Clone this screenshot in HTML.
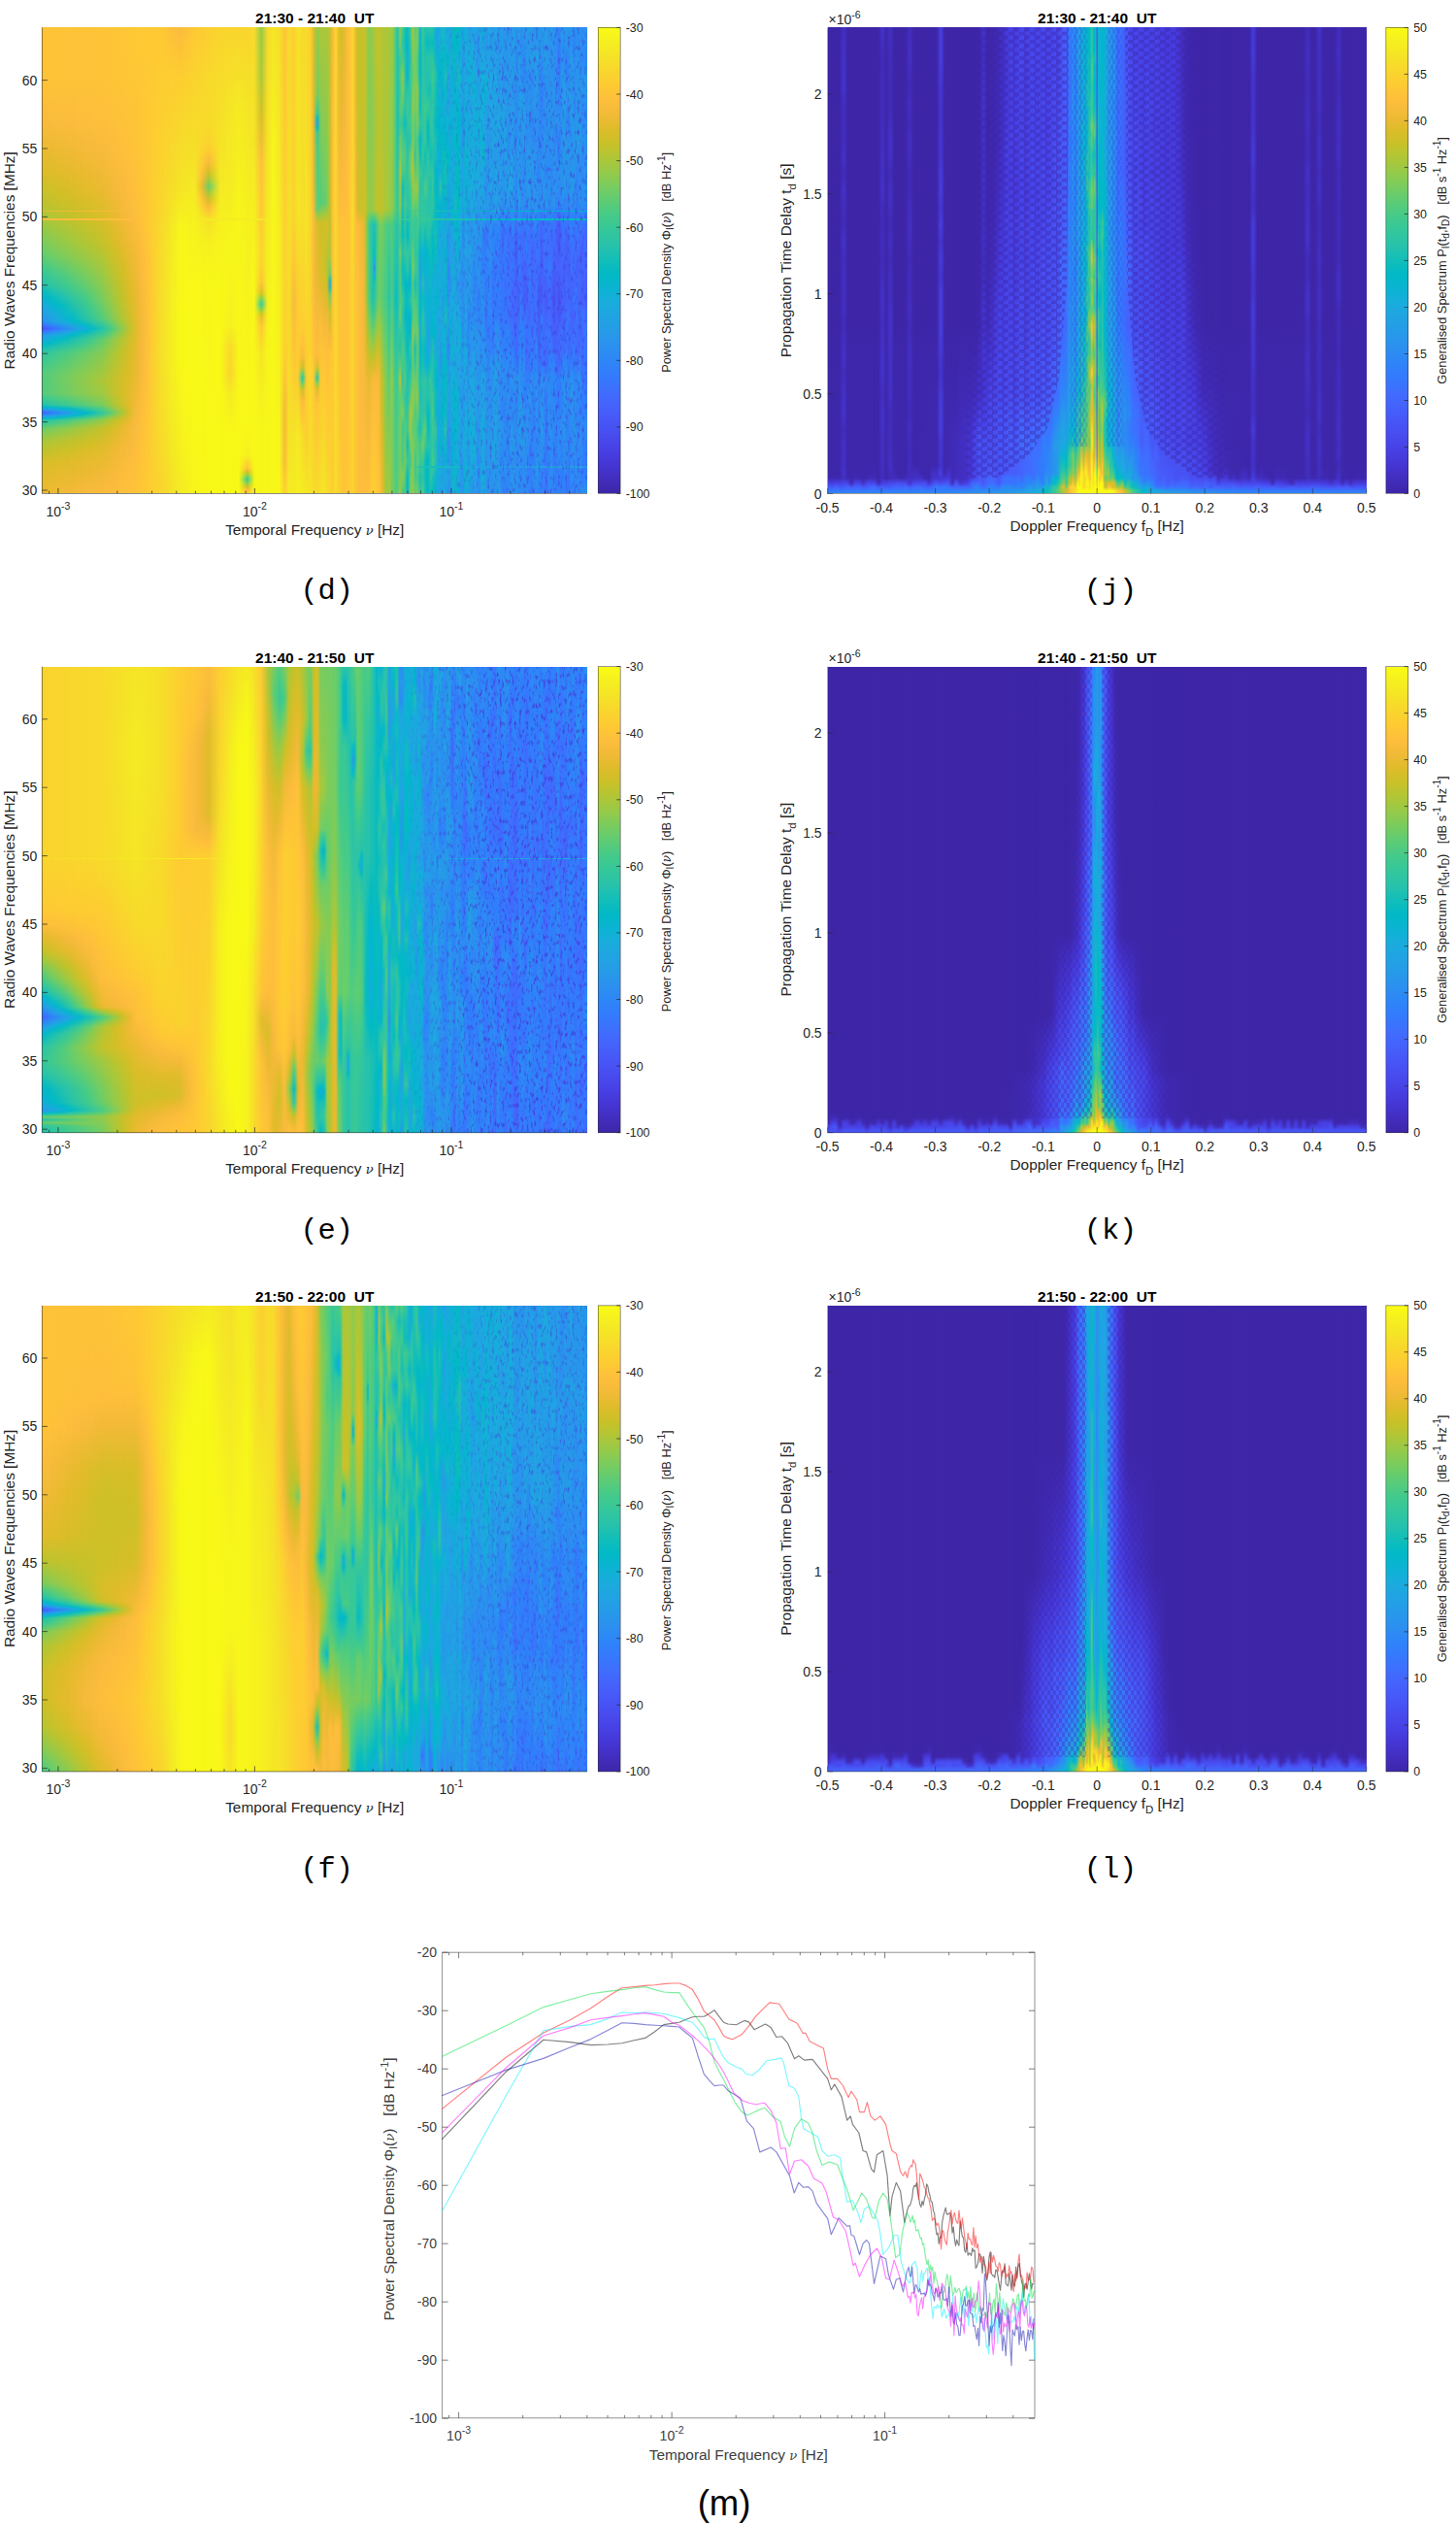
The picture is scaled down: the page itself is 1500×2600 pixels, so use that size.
<!DOCTYPE html>
<html><head><meta charset="utf-8"><title>Figure</title><style>
html,body{margin:0;padding:0;background:#fff}
#pg{position:relative;width:1500px;height:2600px;overflow:hidden;background:#fff;font-family:"Liberation Sans",sans-serif}
#pg svg.ov{position:absolute;left:0;top:0}
.hm{position:absolute;overflow:hidden}
.hm i{position:absolute;top:0;height:100%;display:block;background:linear-gradient(var(--g));-webkit-mask-image:linear-gradient(to right,transparent,#000 var(--p));mask-image:linear-gradient(to right,transparent,#000 var(--p))}
.hm b{position:absolute;display:block}
.cb{position:absolute}
svg.ov{font-family:"Liberation Sans",sans-serif}
</style></head><body>
<div id="pg">
<div class="hm" style="left:43.4px;top:28.4px;width:561.6px;height:480.1px"><i style="left:0.0px;width:8.7px;--p:0%;--g:#fec338 0%,#fec338 11.3%,#f9bb3d 20.1%,#eaba31 26%,#d8be28 31.8%,#bdc32e 37.7%,#abc739 40.6%,#92ca4b 43.5%,#78cc5f 46.5%,#5fcd73 49.4%,#3bc993 52.3%,#26c2ac 55.3%,#07bcbf 56.7%,#09b4d1 58.2%,#1caadf 59.7%,#249ee6 61.4%,#2b90ef 63.2%,#2f82fa 63.6%,#3c72ff 63.9%,#4562fc 64.3%,#4852f4 64.7%,#4464fd 65%,#3677fe 65.4%,#2d89f5 65.8%,#2699e9 66.1%,#1ea7e1 66.9%,#0cb3d3 67.7%,#07bcbf 68.5%,#22c1b0 69.2%,#32c69f 69.9%,#3eca8f 72.1%,#53cc7d 74.3%,#53cc7d 78.7%,#37c897 79.9%,#26c2ac 81.1%,#04bbc2 81.3%,#10b2d5 81.6%,#20a5e2 81.8%,#2796eb 82.1%,#2e86f7 82.3%,#3a74fe 82.5%,#4562fc 82.8%,#3a74fe 83%,#2e86f7 83.2%,#2796eb 83.4%,#20a5e2 83.7%,#10b2d5 83.9%,#04bbc2 84.1%,#26c2ac 84.3%,#35c79a 84.9%,#4bcb83 85.5%,#6bcd69 86.1%,#8ccb50 87.5%,#abc739 89%,#c3c22b 91.2%,#d8be28 93.4%,#eaba31 99.3%,#eaba31 100%"></i><i style="left:0.5px;width:15.8px;--p:48%;--g:#fec338 0%,#fec338 11.3%,#fabb3d 20.1%,#ecba32 26%,#dbbd29 31.8%,#cfc028 34.8%,#c2c22c 37.7%,#b1c635 40.6%,#9ac945 43.5%,#82cc58 46.5%,#68cd6b 49.4%,#44ca8a 52.3%,#2ec5a3 55.3%,#19bfb5 56.7%,#01b9c6 58.2%,#10b2d5 59.7%,#1ca9df 61.1%,#23a0e5 62.6%,#259be8 63.2%,#2d8af4 63.7%,#3678fe 64.2%,#4563fd 64.7%,#3975fe 65%,#2e86f7 65.4%,#2895ec 65.8%,#21a3e4 66.1%,#13b0d7 67%,#01b9c8 67.7%,#17bfb6 68.5%,#2bc3a8 69.2%,#37c897 69.9%,#5ccc76 74.3%,#5dcc75 75.8%,#5ccc76 78.7%,#3eca8f 79.9%,#2ec4a5 81.1%,#0bbdbc 81.4%,#0ab4d2 81.7%,#1ea7e1 81.9%,#2797ea 82.2%,#2e86f7 82.5%,#3a73fe 82.8%,#2e87f7 83%,#2798ea 83.3%,#1ea7e1 83.6%,#09b4d1 83.8%,#0ebdbb 84.1%,#2fc5a3 84.3%,#49cb85 85.2%,#76cc61 86.1%,#94ca4a 87.5%,#b1c635 89%,#c0c32d 90.5%,#dabd28 93.4%,#e4bb2c 96.3%,#ecba32 99.3%,#ecba32 100%"></i><i style="left:8.1px;width:15.8px;--p:48%;--g:#fec338 0%,#fec338 11.3%,#fbbc3d 20.1%,#eeba34 26%,#debc2a 31.8%,#d3bf27 34.8%,#c7c12a 37.7%,#b7c532 40.6%,#a2c83f 43.5%,#8ccb50 46.5%,#73cd63 49.4%,#4fcc81 52.3%,#35c79a 55.3%,#28c2ab 56.7%,#0fbebb 58.2%,#01b8ca 59.7%,#10b2d5 61.1%,#1caadf 62.6%,#1fa5e2 63.2%,#2797eb 63.7%,#2d87f6 64.2%,#3876fe 64.7%,#2d8af5 65.2%,#259be7 65.6%,#1aabdd 66.1%,#03b7cc 67%,#0abdbd 67.7%,#25c2ad 68.5%,#32c69f 69.2%,#3eca8f 69.9%,#65cd6e 74.3%,#68cd6c 75.8%,#64cd6e 78.7%,#47cb87 79.9%,#33c79d 81.1%,#15bfb7 81.4%,#06b5cf 81.8%,#1ea8e0 82.1%,#2797eb 82.4%,#2e84f8 82.8%,#2994ed 83%,#21a3e3 83.3%,#14b0d8 83.6%,#01bac5 83.8%,#21c1b0 84.1%,#36c899 84.3%,#56cc7b 85.2%,#82cc58 86.1%,#9dc943 87.5%,#b7c532 89%,#c6c22a 90.5%,#ddbd29 93.4%,#e6bb2d 96.3%,#eeba34 99.3%,#eeba34 100%"></i><i style="left:15.7px;width:15.8px;--p:48%;--g:#fec338 0%,#fec338 11.3%,#fbbc3d 20.1%,#f0ba36 26%,#e1bc2b 31.8%,#d7be28 34.8%,#ccc028 37.7%,#bdc32e 40.6%,#aac73a 43.5%,#95ca49 46.5%,#7ecc5b 49.4%,#5bcc77 52.3%,#3eca8f 55.3%,#31c6a0 56.7%,#23c1af 58.2%,#0abdbd 59.7%,#0db3d3 62.6%,#16afda 63.2%,#21a3e3 63.7%,#2896ec 64.2%,#2d87f6 64.7%,#2798ea 65.2%,#1fa6e1 65.6%,#0db3d3 66.1%,#06bcc0 67%,#1ec0b2 67.7%,#2ec5a3 68.5%,#48cb86 69.9%,#6fcd66 74.3%,#73cd63 75.8%,#6ecd67 78.7%,#51cc7f 79.9%,#3ac994 81.1%,#25c2ad 81.4%,#02bac3 81.8%,#13b0d7 82.1%,#21a3e3 82.4%,#2994ed 82.8%,#21a4e3 83.1%,#11b1d6 83.4%,#05bbc1 83.7%,#29c3a9 84%,#3fca8e 84.3%,#63cd70 85.2%,#8dcb4f 86.1%,#bdc32e 89%,#cbc129 90.5%,#dfbc2a 93.4%,#e8bb2f 96.3%,#f0ba36 99.3%,#f0ba36 100%"></i><i style="left:23.3px;width:15.8px;--p:48%;--g:#fec338 0%,#fec338 11.3%,#fcbc3d 20.1%,#f2ba38 26%,#e4bb2c 31.8%,#dbbd29 34.8%,#d0bf27 37.7%,#c3c22b 40.6%,#b1c635 43.5%,#9fc942 46.5%,#88cb53 49.4%,#68cd6c 52.3%,#4acb84 55.3%,#2fc5a2 58.2%,#22c1b0 59.7%,#01bac5 62.6%,#04b6cd 63.2%,#18addb 63.7%,#21a3e3 64.2%,#2797eb 64.7%,#20a4e3 65.2%,#14b0d8 65.6%,#01b9c7 66.1%,#1cc0b4 67%,#36c899 68.5%,#53cc7d 69.9%,#79cc5e 74.3%,#7ecc5a 75.8%,#78cc5f 78.7%,#5ccc76 79.9%,#43ca8b 81.1%,#2bc3a8 81.5%,#05bbc1 81.9%,#12b1d7 82.4%,#22a2e4 82.8%,#16afd9 83.1%,#01b9c8 83.4%,#1cc0b3 83.7%,#33c69d 84%,#4dcc82 84.3%,#71cd64 85.2%,#98c946 86.1%,#c3c22b 89%,#cfc028 90.5%,#e1bc2b 93.4%,#eaba31 96.3%,#f2ba38 99.3%,#f2ba38 100%"></i><i style="left:30.9px;width:15.8px;--p:48%;--g:#fec338 0%,#fec338 11.3%,#fcbd3d 20.1%,#f4ba39 26%,#e7bb2e 31.8%,#dfbc2a 34.8%,#d5be28 37.7%,#c8c129 40.6%,#b9c431 43.5%,#a8c73b 46.5%,#93ca4b 49.4%,#75cc61 52.3%,#59cc78 55.3%,#3ac994 58.2%,#30c5a1 59.7%,#18bfb6 62.6%,#08bcbf 63.2%,#0db3d4 63.9%,#1fa6e2 64.7%,#0ab4d1 65.4%,#10beba 66.1%,#2cc4a6 67%,#40ca8d 68.5%,#5fcd73 69.9%,#84cc56 74.3%,#8acb52 75.8%,#82cc58 78.7%,#67cd6d 79.9%,#4fcc81 81.1%,#33c79c 81.5%,#1cc0b3 81.9%,#01b9c8 82.4%,#16afda 82.8%,#01b9c6 83.2%,#23c1af 83.6%,#39c895 83.9%,#5dcc75 84.3%,#80cc59 85.2%,#a4c83e 86.1%,#c8c129 89%,#d4bf28 90.5%,#e4bb2c 93.4%,#ecba32 96.3%,#f4ba39 99.3%,#f4ba39 100%"></i><i style="left:38.6px;width:15.8px;--p:48%;--g:#fec338 0%,#fec338 11.3%,#fdbd3d 20.1%,#f6ba3b 26%,#eaba31 31.8%,#e3bc2c 34.8%,#d9be28 37.7%,#cec028 40.6%,#c0c32d 43.5%,#b1c635 46.5%,#9dc943 49.4%,#83cc57 52.3%,#69cd6b 55.3%,#4acb84 58.2%,#3cc991 59.7%,#2dc4a6 62.6%,#22c1b0 63.2%,#02bbc3 63.9%,#0fb2d5 64.7%,#04bbc1 65.4%,#26c2ac 66.1%,#37c898 67%,#4fcc81 68.5%,#6bcd69 69.9%,#8ecb4f 74.3%,#95ca49 75.8%,#8ccb50 78.7%,#5ccc76 81.1%,#37c897 81.7%,#20c1b1 82.2%,#01b8c8 82.8%,#1ac0b5 83.2%,#31c69f 83.6%,#49cb86 83.9%,#6ecd67 84.3%,#8fcb4e 85.2%,#aec637 86.1%,#cec028 89%,#d9be28 90.5%,#e6bb2d 93.4%,#eeba34 96.3%,#f6ba3b 99.3%,#f6ba3b 100%"></i><i style="left:46.2px;width:15.8px;--p:48%;--g:#fec338 0%,#fec338 11.3%,#febe3c 20.1%,#f8ba3d 26%,#edba33 31.8%,#e7bb2e 34.8%,#ddbd29 37.7%,#d3bf27 40.6%,#c7c12a 43.5%,#bac430 46.5%,#a7c73c 49.4%,#91ca4c 52.3%,#7acc5d 55.3%,#60cd72 58.2%,#52cc7e 59.7%,#3bc993 62.6%,#31c69f 63.2%,#20c1b1 63.9%,#04bbc2 64.7%,#21c1b0 65.4%,#33c69d 66.1%,#48cb86 67%,#5fcd73 68.5%,#78cc5f 69.9%,#98c947 74.3%,#a0c841 75.8%,#95ca49 78.7%,#69cd6b 81.1%,#46cb88 81.7%,#31c6a0 82.2%,#1bc0b4 82.8%,#34c79c 83.3%,#53cc7d 83.8%,#80cc59 84.3%,#9dc943 85.2%,#b9c431 86.1%,#d3bf27 89%,#ddbd29 90.5%,#e8bb2f 93.4%,#f0ba36 96.3%,#f8ba3d 99.3%,#f8ba3d 100%"></i><i style="left:53.8px;width:15.4px;--p:50%;--g:#fec338 0%,#fec338 11.3%,#febe3c 20.1%,#f9bb3d 26%,#eaba31 34.8%,#d8be28 40.6%,#c3c22b 46.5%,#9fc942 52.3%,#78cc5f 58.2%,#53cc7d 62.6%,#37c897 63.6%,#26c2ac 64.7%,#3bc993 65.8%,#5fcd73 67%,#85cb55 69.9%,#abc739 75.8%,#9fc942 78.7%,#78cc5f 81.1%,#4dcc82 81.9%,#32c69f 82.8%,#48cb86 83.3%,#6bcd69 83.8%,#92ca4b 84.3%,#abc739 85.2%,#c3c22b 86.1%,#e1bc2b 90.5%,#f2ba38 96.3%,#f9bb3d 99.3%,#f9bb3d 100%"></i><i style="left:61.4px;width:14.9px;--p:48%;--g:#fec437 0%,#fec438 11.3%,#febf3b 20.1%,#fbbc3d 26%,#f0ba36 34.8%,#e1bc2b 40.6%,#cfc028 46.5%,#c1c32d 49.4%,#b2c635 52.3%,#92ca4c 58.2%,#70cd65 62.6%,#48cb86 64.1%,#3bc992 64.7%,#58cc79 65.8%,#7bcc5d 67%,#9bc944 69.9%,#bac430 75.8%,#b2c635 78.7%,#95ca49 81.1%,#71cd64 81.9%,#50cc80 82.8%,#7ccc5c 83.6%,#abc739 84.3%,#b2c635 84.6%,#d0bf27 86.1%,#e8bb2f 90.5%,#f6ba3b 96.3%,#fbbc3d 99.3%,#fbbc3d 100%"></i><i style="left:68.6px;width:14.9px;--p:48%;--g:#fec537 0%,#fec537 11.3%,#fec13a 20.1%,#fdbd3d 26%,#f5ba3a 34.8%,#eaba31 40.6%,#dabd28 46.5%,#cfc028 49.4%,#c3c22b 52.3%,#aac739 58.2%,#91ca4d 62.6%,#6ecd67 64.1%,#61cd71 64.7%,#7ccc5c 65.8%,#98c946 67%,#b0c636 69.9%,#c7c12a 75.8%,#c4c22b 78.7%,#b1c635 81.1%,#98c947 81.9%,#7dcc5b 82.8%,#a1c840 83.6%,#c2c22b 84.3%,#c7c12a 84.6%,#dcbd29 86.1%,#eeba34 90.5%,#f9bb3d 96.3%,#fdbd3d 99.3%,#fdbd3d 100%"></i><i style="left:75.7px;width:14.9px;--p:48%;--g:#fec736 0%,#fec537 11.3%,#fec239 20.1%,#febf3b 26%,#f9bb3d 34.8%,#f2ba38 40.6%,#e5bb2d 46.5%,#dcbd29 49.4%,#d3bf27 52.3%,#c1c32c 58.2%,#afc636 62.6%,#98c947 64.1%,#90ca4d 64.7%,#b4c533 67%,#c4c22b 69.9%,#d4bf28 75.8%,#d4bf28 78.7%,#cbc129 81.1%,#adc638 82.8%,#d7be28 84.3%,#dabd28 84.6%,#e8bb2e 86.1%,#f4ba3a 90.5%,#fcbd3d 96.3%,#febf3b 99.3%,#febf3b 100%"></i><i style="left:82.8px;width:14.9px;--p:48%;--g:#fec835 0%,#fec636 11.3%,#fec338 20.1%,#fec13a 26%,#fdbd3d 34.8%,#f9bb3d 40.6%,#eeba35 46.5%,#e8bb2e 49.4%,#e2bc2b 52.3%,#d6be28 58.2%,#cbc129 62.6%,#c0c32d 64.1%,#bcc42f 64.7%,#cec028 67%,#d6be28 69.9%,#dfbc2a 75.8%,#e3bc2c 78.7%,#e1bc2b 81.1%,#d6be28 82.8%,#eabb30 84.3%,#ebba32 84.6%,#f2ba38 86.1%,#f9bb3d 90.5%,#febf3c 96.3%,#fec13a 99.3%,#fec13a 100%"></i><i style="left:90.0px;width:14.1px;--p:51%;--g:#fec934 0%,#fec636 13%,#fec338 26%,#fec13a 33.3%,#febe3c 40.6%,#f2ba38 49.4%,#eaba31 56.7%,#e1bc2b 64.1%,#eaba31 75.8%,#f9bb3d 84.6%,#febe3c 91.9%,#fec338 99.3%,#fec338 100%"></i><i style="left:97.1px;width:13.3px;--p:48%;--g:#fec934 0%,#fec835 8.6%,#fec735 17.2%,#fec736 26%,#fec537 34.8%,#fec438 40.6%,#febf3b 46.5%,#fdbd3d 49.4%,#fabb3d 56.7%,#f5ba3b 64.1%,#f9ba3d 69.9%,#fabb3d 75.8%,#fec13a 84.6%,#fec438 90.5%,#fec735 99.3%,#fec735 100%"></i><i style="left:103.4px;width:13.3px;--p:48%;--g:#fec934 0%,#fec934 8.6%,#feca34 17.2%,#feca33 26%,#feca33 40.6%,#fec835 46.5%,#fec636 49.4%,#fec437 56.7%,#fec339 64.1%,#fec537 69.9%,#fec537 75.8%,#fec934 84.6%,#fdcb33 90.5%,#fdcb32 99.3%,#fdcb32 100%"></i><i style="left:109.7px;width:13.3px;--p:48%;--g:#fec934 0%,#feca33 8.6%,#fdcc32 17.2%,#fdce31 26%,#fccf30 34.8%,#fcd030 40.6%,#fcd130 46.5%,#fcd030 49.4%,#fcd030 64.1%,#fbd22f 69.9%,#fbd12f 75.8%,#fbd22f 84.6%,#fbd22f 90.5%,#fcd030 99.3%,#fcd030 100%"></i><i style="left:116.1px;width:13.5px;--p:47%;--g:#fec934 0%,#fdcb32 8.6%,#fdce31 17.2%,#fcd12f 26%,#fad42e 34.8%,#f8da2b 46.5%,#f7dd2a 58.2%,#f6df29 69.9%,#f7dd2a 80.2%,#f8da2b 90.5%,#fad42e 99.3%,#fad42e 100%"></i><i style="left:122.4px;width:13.7px;--p:48%;--g:#fec338 0%,#fec835 5.4%,#fdcd32 11.3%,#fcd030 17.2%,#fbd32e 23%,#f8da2b 34.8%,#f5e227 43.5%,#f5e327 46.5%,#f5e626 58.2%,#f5e825 69.9%,#f5e526 80.2%,#f5e128 90.5%,#f7dc2a 99.3%,#f7dc2a 100%"></i><i style="left:128.9px;width:13.7px;--p:48%;--g:#febe3c 0%,#fec636 5.4%,#fdce31 11.3%,#fbd22f 17.2%,#f9d62d 23%,#f6df29 34.8%,#f5ec22 43.5%,#f5ed22 46.5%,#f5ef21 58.2%,#f6f01f 69.9%,#f5ed22 80.2%,#f5e924 90.5%,#f5e327 99.3%,#f5e327 100%"></i><i style="left:135.5px;width:15.2px;--p:43%;--g:#f9bb3d 0%,#fec338 5.4%,#fdce31 11.3%,#f8da2b 23%,#f5e526 34.8%,#f7f61a 43.5%,#f8f719 56.7%,#f8f817 69.9%,#f7f41c 80.2%,#f6f01f 90.5%,#f5eb23 99.3%,#f5eb23 100%"></i><i style="left:142.0px;width:16.6px;--p:48%;--g:#fec13a 0%,#fec934 5.4%,#fcd12f 11.3%,#f7db2a 23%,#f6de29 26%,#f5e725 34.8%,#f6f01f 40.6%,#f7f41c 43.5%,#f8f718 55.3%,#f8f818 62.6%,#f8f817 69.9%,#f8f719 77.3%,#f7f51b 84.6%,#f7f41c 90.5%,#f6f01f 99.3%,#f6f01f 100%"></i><i style="left:150.0px;width:15.4px;--p:52%;--g:#fec934 0%,#fad42e 11.3%,#f8da2b 18.6%,#f6df29 26%,#f5e825 33.3%,#f6f01f 40.6%,#f7f41c 47.9%,#f8f817 55.3%,#f8f817 84.6%,#f8f719 91.9%,#f7f61a 99.3%,#f7f61a 100%"></i><i style="left:158.0px;width:14.2px;--p:48%;--g:#fdcb32 0%,#f9d72d 11.3%,#f7db2b 21.6%,#f9d72d 26%,#fdcd31 28.9%,#febf3c 31.8%,#e9bb2f 34.2%,#fec13a 36.5%,#fad62d 38.9%,#f5e427 40.6%,#f5e825 41.2%,#f6f21e 46.5%,#f7f61a 52.3%,#f8f719 55.3%,#f8f719 65.1%,#f8f818 74.8%,#f8f818 84.6%,#f8f718 91.9%,#f8f719 99.3%,#f8f719 100%"></i><i style="left:164.8px;width:19.1px;--p:35%;--g:#fdce31 0%,#f8da2b 11.3%,#f8da2b 21.6%,#fdce31 26%,#fec338 27.4%,#f9bb3d 28.9%,#e1bc2b 30.4%,#c3c22b 31.8%,#98c946 33%,#6bcd69 34.2%,#98c946 35.3%,#c3c22b 36.5%,#e6bb2d 37.7%,#febe3c 38.9%,#fdce31 40%,#f6df29 41.2%,#f6f01f 46.5%,#f7f61a 52.3%,#f8f61a 64.1%,#f8f719 75.8%,#f8f818 87.5%,#f8f817 99.3%,#f8f817 100%"></i><i style="left:171.6px;width:22.7px;--p:52%;--g:#fad42e 0%,#f8da2b 8.6%,#f6df29 17.2%,#f5e526 28.9%,#f6f01f 40.6%,#f7f41c 47.9%,#f8f817 55.3%,#f8f817 100%"></i><i style="left:183.3px;width:20.2px;--p:51%;--g:#fad42e 0%,#f7dd2a 8.6%,#f5e526 17.2%,#f5e825 26%,#f5eb23 34.8%,#f7f61a 46.5%,#f7f31d 55.3%,#f6f01f 64.1%,#f5e526 66.3%,#f8da2b 68.5%,#fad42e 74.3%,#f6df29 76.5%,#f5eb23 78.7%,#f8f817 87.5%,#f8f817 100%"></i><i style="left:193.7px;width:18.2px;--p:51%;--g:#fad42e 0%,#f6df29 8.6%,#f5eb23 17.2%,#f6f01f 28.9%,#f7f61a 40.6%,#f7f61a 52.3%,#f8f719 64.1%,#f8f719 75.8%,#f8f818 87.5%,#f8f817 99.3%,#f8f817 100%"></i><i style="left:203.0px;width:16.6px;--p:50%;--g:#fad42e 0%,#f7dd2a 8.6%,#f5e526 17.2%,#f5eb23 28.9%,#f6f01f 40.6%,#f6f21e 51.6%,#f7f41c 62.6%,#f8f61a 73.6%,#f8f817 84.6%,#f6f01f 91.9%,#f5e128 92.8%,#fbd22f 93.7%,#fec338 94.6%,#ecba32 95.1%,#c7c12a 95.6%,#9ac945 96.1%,#68cd6b 96.5%,#3eca8f 97%,#63cd6f 97.5%,#8fca4d 97.9%,#bac430 98.4%,#debd29 98.8%,#f9bb3d 99.3%,#fec338 100%"></i><i style="left:211.3px;width:15.3px;--p:50%;--g:#f8da2b 0%,#f6df29 13%,#f5e526 26%,#f5eb23 33.3%,#f6f01f 40.6%,#f7f31d 47.9%,#f7f61a 55.3%,#f8f61a 66.3%,#f8f719 77.3%,#f8f818 88.3%,#f8f817 99.3%,#f8f817 100%"></i><i style="left:219.0px;width:14.2px;--p:50%;--g:#92ca4b 0%,#abc739 11.3%,#c3c22b 15.7%,#d8be28 20.1%,#eeba34 24.5%,#febe3c 28.9%,#fec934 40.6%,#fad42e 49.4%,#fec338 54.7%,#f2ba38 55.9%,#d8be28 57%,#aec637 57.6%,#7ecc5a 58.2%,#50cc7f 58.8%,#32c69f 59.4%,#50cc7f 60%,#7ecc5a 60.6%,#aec637 61.1%,#d8be28 61.7%,#f2ba38 62.9%,#fec338 64.1%,#fad42e 67%,#f5e526 69.9%,#f5ed21 77.3%,#f7f61a 84.6%,#f7f61a 100%"></i><i style="left:226.0px;width:13.2px;--p:49%;--g:#f8da2b 0%,#f6df29 13.5%,#f5e526 27.1%,#f5eb23 40.6%,#f5ee21 50.4%,#f6f21e 60.2%,#f7f61a 69.9%,#f7f61a 100%"></i><i style="left:232.6px;width:12.3px;--p:49%;--g:#f5e526 0%,#f5ed21 13%,#f7f61a 26%,#f7f61a 38.2%,#f8f619 50.4%,#f8f719 62.6%,#f8f718 74.8%,#f8f818 87.1%,#f8f817 99.3%,#f8f817 100%"></i><i style="left:238.6px;width:11.6px;--p:49%;--g:#f6df29 0%,#f5e327 13.5%,#f5e725 27.1%,#f5eb23 40.6%,#f5ed22 50.4%,#f5ee21 60.2%,#f6f01f 69.9%,#f6f21e 79.7%,#f7f41c 89.5%,#f7f61a 99.3%,#f7f61a 100%"></i><i style="left:244.3px;width:11.0px;--p:49%;--g:#fec338 0%,#fec735 13.5%,#fdcb33 27.1%,#fdce31 40.6%,#fcd12f 47.9%,#fad42e 55.3%,#fcd12f 62.6%,#fdce31 69.9%,#fec13a 75.8%,#f2ba38 81.7%,#f9bb3d 93.4%,#fec338 96.3%,#fdce31 99.3%,#fdce31 100%"></i><i style="left:249.6px;width:10.4px;--p:48%;--g:#f8da2b 0%,#f7dc2a 13.5%,#f6de29 27.1%,#f6df29 40.6%,#f6de29 50.4%,#f7dc2a 60.2%,#f8da2b 69.9%,#f6df29 79.7%,#f5e526 89.5%,#f5eb23 99.3%,#f5eb23 100%"></i><i style="left:254.7px;width:9.9px;--p:48%;--g:#fdce31 0%,#fcd030 13.5%,#fbd22f 27.1%,#fad42e 40.6%,#fec636 49.4%,#f9bb3d 58.2%,#fec338 69.9%,#fcd12f 77.3%,#f6df29 84.6%,#f5e526 91.9%,#f5eb23 99.3%,#f5eb23 100%"></i><i style="left:259.4px;width:9.4px;--p:48%;--g:#f5e526 0%,#f5e526 40.6%,#f8da2b 49.4%,#fdce31 58.2%,#fdce31 75.8%,#f7dd2a 81.7%,#f5eb23 87.5%,#f6f01f 99.3%,#f6f01f 100%"></i><i style="left:263.9px;width:9.0px;--p:48%;--g:#f8da2b 0%,#f7dc2a 13.5%,#f6de29 27.1%,#f6df29 40.6%,#f9d72d 52.3%,#fdce31 64.1%,#fec338 67.3%,#f9bb3d 70.5%,#e6bb2d 71.7%,#cec028 72.9%,#a5c83d 73.5%,#78cc5f 74.1%,#4dcc82 74.7%,#32c69f 75.4%,#4dcc82 76%,#78cc5f 76.6%,#a5c83d 77.2%,#cec028 77.9%,#e6bb2d 79%,#f9bb3d 80.2%,#fec934 83.9%,#f8da2b 87.5%,#f5eb23 99.3%,#f5eb23 100%"></i><i style="left:268.2px;width:8.6px;--p:48%;--g:#f8da2b 0%,#f6de29 13.5%,#f5e128 27.1%,#f5e526 40.6%,#f6de29 50.4%,#fad62d 60.2%,#fdce31 69.9%,#fdce31 87.5%,#f8da2b 93.4%,#f5e526 99.3%,#f5e526 100%"></i><i style="left:272.3px;width:8.3px;--p:47%;--g:#fdce31 0%,#fcd030 13.5%,#fbd22f 27.1%,#fad42e 40.6%,#fad42e 69.9%,#f8da2b 79.7%,#f6df29 89.5%,#f5e526 99.3%,#f5e526 100%"></i><i style="left:276.2px;width:7.9px;--p:47%;--g:#d8be28 0%,#debc2a 11.6%,#e4bb2c 23.2%,#eaba31 34.8%,#f9bb3d 40.6%,#f9bb3d 55.3%,#febe3c 62.6%,#fec338 69.9%,#fdcb33 79.7%,#fbd22f 89.5%,#f8da2b 99.3%,#f8da2b 100%"></i><i style="left:280.0px;width:7.6px;--p:47%;--g:#92ca4b 0%,#78cc5f 14.2%,#53cc7d 16.3%,#37c897 18.3%,#22c1b0 18.9%,#01bac5 19.4%,#15afd8 20%,#22a2e4 20.5%,#15afd8 21.1%,#01bac5 21.6%,#22c1b0 22.2%,#37c897 22.7%,#48cb86 26%,#5fcd73 39.2%,#89cb52 40.1%,#b3c534 41.1%,#d8be28 42.1%,#eaba31 55.3%,#f6ba3b 62.6%,#febe3c 69.9%,#eeba34 71.4%,#d8be28 72.9%,#b5c533 73.3%,#8dcb4f 73.8%,#63cd6f 74.3%,#40ca8d 74.8%,#2dc4a6 75.2%,#40ca8d 75.7%,#63cd6f 76.2%,#8dcb4f 76.6%,#b5c533 77.1%,#d8be28 77.6%,#f2ba38 79.2%,#fec338 80.8%,#fdce31 90%,#f8da2b 99.3%,#f8da2b 100%"></i><i style="left:283.5px;width:7.4px;--p:47%;--g:#abc739 0%,#92ca4b 11.5%,#78cc5f 23%,#64cd6e 30.4%,#53cc7d 37.7%,#7ccc5c 39.2%,#a7c73c 40.6%,#cec028 42.1%,#d8be28 52.3%,#eeba34 58.2%,#febe3c 64.1%,#fec934 75.8%,#fad42e 87.5%,#f6df29 99.3%,#f6df29 100%"></i><i style="left:287.0px;width:7.1px;--p:47%;--g:#abc739 0%,#98c946 11.5%,#85cb55 23%,#71cd64 30.4%,#5fcd73 37.7%,#85cb55 39.2%,#abc739 40.6%,#cec028 42.1%,#d8be28 55.3%,#f2ba38 62.6%,#fec338 69.9%,#fdce31 79.7%,#f8da2b 89.5%,#f5e526 99.3%,#f5e526 100%"></i><i style="left:290.3px;width:6.9px;--p:46%;--g:#abc739 0%,#9bc945 12.6%,#89cb52 25.1%,#78cc5f 37.7%,#9bc945 39.2%,#bbc42f 40.6%,#d8be28 42.1%,#c3c22b 46.5%,#abc739 50.9%,#cac129 55.3%,#e4bb2c 59.7%,#f9bb3d 64.1%,#fec338 75.8%,#fdce31 87.5%,#f8da2b 99.3%,#f8da2b 100%"></i><i style="left:293.5px;width:6.7px;--p:46%;--g:#c3c22b 0%,#c3c22b 37.7%,#abc739 49.4%,#85cb55 51.2%,#5fcd73 52.9%,#3ac994 53.4%,#25c2ae 53.8%,#02bac4 54.3%,#14b0d8 54.7%,#22a2e4 55.2%,#14b0d8 55.6%,#02bac4 56%,#25c2ae 56.5%,#3ac994 56.9%,#5fcd73 57.3%,#81cc59 58.6%,#a3c83f 59.9%,#c3c22b 61.1%,#debc2a 64.1%,#f5ba3a 67%,#fec338 69.9%,#fec934 79.7%,#fdce31 89.5%,#fad42e 99.3%,#fad42e 100%"></i><i style="left:296.6px;width:6.5px;--p:46%;--g:#f9bb3d 0%,#fcbc3d 10%,#febe3c 20.1%,#fec13a 29.6%,#fec338 39.2%,#fec338 58.2%,#fec636 67%,#fec934 75.8%,#fdcb32 87.5%,#fdce31 99.3%,#fdce31 100%"></i><i style="left:299.6px;width:6.3px;--p:46%;--g:#f8da2b 0%,#f8da2b 75.8%,#f7dd2a 87.5%,#f6df29 99.3%,#f6df29 100%"></i><i style="left:302.5px;width:6.1px;--p:46%;--g:#eaba31 0%,#eeba34 10%,#f2ba38 20.1%,#f9bb3d 29.6%,#febe3c 39.2%,#fec338 42.4%,#fec338 58.2%,#fec636 67%,#fec934 75.8%,#fdcb32 87.5%,#fdce31 99.3%,#fdce31 100%"></i><i style="left:305.3px;width:5.9px;--p:46%;--g:#cec028 0%,#ddbd29 10%,#eaba31 20.1%,#f6ba3b 29.6%,#febe3c 39.2%,#fec338 42.4%,#fec338 75.8%,#fec636 87.5%,#fec934 99.3%,#fec934 100%"></i><i style="left:308.0px;width:5.8px;--p:45%;--g:#d8be28 0%,#e6bb2d 10%,#f2ba38 20.1%,#f9bb3d 29.6%,#febe3c 39.2%,#fec338 42.4%,#fec338 100%"></i><i style="left:310.6px;width:5.6px;--p:45%;--g:#f2ba38 0%,#f6ba3b 10%,#f9bb3d 20.1%,#fcbc3d 29.6%,#febe3c 39.2%,#fec338 42.4%,#fec338 100%"></i><i style="left:313.1px;width:5.5px;--p:45%;--g:#febe3c 0%,#febe3c 20.1%,#fec13a 29.6%,#fec338 39.2%,#fec338 75.8%,#fec636 87.5%,#fec934 99.3%,#fec934 100%"></i><i style="left:315.6px;width:5.4px;--p:45%;--g:#fec934 0%,#fec934 20.1%,#fdcb32 29.6%,#fdce31 39.2%,#fdce31 100%"></i><i style="left:318.0px;width:5.2px;--p:45%;--g:#fad42e 0%,#fad42e 20.1%,#f9d72d 29.6%,#f8da2b 39.2%,#f8da2b 42.4%,#f9d72d 50.3%,#fad42e 58.2%,#fad42e 100%"></i><i style="left:320.4px;width:5.1px;--p:45%;--g:#eaba31 0%,#eeba34 10%,#f2ba38 20.1%,#f6ba3b 29.6%,#f9bb3d 39.2%,#febe3c 42.4%,#fec13a 50.3%,#fec338 58.2%,#fec338 100%"></i><i style="left:322.7px;width:5.0px;--p:45%;--g:#cec028 0%,#cec028 20.1%,#d3bf27 29.6%,#d8be28 39.2%,#eeba34 40.8%,#febe3c 42.4%,#fec13a 50.3%,#fec338 58.2%,#fec338 100%"></i><i style="left:324.9px;width:4.9px;--p:44%;--g:#c3c22b 0%,#c3c22b 20.1%,#c8c129 29.6%,#cec028 39.2%,#e6bb2d 40.8%,#f9bb3d 42.4%,#fcbc3d 50.3%,#febe3c 58.2%,#febe3c 100%"></i><i style="left:327.1px;width:4.8px;--p:44%;--g:#c3c22b 0%,#c3c22b 20.1%,#c8c129 29.6%,#cec028 39.2%,#e1bc2b 40.8%,#f2ba38 42.4%,#f6ba3b 50.3%,#f9bb3d 58.2%,#f9bb3d 75.8%,#fcbc3d 87.5%,#febe3c 99.3%,#febe3c 100%"></i><i style="left:329.2px;width:4.7px;--p:44%;--g:#cec028 0%,#cec028 39.2%,#eaba31 42.4%,#eeba34 50.3%,#f2ba38 58.2%,#f6ba3b 67%,#f9bb3d 75.8%,#fcbc3d 87.5%,#febe3c 99.3%,#febe3c 100%"></i><i style="left:331.2px;width:4.6px;--p:44%;--g:#b7c532 0%,#b7c532 20.1%,#bdc32e 29.6%,#c3c22b 39.2%,#abc739 42.4%,#b7c532 50.3%,#c3c22b 58.2%,#ddbd29 67%,#f2ba38 75.8%,#f9bb3d 87.5%,#febe3c 99.3%,#febe3c 100%"></i><i style="left:333.3px;width:4.5px;--p:44%;--g:#92ca4b 0%,#92ca4b 20.1%,#98c946 29.6%,#9fc942 39.2%,#7ecc5a 40.8%,#5fcd73 42.4%,#64cd6e 50.3%,#6bcd69 58.2%,#9bc945 64.1%,#c7c12a 69.9%,#eaba31 75.8%,#f6ba3b 87.5%,#febe3c 99.3%,#febe3c 100%"></i><i style="left:335.2px;width:4.4px;--p:44%;--g:#85cb55 0%,#85cb55 20.1%,#8ccb50 29.6%,#92ca4b 39.2%,#6fcd66 40.2%,#4fcc80 41.3%,#37c897 42.4%,#3eca8f 50.3%,#48cb86 58.2%,#71cd64 62.6%,#9fc942 67%,#c8c129 71.4%,#eaba31 75.8%,#f9bb3d 87.5%,#fec338 99.3%,#fec338 100%"></i><i style="left:337.2px;width:4.3px;--p:44%;--g:#92ca4b 0%,#8ccb50 10%,#85cb55 20.1%,#8ccb50 29.6%,#92ca4b 39.2%,#66cd6d 40.2%,#41ca8c 41.3%,#2dc4a6 42.4%,#32c69f 50.3%,#37c897 58.2%,#58cc79 61.7%,#82cc57 65.3%,#aec637 68.8%,#d4bf28 72.3%,#f2ba38 75.8%,#febe3c 87.5%,#fec934 99.3%,#fec934 100%"></i><i style="left:339.1px;width:4.3px;--p:43%;--g:#9fc942 0%,#98c946 10%,#92ca4b 20.1%,#98c946 29.6%,#9fc942 39.2%,#78cc5f 40%,#53cc7d 40.8%,#37c897 41.6%,#26c2ac 42.4%,#22c1b0 50.3%,#1dc0b3 58.2%,#35c79a 61.1%,#57cc7a 64.1%,#85cb55 67%,#b3c534 69.9%,#dbbd29 72.9%,#f9bb3d 75.8%,#fec338 87.5%,#fdce31 99.3%,#fdce31 100%"></i><i style="left:340.9px;width:4.2px;--p:43%;--g:#abc739 0%,#a5c83d 10%,#9fc942 20.1%,#a5c83d 29.6%,#abc739 39.2%,#7ecc5a 40%,#53cc7d 40.8%,#35c79b 41.6%,#1dc0b3 42.4%,#07bcbf 48.8%,#0db3d3 49.6%,#1fa6e2 50.3%,#2797eb 51%,#2e87f7 51.8%,#2896eb 52.3%,#21a4e3 52.9%,#14b0d8 53.5%,#01b9c6 54.1%,#1dc0b3 54.7%,#2dc4a6 58.2%,#41ca8c 61.1%,#66cd6d 64.1%,#92ca4b 67%,#bbc42f 69.9%,#debc2a 72.9%,#f9bb3d 75.8%,#fec338 87.5%,#fdce31 99.3%,#fdce31 100%"></i><i style="left:342.7px;width:4.1px;--p:43%;--g:#b7c532 0%,#b1c635 10%,#abc739 20.1%,#b1c635 29.6%,#b7c532 39.2%,#89cb52 40.2%,#5bcc77 41.3%,#37c897 42.4%,#3eca8f 50.3%,#48cb86 58.2%,#6dcd67 61.7%,#97ca47 65.3%,#bec32e 68.8%,#dfbc2a 72.3%,#f9bb3d 75.8%,#fec13a 87.5%,#fec934 99.3%,#fec934 100%"></i><i style="left:344.5px;width:4.0px;--p:43%;--g:#c3c22b 0%,#bdc32e 10%,#b7c532 20.1%,#bdc32e 29.6%,#c3c22b 39.2%,#a3c83f 40.2%,#81cc59 41.3%,#5fcd73 42.4%,#64cd6e 50.3%,#6bcd69 58.2%,#95ca49 62.6%,#bdc32e 67%,#dfbc2a 71.4%,#f9bb3d 75.8%,#febe3c 87.5%,#fec338 99.3%,#fec338 100%"></i><i style="left:346.2px;width:4.0px;--p:43%;--g:#c3c22b 0%,#c3c22b 39.2%,#9fc942 40.8%,#78cc5f 42.4%,#78cc5f 58.2%,#a3c83f 64.1%,#cac129 69.9%,#eaba31 75.8%,#f6ba3b 87.5%,#febe3c 99.3%,#febe3c 100%"></i><i style="left:348.0px;width:3.9px;--p:43%;--g:#b7c532 0%,#b7c532 20.1%,#bdc32e 29.6%,#c3c22b 39.2%,#9fc942 40.8%,#78cc5f 42.4%,#6bcd69 50.3%,#5fcd73 58.2%,#85cb55 64.1%,#abc739 69.9%,#cec028 75.8%,#e1bc2b 87.5%,#f2ba38 99.3%,#f2ba38 100%"></i><i style="left:349.6px;width:3.9px;--p:43%;--g:#abc739 0%,#abc739 20.1%,#b1c635 29.6%,#b7c532 39.2%,#92ca4b 40.8%,#6bcd69 42.4%,#5fcd73 50.3%,#53cc7d 58.2%,#7ecc5a 67%,#abc739 75.8%,#c3c22b 87.5%,#d8be28 99.3%,#d8be28 100%"></i><i style="left:351.3px;width:3.8px;--p:42%;--g:#abc739 0%,#abc739 39.2%,#85cb55 40.8%,#5fcd73 42.4%,#53cc7d 50.3%,#48cb86 58.2%,#6bcd69 67%,#92ca4b 75.8%,#a5c83d 87.5%,#b7c532 99.3%,#b7c532 100%"></i><i style="left:352.9px;width:3.7px;--p:42%;--g:#abc739 0%,#abc739 39.2%,#7ecc5a 40.8%,#53cc7d 42.4%,#4dcc82 50.3%,#48cb86 58.2%,#64cd6e 67%,#85cb55 75.8%,#92ca4b 87.5%,#9fc942 99.3%,#9fc942 100%"></i><i style="left:354.5px;width:3.7px;--p:42%;--g:#b7c532 0%,#b1c635 10%,#abc739 20.1%,#abc739 39.2%,#7ecc5a 40.8%,#53cc7d 42.4%,#43ca8b 50.3%,#37c897 58.2%,#4dcc82 67%,#6bcd69 75.8%,#7ecc5a 87.5%,#92ca4b 99.3%,#92ca4b 100%"></i><i style="left:356.0px;width:3.6px;--p:42%;--g:#abc739 0%,#a5c83d 10%,#9fc942 20.1%,#9fc942 39.2%,#71cd64 40.8%,#48cb86 42.4%,#37c897 50.3%,#2dc4a6 58.2%,#3eca8f 67%,#5fcd73 75.8%,#85cb55 87.5%,#abc739 99.3%,#abc739 100%"></i><i style="left:357.6px;width:3.6px;--p:42%;--g:#92ca4b 0%,#92ca4b 39.2%,#6bcd69 40.8%,#48cb86 42.4%,#3eca8f 50.3%,#37c897 58.2%,#53cc7d 67%,#78cc5f 75.8%,#85cb55 87.5%,#92ca4b 99.3%,#92ca4b 100%"></i><i style="left:359.1px;width:3.5px;--p:42%;--g:#abc739 0%,#a5c83d 10%,#9fc942 20.1%,#98c946 29.6%,#92ca4b 39.2%,#71cd64 40.8%,#53cc7d 42.4%,#4dcc82 50.3%,#48cb86 58.2%,#6bcd69 67%,#92ca4b 75.8%,#85cb55 87.5%,#78cc5f 99.3%,#78cc5f 100%"></i><i style="left:360.5px;width:3.5px;--p:42%;--g:#85cb55 0%,#7ecc5a 10%,#78cc5f 20.1%,#78cc5f 39.2%,#5fcd73 40.8%,#48cb86 42.4%,#3eca8f 50.3%,#37c897 58.2%,#4dcc82 67%,#6bcd69 75.8%,#6bcd69 100%"></i><i style="left:362.0px;width:3.4px;--p:42%;--g:#5fcd73 0%,#5fcd73 39.2%,#48cb86 40.8%,#37c897 42.4%,#2dc4a6 50.3%,#1dc0b3 58.2%,#32c69f 67%,#48cb86 75.8%,#53cc7d 87.5%,#5fcd73 99.3%,#5fcd73 100%"></i><i style="left:363.4px;width:3.4px;--p:41%;--g:#37c897 0%,#37c897 20.1%,#3eca8f 29.6%,#48cb86 39.2%,#37c897 40.8%,#2dc4a6 42.4%,#1dc0b3 50.3%,#07bcbf 58.2%,#26c2ac 67%,#37c897 75.8%,#3eca8f 87.5%,#48cb86 99.3%,#48cb86 100%"></i><i style="left:364.8px;width:4.6px;--p:30%;--g:#2dc4a6 0%,#26c2ac 10%,#1dc0b3 20.1%,#2dc4a6 29.6%,#37c897 39.2%,#2dc4a6 42.4%,#26c2ac 50.3%,#1dc0b3 58.2%,#32c69f 67%,#48cb86 75.8%,#53cc7d 87.5%,#5fcd73 99.3%,#5fcd73 100%"></i><i style="left:366.2px;width:5.8px;--p:45%;--g:#87cb54,#7ccc5c,#3cc991,#4dcc82,#3ac993,#5dcc75,#3cc991,#74cc62,#81cc59,#c5c22a,#acc738,#a5c83d,#67cd6d,#3fca8e,#79cc5e,#5dcc74,#5dcc74,#54cc7c,#71cd64,#33c79d,#26c2ac,#62cd70,#d8be28,#66cd6d,#64cd6f,#8bcb51,#7ecc5b,#80cc59,#7ccc5c,#b1c636"></i><i style="left:368.8px;width:5.8px;--p:45%;--g:#4ccb83,#2ec5a4,#4acb84,#89cb52,#7acc5e,#4fcc80,#2ec4a4,#43ca8a,#53cc7e,#42ca8b,#0abdbd,#1bc0b4,#09bcbe,#06bcc0,#27c2ab,#0bbdbd,#17bfb7,#3bc992,#2ac3a8,#32c69f,#4ccb83,#3eca8f,#30c5a1,#4fcc81,#7fcc5a,#39c994,#46cb87,#47cb87,#8bcb51,#3dc990"></i><i style="left:371.4px;width:5.8px;--p:45%;--g:#13beb8,#0bbdbd,#28c2ab,#28c3aa,#2dc4a6,#22c1b0,#02bac4,#34c79b,#5ecd74,#42ca8b,#33c69d,#57cc7a,#43ca8a,#35c79a,#3cc991,#17bfb6,#01bac5,#0ebebb,#01b9c7,#1dc0b3,#30c5a1,#46cb88,#5fcd73,#31c6a0,#3bc993,#53cc7d,#78cc5f,#87cb54,#5bcc77,#4bcb84"></i><i style="left:374.0px;width:5.8px;--p:45%;--g:#0abdbd,#01b8c8,#10b2d5,#01b7ca,#27c2ac,#3eca8f,#32c69f,#24c1ae,#27c2ac,#30c5a1,#30c5a2,#2dc4a6,#0fbeba,#01b9c7,#34c79b,#30c5a1,#01b8c9,#0bbdbd,#05b6cd,#06bcc0,#02bac5,#1ec0b2,#1cc0b4,#21c1b0,#32c69e,#3dca90,#09bdbe,#39c895,#01b9c7,#07b5d0"></i><i style="left:376.6px;width:5.8px;--p:45%;--g:#37c897,#31c6a0,#26c2ad,#3cc991,#35c79a,#31c6a0,#3eca8f,#29c3a9,#64cd6f,#6acd6a,#41ca8c,#36c898,#2fc5a3,#32c69e,#2fc5a2,#0abdbd,#04b6cd,#24c2ae,#01b8c9,#01b8c8,#32c69e,#13beb9,#38c896,#5ccc76,#a8c73b,#a3c83e,#72cd63,#37c897,#65cd6e,#79cc5e"></i><i style="left:379.2px;width:5.8px;--p:45%;--g:#bec32e,#a0c840,#84cb56,#5bcc77,#82cc58,#a3c83e,#7acc5e,#88cb53,#abc739,#cdc028,#8ccb50,#7dcc5b,#4fcc81,#3bc992,#6bcd69,#89cb53,#5fcd73,#53cc7d,#4acb84,#a4c83e,#75cc61,#76cc60,#6fcd66,#a3c83f,#91ca4c,#5acc78,#8dcb4f,#9cc944,#94ca4a,#98c947"></i><i style="left:381.8px;width:5.8px;--p:45%;--g:#4fcc80,#70cd65,#70cd65,#7ccc5c,#75cc61,#6bcd69,#51cc7f,#4bcb83,#2ec4a4,#57cc7a,#98c947,#63cd70,#31c6a0,#36c898,#2fc5a2,#41ca8d,#11beb9,#42ca8b,#64cd6f,#56cc7a,#19bfb5,#2ec5a4,#74cc62,#6acd6a,#46cb88,#5bcc77,#5dcc75,#37c898,#41ca8c,#68cd6b"></i><i style="left:384.4px;width:5.8px;--p:45%;--g:#85cb55,#7dcc5c,#55cc7c,#59cc79,#a6c83d,#95ca49,#94ca4a,#52cc7e,#83cc57,#76cc60,#a5c83d,#6ecd67,#53cc7d,#41ca8c,#35c79b,#34c79b,#3bc992,#3bc992,#4acb85,#90ca4d,#81cc58,#84cc56,#61cd72,#b0c636,#75cc61,#38c896,#5ccc76,#73cd62,#4dcc82,#8ccb50"></i><i style="left:387.0px;width:5.8px;--p:45%;--g:#14b0d8,#03b7cc,#03b7cb,#01b8c9,#12beb9,#08bcbf,#2ec4a5,#05b6ce,#0cbdbc,#39c994,#2ac3a9,#2dc4a6,#2fc5a2,#12beb9,#01b8c9,#259ce7,#22a2e4,#02b7cb,#02b7cb,#14b0d8,#01b8c9,#06bcc0,#20c1b1,#19bfb5,#2bc3a8,#17bfb6,#42ca8c,#36c898,#1fc0b2,#27c2ab"></i><i style="left:389.6px;width:5.8px;--p:45%;--g:#41ca8c,#34c79b,#33c79d,#31c6a0,#30c5a1,#3dc990,#30c5a2,#2cc4a7,#35c79a,#24c1ae,#2ec4a4,#35c79a,#33c69e,#2ac3a9,#15afd8,#07bcc0,#21c1b0,#0abdbd,#2ec4a4,#28c3ab,#0fbebb,#1bc0b4,#2fc5a3,#2bc3a7,#2dc4a5,#47cb87,#74cc62,#3dc990,#2dc4a6,#53cc7d"></i><i style="left:392.2px;width:5.8px;--p:45%;--g:#1abfb5,#14bfb8,#1fc1b1,#26c2ad,#2dc4a5,#3dc991,#3bc992,#3fca8e,#0abdbd,#27c2ac,#5acc78,#2cc4a7,#35c79a,#07bcc0,#01b8c9,#07b5cf,#1ea8e0,#12b1d7,#16afd9,#15bfb8,#04b6cd,#18aedb,#33c69d,#2cc4a7,#30c5a2,#6ccd69,#36c898,#08bcbf,#0cbdbc,#14beb8"></i><i style="left:394.8px;width:5.8px;--p:45%;--g:#2cc4a7,#03bbc2,#2ec5a4,#24c2ae,#1cc0b3,#3dca90,#02bbc3,#02bbc3,#33c69d,#31c69f,#33c69e,#25c2ae,#2cc4a7,#27c2ac,#02bac5,#0fb2d5,#14b0d8,#07b5cf,#0ab4d2,#249de6,#1da8e0,#02b7cb,#22c1b0,#22c1af,#01b8c9,#04bbc2,#26c2ad,#01b8c8,#02bac4,#02b7cb"></i><i style="left:397.4px;width:5.8px;--p:45%;--g:#2ac3a9,#10beba,#2bc3a8,#27c2ab,#14beb8,#29c3aa,#39c895,#23c1af,#0dbdbc,#2fc5a3,#1ac0b4,#2bc3a8,#35c79a,#1dc0b3,#18bfb6,#06bcc0,#0fbebb,#0bb3d2,#1aacdd,#06b5cf,#1fa5e2,#16bfb7,#3bc993,#33c69d,#24c1af,#1fc0b2,#2ac3a9,#1fc0b1,#35c79a,#1cc0b4"></i><i style="left:400.0px;width:5.8px;--p:45%;--g:#2bc3a8,#0abdbd,#33c69d,#3fca8e,#36c898,#2fc5a2,#30c5a2,#2dc4a5,#1dc0b3,#30c5a2,#35c79a,#32c69e,#1dc0b3,#03bbc2,#01bac5,#08bcbf,#11b1d6,#19addc,#01b9c8,#03b7cb,#24c1ae,#22c1b0,#27c2ac,#3bc992,#4bcb83,#3bc993,#31c6a0,#44cb8a,#23c1af,#04bbc1"></i><i style="left:402.6px;width:5.8px;--p:45%;--g:#0cb3d3,#0fb2d4,#08bcbf,#28c3aa,#16bfb7,#12beb9,#01b8ca,#1ec0b2,#16bfb7,#01b8ca,#02bac5,#08bcbf,#06bcc0,#1bc0b4,#0cbdbc,#1ca9df,#19addc,#01b9c7,#19addc,#03b7cb,#20a4e3,#0abdbd,#04b6cd,#11beb9,#02bac4,#36c799,#24c1ae,#27c2ac,#0fb2d4,#04b6cd"></i><i style="left:405.2px;width:5.8px;--p:45%;--g:#259ce7,#1ea7e1,#1aabde,#02bac4,#05bbc1,#07b5d0,#01b7ca,#02bac4,#18addb,#09b4d1,#09b4d1,#01b9c8,#07b5cf,#0ab4d1,#0eb2d4,#0eb3d4,#0fb2d5,#04b6cd,#1baade,#20a5e2,#14b0d8,#16afd9,#05b6ce,#14b0d8,#1fa5e2,#1ca9df,#1ea7e1,#1da8e0,#15afd9,#23a1e4"></i><i style="left:407.8px;width:5.8px;--p:45%;--g:#14b0d8,#14b0d8,#01b9c7,#07b5d0,#1fa6e2,#02bac5,#05b6cd,#02bbc3,#04b6cd,#14b0d8,#31c6a0,#07b5d0,#0fb2d5,#18addb,#1fa6e2,#17aedb,#13b1d7,#1aacdd,#19addc,#1da8e0,#259ce7,#2797eb,#1caadf,#1baade,#04b6cd,#17aeda,#01b9c6,#1ca9e0,#15afd9,#22a2e4"></i><i style="left:410.4px;width:5.8px;--p:45%;--g:#1fc0b2,#13beb9,#09bcbe,#01b8c9,#02b7cb,#19addc,#0eb3d4,#0ab4d2,#0cbdbc,#06bcc0,#04b6cd,#07b5cf,#14b0d8,#1fa6e1,#07b5d0,#20a5e3,#20a5e3,#2a93ee,#249ee6,#0db3d3,#07bcbf,#01b8c9,#03b7cc,#02b7cb,#05b6cd,#0cb3d3,#1fa6e2,#2699e9,#269be8,#20a5e3"></i><i style="left:413.0px;width:5.8px;--p:45%;--g:#1aacdd,#12b1d6,#06b5ce,#1ec0b2,#06bcc0,#15afd8,#04b6cd,#01b8ca,#0abdbe,#1bc0b4,#0ebdbb,#01b8c9,#14b0d8,#15afd9,#06b5cf,#0bbdbd,#07b5cf,#01b9c7,#18bfb6,#0fb2d5,#17aeda,#02bac5,#04bbc2,#0bbdbd,#05bbc1,#29c3aa,#08bcbf,#05b6ce,#1caadf,#21a3e3"></i><i style="left:415.6px;width:5.8px;--p:45%;--g:#16afda,#1caadf,#04bbc2,#20a5e3,#23a1e4,#21a3e4,#14b0d8,#13b0d7,#01b9c7,#07b5d0,#21a4e3,#249ee6,#22a2e4,#2994ed,#2798ea,#2e87f7,#2c8ef1,#2994ed,#22a2e4,#2796eb,#2e86f7,#259be8,#21a3e3,#1ea6e1,#249fe6,#2896ec,#2b92ee,#269ae8,#22a2e4,#2c8ef1"></i><i style="left:418.2px;width:5.8px;--p:45%;--g:#239fe5,#23a1e5,#1ea7e1,#1babde,#1da9e0,#13b0d7,#03b7cc,#20a5e2,#05b6ce,#17aeda,#05b6ce,#05b6ce,#04b6cd,#259ce7,#1ea8e1,#23a0e5,#2b91ef,#1baade,#0db3d4,#02b7cb,#15afd8,#17aeda,#10b2d5,#22a2e4,#1da9e0,#259ce7,#269ae8,#249fe6,#249ee6,#259de7"></i><i style="left:420.8px;width:5.8px;--p:45%;--g:#11beb9,#01b9c6,#08bcbf,#01b9c6,#06b5ce,#16afda,#10b2d5,#01b9c7,#1aacdd,#1da8e0,#1ea7e1,#12b1d6,#0fb2d5,#1da9e0,#259de7,#0fb2d4,#15afd9,#18addb,#1ea7e1,#23a1e4,#10b2d5,#1aabdd,#18aedb,#02bac4,#18addb,#07b5cf,#06b5cf,#05b6cd,#0cbdbc,#14b0d8"></i><i style="left:423.4px;width:5.8px;--p:45%;--g:#03b7cb,#02bac4,#18addb,#22a2e4,#0fb2d5,#01b9c8,#1caadf,#02bbc3,#11b1d6,#08bcbf,#01b9c8,#1ac0b5,#02bac4,#0eb2d4,#23a0e5,#2995ec,#21a3e3,#23a0e5,#13b1d7,#16afda,#1aacdd,#23a0e5,#0eb2d4,#0ab4d1,#01b8ca,#01b8c9,#1babde,#19addc,#07b5d0,#1baade"></i><i style="left:426.0px;width:5.8px;--p:45%;--g:#06bbc1,#01b9c6,#0eb3d4,#1abfb5,#0cb3d3,#03b7cc,#01b9c6,#03b7cc,#01b9c7,#04bbc1,#02bac3,#02bac3,#0eb2d4,#02bac4,#01b9c6,#1caadf,#269ae9,#23a0e5,#19addc,#1babde,#1aacdd,#1baade,#1da8e0,#08b5d0,#12b1d6,#14b0d8,#17aeda,#0db3d3,#1da9e0,#02b7cb"></i><i style="left:428.6px;width:5.8px;--p:45%;--g:#05b6ce,#15afd9,#19addc,#0bb3d2,#18aedb,#18addb,#06b5cf,#1babde,#12b1d7,#1baade,#0eb2d4,#10b2d5,#1caadf,#1aabdd,#2797eb,#269ae8,#2b91ef,#259ce7,#249de6,#0fb2d5,#13b0d7,#22a1e4,#21a4e3,#2699e9,#22a2e4,#23a0e5,#269ae9,#2b92ee,#249de6,#269ae8"></i><i style="left:431.2px;width:5.8px;--p:45%;--g:#23a0e5,#259be8,#2b91ef,#249ee6,#249ee6,#2896eb,#2d8cf3,#2d8df2,#269ae9,#20a5e3,#22a1e4,#20a5e2,#2d8cf3,#307ffb,#2b92ee,#2d8df3,#2d8bf4,#2c8ff1,#2d89f5,#2d89f5,#2895ec,#249de7,#249ee6,#2994ed,#2797eb,#259de7,#1baade,#259de7,#2896eb,#2895ec"></i><i style="left:433.8px;width:5.8px;--p:45%;--g:#0eb2d4,#10b2d5,#1caadf,#1caadf,#16afda,#0bb3d2,#0eb2d4,#0bb4d2,#07bcc0,#0eb2d4,#04b6cd,#0cb3d3,#1ca9df,#20a4e3,#20a5e3,#249ee6,#2896ec,#21a3e3,#1fa6e2,#23a0e5,#10b2d5,#15afd9,#1aacdd,#20a4e3,#16afda,#10b2d5,#18addb,#10b2d5,#02bac5,#0fb2d5"></i><i style="left:436.4px;width:5.8px;--p:45%;--g:#20a4e3,#19addc,#0eb2d4,#17aedb,#1babde,#21a3e3,#14b0d8,#23a0e5,#14b0d8,#16afd9,#1aacdd,#249de7,#2796eb,#2699e9,#249fe6,#2b92ee,#249fe5,#2b92ee,#2e83f9,#2f82fa,#2d88f6,#2a93ed,#2994ed,#2798ea,#269ae8,#22a1e4,#2b91ef,#2895ec,#1ea7e1,#23a0e5"></i><i style="left:439.0px;width:5.8px;--p:45%;--g:#2798ea,#22a2e4,#16afd9,#0cb3d3,#1ea8e0,#249ee6,#19acdc,#14b0d8,#1fa6e1,#1da9e0,#15afd9,#1caadf,#2896eb,#2895ec,#1ea7e1,#249ee6,#2797eb,#2797eb,#2d88f6,#249ee6,#2d8df2,#259be8,#1baadf,#21a3e3,#18addb,#0db3d4,#18addb,#1da9e0,#18addb,#2699e9"></i><i style="left:441.6px;width:5.8px;--p:45%;--g:#1da8e0,#1baade,#1da9e0,#15afd9,#15afd9,#18addb,#18addb,#1da9e0,#20a5e2,#0fb2d4,#18addb,#1aabde,#259de7,#259be7,#2b91ef,#2d8af4,#2d8df2,#2b91ef,#2d8bf4,#2796eb,#23a0e5,#1ea8e1,#1babde,#19acdc,#19addc,#17aeda,#13b0d7,#17aedb,#2798ea,#2b91ef"></i><i style="left:444.2px;width:5.8px;--p:45%;--g:#1ea7e1,#259be7,#1da8e0,#1da8e0,#04b6cc,#17aeda,#0bb3d2,#0cb3d3,#0fb2d5,#19addc,#23a1e4,#22a1e4,#23a0e5,#2699e9,#2b92ee,#2c8ef1,#2f82fa,#2c8ef1,#2c8ff1,#2b92ee,#2b92ee,#2699e9,#259be8,#269ae9,#22a1e4,#249ee6,#19addc,#1ea7e1,#1caadf,#239fe5"></i><i style="left:446.8px;width:5.8px;--p:45%;--g:#21a3e3,#2c8ff1,#2895ec,#259de7,#249ee6,#1babde,#0fb2d4,#1da9e0,#1fa6e2,#1ca9df,#1fa6e2,#259ce7,#2d8bf3,#2995ec,#2d8af5,#2797eb,#2b90ef,#327dfc,#2e86f7,#2895ec,#2699ea,#2994ed,#259be8,#259de7,#2797eb,#2994ed,#2895ec,#2e86f8,#2d89f5,#2d8df2"></i><i style="left:449.4px;width:5.8px;--p:45%;--g:#23a0e5,#1baadf,#1aabdd,#1ea7e1,#1fa6e2,#1babde,#1aabde,#05b6ce,#1ea8e1,#20a5e3,#19acdc,#1fa6e1,#2798ea,#259be8,#2895ec,#2d8cf3,#2d8df2,#2e84f8,#2e87f7,#2c8ef1,#2e87f7,#2994ed,#2699e9,#2797eb,#249ee6,#21a3e3,#249ee6,#259de7,#21a3e3,#269ae9"></i><i style="left:452.0px;width:5.8px;--p:45%;--g:#05b6ce,#1fa5e2,#20a5e2,#16afd9,#07b5cf,#0ab4d2,#1aacdd,#16afd9,#04bbc2,#20a5e3,#1fa5e2,#249fe5,#2994ed,#2e83f9,#347afd,#307ffb,#2c8ef2,#269ae9,#2b91ef,#2796eb,#2698ea,#259be8,#1aabde,#23a1e4,#1aabdd,#0cb3d3,#1fa6e1,#18addb,#0fb2d5,#19addc"></i><i style="left:454.6px;width:5.8px;--p:45%;--g:#2797eb,#2895ec,#23a1e5,#17aedb,#10b2d5,#23a0e5,#22a1e4,#249ee6,#249ee6,#259be8,#2c8ef2,#249fe5,#2b90f0,#406dfe,#2f82fa,#2e85f8,#3777fe,#3875fe,#3e6fff,#327cfc,#2d8cf3,#2c8ef2,#2798ea,#2797eb,#2797ea,#2994ed,#2a93ee,#2b91ef,#2895ec,#2797eb"></i><i style="left:457.2px;width:5.8px;--p:45%;--g:#1fa6e2,#21a3e3,#20a5e3,#22a2e4,#21a3e3,#23a0e5,#2995ec,#2797ea,#2a93ee,#2896eb,#269be8,#2699e9,#2d89f5,#2e84f8,#2b92ef,#2e85f8,#2e83f9,#2d89f5,#2e84f8,#337bfd,#2f82f9,#327cfc,#2c8ef1,#2a92ee,#2995ec,#269ae8,#259be7,#269ae8,#2c8ef2,#2b92ee"></i><i style="left:459.8px;width:5.8px;--p:45%;--g:#1ea7e1,#23a0e5,#259de7,#1ca9df,#20a5e2,#1babde,#20a5e3,#20a4e3,#269ae8,#20a4e3,#23a0e5,#2994ed,#2895ec,#2d88f6,#2c8ef1,#2d88f6,#2d87f7,#2e85f8,#2e87f7,#3080fa,#2e85f8,#259ce7,#2d8cf3,#2b92ee,#2c8ef1,#269ae9,#2797ea,#2994ed,#2b90ef,#2896ec"></i><i style="left:462.4px;width:5.8px;--p:45%;--g:#2797eb,#2797eb,#249ee6,#259ce7,#249de7,#259de7,#249ee6,#20a5e2,#269ae9,#2a93ee,#2896ec,#269be8,#2d8af5,#2e83f9,#2e86f7,#347afd,#3f6dfe,#3578fd,#3677fe,#3678fe,#3678fd,#2d8cf3,#249de6,#259be8,#2797ea,#249de7,#1da9e0,#21a4e3,#2798ea,#2995ec"></i><i style="left:465.0px;width:5.8px;--p:45%;--g:#21a3e3,#1fa6e2,#22a2e4,#1fa6e1,#14b0d8,#22a2e4,#23a1e5,#22a1e4,#259be8,#1aacdd,#22a1e4,#22a1e4,#2b91ef,#307ffb,#2f83f9,#3b72fe,#2e85f8,#3974fe,#317efb,#2b92ef,#2d89f5,#259be8,#21a3e4,#2699e9,#20a5e2,#21a3e3,#23a1e4,#259be8,#2b91ef,#2a93ed"></i><i style="left:467.6px;width:5.8px;--p:45%;--g:#2b91ef,#2d89f5,#2698ea,#2a93ee,#2c8ff1,#22a2e4,#1ca9df,#249ee6,#269ae9,#259ce7,#2b92ee,#259ce7,#2d8cf3,#2e86f7,#3678fd,#2e84f8,#3579fd,#2f81fa,#317dfc,#2b92ef,#2c8ff1,#259be8,#2c8ff0,#2798ea,#2699e9,#2896ec,#2895ec,#2797eb,#2896eb,#259ce7"></i><i style="left:470.2px;width:5.8px;--p:45%;--g:#22a1e4,#21a3e4,#21a4e3,#259ce7,#1fa5e2,#249ee6,#249fe5,#2798ea,#269be8,#21a2e4,#249fe5,#2a93ed,#317dfc,#3876fe,#3876fe,#3d70ff,#3678fe,#317efb,#3a73fe,#327cfc,#2d8af4,#2b91ef,#2d8af5,#2d88f6,#2d87f7,#249de6,#2797eb,#2f81fa,#2b90f0,#2a93ee"></i><i style="left:472.8px;width:5.8px;--p:45%;--g:#2994ed,#2896eb,#2798ea,#2995ec,#2c8ff0,#23a1e4,#23a0e5,#269ae9,#2a93ee,#2994ed,#2995ec,#2d8df2,#3579fd,#4367fd,#3876fe,#3a73fe,#3579fd,#3974fe,#3479fd,#327bfc,#2e84f9,#2d88f6,#2d8bf4,#2d8bf3,#2f82f9,#2b90f0,#2d89f5,#2d88f6,#2e87f7,#3777fe"></i><i style="left:475.4px;width:5.8px;--p:45%;--g:#269ae9,#259ce7,#2a92ee,#2797eb,#239fe5,#249ee6,#249de6,#0fb2d5,#19acdc,#249fe5,#249ee6,#2699e9,#2d8af4,#2e83f9,#2e87f7,#307ffb,#416afe,#347afd,#3080fb,#2e83f9,#327cfc,#2c8ef1,#2b91ef,#2d8df2,#2e86f7,#2d8df2,#2a93ee,#2797eb,#2895ec,#2e83f9"></i><i style="left:478.0px;width:5.8px;--p:45%;--g:#2895ec,#269ae8,#259ce7,#2699e9,#2896eb,#2896eb,#2b91ef,#2e86f7,#2e87f7,#259ce7,#21a3e3,#2a93ee,#327bfc,#416bfe,#3f6eff,#4466fd,#337bfd,#3e6fff,#3f6eff,#2e84f9,#2e84f8,#2d89f5,#2f82fa,#2a92ee,#2c8ef2,#2e83f9,#2d88f6,#307ffb,#2f82fa,#2d87f6"></i><i style="left:480.6px;width:5.8px;--p:45%;--g:#2b92ef,#2b91ef,#2798ea,#249de7,#269be8,#23a0e5,#249de6,#259ce7,#23a0e5,#1da8e0,#20a5e2,#2a93ee,#2e87f7,#3777fe,#3a73fe,#3777fe,#406dfe,#3d71ff,#406dfe,#3975fe,#317efb,#2d8af5,#2a93ee,#2e84f9,#2d8af4,#259ce7,#249de6,#2c8ef1,#2699e9,#2c8ff0"></i><i style="left:483.2px;width:5.8px;--p:45%;--g:#249ee6,#1da9e0,#22a2e4,#259ce7,#2b91ef,#2798ea,#2b91ef,#2896eb,#2796eb,#2797eb,#269ae8,#269ae8,#2c8ef1,#307ffb,#3975fe,#3876fe,#406dfe,#4466fd,#4563fd,#3e6fff,#307efb,#2e87f7,#2796eb,#2a93ee,#2c8ff0,#2d8df2,#249fe5,#2c90f0,#2c90f0,#2c8ff0"></i><i style="left:485.8px;width:5.8px;--p:45%;--g:#2b91ef,#2c8ff0,#2e86f7,#2a93ee,#2d89f5,#2c8ef2,#2c8ff1,#2e85f8,#2c8ef2,#2d8af4,#2e85f8,#337bfd,#4369fe,#475dfa,#4854f5,#4562fc,#4562fc,#4368fe,#426afe,#4464fd,#4562fc,#3974fe,#2c8ff0,#3080fa,#2f82f9,#2d8af4,#2e86f7,#2c8ff1,#2994ed,#2896eb"></i><i style="left:488.4px;width:5.8px;--p:45%;--g:#20a4e3,#23a0e5,#249fe5,#259be8,#2994ed,#259be8,#2798ea,#22a2e4,#23a0e5,#23a1e4,#22a2e4,#1da8e0,#2a93ed,#327cfc,#2f81fa,#317dfc,#4465fd,#4758f8,#4465fd,#327bfc,#2f81fa,#2e86f7,#249fe5,#2b92ee,#2699e9,#2a93ee,#2895ec,#2d89f5,#2c8ef2,#2d88f6"></i><i style="left:491.0px;width:5.8px;--p:45%;--g:#2b92ef,#2d8bf4,#2797eb,#2c8ff0,#23a0e5,#23a1e5,#2995ec,#2b91ef,#2a92ee,#2b92ee,#2c90f0,#2b90ef,#2e85f8,#3f6dfe,#3f6efe,#3e6fff,#3e6fff,#3080fb,#307ffb,#2e84f9,#3080fb,#2c8ef1,#2d8bf4,#2995ec,#269ae8,#249de6,#259be8,#2d8bf3,#2e85f8,#2c8ff1"></i><i style="left:493.6px;width:5.8px;--p:45%;--g:#2797ea,#2b92ef,#2e84f8,#2e84f8,#2d89f5,#22a2e4,#23a0e5,#249ee6,#2d8af4,#2d8cf3,#2d89f5,#2c8ef1,#3579fd,#426afe,#3975fe,#4562fc,#4563fc,#4759f8,#3f6fff,#2f81fa,#2e87f7,#2d8bf4,#2d89f5,#2e84f8,#2b90ef,#2d88f6,#2698ea,#2c90f0,#2a92ee,#2e85f8"></i><i style="left:496.2px;width:5.8px;--p:45%;--g:#269ae8,#2895ec,#2699e9,#2994ed,#2796eb,#2d8cf3,#2d88f6,#2d8df2,#2896eb,#2699e9,#2895ec,#2d8df2,#2f81fa,#317efb,#3578fd,#4465fd,#465dfa,#465efb,#3678fd,#3e6fff,#4269fe,#3f6fff,#2e85f8,#2e83f9,#2d8bf4,#2994ed,#2b90ef,#2d8cf3,#2c8ef2,#2c8ef1"></i><i style="left:498.8px;width:5.8px;--p:45%;--g:#269ae8,#2796eb,#259be8,#2b90f0,#2c8ff0,#2798ea,#2b91ef,#2c90f0,#259ce7,#2698ea,#269be8,#2797ea,#2e84f9,#3c71ff,#3975fe,#3875fe,#3975fe,#426afe,#4563fd,#3678fe,#3c72ff,#3b73fe,#2e84f8,#2c8ff1,#2a92ee,#2d8df2,#2d8df3,#317efb,#307ffb,#2d8bf4"></i><i style="left:501.4px;width:5.8px;--p:45%;--g:#249de6,#249de6,#259ce7,#2c8ff1,#2d8cf3,#2d88f6,#2d8af4,#2c8ef1,#2b91ef,#269ae9,#2f82f9,#2d88f6,#4368fe,#416bfe,#426afe,#4466fd,#3677fe,#3875fe,#3b72ff,#3b72ff,#307ffb,#307ffb,#2b91ef,#2994ed,#2d88f6,#2d8af4,#327cfc,#2f80fa,#2f82fa,#3677fe"></i><i style="left:504.0px;width:5.8px;--p:45%;--g:#2798ea,#2896ec,#2699e9,#2c8ff1,#2b92ee,#2798ea,#2e86f7,#2d8cf3,#2797eb,#2797eb,#2896ec,#2896eb,#2d88f6,#3975fe,#4562fc,#3f6eff,#406cfe,#426afe,#406dfe,#3579fd,#3e6fff,#2f82fa,#2d8cf3,#317dfc,#317dfc,#307ffb,#2d89f6,#317efb,#2d8bf4,#2f82fa"></i><i style="left:506.6px;width:5.8px;--p:45%;--g:#2796eb,#2798ea,#20a5e2,#2699e9,#259ce7,#2b91ef,#2a93ee,#2d8bf4,#2a93ed,#2d8af5,#2797eb,#2797eb,#2d89f6,#307efb,#3a74fe,#3e6fff,#3876fe,#3974fe,#3975fe,#3975fe,#2d8df2,#2e84f9,#2c8ff1,#2798ea,#2798ea,#2c8ef1,#2d8bf3,#2797ea,#2699e9,#2d8bf4"></i><i style="left:509.2px;width:5.8px;--p:45%;--g:#2c8ef2,#2699e9,#2896ec,#2994ed,#2c8ff0,#2c8ef2,#2c8ef1,#2d88f6,#2d88f6,#2f80fa,#2d8df3,#2d89f5,#307ffb,#416bfe,#347afd,#3e6fff,#4757f7,#4852f4,#4853f4,#475af9,#4755f6,#406dfe,#2f81fa,#337afd,#317dfb,#3080fa,#2e86f7,#2994ed,#2e86f7,#2e86f8"></i><i style="left:511.8px;width:5.8px;--p:45%;--g:#2699e9,#2797eb,#2d8cf3,#2e86f7,#3080fa,#2f81fa,#2d88f6,#2e86f7,#2d8df2,#2896ec,#2c8ef1,#2c90f0,#4269fe,#4563fc,#475cfa,#465efb,#4660fb,#475af9,#3876fe,#317dfc,#3c71ff,#3776fe,#2c90f0,#2995ec,#2797ea,#22a2e4,#2b90ef,#2c8ef1,#2e85f8,#317efb"></i><i style="left:514.4px;width:5.8px;--p:45%;--g:#249de6,#2a93ee,#2699e9,#2896ec,#2d88f6,#2a93ed,#2c8ff1,#2c90f0,#2994ed,#2895ec,#2698ea,#2895ec,#347afd,#3777fe,#3b73fe,#406dfe,#426afe,#4368fd,#406dfe,#4464fd,#4368fe,#2f80fa,#2c8ef1,#2d8af4,#2b90f0,#2c8ef2,#2c8ff1,#327bfc,#2e87f7,#2e87f7"></i><i style="left:517.0px;width:5.8px;--p:45%;--g:#259de7,#249fe5,#22a1e4,#2994ed,#2b91ef,#2b92ef,#2d8bf4,#2797ea,#2895ec,#2f82fa,#2c8ef1,#269ae8,#347afd,#3b72ff,#406dfe,#3c71ff,#4562fc,#4757f7,#4562fc,#3479fd,#406dfe,#4562fc,#2d8df3,#3876fe,#327bfc,#3b72fe,#3777fe,#317efb,#416bfe,#406dfe"></i><i style="left:519.6px;width:5.8px;--p:45%;--g:#2c8ef1,#2c8ef1,#2a93ee,#2a92ee,#2c8ff0,#2b91ef,#2895ec,#2c8ef2,#2d8bf4,#2c90f0,#2895ec,#2e84f8,#2e83f9,#406cfe,#3e70ff,#347afd,#406dfe,#416bfe,#406cfe,#3b72fe,#3a73fe,#2f82fa,#2d8af5,#2a92ee,#2c90f0,#2b92ee,#2c8ef1,#3080fb,#2d8df2,#2c8ef1"></i><i style="left:522.2px;width:5.8px;--p:45%;--g:#22a2e4,#22a2e4,#2896eb,#2895ec,#2995ec,#2895ec,#2699e9,#2895ec,#2c8ef1,#2d88f6,#2e83f9,#2896ec,#2f81fa,#4367fd,#3c71ff,#3678fd,#4367fd,#4367fd,#4466fd,#3e70ff,#307ffb,#2e85f8,#2d87f6,#2d8cf3,#3080fb,#2796eb,#2d8bf4,#2994ed,#2c8ff1,#317efb"></i><i style="left:524.8px;width:5.8px;--p:45%;--g:#2d8df2,#2d8cf3,#2994ed,#2b90f0,#2994ed,#2c90f0,#2c8ef1,#2e84f8,#2994ed,#2a93ed,#2a92ee,#2994ed,#3776fe,#3d70ff,#4367fd,#465efb,#4757f7,#484cef,#4757f7,#475cfa,#4562fc,#2e84f9,#2d8af4,#2e86f7,#2c8ff1,#2e84f9,#2e84f9,#3975fe,#2d88f6,#2e85f8"></i><i style="left:527.4px;width:5.8px;--p:45%;--g:#2c8ef1,#2a93ee,#2b91ef,#2b91ef,#2995ec,#2c8ff1,#2798ea,#2797eb,#2a92ee,#2d8cf3,#2a93ee,#2d8bf3,#3b73fe,#4563fc,#416bfe,#4660fb,#4367fd,#416bfe,#426afe,#4465fd,#4466fd,#3b73fe,#2e83f9,#2f82f9,#2e83f9,#2e86f7,#2d8bf3,#2f81fa,#337afd,#337afd"></i><i style="left:530.0px;width:5.8px;--p:45%;--g:#2e85f8,#317dfb,#3e6fff,#317efb,#2f81fa,#2d8af4,#2b91ef,#337bfd,#327cfc,#2b92ee,#2d88f6,#2e83f9,#4759f8,#4854f6,#475af9,#4464fd,#4854f5,#484cf0,#4853f5,#4367fd,#4269fe,#4367fd,#317dfc,#3578fd,#2f82fa,#2d89f5,#2d8af5,#2d8cf3,#2e85f8,#307ffb"></i><i style="left:532.6px;width:5.8px;--p:45%;--g:#249fe6,#2895ec,#2c8ef2,#2797eb,#2c90f0,#2d8cf3,#2b91ef,#2c8ff0,#2895ec,#2a93ee,#2c8ff0,#2d8bf4,#3876fe,#4269fe,#426afe,#4269fe,#4564fd,#4660fb,#4367fd,#3975fe,#406cfe,#3677fe,#2d8af5,#2f82fa,#2e86f7,#2b91ef,#2d88f6,#307ffb,#3479fd,#2e85f8"></i><i style="left:535.2px;width:5.8px;--p:45%;--g:#2b92ee,#2d8cf3,#2c8ef1,#23a0e5,#20a4e3,#20a4e3,#22a1e4,#2699e9,#2698ea,#2896eb,#249ee6,#2d8bf4,#327cfc,#3a74fe,#416cfe,#475bf9,#465ffb,#4661fc,#4464fd,#4757f7,#3b72fe,#2d8cf3,#2b90ef,#2699e9,#2994ed,#269ae8,#2d8cf3,#2895ec,#2d87f6,#2f81fa"></i><i style="left:537.8px;width:5.8px;--p:45%;--g:#2699e9,#2797eb,#2f81fa,#2f81fa,#2b92ee,#2c90f0,#2d8bf4,#2896eb,#2796eb,#2895ec,#2b91ef,#2d89f5,#3678fe,#4562fc,#465efb,#4562fc,#3f6dfe,#4466fd,#3974fe,#347afd,#3875fe,#2e84f8,#2c8ef1,#2d8df2,#2d87f7,#317efb,#2c8ff1,#2d8bf4,#2f81fa,#3975fe"></i><i style="left:540.4px;width:5.8px;--p:45%;--g:#2a93ee,#2d8af4,#2a93ee,#2d8cf3,#2798ea,#2d8df2,#317efb,#2b91ef,#2699e9,#2c8ff0,#2d8af5,#2d89f5,#327cfc,#3f6efe,#4367fd,#475af9,#4563fc,#4465fd,#3975fe,#4366fd,#4564fd,#3579fd,#2e85f8,#2e85f8,#2e84f8,#2e87f7,#2f80fa,#3578fd,#3c71ff,#3479fd"></i><i style="left:543.0px;width:5.8px;--p:45%;--g:#2699e9,#2994ed,#249ee6,#2699ea,#259be8,#1fa6e1,#269be8,#2895ec,#2a93ee,#2797eb,#239fe5,#2d8df2,#3080fb,#2f81fa,#3c72ff,#3a74fe,#4464fd,#416bfe,#4563fd,#406cfe,#3a74fe,#2f82fa,#2699e9,#269be8,#2895ec,#2c8ff0,#2d8df2,#2d8bf4,#2a92ee,#2d8cf3"></i><i style="left:545.6px;width:5.8px;--p:45%;--g:#2d8cf3,#2e83f9,#2d8af4,#2b91ef,#2d8bf3,#2e85f8,#2995ec,#2995ec,#2797eb,#2699e9,#2d8df2,#2b91ef,#307ffb,#406cfe,#3f6efe,#3f6dfe,#426afe,#3677fe,#4562fc,#3d71ff,#3678fd,#317dfc,#2e87f7,#2d8bf3,#2d8bf4,#2896eb,#2c8ef1,#2c8ff1,#2e83f9,#3975fe"></i><i style="left:548.2px;width:5.8px;--p:45%;--g:#2a92ee,#2c8ef1,#259ce7,#2995ec,#269ae9,#2896eb,#269ae8,#259ce7,#2c8ff1,#2d89f5,#2e83f9,#317dfb,#317dfb,#327bfc,#3c72ff,#465dfa,#3974fe,#3f6eff,#337afd,#3b72fe,#3f6eff,#3f6efe,#2d8bf4,#2d88f6,#2d89f5,#2d89f5,#2e84f9,#2e85f8,#2c8ef1,#2d89f5"></i><i style="left:550.8px;width:5.8px;--p:45%;--g:#2d8df2,#2d8bf4,#2d8cf3,#2895ec,#2995ec,#2c90f0,#2797eb,#23a0e5,#269ae8,#2d8cf3,#2c8ef1,#2b92ee,#327cfc,#3e6fff,#4369fe,#4368fe,#4466fd,#4464fd,#4563fd,#4564fd,#4369fe,#2d8af4,#2895ec,#2d89f5,#2e84f8,#2e87f7,#2d8df3,#2d88f6,#2e87f7,#2e86f7"></i><i style="left:553.4px;width:5.8px;--p:45%;--g:#2c8ef1,#2a92ee,#2d8cf3,#2c90f0,#2995ec,#2d8af5,#2b91ef,#2d8cf3,#2d8af5,#2d8cf3,#2c8ef2,#2b91ef,#3080fb,#4368fe,#4759f8,#4661fc,#4660fb,#4563fc,#3678fd,#4465fd,#3f6fff,#416bfe,#3080fb,#317dfc,#2e83f9,#2c8ef2,#2d8bf4,#2e87f7,#317efb,#2d8bf4"></i><i style="left:556.0px;width:6.2px;--p:42%;--g:#2c8ef1,#2d8df2,#2d89f5,#2798ea,#2798ea,#2d8df3,#2d8cf3,#2a93ee,#2c8ef2,#2c8ef2,#2994ed,#2d89f6,#3678fd,#4367fd,#426afe,#4368fe,#4561fc,#4561fc,#3f6fff,#3a74fe,#3b72ff,#3a73fe,#3b73fe,#317efb,#317efb,#2d8df2,#317efb,#327cfc,#307ffb,#2994ed"></i><b style="top:188.7px;height:1.3px;left:0.0px;width:561.6px;background:linear-gradient(to right,#eaba31 0.0%,#f9bb3d 16.3%,transparent 19.0%,transparent 67.1%,#2dc4a6 70.6%,#09bdbe 76.0%,#01b9c8 84.9%,#02b7cb 100%)"></b><b style="top:197.1px;height:1.4px;left:0.0px;width:561.6px;background:linear-gradient(to right,#f9bb3d 0.0%,#febe3c 15.4%,transparent 19.0%,transparent 27.9%,#f5eb23 30.6%,#f5ed21 38.6%,transparent 43.9%,transparent 63.5%,#3cc992 68.8%,#1ec0b2 76.0%,#04b6cd 84.9%,#07bcbf 100%)"></b><b style="top:452.0px;height:1.4px;left:381.6px;width:180.0px;background:linear-gradient(to right,transparent 0.0%,#18bfb6 8.3%,#14b0d8 30.6%,#269be8 52.8%,#22a2e4 100%)"></b><svg width="165" height="480" style="position:absolute;left:397px;top:0;-webkit-mask-image:linear-gradient(to right,transparent,#000 45%);mask-image:linear-gradient(to right,transparent,#000 45%)"><filter id="nz0" x="0" y="0" width="100%" height="100%" color-interpolation-filters="sRGB"><feTurbulence type="fractalNoise" baseFrequency="0.4 0.16" numOctaves="2" seed="3"/><feColorMatrix type="matrix" values="0 0 0 0 0.26  0 0 0 0 0.25  0 0 0 0 0.85  2.24 0 0 0 -1.20"/></filter><rect width="100%" height="100%" filter="url(#nz0)"/></svg></div>
<div class="hm" style="left:852.6px;top:28.4px;width:555.2px;height:480.1px"><i style="left:0.0px;width:5.1px;--p:0%;--g:#3e26a8 0%,#3e26a8 64.2%,#3e26a9 70.2%,#3e27a9 74.4%,#3e27a9 95.7%,#3f29b2 96.8%,#4745e9 97.9%,#4561fc 98.7%,#3678fe 99.5%,#2e85f8 100%"></i><i style="left:0.5px;width:8.6px;--p:47%;--g:#3e26a8 0%,#3e26a8 64.2%,#3e26a9 70.2%,#3e27a9 74.4%,#3e27a9 95.7%,#3f29b0 96.8%,#463ee1 97.9%,#4755f6 98.7%,#3678fe 99.5%,#2e85f8 100%"></i><i style="left:4.5px;width:8.6px;--p:47%;--g:#3e26a8 0%,#3e26a8 64.2%,#3e26a9 70.2%,#3e27a9 74.4%,#3e27a9 78.7%,#3e27aa 83%,#3e27aa 95.7%,#402ab3 96.8%,#4744e8 97.9%,#4466fd 98.7%,#3678fd 99.5%,#2e85f8 100%"></i><i style="left:8.5px;width:8.6px;--p:47%;--g:#3e26a8 0%,#3e26a8 64.2%,#3e26a9 70.2%,#3e27a9 74.4%,#3e27aa 78.7%,#3e27aa 95.7%,#3f29b2 96.8%,#473fe2 97.9%,#4759f8 98.7%,#3678fd 99.5%,#2e85f8 100%"></i><i style="left:12.5px;width:8.6px;--p:47%;--g:#4230c4 0%,#4434ce 6.3%,#4536d4 12.7%,#4230c4 16.9%,#4230c4 21.2%,#422fc2 24.2%,#4434ce 27.6%,#412dbc 31.4%,#4434cf 35.2%,#422fc2 38.6%,#412ebe 42.5%,#4435d1 45.9%,#4230c3 49.7%,#4332ca 53.6%,#4331c6 57.4%,#4331c8 60.8%,#412dbd 64.2%,#4434cf 70.2%,#422ec0 74.4%,#4434d0 78.7%,#4435d1 83%,#422ebf 86.4%,#4332ca 89.3%,#4332cb 91.9%,#4332c9 94%,#4536d3 95.7%,#4230c4 96.8%,#4848ec 97.9%,#4757f7 98.7%,#3578fd 99.5%,#2e85f8 100%"></i><i style="left:16.5px;width:8.6px;--p:47%;--g:#3e26a8 0%,#3e26a8 64.2%,#3e27a9 70.2%,#3e27a9 74.4%,#3e27aa 78.7%,#3e27aa 95.7%,#402ab4 96.8%,#4746ea 97.9%,#4368fe 98.7%,#3578fd 99.5%,#2e85f8 100%"></i><i style="left:20.5px;width:8.6px;--p:47%;--g:#3e26a8 0%,#3e26a8 64.2%,#3e27a9 70.2%,#3e27a9 74.4%,#3e27aa 78.7%,#3e27aa 96.8%,#3f28ae 97.9%,#4757f7 98.7%,#3579fd 99.5%,#2e85f8 100%"></i><i style="left:24.5px;width:8.6px;--p:47%;--g:#3e26a8 0%,#3e26a8 64.2%,#3e27a9 70.2%,#3e27aa 74.4%,#3e27aa 94%,#3f28af 95.7%,#402ab4 96.8%,#4747eb 97.9%,#4660fc 98.7%,#3579fd 99.5%,#2e85f8 100%"></i><i style="left:28.5px;width:8.6px;--p:47%;--g:#3e26a8 0%,#3e26a8 64.2%,#3e27a9 70.2%,#3e27aa 74.4%,#3e27aa 95.7%,#402ab4 96.8%,#4746ea 97.9%,#4464fd 98.7%,#3579fd 99.5%,#2e85f8 100%"></i><i style="left:32.5px;width:8.6px;--p:47%;--g:#3e26a8 0%,#3e26a8 64.2%,#3e27a9 70.2%,#3e27aa 74.4%,#3e27aa 96.8%,#4331c8 97.9%,#4758f8 98.7%,#3479fd 99.5%,#2e85f8 100%"></i><i style="left:36.5px;width:8.6px;--p:47%;--g:#3e26a8 0%,#3e26a8 64.2%,#3e27a9 70.2%,#3e27aa 74.4%,#3e27aa 78.7%,#3e27ab 83%,#3e27ab 95.7%,#3f29b1 96.8%,#4848ec 97.9%,#4759f8 98.7%,#3479fd 99.5%,#2e85f8 100%"></i><i style="left:40.5px;width:8.6px;--p:47%;--g:#3e26a8 0%,#3e26a8 64.2%,#3e27a9 70.2%,#3e27aa 74.4%,#3e27ab 78.7%,#3e27ab 94%,#3f29b1 95.7%,#402bb6 96.8%,#4849ed 97.9%,#4269fe 98.7%,#347afd 99.5%,#2e85f8 100%"></i><i style="left:44.5px;width:8.6px;--p:47%;--g:#3e26a8 0%,#3e26a8 64.2%,#3e27a9 70.2%,#3e27aa 74.4%,#3e27ab 78.7%,#3e27ab 86.4%,#3e27aa 89.3%,#3e27ab 91.9%,#3e27ab 94%,#3f29b0 95.7%,#402bb6 96.8%,#4746ea 97.9%,#4269fe 98.7%,#347afd 99.5%,#2e85f8 100%"></i><i style="left:48.5px;width:8.6px;--p:47%;--g:#3e26a8 0%,#3e26a8 64.2%,#3e27a9 70.2%,#3e27aa 74.4%,#3e27ab 78.7%,#3e27ab 96.8%,#3f29b1 97.9%,#4759f9 98.7%,#347afd 99.5%,#2e85f8 100%"></i><i style="left:52.5px;width:8.6px;--p:47%;--g:#4435d2 0%,#412dbd 6.3%,#422fc2 12.7%,#422fc1 16.9%,#422fc2 21.2%,#4330c5 24.2%,#4331c7 27.6%,#4332ca 31.4%,#4434cf 35.2%,#422ebf 38.6%,#422ebf 42.5%,#4230c3 45.9%,#422ebf 49.7%,#422fc2 53.6%,#4434cf 57.4%,#4331c7 60.8%,#4331c6 64.2%,#4434d0 70.2%,#4535d2 74.4%,#422fc2 78.7%,#4435d0 83%,#4332cb 86.4%,#4330c5 89.3%,#4331c6 91.9%,#4230c3 94%,#422fc2 95.7%,#422ebf 96.8%,#4743e7 97.9%,#475bfa 98.7%,#347afd 99.5%,#2e85f8 100%"></i><i style="left:56.5px;width:8.6px;--p:47%;--g:#3e26a8 0%,#3e26a8 64.2%,#3e27a9 70.2%,#3e27aa 74.4%,#3e27ab 78.7%,#3e27ab 96.8%,#4740e3 97.9%,#475af9 98.7%,#337afd 99.5%,#2e85f8 100%"></i><i style="left:60.5px;width:8.6px;--p:47%;--g:#4332c8 0%,#422fc0 6.3%,#412dbd 12.7%,#412dbb 16.9%,#4332c9 21.2%,#4434d0 24.2%,#4434ce 27.6%,#412dbc 31.4%,#4433cd 35.2%,#4331c7 38.6%,#412cba 42.5%,#4332ca 45.9%,#412dbc 49.7%,#4332c9 53.6%,#4330c5 57.4%,#4434cd 60.8%,#4434ce 64.2%,#4434ce 70.2%,#4433cc 74.4%,#4434ce 78.7%,#412dbd 83%,#422fc1 86.4%,#422fc2 89.3%,#4330c5 91.9%,#4433cd 94%,#412dbc 95.7%,#422ebf 96.8%,#4848ec 97.9%,#475af9 98.7%,#337afd 99.5%,#2e85f8 100%"></i><i style="left:64.5px;width:8.6px;--p:47%;--g:#3e26a8 0%,#3e26a8 64.2%,#3e27a9 70.2%,#3e27aa 74.4%,#3e27ab 78.7%,#3e27ab 94%,#402bb7 95.7%,#412dbc 96.8%,#4848ec 97.9%,#4563fd 98.7%,#337bfd 99.5%,#2e85f8 100%"></i><i style="left:68.5px;width:8.6px;--p:47%;--g:#3e26a8 0%,#3e26a8 64.2%,#3e27aa 70.2%,#3e27aa 74.4%,#3e27ac 78.7%,#3e27ac 95.7%,#412cb9 96.8%,#484ff2 97.9%,#4368fd 98.7%,#337bfd 99.5%,#2e85f8 100%"></i><i style="left:72.5px;width:8.6px;--p:47%;--g:#3e26a8 0%,#3e26a8 64.2%,#3e27aa 70.2%,#3e27ab 74.4%,#3e27ac 78.7%,#3e27ac 86.4%,#3e28ac 89.3%,#3e27ac 91.9%,#3e27ac 96.8%,#484ff2 97.9%,#475bfa 98.7%,#337bfc 99.5%,#2e85f8 100%"></i><i style="left:76.5px;width:8.6px;--p:47%;--g:#3e26a8 0%,#3e26a8 64.2%,#3e27aa 70.2%,#3e27ab 74.4%,#3e27ac 78.7%,#3e27ac 83%,#3e28ac 86.4%,#3e28ac 89.3%,#3e27ac 91.9%,#3e27ac 95.7%,#412ebe 96.8%,#484aed 97.9%,#406dfe 98.7%,#337bfc 99.5%,#2e85f8 100%"></i><i style="left:80.5px;width:8.6px;--p:47%;--g:#422ebf 0%,#4433cc 6.3%,#412cb9 12.7%,#4330c5 16.9%,#412dbd 21.2%,#4332ca 24.2%,#4330c5 27.6%,#412cba 31.4%,#412dbb 35.2%,#4230c3 38.6%,#4432cb 42.5%,#4330c4 45.9%,#412cba 49.7%,#422fc1 53.6%,#422ebf 57.4%,#4331c8 60.8%,#412dbc 64.2%,#4332c9 70.2%,#422fc1 74.4%,#422fc0 78.7%,#412dbb 83%,#4330c4 86.4%,#412dbc 89.3%,#412dbd 91.9%,#422fc0 94%,#422ec0 95.7%,#422fc2 96.8%,#4332cb 97.9%,#475cfa 98.7%,#327bfc 99.5%,#2e85f8 100%"></i><i style="left:84.5px;width:8.6px;--p:47%;--g:#3e26a8 0%,#3e26a8 64.2%,#3e27aa 70.2%,#3e27ab 74.4%,#3e27ac 78.7%,#3e27ac 94%,#412cb9 95.7%,#422fc1 96.8%,#4848ec 97.9%,#4563fd 98.7%,#327bfc 99.5%,#2e85f8 100%"></i><i style="left:88.5px;width:8.6px;--p:47%;--g:#3e26a8 0%,#3e26a8 64.2%,#3e27aa 70.2%,#3e27ab 74.4%,#3e27ac 78.7%,#3e27ac 86.4%,#3e28ac 89.3%,#3e27ac 91.9%,#3e27ac 94%,#422ebf 95.7%,#4330c5 96.8%,#484bef 97.9%,#416bfe 98.7%,#327cfc 99.5%,#2e85f8 100%"></i><i style="left:92.5px;width:8.6px;--p:47%;--g:#3e26a8 0%,#3e26a8 64.2%,#3e27aa 70.2%,#3e27ab 74.4%,#3e27ac 78.7%,#3e27ac 86.4%,#3e28ac 89.3%,#3e28ac 95.7%,#4331c7 96.8%,#484aee 97.9%,#426afe 98.7%,#327cfc 99.5%,#2e85f8 100%"></i><i style="left:96.5px;width:8.6px;--p:47%;--g:#3e26a8 0%,#3e26a8 64.2%,#3e27aa 70.2%,#3e27ab 74.4%,#3e27ac 78.7%,#3e27ac 83%,#3e28ac 86.4%,#3f28ad 89.3%,#3e28ac 91.9%,#3e28ac 96.8%,#4853f4 97.9%,#465dfb 98.7%,#327cfc 99.5%,#2e85f8 100%"></i><i style="left:100.5px;width:8.6px;--p:47%;--g:#3e26a8 0%,#3e26a8 64.2%,#3e27aa 70.2%,#3e27ab 74.4%,#3f28ad 78.7%,#3e28ac 83%,#3f28ad 86.4%,#3f28ad 89.3%,#3e28ac 91.9%,#3e28ac 96.8%,#4332ca 97.9%,#465efb 98.7%,#327cfc 99.5%,#2e85f8 100%"></i><i style="left:104.5px;width:8.6px;--p:47%;--g:#3e26a8 0%,#3e26a8 64.2%,#3e27aa 70.2%,#3e27ab 74.4%,#3e28ac 78.7%,#3f28ad 83%,#3e28ac 86.4%,#3f28ad 89.3%,#3e28ad 91.9%,#3e28ad 94%,#4331c7 95.7%,#4433cb 96.8%,#484bee 97.9%,#4269fe 98.7%,#327cfc 99.5%,#2e85f8 100%"></i><i style="left:108.5px;width:8.6px;--p:47%;--g:#3e26a8 0%,#3e26a8 64.2%,#3e27aa 70.2%,#3e27ac 74.4%,#3f28ad 78.7%,#3f28ad 94%,#422fc2 95.7%,#4435d2 96.8%,#4757f7 97.9%,#317efb 98.7%,#317dfc 99.5%,#2e86f8 100%"></i><i style="left:112.5px;width:8.6px;--p:47%;--g:#4741e5 0%,#4743e7 6.3%,#4639da 12.7%,#4538d7 16.9%,#4537d5 21.2%,#463adb 24.2%,#4538d7 27.6%,#473fe3 31.4%,#4741e4 35.2%,#4539d9 38.6%,#4743e7 42.5%,#4537d6 45.9%,#4741e4 49.7%,#4539d9 53.6%,#4743e7 57.4%,#4740e4 60.8%,#4743e7 64.2%,#463cde 70.2%,#4435d1 74.4%,#473ee1 78.7%,#4740e3 83%,#4741e5 86.4%,#4537d6 89.3%,#4539d9 91.9%,#4435d1 94%,#4741e6 95.7%,#4434d0 96.8%,#484bef 97.9%,#3f6fff 98.7%,#317efb 99.5%,#2e87f7 100%"></i><i style="left:116.5px;width:8.6px;--p:47%;--g:#3e26a8 0%,#3e26a8 64.2%,#3e27aa 70.2%,#3e27ab 74.4%,#3f28ad 78.7%,#3f28ad 86.4%,#3e28ad 89.3%,#3f28ad 91.9%,#3f28ad 95.7%,#4535d2 96.8%,#4756f6 97.9%,#3678fe 98.7%,#307ffb 99.5%,#2d88f6 100%"></i><i style="left:120.5px;width:8.6px;--p:47%;--g:#3e26a8 0%,#3e26a8 64.2%,#3e27aa 70.2%,#3e27ac 74.4%,#3f28ad 78.7%,#3f28ae 83%,#3f29b0 86.4%,#3f29b1 89.3%,#3f29b1 94%,#4433cd 95.7%,#463bdd 96.8%,#4757f7 97.9%,#3e6fff 98.7%,#2f80fa 99.5%,#2d89f6 100%"></i><i style="left:124.5px;width:8.6px;--p:47%;--g:#3e26a8 0%,#3e26a8 64.2%,#3e27aa 70.2%,#3e27ac 74.4%,#3f28ad 78.7%,#3f29b2 83%,#402ab4 86.4%,#402bb6 89.3%,#402bb6 96.8%,#402bb7 97.9%,#4562fc 98.7%,#2f81fa 99.5%,#2d89f5 100%"></i><i style="left:128.5px;width:8.6px;--p:47%;--g:#3e26a8 0%,#3e26a8 64.2%,#3e27aa 70.2%,#3e27ac 74.4%,#3f28ad 78.7%,#3f29b2 83%,#402bb6 86.4%,#412dbb 89.3%,#412cba 91.9%,#412cba 95.7%,#422fc2 96.8%,#4660fb 97.9%,#4563fc 98.7%,#2f82f9 99.5%,#2d8af4 100%"></i><i style="left:132.5px;width:8.6px;--p:47%;--g:#3e26a8 0%,#3e26a8 64.2%,#3e28ac 70.2%,#3f29b0 74.4%,#402ab3 78.7%,#402bb8 83%,#412dbb 86.4%,#412ebe 89.3%,#422ebe 91.9%,#422ebe 96.8%,#4434cd 97.9%,#4564fd 98.7%,#2e83f9 99.5%,#2d8bf3 100%"></i><i style="left:136.5px;width:8.6px;--p:47%;--g:#3e26a8 0%,#3e26a8 64.2%,#3f28ad 70.2%,#3f29b1 74.4%,#402ab4 78.7%,#412cb9 83%,#412ebe 86.4%,#422fc3 89.3%,#422fc2 91.9%,#422fc2 96.8%,#463ee1 97.9%,#4464fd 98.7%,#2e84f8 99.5%,#2d8cf3 100%"></i><i style="left:140.5px;width:8.6px;--p:47%;--g:#3e26a8 0%,#3e26a8 64.2%,#3f28ae 70.2%,#4029b2 74.4%,#402bb6 78.7%,#412ebe 83%,#4230c4 86.4%,#4433cb 89.3%,#4433cc 91.9%,#4433cc 96.8%,#4742e6 97.9%,#4465fd 98.7%,#2e85f8 99.5%,#2d8df2 100%"></i><i style="left:144.5px;width:8.6px;--p:47%;--g:#3e26a8 0%,#3e26a8 64.2%,#3f29b0 70.2%,#402ab5 74.4%,#412cb9 78.7%,#4332ca 83%,#4537d6 86.4%,#463cde 89.3%,#463cde 96.8%,#4466fd 97.9%,#4466fd 98.7%,#2e86f7 99.5%,#2c8ef1 100%"></i><i style="left:148.5px;width:8.6px;--p:47%;--g:#3e26a8 0%,#3e26a8 53.6%,#3e26a9 57.4%,#3e26a9 64.2%,#3f29b1 70.2%,#402bb7 74.4%,#412dbb 78.7%,#4434cf 83%,#473fe3 86.4%,#4849ed 89.3%,#4746ea 91.9%,#4746ea 95.7%,#484bef 96.8%,#4367fd 97.9%,#2d89f5 98.7%,#2e87f7 99.5%,#2c8ff0 100%"></i><i style="left:152.5px;width:8.6px;--p:47%;--g:#3e26a8 0%,#3e26a8 49.7%,#3e27aa 53.6%,#3e27ab 57.4%,#3e28ac 60.8%,#3f28ae 64.2%,#412cba 70.2%,#422fc2 74.4%,#4332ca 78.7%,#4741e5 83%,#484ef1 86.4%,#4756f7 89.3%,#4851f3 91.9%,#4851f3 95.7%,#4758f8 96.8%,#4368fe 97.9%,#3479fd 98.7%,#2d88f6 99.5%,#2c90f0 100%"></i><i style="left:156.5px;width:8.6px;--p:47%;--g:#4537d6 0%,#4331c8 6.3%,#4536d3 12.7%,#4538d8 16.9%,#4434cf 21.2%,#4536d3 24.2%,#4332c9 27.6%,#4435d1 31.4%,#4433cb 35.2%,#4433cc 38.6%,#4332c8 42.5%,#4435d0 45.9%,#4330c5 49.7%,#4230c4 53.6%,#4435d1 57.4%,#4639da 60.8%,#4433cd 64.2%,#463cdf 70.2%,#4536d4 74.4%,#4538d8 78.7%,#4741e5 83%,#4848ec 86.4%,#4851f3 89.3%,#4852f4 91.9%,#4852f4 96.8%,#4759f8 97.9%,#4369fe 98.7%,#2d89f5 99.5%,#2b91ef 100%"></i><i style="left:160.5px;width:8.6px;--p:47%;--g:#3e26a8 0%,#3e26a8 21.2%,#3e26a9 24.2%,#3e27a9 27.6%,#3e27a9 31.4%,#3e27aa 35.2%,#3e27ab 38.6%,#3f28ad 42.5%,#3f28ae 45.9%,#3f29b0 49.7%,#3f29b0 53.6%,#4029b2 57.4%,#402ab5 60.8%,#402bb6 64.2%,#4332c9 70.2%,#4537d6 74.4%,#463ee1 78.7%,#4743e7 83%,#4746eb 86.4%,#4850f3 89.3%,#484df0 91.9%,#4853f5 94%,#4853f5 95.7%,#465ffb 96.8%,#426afe 97.9%,#3677fe 98.7%,#2d8af4 99.5%,#2b92ee 100%"></i><i style="left:164.5px;width:8.6px;--p:47%;--g:#3e28ac 0%,#3e28ac 6.3%,#3f28ad 12.7%,#3f28ad 16.9%,#3e28ad 21.2%,#3f28ae 24.2%,#3f28ae 27.6%,#3f28af 31.4%,#3f28af 35.2%,#3f29b1 38.6%,#4029b3 42.5%,#402ab4 45.9%,#402ab5 49.7%,#412dbb 53.6%,#422fc1 57.4%,#4331c8 60.8%,#4332ca 64.2%,#4539d8 70.2%,#473fe2 74.4%,#4848ec 78.7%,#484cf0 83%,#484ff2 86.4%,#4851f3 89.3%,#4854f5 91.9%,#4854f5 94%,#465efb 95.7%,#4368fe 96.8%,#416bfe 97.9%,#2e85f8 98.7%,#2d8cf3 99.5%,#2a93ed 100%"></i><i style="left:168.5px;width:8.6px;--p:47%;--g:#3f29b1 0%,#3f29b1 21.2%,#3f29b2 24.2%,#3f29b2 27.6%,#402ab3 31.4%,#402ab5 35.2%,#402bb8 38.6%,#412dbc 42.5%,#422fc0 45.9%,#422fc1 49.7%,#4433cd 53.6%,#4536d4 57.4%,#4639da 60.8%,#463cde 64.2%,#463ee1 70.2%,#4744e8 74.4%,#4745e9 78.7%,#484cef 83%,#4850f2 86.4%,#4852f4 89.3%,#4755f6 91.9%,#4755f6 95.7%,#475dfa 96.8%,#406dfe 97.9%,#327cfc 98.7%,#2d8df2 99.5%,#2895ec 100%"></i><i style="left:172.5px;width:8.6px;--p:47%;--g:#402bb7 0%,#412cb8 6.3%,#402cb8 12.7%,#402cb8 16.9%,#412cb8 21.2%,#412cba 24.2%,#412dbc 27.6%,#422ebf 31.4%,#422fc0 35.2%,#4331c8 38.6%,#4433cc 42.5%,#4536d3 45.9%,#4639d9 49.7%,#463adb 53.6%,#473fe3 57.4%,#4742e6 60.8%,#4743e7 64.2%,#4849ed 70.2%,#484cf0 74.4%,#484df0 78.7%,#4853f5 83%,#4757f7 86.4%,#4758f8 89.3%,#4756f6 91.9%,#4756f6 96.8%,#4757f7 97.9%,#3f6eff 98.7%,#2c8ff1 99.5%,#2796eb 100%"></i><i style="left:176.5px;width:8.6px;--p:47%;--g:#4332c9 0%,#4331c8 6.3%,#4332ca 12.7%,#4332c9 16.9%,#4332ca 21.2%,#4433cc 24.2%,#4435d1 27.6%,#4434cf 31.4%,#4536d3 35.2%,#4538d8 38.6%,#463cde 42.5%,#463cde 45.9%,#473fe3 49.7%,#4740e4 53.6%,#4742e6 57.4%,#4742e6 64.2%,#4745e9 70.2%,#4745e9 74.4%,#4747eb 78.7%,#4850f2 83%,#4853f5 86.4%,#4853f5 89.3%,#4757f7 91.9%,#4757f7 94%,#4757f8 95.7%,#426afe 96.8%,#3d70ff 97.9%,#2d8af5 98.7%,#2b91ef 99.5%,#2798ea 100%"></i><i style="left:180.5px;width:8.6px;--p:47%;--g:#463cde 0%,#463ada 6.3%,#4539d9 12.7%,#463cdf 16.9%,#463cde 21.2%,#473fe2 24.2%,#4741e4 27.6%,#463ee1 31.4%,#4740e3 35.2%,#4740e3 38.6%,#4741e5 42.5%,#4740e4 45.9%,#4741e5 49.7%,#4743e7 53.6%,#4745e9 57.4%,#4745e9 64.2%,#484aed 70.2%,#484aee 74.4%,#484df0 78.7%,#4755f6 83%,#4758f8 86.4%,#4758f8 94%,#475af9 95.7%,#3c72ff 96.8%,#3c72ff 97.9%,#2d89f6 98.7%,#2a92ee 99.5%,#2699e9 100%"></i><i style="left:184.5px;width:8.6px;--p:47%;--g:#4740e4 0%,#4745e9 6.3%,#4741e5 12.7%,#4740e3 16.9%,#4741e5 21.2%,#4743e7 24.2%,#4740e4 27.6%,#473fe2 31.4%,#473fe2 35.2%,#4740e4 38.6%,#4744e8 42.5%,#4743e7 45.9%,#4744e8 49.7%,#4746ea 53.6%,#4747ec 57.4%,#4848ec 60.8%,#4747eb 64.2%,#484aee 70.2%,#484df0 74.4%,#4852f4 78.7%,#4757f7 83%,#465efb 86.4%,#4561fc 89.3%,#4759f8 91.9%,#4759f8 94%,#465ffb 95.7%,#3a73fe 96.8%,#3a73fe 97.9%,#2d8cf3 98.7%,#2994ed 99.5%,#259be8 100%"></i><i style="left:188.5px;width:8.6px;--p:47%;--g:#463cdf 0%,#463ee1 6.3%,#473ee1 12.7%,#473fe3 16.9%,#4740e3 21.2%,#473fe3 24.2%,#463bde 27.6%,#463ddf 31.4%,#463cdf 35.2%,#463de0 38.6%,#463ee1 42.5%,#463cdf 45.9%,#463de0 49.7%,#463ee1 53.6%,#473fe2 57.4%,#4743e7 60.8%,#4741e5 64.2%,#4744e8 70.2%,#4745e9 74.4%,#4744e8 78.7%,#484ff2 83%,#4851f4 86.4%,#4853f5 89.3%,#475cfa 91.9%,#475dfa 94%,#475dfa 95.7%,#426afe 96.8%,#3875fe 97.9%,#307ffb 98.7%,#2895ec 99.5%,#259ce7 100%"></i><i style="left:192.5px;width:8.6px;--p:47%;--g:#4742e6 0%,#4747eb 6.3%,#4746ea 12.7%,#4742e6 16.9%,#4744e8 21.2%,#4743e7 24.2%,#4740e3 27.6%,#4740e4 31.4%,#473fe2 35.2%,#4741e5 38.6%,#4740e4 42.5%,#4742e6 45.9%,#4745e9 49.7%,#4743e7 53.6%,#4745e9 57.4%,#4849ed 60.8%,#484aee 64.2%,#484df0 70.2%,#484ef1 74.4%,#4850f3 78.7%,#4758f8 83%,#465efb 86.4%,#4564fd 89.3%,#4660fc 91.9%,#4660fc 94%,#4561fc 95.7%,#3579fd 96.8%,#3579fd 97.9%,#2d89f5 98.7%,#2798ea 99.5%,#249ee6 100%"></i><i style="left:196.5px;width:8.6px;--p:47%;--g:#4848ec 0%,#484bee 6.3%,#4746eb 12.7%,#4848ec 16.9%,#4745e9 21.2%,#4746ea 24.2%,#4848ec 27.6%,#4744e9 31.4%,#4746eb 35.2%,#4746ea 38.6%,#4849ed 42.5%,#4746ea 45.9%,#4746ea 49.7%,#4848ec 53.6%,#484ff2 57.4%,#484df1 60.8%,#484cef 64.2%,#484ef1 70.2%,#4853f5 74.4%,#4853f5 78.7%,#4561fc 83%,#4269fe 86.4%,#406dfe 89.3%,#4464fd 91.9%,#4464fd 95.7%,#4465fd 96.8%,#317efb 97.9%,#317efb 98.7%,#259be8 99.5%,#23a0e5 100%"></i><i style="left:200.5px;width:8.6px;--p:47%;--g:#4740e4 0%,#473fe3 6.3%,#463ee1 12.7%,#473fe2 16.9%,#473fe2 24.2%,#4741e5 27.6%,#473ee2 31.4%,#463ee1 35.2%,#473fe2 38.6%,#4741e5 42.5%,#4742e6 45.9%,#4742e6 49.7%,#4744e8 53.6%,#4744e8 57.4%,#4742e6 60.8%,#4743e7 64.2%,#4747eb 70.2%,#484cf0 74.4%,#4849ed 78.7%,#4757f7 83%,#465ffb 86.4%,#406cfe 89.3%,#4368fe 91.9%,#4368fe 94%,#416bfe 95.7%,#2f81fa 96.8%,#2e83f9 97.9%,#2c8ff1 98.7%,#23a0e5 99.5%,#20a4e3 100%"></i><i style="left:204.5px;width:8.6px;--p:47%;--g:#4746eb 0%,#4848ec 6.3%,#4746ea 12.7%,#4746ea 16.9%,#4745e9 21.2%,#4746ea 24.2%,#4745e9 27.6%,#4746ea 31.4%,#4743e7 35.2%,#4745e9 38.6%,#4849ed 42.5%,#4848ec 45.9%,#4747ec 49.7%,#4848ec 53.6%,#4746ea 57.4%,#484aee 60.8%,#484df0 64.2%,#4851f3 70.2%,#4853f5 74.4%,#4851f3 78.7%,#4759f8 83%,#4660fb 86.4%,#4368fe 89.3%,#406cfe 91.9%,#406cfe 95.7%,#327cfc 96.8%,#2d88f6 97.9%,#269ae9 98.7%,#20a5e3 99.5%,#1da8e0 100%"></i><i style="left:208.5px;width:8.6px;--p:47%;--g:#4744e8 0%,#4747eb 6.3%,#4746eb 12.7%,#4848ec 16.9%,#4746eb 21.2%,#4747eb 24.2%,#4849ed 27.6%,#4848ec 31.4%,#4746ea 35.2%,#4747eb 38.6%,#4747eb 42.5%,#4744e9 45.9%,#4747eb 49.7%,#484cf0 53.6%,#484bef 57.4%,#484ef1 60.8%,#484ef1 64.2%,#4854f5 70.2%,#4758f8 74.4%,#4759f9 78.7%,#4660fb 83%,#406cfe 86.4%,#3975fe 89.3%,#3c71ff 91.9%,#3c71ff 96.8%,#2d8df2 97.9%,#2d8df2 98.7%,#1da9e0 99.5%,#1aacdd 100%"></i><i style="left:212.5px;width:7.6px;--p:53%;--g:#4746ea 0%,#4747eb 6.3%,#4745e9 12.7%,#4744e8 16.9%,#4745e9 21.2%,#4744e9 24.2%,#4746ea 27.6%,#4747eb 31.4%,#4743e7 35.2%,#4744e9 38.6%,#4744e8 42.5%,#4848ec 45.9%,#4848ec 49.7%,#4747eb 53.6%,#4747eb 57.4%,#484df1 60.8%,#484bee 64.2%,#484ef1 70.2%,#4755f6 74.4%,#4851f4 78.7%,#465efb 83%,#4367fd 86.4%,#4368fe 89.3%,#3d71ff 91.9%,#3777fe 94%,#3777fe 95.7%,#2d8bf4 96.8%,#2b92ef 97.9%,#22a2e4 98.7%,#18addb 99.5%,#14b0d8 100%"></i><i style="left:216.5px;width:6.6px;--p:45%;--g:#4746ea 0%,#4747eb 6.3%,#4744e8 12.7%,#4745e9 16.9%,#4744e8 21.2%,#4741e4 24.2%,#4744e8 27.6%,#4745e9 31.4%,#4747eb 35.2%,#4848ec 38.6%,#4743e7 42.5%,#4848ec 45.9%,#484aee 49.7%,#4849ed 53.6%,#484cef 57.4%,#4848ec 60.8%,#484cf0 64.2%,#484ff2 70.2%,#484ff2 74.4%,#484bef 78.7%,#475dfa 83%,#4564fd 86.4%,#3f6eff 89.3%,#3875fe 91.9%,#337bfc 94%,#337bfc 96.8%,#2d8bf4 97.9%,#2698ea 98.7%,#11b1d6 99.5%,#0fb2d5 100%"></i><i style="left:219.5px;width:6.6px;--p:45%;--g:#484aed 0%,#4743e8 6.3%,#4747eb 12.7%,#484aee 16.9%,#4848ec 21.2%,#4849ed 24.2%,#4849ed 27.6%,#484bef 31.4%,#4848ec 35.2%,#4745e9 38.6%,#4849ed 42.5%,#484bef 45.9%,#484ef1 49.7%,#4850f2 53.6%,#4852f4 57.4%,#484ff2 60.8%,#4852f4 64.2%,#4756f6 70.2%,#475dfa 74.4%,#475af9 78.7%,#416bfe 83%,#3579fd 86.4%,#2e83f9 89.3%,#307ffb 91.9%,#307ffb 96.8%,#2e84f9 97.9%,#23a0e5 98.7%,#04b6cd 99.5%,#06b6ce 100%"></i><i style="left:222.5px;width:6.6px;--p:45%;--g:#4747eb 0%,#4744e8 6.3%,#4746ea 12.7%,#4746eb 16.9%,#4740e4 21.2%,#4744e8 24.2%,#4744e8 27.6%,#4746ea 31.4%,#4848ec 35.2%,#484cef 38.6%,#484cf0 42.5%,#484cf0 45.9%,#4851f3 49.7%,#484df0 53.6%,#484ef1 57.4%,#4850f2 60.8%,#4850f2 64.2%,#484ff2 70.2%,#4853f5 74.4%,#4661fc 78.7%,#4564fd 83%,#3b73fe 86.4%,#317dfc 89.3%,#2e83f9 91.9%,#2e83f9 94%,#2d8df2 95.7%,#21a3e3 96.8%,#1ea7e1 97.9%,#0ebdbb 98.7%,#06bcc0 99.5%,#04bbc1 100%"></i><i style="left:225.5px;width:6.6px;--p:45%;--g:#4745e9 0%,#4746ea 6.3%,#4744e8 12.7%,#4746ea 16.9%,#4744e8 21.2%,#4747eb 24.2%,#4848ec 27.6%,#4746ea 31.4%,#4746ea 35.2%,#484aee 38.6%,#484ef1 42.5%,#484bef 45.9%,#484cef 49.7%,#4854f5 53.6%,#4851f4 57.4%,#4851f3 60.8%,#484ef1 64.2%,#4757f7 70.2%,#475af9 74.4%,#475cfa 78.7%,#416bfe 83%,#3a74fe 86.4%,#3579fd 89.3%,#2d88f6 91.9%,#2d88f6 96.8%,#2b92ee 97.9%,#17aedb 98.7%,#1dc0b3 99.5%,#1bc0b4 100%"></i><i style="left:228.5px;width:6.6px;--p:45%;--g:#4744e8 0%,#4743e7 6.3%,#4848ec 12.7%,#4747eb 16.9%,#4849ed 21.2%,#484bef 24.2%,#4849ed 27.6%,#4747eb 31.4%,#484bef 35.2%,#484bef 38.6%,#484ff2 42.5%,#4851f3 45.9%,#484ff2 49.7%,#484cef 53.6%,#484cf0 57.4%,#484df1 60.8%,#4853f5 64.2%,#4758f8 70.2%,#4660fb 74.4%,#4562fc 78.7%,#3b73fe 83%,#2f80fa 86.4%,#2c8ff1 89.3%,#2c8ff0 91.9%,#2c8ff0 94%,#2b91ef 95.7%,#1da9e0 96.8%,#08b5d0 97.9%,#29c3aa 98.7%,#2fc5a3 99.5%,#2dc4a5 100%"></i><i style="left:231.5px;width:6.6px;--p:45%;--g:#484df0 0%,#484bef 6.3%,#484ff2 12.7%,#484cf0 16.9%,#484cef 21.2%,#4850f2 24.2%,#4853f5 27.6%,#4851f3 31.4%,#484ff2 35.2%,#4853f5 38.6%,#4852f4 42.5%,#484ef1 45.9%,#4853f4 49.7%,#4852f4 53.6%,#4755f6 57.4%,#4758f8 60.8%,#4854f5 64.2%,#475cfa 70.2%,#4464fd 74.4%,#3e6fff 78.7%,#2e84f8 83%,#2d8af4 86.4%,#259ce7 89.3%,#2896eb 91.9%,#2896eb 94%,#2796eb 95.7%,#01b9c8 96.8%,#06bbc1 97.9%,#32c69f 98.7%,#3eca8f 99.5%,#39c895 100%"></i><i style="left:234.5px;width:6.6px;--p:45%;--g:#4745e9 0%,#4744e9 6.3%,#4747eb 12.7%,#4849ed 16.9%,#484df1 21.2%,#484ff2 24.2%,#484ef1 27.6%,#4851f3 31.4%,#484ff2 35.2%,#4854f5 38.6%,#4851f3 42.5%,#4851f3 45.9%,#4851f4 49.7%,#4851f3 53.6%,#4757f7 57.4%,#4759f8 60.8%,#475af9 64.2%,#4369fe 70.2%,#406cfe 74.4%,#3e70ff 78.7%,#3080fa 83%,#2797eb 86.4%,#259ce7 89.3%,#259de7 91.9%,#259de7 94%,#21a3e3 95.7%,#06b5cf 96.8%,#1fc1b1 97.9%,#3bc992 98.7%,#62cd71 99.5%,#57cc7a 100%"></i><i style="left:237.5px;width:6.6px;--p:45%;--g:#4853f4 0%,#4854f5 6.3%,#4850f2 12.7%,#4755f6 16.9%,#4758f8 21.2%,#475cfa 24.2%,#4759f8 27.6%,#4759f9 31.4%,#4758f8 35.2%,#4757f7 38.6%,#475bf9 42.5%,#465ffb 45.9%,#406cfe 49.7%,#3f6eff 53.6%,#4564fd 57.4%,#4466fd 60.8%,#4269fe 64.2%,#3c71ff 70.2%,#3080fb 74.4%,#2e87f7 78.7%,#2994ed 83%,#249ee6 86.4%,#21a3e3 89.3%,#10b2d5 91.9%,#14bfb8 94%,#2ec4a4 95.7%,#3bc992 96.8%,#53cc7d 97.9%,#b6c532 98.7%,#8dcb4f 99.5%,#82cc58 100%"></i><i style="left:240.5px;width:6.6px;--p:45%;--g:#475bf9 0%,#4660fc 6.3%,#465efb 12.7%,#4759f8 16.9%,#4660fc 21.2%,#465dfa 24.2%,#4758f8 27.6%,#465efb 31.4%,#475bf9 35.2%,#4563fc 38.6%,#4563fd 42.5%,#4466fd 45.9%,#4368fd 49.7%,#4368fe 53.6%,#4466fd 57.4%,#4367fd 60.8%,#4465fd 64.2%,#3b72ff 70.2%,#3579fd 74.4%,#2e87f7 78.7%,#249ee6 83%,#1fa5e2 86.4%,#1baade 89.3%,#05b6ce 91.9%,#18bfb6 94%,#39c895 95.7%,#53cc7d 96.8%,#a5c83d 97.9%,#e7bb2d 98.7%,#b9c431 99.5%,#adc638 100%"></i><i style="left:243.5px;width:5.8px;--p:52%;--g:#465ffb 0%,#475dfa 6.3%,#4661fc 12.7%,#465ffb 16.9%,#465ffb 21.2%,#475bf9 24.2%,#475cfa 27.6%,#4562fc 31.4%,#465efb 35.2%,#4564fd 38.6%,#4466fd 42.5%,#416cfe 45.9%,#3e6fff 49.7%,#4269fe 53.6%,#3e6fff 57.4%,#3c72ff 60.8%,#3f6dfe 64.2%,#327cfc 70.2%,#2f82fa 74.4%,#2d88f6 78.7%,#2c8ef1 83%,#259be8 86.4%,#22a2e4 89.3%,#02b7cb 91.9%,#04bbc2 94%,#1cc0b4 95.7%,#31c6a0 96.8%,#30c5a1 97.9%,#5fcd73 98.7%,#debd2a 99.5%,#d3bf27 100%"></i><i style="left:246.5px;width:5.0px;--p:44%;--g:#347afd 0%,#3678fe 6.3%,#3d70ff 12.7%,#3c71ff 16.9%,#3c72ff 21.2%,#3a73fe 24.2%,#347afd 27.6%,#3578fd 31.4%,#3975fe 35.2%,#2e83f9 38.6%,#317efb 42.5%,#2f81fa 45.9%,#2f80fa 49.7%,#2e87f7 53.6%,#2e85f8 57.4%,#2d8af5 60.8%,#2c8ef1 64.2%,#2798ea 70.2%,#2797eb 74.4%,#21a4e3 78.7%,#15afd9 83%,#05b6ce 86.4%,#02bac4 89.3%,#33c69d 91.9%,#3fca8e 94%,#5dcc74 95.7%,#a4c83e 96.8%,#bfc32d 97.9%,#f1ba36 98.7%,#f5ba3a 99.5%,#ecba33 100%"></i><i style="left:248.7px;width:5.0px;--p:44%;--g:#2f81fa 0%,#317dfc 6.3%,#3777fe 12.7%,#327dfc 16.9%,#2f81fa 21.2%,#317efb 24.2%,#337afd 27.6%,#2e86f7 31.4%,#2e83f9 35.2%,#2e86f8 38.6%,#2d88f6 42.5%,#2d8af5 45.9%,#2d87f6 49.7%,#2d8df2 53.6%,#2e83f9 57.4%,#2b92ee 60.8%,#2d8cf3 64.2%,#2c8ef2 70.2%,#259de7 74.4%,#2798ea 78.7%,#22a1e4 83%,#0fb2d5 86.4%,#1dc0b3 89.3%,#3fca8e 91.9%,#39c895 94%,#71cd64 95.7%,#a2c83f 96.8%,#c5c22a 97.9%,#fad42e 98.7%,#fec438 99.5%,#febe3c 100%"></i><i style="left:250.9px;width:5.0px;--p:44%;--g:#2c8ef2 0%,#2d88f6 6.3%,#2c8ff1 12.7%,#2994ed 16.9%,#2d8af4 21.2%,#2e87f7 24.2%,#2c8ff0 27.6%,#2994ed 31.4%,#2c90f0 35.2%,#2d88f6 38.6%,#2b91ef 42.5%,#2994ed 45.9%,#2a92ee 49.7%,#2d88f6 53.6%,#2b91ef 57.4%,#2b92ef 60.8%,#2c8ff0 64.2%,#259ce7 70.2%,#21a3e3 74.4%,#269ae8 78.7%,#13b1d7 83%,#04b6cd 86.4%,#21c1b0 89.3%,#77cc60 91.9%,#71cd64 94%,#91ca4c 95.7%,#dbbd29 96.8%,#fec537 97.9%,#f8d92c 98.7%,#fbd22f 99.5%,#fdcd32 100%"></i><i style="left:253.1px;width:5.0px;--p:44%;--g:#2f80fa 0%,#3080fb 6.3%,#337bfc 12.7%,#2f80fa 16.9%,#2f82f9 21.2%,#2e84f9 24.2%,#2e84f8 27.6%,#3479fd 31.4%,#307ffb 35.2%,#2e84f9 38.6%,#2e85f8 42.5%,#2d88f6 45.9%,#327cfc 49.7%,#337bfc 53.6%,#2e85f8 57.4%,#2d87f6 60.8%,#2d89f5 64.2%,#2d8af4 70.2%,#249de6 74.4%,#239fe5 78.7%,#1fa5e2 83%,#14b0d8 86.4%,#04b6cd 89.3%,#27c2ac 91.9%,#3dc990 94%,#55cc7b 95.7%,#77cc5f 96.8%,#b6c532 97.9%,#fec736 98.7%,#f6e028 99.5%,#f7dd2a 100%"></i><i style="left:255.3px;width:5.0px;--p:44%;--g:#20a4e3 0%,#21a3e4 6.3%,#2699e9 12.7%,#249fe5 16.9%,#1fa5e2 21.2%,#2798ea 24.2%,#249de6 27.6%,#22a2e4 31.4%,#249ee6 35.2%,#20a5e3 38.6%,#21a4e3 42.5%,#249fe5 45.9%,#259be8 49.7%,#19addb 53.6%,#22a1e4 57.4%,#20a5e3 60.8%,#1da8e0 64.2%,#16afd9 70.2%,#11b1d6 74.4%,#10beba 78.7%,#29c3aa 83%,#3fca8e 86.4%,#2dc4a6 89.3%,#63cd70 91.9%,#bac430 94%,#ecba33 95.7%,#fec13a 96.8%,#f9fa15 97.9%,#f9fb15 98.7%,#f5ee21 99.5%,#f5ec22 100%"></i><i style="left:257.5px;width:5.0px;--p:44%;--g:#249fe6 0%,#21a3e3 6.3%,#23a0e5 12.7%,#259be8 16.9%,#2896ec 21.2%,#259ce7 24.2%,#249de6 27.6%,#22a1e4 31.4%,#249fe6 35.2%,#249fe5 38.6%,#1fa6e2 42.5%,#23a1e4 45.9%,#23a0e5 49.7%,#259be8 53.6%,#2798ea 57.4%,#1fa6e2 60.8%,#17aeda 64.2%,#1ea7e1 70.2%,#0bb3d2 74.4%,#01b9c7 78.7%,#25c2ae 83%,#02bac3 86.4%,#32c69f 89.3%,#73cd63 91.9%,#7ccc5c 94%,#ebba31 95.7%,#f8da2b 96.8%,#f8d92c 97.9%,#f9fb15 98.7%,#f9fb15 100%"></i><i style="left:259.7px;width:5.0px;--p:44%;--g:#10b2d5 0%,#0abdbd 6.3%,#04bbc2 12.7%,#0fb2d5 16.9%,#0abdbd 21.2%,#01b9c6 24.2%,#02bac5 27.6%,#06b5ce 31.4%,#17aeda 35.2%,#15afd9 38.6%,#15afd9 42.5%,#0bb4d2 45.9%,#01bac5 49.7%,#03bbc3 53.6%,#06b5cf 57.4%,#08b5d0 60.8%,#07bcbf 64.2%,#29c3aa 70.2%,#2ac3a9 74.4%,#20c1b1 78.7%,#4ecc81 83%,#4bcb84 86.4%,#96ca49 89.3%,#f8ba3d 91.9%,#f6e028 94%,#f9fb15 95.7%,#f9fb15 100%"></i><i style="left:261.9px;width:4.4px;--p:50%;--g:#1da8e0 0%,#1aabdd 6.3%,#1ea7e1 12.7%,#1ea8e1 16.9%,#23a0e5 17.1%,#249ee6 19.1%,#17aeda 21.2%,#19addc 23.2%,#1caadf 24.2%,#1babde 25.3%,#0eb2d4 27.6%,#19addc 31.1%,#19acdc 31.4%,#249ee6 33.2%,#1ea7e1 35.2%,#20a4e3 37.3%,#22a2e4 38.6%,#1ea7e1 39.3%,#1da9e0 42.5%,#18aedb 45.6%,#05b6ce 45.9%,#17aeda 47.7%,#16afd9 49.7%,#1aabdd 51.8%,#1da9e0 53.6%,#1fa6e2 53.8%,#1da8e0 57.4%,#18addb 60.1%,#0eb2d4 60.8%,#19acdc 62.2%,#13b0d7 64.2%,#10b2d5 66.3%,#04b6cd 68.3%,#12b1d6 70.2%,#12b1d6 71.9%,#1caadf 73.6%,#0cb3d3 74.4%,#05b6ce 75.3%,#27c2ab 77%,#20c1b1 78.7%,#2fc5a3 83%,#3eca8f 86.4%,#44cb89 89.3%,#9dc943 91.9%,#e0bc2a 94%,#fccf30 95.7%,#f6dd29 96.8%,#f7dc2a 97.9%,#fcd030 98.7%,#f9fb15 99.5%,#f9fb15 100%"></i><i style="left:264.1px;width:3.8px;--p:42%;--g:#01b8c9 0%,#03b7cb 5%,#01b9c6 6.3%,#0bb3d2 6.7%,#01bac5 8.4%,#01b8ca 10.1%,#06b5ce 11.8%,#18aedb 12.7%,#0ab4d2 16.9%,#07b5d0 17.1%,#04b6cd 19.1%,#01b9c6 21.2%,#03b7cc 23.2%,#08bcbf 24.2%,#01b8c9 25.3%,#0fb2d5 27.6%,#05bbc1 31.1%,#0cb3d3 31.4%,#09b4d1 33.2%,#05b6cd 35.2%,#02b7cb 37.3%,#02bac5 38.6%,#05b6ce 39.3%,#01b8c8 42.5%,#04bbc1 45.6%,#19addc 45.9%,#04b6cc 47.7%,#01b9c8 49.7%,#04bbc2 51.8%,#09b4d1 53.6%,#06b6ce 53.8%,#0ab4d1 54%,#06b5cf 55.7%,#08bcbf 57.4%,#1cc0b3 59.1%,#01b8c9 60.1%,#0db3d3 60.8%,#09b4d1 62.2%,#01bac5 64.2%,#1cc0b4 66.3%,#29c3a9 68.3%,#28c3aa 70.2%,#39c995 71.9%,#1dc0b3 73.6%,#31c6a0 74.4%,#47cb87 75.3%,#3eca90 77%,#2fc5a3 78.7%,#75cc61 83%,#5bcc76 86.4%,#74cc62 89.3%,#edba33 91.9%,#f5e327 94%,#f7f61a 95.7%,#fdcc32 96.8%,#f6de29 97.9%,#f5ef21 98.7%,#f9fb15 99.5%,#f9fb15 100%"></i><i style="left:265.7px;width:3.8px;--p:42%;--g:#01b9c7 0%,#03b7cc 5%,#01b8ca 6.3%,#06bcc0 6.7%,#02bac5 8.4%,#01b8ca 10.1%,#06bcc0 11.8%,#15bfb7 12.7%,#0ebebb 16.9%,#02bac4 17.1%,#0ab4d1 19.1%,#0ab4d2 21.2%,#02bac4 23.2%,#01b9c6 24.2%,#06b5cf 25.3%,#24c1af 27.6%,#2ac3a9 31.1%,#21c1b0 31.4%,#3cc991 33.2%,#25c2ad 35.2%,#0abdbe 37.3%,#13beb8 38.6%,#01b8c9 39.3%,#12b1d6 42.5%,#0dbdbc 45.6%,#04bbc2 45.9%,#29c3aa 47.7%,#11beba 49.7%,#02bac5 51.8%,#1fc0b2 53.6%,#01bac5 53.8%,#29c3aa 54%,#1bc0b4 55.7%,#30c5a1 57.4%,#32c69f 59.1%,#2dc4a5 60.1%,#03bbc3 60.8%,#1abfb5 62.2%,#31c69f 64.2%,#53cc7d 66.3%,#22c1b0 68.3%,#26c2ad 70.2%,#3bc993 71.9%,#32c69f 73.6%,#34c79b 74.4%,#32c69f 75.3%,#49cb85 77%,#61cd71 78.7%,#3dc991 83%,#5acc77 86.4%,#84cc56 89.3%,#e3bc2c 91.9%,#fec736 94%,#f5e526 95.7%,#f5ee21 96.8%,#f9fa16 97.9%,#f5e725 98.7%,#f9fb15 99.5%,#f9fb15 100%"></i><i style="left:267.3px;width:3.8px;--p:42%;--g:#02bac5 0%,#01b9c7 5%,#1ec0b2 6.3%,#2dc4a6 6.7%,#1dc0b3 8.4%,#12beb9 10.1%,#1fc1b1 11.8%,#1fc0b2 12.7%,#26c2ac 16.9%,#21c1b0 17.1%,#22c1b0 19.1%,#19bfb5 21.2%,#25c2ad 23.2%,#33c69d 24.2%,#2cc4a7 25.3%,#27c2ab 27.6%,#2ac3a9 31.1%,#02b7cb 31.4%,#29c3aa 33.2%,#34c79b 35.2%,#1cc0b4 37.3%,#41ca8c 38.6%,#2dc4a5 39.3%,#2dc4a6 42.5%,#23c1af 45.6%,#23c1af 45.9%,#43ca8a 47.7%,#3dc990 49.7%,#4ecc81 51.8%,#42ca8b 53.6%,#4bcb83 53.8%,#33c79d 54%,#29c3aa 55.7%,#2fc5a3 57.4%,#2dc4a6 59.1%,#36c898 60.1%,#5acc78 60.8%,#82cc58 62.2%,#7ecc5b 64.2%,#32c69e 66.3%,#37c898 68.3%,#4fcc80 70.2%,#81cc58 71.9%,#80cc59 73.6%,#6dcd67 74.4%,#67cd6d 75.3%,#6dcd68 77%,#52cc7e 78.7%,#70cd65 83%,#7dcc5b 86.4%,#a7c73c 89.3%,#d1bf27 91.9%,#e6bb2d 94%,#fcbc3d 95.7%,#f5eb23 96.8%,#f9fb15 97.9%,#f9fb15 100%"></i><i style="left:268.9px;width:3.8px;--p:42%;--g:#04bbc2 0%,#02bbc3 5%,#05b6ce 6.3%,#09bcbe 6.7%,#04b6cc 8.4%,#0dbdbc 10.1%,#11beb9 11.8%,#04bbc2 12.7%,#22c1b0 16.9%,#14beb8 17.1%,#1ec0b2 19.1%,#2cc4a7 21.2%,#24c1ae 23.2%,#35c79a 24.2%,#23c1af 25.3%,#1bc0b4 27.6%,#24c1af 31.1%,#1cc0b4 31.4%,#2fc5a3 33.2%,#3eca8f 35.2%,#40ca8d 37.3%,#3bc993 38.6%,#32c69f 39.3%,#1cc0b4 42.5%,#35c79a 45.6%,#24c1ae 45.9%,#3cc992 47.7%,#48cb86 49.7%,#36c898 51.8%,#32c69f 53.6%,#41ca8c 53.8%,#3fca8e 54%,#35c79a 55.7%,#39c895 57.4%,#2cc4a7 59.1%,#3ac994 60.1%,#4fcc80 60.8%,#5fcd73 62.2%,#8fcb4e 64.2%,#3fca8e 66.3%,#37c897 68.3%,#3fca8e 70.2%,#60cd72 71.9%,#a5c83d 73.6%,#b5c533 74.4%,#aac73a 75.3%,#46cb88 77%,#5acc78 78.7%,#abc739 83%,#a9c73a 86.4%,#5fcd73 89.3%,#dfbc2a 91.9%,#f6ba3b 94%,#fec13a 95.7%,#fec03b 96.8%,#f9d72d 97.9%,#f8da2b 98.7%,#f9fb15 99.5%,#f9fb15 100%"></i><i style="left:270.5px;width:3.8px;--p:42%;--g:#38c896 0%,#39c895 5%,#35c79a 6.3%,#34c79b 6.7%,#51cc7f 8.4%,#42ca8b 10.1%,#3dc990 11.8%,#33c69d 12.7%,#46cb88 16.9%,#3dc990 17.1%,#57cc7a 19.1%,#8ecb4f 21.2%,#4ecc81 23.2%,#5dcc75 24.2%,#53cc7d 25.3%,#2ec5a4 27.6%,#3eca90 31.1%,#44cb8a 31.4%,#69cd6b 33.2%,#88cb53 35.2%,#5dcc75 37.3%,#7acc5e 38.6%,#3eca8f 39.3%,#3dca90 42.5%,#30c5a1 45.6%,#7ecc5b 45.9%,#bec32e 47.7%,#f6ba3b 49.7%,#91ca4c 51.8%,#7dcc5c 53.6%,#9cc943 53.8%,#b8c431 54%,#76cc60 55.7%,#88cb53 57.4%,#aec637 59.1%,#6acd6a 60.1%,#62cd71 60.8%,#b1c635 62.2%,#febf3b 64.2%,#fabb3d 66.3%,#c3c22b 68.3%,#92ca4b 70.2%,#c0c32d 71.9%,#fec338 73.6%,#fdcd32 74.4%,#fbbc3d 75.3%,#cdc028 77%,#f0ba36 78.7%,#eeba34 83%,#f7dc2a 86.4%,#f5ec22 89.3%,#f5e228 91.9%,#f9fb15 94%,#f9fb15 95.7%,#f8f61a 96.8%,#f9fb15 97.9%,#f9fb15 100%"></i><i style="left:272.1px;width:3.5px;--p:46%;--g:#02bbc3 0%,#02bbc3 5%,#1cc0b4 6.3%,#24c1ae 6.7%,#34c79b 8.4%,#4ccb83 10.1%,#28c2ab 11.8%,#26c2ad 12.7%,#26c2ac 16.9%,#12beb9 17.1%,#25c2ae 19.1%,#5acc78 21.2%,#3eca8f 23.2%,#21c1b0 24.2%,#32c69f 25.3%,#01bac5 27.6%,#30c5a1 31.1%,#24c1ae 31.4%,#39c895 33.2%,#58cc79 35.2%,#46cb88 37.3%,#3bc993 38.6%,#24c1ae 39.3%,#1abfb5 42.5%,#19bfb5 45.6%,#0dbdbc 45.9%,#50cc7f 47.7%,#58cc79 49.7%,#66cd6d 51.8%,#39c895 53.6%,#33c79d 53.8%,#6acd6a 54%,#3eca8f 55.7%,#68cd6c 57.4%,#61cd71 59.1%,#51cc7f 60.1%,#79cc5e 60.8%,#9bc944 62.2%,#bac430 64.2%,#78cc5f 66.3%,#42ca8b 68.3%,#56cc7b 70.2%,#82cc58 71.9%,#d0c027 73.6%,#ebba32 74.4%,#c6c22a 75.3%,#aac73a 77%,#b9c431 78.7%,#dbbd29 83%,#febf3b 86.4%,#fdcb33 89.3%,#eeba34 91.9%,#f9bb3d 94%,#fec339 95.7%,#fad42e 96.8%,#fad42e 97.9%,#f5e626 98.7%,#f9fb15 99.5%,#f9fb15 100%"></i><i style="left:273.7px;width:3.2px;--p:41%;--g:#0ab4d2 0%,#02bac4 5%,#15bfb7 6.3%,#21c1b0 6.7%,#01b9c6 8.4%,#05b6ce 10.1%,#01b9c7 11.8%,#03bbc2 12.7%,#12beb9 16.9%,#11beba 17.1%,#25c2ae 19.1%,#41ca8c 21.2%,#60cd72 23.2%,#2ec5a4 24.2%,#27c2ac 25.3%,#17bfb6 27.6%,#35c79a 31.1%,#22c1b0 31.4%,#60cd72 33.2%,#5dcc75 35.2%,#40ca8d 37.3%,#42ca8b 38.6%,#2fc5a3 39.3%,#35c79a 42.5%,#30c5a1 45.6%,#2cc4a7 45.9%,#3dc991 47.7%,#70cd65 49.7%,#55cc7b 51.8%,#3cc991 53.6%,#2ec4a4 53.8%,#4fcc80 54%,#54cc7d 55.7%,#33c79d 57.4%,#38c896 59.1%,#3eca8f 60.1%,#3fca8e 60.8%,#89cb53 62.2%,#b1c636 64.2%,#aec637 66.3%,#85cb55 68.3%,#4dcb82 70.2%,#87cb54 71.9%,#9bc945 73.6%,#94ca4a 74.4%,#79cc5f 75.3%,#5fcd73 77%,#47cb87 78.7%,#acc738 83%,#97ca47 86.4%,#a2c840 89.3%,#d0c028 91.9%,#fec438 94%,#f5ee21 95.7%,#f9fb15 96.8%,#f6f11e 97.9%,#f9fb15 98.7%,#f9fb15 100%"></i><i style="left:275.0px;width:3.2px;--p:41%;--g:#13beb8 0%,#1abfb5 5%,#1fc0b2 6.3%,#1ac0b4 6.7%,#0fbebb 8.4%,#1ac0b5 10.1%,#02bac4 11.8%,#03b7cc 12.7%,#05b6ce 16.9%,#07bcbf 17.1%,#12beb9 19.1%,#33c79d 21.2%,#15bfb8 23.2%,#09bcbe 24.2%,#10beba 25.3%,#0bbdbc 27.6%,#1cc0b3 31.1%,#20c1b1 31.4%,#22c1af 33.2%,#39c895 35.2%,#2fc5a3 37.3%,#15bfb7 38.6%,#28c3aa 39.3%,#28c3aa 40.5%,#21c1b0 42.5%,#12beb9 42.6%,#2ec5a4 44.6%,#21c1b0 45.6%,#23c1af 45.9%,#37c898 46.7%,#2ec4a5 47.7%,#2ec4a4 48.7%,#59cc79 49.7%,#31c6a0 51.8%,#3bc992 53.6%,#40ca8d 53.8%,#33c79c 54%,#42ca8c 55.7%,#35c79a 57.4%,#18bfb6 59.1%,#2dc4a5 60.1%,#34c79b 60.8%,#55cc7b 62.2%,#66cd6e 64.2%,#35c79a 66.3%,#4fcc80 68.3%,#66cd6d 70.2%,#5dcc75 71.9%,#73cd62 73.6%,#6ecd67 74.4%,#5acc78 75.3%,#71cd64 77%,#4fcc80 77.4%,#85cb55 78.7%,#67cd6c 79.1%,#5bcc76 80.8%,#6ccd68 82.5%,#6ecd67 83%,#90ca4d 84.2%,#c6c22a 86.4%,#efba35 89.3%,#fec934 91.9%,#f7f41c 94%,#f9fa16 95.7%,#f9fb15 96.8%,#f9fb15 100%"></i><i style="left:276.3px;width:3.2px;--p:41%;--g:#484aee 0%,#4747eb 5%,#484aee 6.3%,#484cef 6.7%,#484aee 8.4%,#4849ed 10.1%,#484aee 11.8%,#484cf0 12.7%,#484cef 16.9%,#484aee 17.1%,#484cef 19.1%,#484ef1 21.2%,#484bef 23.2%,#4849ed 24.2%,#4849ed 25.3%,#4850f3 27.6%,#484ff2 31.1%,#484cf0 31.4%,#484ff2 33.2%,#484bee 35.2%,#484ef1 37.3%,#484ff2 38.6%,#484df0 39.3%,#484ef1 40.5%,#4850f3 42.5%,#4851f3 42.6%,#484ff2 44.6%,#484ff2 45.6%,#4851f3 45.9%,#484ff2 46.7%,#4849ed 47.7%,#484ff2 48.7%,#484ef1 49.7%,#4850f2 51.8%,#484ff1 53.6%,#484ef1 53.8%,#484aee 54%,#484cf0 55.7%,#484df0 57.4%,#4850f3 59.1%,#4853f5 60.1%,#4852f4 60.8%,#4850f2 62.2%,#4852f4 64.2%,#4854f5 66.3%,#484ef1 68.3%,#4755f6 70.2%,#4850f3 71.9%,#4851f3 73.6%,#484ff2 74.4%,#484cf0 75.3%,#484bef 77%,#484ff2 77.4%,#4755f6 78.7%,#4851f4 79.1%,#4756f7 80.8%,#4758f8 82.5%,#4758f8 83%,#4759f8 84.2%,#475cfa 86.4%,#4564fd 89.3%,#3975fe 91.9%,#04b6cd 94%,#3bc992 95.7%,#94ca4a 96.8%,#e6bb2d 97.9%,#febf3c 98.7%,#f5e924 99.5%,#f9fb15 100%"></i><i style="left:277.6px;width:3.2px;--p:41%;--g:#03b7cc 0%,#01b9c6 5%,#01b9c7 6.3%,#0bb4d2 6.7%,#07b5cf 8.4%,#0eb2d4 10.1%,#10b2d5 11.8%,#12b1d6 12.7%,#0db3d4 16.9%,#11beba 17.1%,#0ebdbb 19.1%,#14beb8 21.2%,#0dbdbc 23.2%,#23c1af 24.2%,#0bbdbc 25.3%,#06b5ce 27.6%,#11b2d5 31.1%,#11beb9 31.4%,#0cbdbc 33.2%,#1dc0b3 35.2%,#01bac5 37.3%,#01b8c9 38.6%,#01b8c9 39.3%,#05bbc1 40.5%,#17bfb6 42.5%,#15bfb7 42.6%,#2ec4a4 44.6%,#39c895 45.6%,#28c2ab 45.9%,#38c897 46.7%,#17bfb6 47.7%,#05bbc1 48.7%,#2dc4a6 49.7%,#32c69f 51.8%,#34c79c 53.6%,#35c79b 53.8%,#1fc0b2 54%,#1ac0b5 55.7%,#0bbdbd 57.4%,#27c2ab 59.1%,#34c79c 60.1%,#3eca8f 60.8%,#44cb89 62.2%,#56cc7b 64.2%,#33c69d 66.3%,#3eca8f 68.3%,#4bcb84 70.2%,#41ca8c 71.9%,#71cd64 73.6%,#5ccc76 74.4%,#2fc5a2 75.3%,#3eca8f 77%,#76cc60 77.4%,#a0c841 78.7%,#8dcb4f 79.1%,#89cb52 80.8%,#a2c840 82.5%,#b3c534 83%,#c8c129 84.2%,#c3c22b 86.4%,#ebba31 89.3%,#edba33 91.9%,#fccf31 94%,#f8f917 95.7%,#f9fb15 96.8%,#f9fb15 100%"></i><i style="left:278.9px;width:3.2px;--p:41%;--g:#1fa6e2 0%,#12b1d6 6.3%,#08b4d1 12.7%,#16afd9 16.9%,#1aacdd 17.1%,#12b1d6 19.1%,#18aedb 21.2%,#12b1d6 23.2%,#04b6cd 24.2%,#18aedb 25.3%,#05b6ce 27.6%,#05b6cd 31.1%,#17aedb 31.4%,#01b9c7 33.2%,#01b8ca 35.2%,#01b8c9 37.3%,#01b8c9 38.6%,#01b8ca 39.3%,#20c1b1 40.5%,#1ec0b2 42.5%,#05bbc1 42.6%,#13beb8 44.6%,#13beb8 45.6%,#12beb9 45.9%,#01b9c8 46.7%,#04bbc1 47.7%,#05b6ce 48.7%,#01b9c8 49.7%,#13beb8 51.8%,#29c3a9 53.6%,#2dc4a5 53.8%,#01b9c8 57.4%,#01b8ca 60.1%,#1cc0b3 60.8%,#24c2ae 62.2%,#10beba 64.2%,#1fc0b1 66.3%,#08bcbf 68.3%,#35c79a 70.2%,#33c69e 71.9%,#2dc4a5 73.6%,#35c79a 74.4%,#29c3aa 75.3%,#3dc990 77%,#40ca8d 77.4%,#45cb89 78.7%,#5ccc75 79.1%,#48cb86 80.8%,#45cb89 82.5%,#3ac993 83%,#45cb89 84.2%,#48cb86 86.4%,#63cd6f 89.3%,#9cc943 91.9%,#e3bc2c 94%,#f7dc2a 95.7%,#fec636 96.8%,#f5e626 97.9%,#f9fb15 98.7%,#f9fb15 100%"></i><i style="left:280.2px;width:3.5px;--p:37%;--g:#0db3d3 0%,#0cb3d3 6.3%,#0ab4d1 12.7%,#13b0d7 16.9%,#13b0d7 21.2%,#08b5d0 24.2%,#03b7cc 27.6%,#0bb4d2 31.4%,#04b6cd 35.2%,#01b8c9 38.6%,#02bbc3 40.5%,#11beba 42.5%,#24c1ae 42.6%,#2dc4a5 44.6%,#22c1b0 45.9%,#2ac3a9 46.7%,#01b8c8 48.7%,#0fbebb 49.7%,#1cc0b3 53.6%,#01b7ca 57.4%,#14bfb8 60.8%,#11beb9 64.2%,#15bfb7 70.2%,#42ca8b 74.4%,#54cc7c 77.4%,#5dcc75 78.7%,#6acd6a 79.1%,#a7c73c 80.8%,#96ca48 82.5%,#99c946 83%,#86cb55 84.2%,#72cd63 86.4%,#aec637 89.3%,#b2c635 91.9%,#c8c129 94%,#fcbc3d 95.7%,#fad42e 96.8%,#f9fb15 97.9%,#f9fb15 100%"></i><i style="left:281.5px;width:3.8px;--p:42%;--g:#01b8c9 0%,#01b8c8 6.3%,#02bac4 12.7%,#05b6ce 16.9%,#04b6cd 21.2%,#01b9c8 24.2%,#06bcc0 27.6%,#05bbc1 31.4%,#04bbc1 35.2%,#02bac4 38.6%,#28c2ab 40.5%,#4dcb82 42.5%,#32c69f 42.6%,#3eca8f 44.6%,#2fc5a3 45.9%,#2fc5a3 46.7%,#28c2ab 48.7%,#25c2ad 49.7%,#17bfb7 53.6%,#27c2ac 57.4%,#27c2ac 60.8%,#2cc4a7 64.2%,#39c895 70.2%,#30c5a1 74.4%,#48cb86 77.4%,#3cc991 78.7%,#62cd71 79.1%,#93ca4b 80.8%,#c5c22a 82.5%,#bbc430 83%,#aac73a 84.2%,#8fcb4e 86.4%,#c9c129 89.3%,#dcbd29 91.9%,#fec636 94%,#fec139 95.7%,#f7dd2a 96.8%,#f9fb15 97.9%,#f9fb15 100%"></i><i style="left:283.1px;width:3.8px;--p:42%;--g:#01b8c9 0%,#04b6cd 6.3%,#0bb3d2 12.7%,#06b5cf 16.9%,#01b8c8 21.2%,#0eb2d4 24.2%,#0eb2d4 27.6%,#07b5d0 31.4%,#02bac3 35.2%,#0cb3d3 38.6%,#01b9c7 40.5%,#20c1b1 42.5%,#02bac4 42.6%,#27c2ac 44.6%,#01b8c9 45.9%,#10beba 46.7%,#01b8c9 48.7%,#0dbdbb 49.7%,#0cbdbc 53.6%,#04bbc2 57.4%,#0fbebb 60.8%,#03bbc2 64.2%,#15bfb8 70.2%,#2ec4a4 74.4%,#39c994 77.4%,#76cc60 78.7%,#63cd70 79.1%,#60cd72 80.8%,#4dcc82 82.5%,#3dc990 83%,#55cc7c 84.2%,#3ac994 86.4%,#33c79d 89.3%,#7fcc5a 91.9%,#8ccb50 94%,#a1c840 95.7%,#acc739 96.8%,#e3bc2c 97.9%,#fdcd31 98.7%,#f9fb15 99.5%,#f9fb15 100%"></i><i style="left:284.7px;width:3.8px;--p:42%;--g:#12b1d6 0%,#14b0d8 6.3%,#13b0d7 12.7%,#1aacdd 16.9%,#10b2d5 21.2%,#22a2e4 24.2%,#15afd9 27.6%,#11b1d5 31.4%,#02b7cb 35.2%,#02b7ca 38.6%,#02b7cb 40.5%,#05bbc1 42.5%,#0eb2d4 42.6%,#01b8ca 44.6%,#08b5d0 45.9%,#02bac3 46.7%,#0ab4d2 48.7%,#10b2d5 49.7%,#06b6ce 53.6%,#03b7cc 57.4%,#03b7cc 64.2%,#0bbdbd 70.2%,#1dc0b3 74.4%,#20c1b1 77.4%,#3dc990 78.7%,#35c79a 79.1%,#6acd6a 80.8%,#43ca8b 82.5%,#46cb87 83%,#25c2ae 84.2%,#22c1b0 86.4%,#30c5a1 89.3%,#45cb89 91.9%,#7fcc5a 94%,#98ca47 95.7%,#63cd6f 96.8%,#bfc32d 97.9%,#b4c534 98.7%,#f9fb15 99.5%,#f9fb15 100%"></i><i style="left:286.3px;width:3.8px;--p:42%;--g:#19addc 0%,#21a3e3 6.3%,#18addb 12.7%,#22a2e4 16.9%,#1fa6e1 21.2%,#20a5e2 24.2%,#1aacdd 27.6%,#21a3e4 31.4%,#15afd9 35.2%,#15afd9 38.6%,#1da9e0 40.5%,#08b4d0 42.5%,#0fb2d4 42.6%,#0fb2d5 44.6%,#09b4d1 45.9%,#16aeda 46.7%,#10b2d5 48.7%,#08b5d0 49.7%,#15afd9 53.6%,#06b6ce 57.4%,#14b0d8 60.8%,#1baade 64.2%,#03b7cc 70.2%,#06bcc0 74.4%,#04bbc2 77.4%,#35c79a 78.7%,#14bfb8 79.1%,#28c3ab 80.8%,#0abdbd 82.5%,#2bc3a8 83%,#01b8ca 84.2%,#08bcbf 86.4%,#05bbc1 89.3%,#2ac3a9 91.9%,#44cb8a 94%,#7ccc5c 95.7%,#62cd70 96.8%,#c1c32c 97.9%,#cbc029 98.7%,#f9fb15 99.5%,#f9fb15 100%"></i><i style="left:287.9px;width:3.8px;--p:42%;--g:#1ea8e1 0%,#1ca9df 6.3%,#1fa6e2 12.7%,#23a0e5 16.9%,#259be8 21.2%,#259be8 24.2%,#249ee6 27.6%,#2797eb 31.4%,#21a3e3 35.2%,#21a3e3 38.6%,#23a0e5 40.5%,#20a4e3 42.5%,#1ea7e1 42.6%,#1caadf 44.6%,#1ea7e1 45.9%,#17aeda 46.7%,#17aeda 48.7%,#1aabdd 49.7%,#23a1e4 53.6%,#1da9e0 57.4%,#23a0e5 60.8%,#1ea7e1 64.2%,#13b0d7 70.2%,#04bbc2 74.4%,#01b9c7 77.4%,#04b6cd 78.7%,#01b8c9 79.1%,#16bfb7 80.8%,#07bcbf 82.5%,#06bcc0 83%,#04b6cd 84.2%,#0bb3d2 86.4%,#09bcbe 89.3%,#2cc4a7 91.9%,#65cd6e 94%,#9dc943 95.7%,#83cc57 96.8%,#dcbd29 97.9%,#fec13a 98.7%,#f9fb15 99.5%,#f9fb15 100%"></i><i style="left:289.5px;width:4.4px;--p:36%;--g:#2b91ef 0%,#2699e9 6.3%,#2d8cf3 12.7%,#2c90f0 16.9%,#2b92ee 21.2%,#269ae9 24.2%,#23a1e5 27.6%,#249ee6 31.4%,#2798ea 35.2%,#22a1e4 38.6%,#2796eb 42.5%,#2896eb 45.9%,#2798ea 49.7%,#1ea7e1 53.6%,#23a1e4 57.4%,#22a1e4 60.8%,#20a4e3 64.2%,#1da8e0 70.2%,#18addb 74.4%,#02bac4 78.7%,#13b1d7 83%,#06b5cf 86.4%,#09b4d1 89.3%,#2fc5a3 91.9%,#2cc4a7 94%,#4acb84 95.7%,#61cd71 96.8%,#ddbd29 97.9%,#febf3b 98.7%,#f9fb15 99.5%,#f9fb15 100%"></i><i style="left:291.1px;width:5.0px;--p:44%;--g:#259ce7 0%,#2699e9 6.3%,#239fe5 12.7%,#259be8 16.9%,#239fe5 21.2%,#2c90f0 24.2%,#2a93ee 27.6%,#2a92ee 31.4%,#2994ed 35.2%,#2895ec 38.6%,#2a93ed 42.5%,#2798ea 45.9%,#249ee6 49.7%,#2699e9 53.6%,#259be7 57.4%,#249ee6 60.8%,#1fa5e2 64.2%,#18addb 70.2%,#12b1d6 74.4%,#14b0d8 78.7%,#10b2d5 83%,#1aacdd 86.4%,#0cb3d2 89.3%,#01b8c9 91.9%,#2dc4a6 94%,#4bcb83 95.7%,#75cc61 96.8%,#e0bc2a 97.9%,#d4bf28 98.7%,#f9fb15 99.5%,#f9fb15 100%"></i><i style="left:293.3px;width:5.0px;--p:44%;--g:#2b91ef 0%,#2797eb 6.3%,#259be8 12.7%,#2d8bf4 16.9%,#2b91ef 21.2%,#2994ed 24.2%,#2d8bf4 27.6%,#2a93ee 31.4%,#2a93ee 38.6%,#2c8ef1 42.5%,#2c8ff0 45.9%,#2a92ee 49.7%,#2a93ee 53.6%,#259ce7 57.4%,#21a3e3 60.8%,#269ae8 64.2%,#259be7 70.2%,#1ea7e1 74.4%,#19acdc 78.7%,#0ab4d2 83%,#1fa6e2 86.4%,#1ea8e1 89.3%,#15afd9 91.9%,#01b8c9 94%,#28c3ab 95.7%,#4bcb84 96.8%,#dbbd29 97.9%,#e1bc2b 98.7%,#f5ee21 99.5%,#f5ed22 100%"></i><i style="left:295.5px;width:5.0px;--p:44%;--g:#3579fd 0%,#3678fd 6.3%,#337bfd 12.7%,#3479fd 16.9%,#3479fd 21.2%,#2e86f8 24.2%,#3080fa 27.6%,#3479fd 31.4%,#317efb 35.2%,#347afd 38.6%,#327cfc 42.5%,#317dfc 45.9%,#2e87f7 49.7%,#2e84f9 53.6%,#2f81fa 57.4%,#2f82f9 60.8%,#2d88f6 64.2%,#2b91ef 70.2%,#2797eb 74.4%,#2c8ff1 78.7%,#2796eb 83%,#2699e9 86.4%,#2797eb 89.3%,#20a5e2 91.9%,#0ab4d2 94%,#07b5d0 95.7%,#01b9c7 96.8%,#6fcd66 97.9%,#aec637 98.7%,#f6df29 99.5%,#f7db2a 100%"></i><i style="left:297.7px;width:5.0px;--p:44%;--g:#3f6fff 0%,#426afe 6.3%,#3a74fe 12.7%,#3f6dfe 16.9%,#3a74fe 21.2%,#416bfe 24.2%,#406cfe 27.6%,#3f6fff 31.4%,#3f6fff 35.2%,#3876fe 38.6%,#327cfc 42.5%,#347afd 45.9%,#3677fe 49.7%,#3b72ff 53.6%,#3678fd 57.4%,#347afd 60.8%,#2f80fa 64.2%,#2e87f7 70.2%,#2d8bf3 74.4%,#2b92ee 78.7%,#2d8df2 83%,#2d8bf4 86.4%,#2699e9 89.3%,#259be8 91.9%,#21a4e3 94%,#01b8c8 95.7%,#02bbc3 96.8%,#35c79a 97.9%,#90ca4d 98.7%,#fccf31 99.5%,#feca33 100%"></i><i style="left:299.9px;width:5.0px;--p:44%;--g:#3e70ff 0%,#4269fe 6.3%,#406dfe 12.7%,#416cfe 16.9%,#3f6eff 21.2%,#426afe 24.2%,#4367fd 27.6%,#4368fe 31.4%,#3974fe 35.2%,#406cfe 38.6%,#317dfc 42.5%,#317dfc 45.9%,#327dfc 49.7%,#327cfc 53.6%,#3678fd 57.4%,#3776fe 60.8%,#3776fe 64.2%,#2e83f9 70.2%,#2d8bf3 74.4%,#2d8bf3 78.7%,#2c8ef2 83%,#2798ea 86.4%,#2c8ff0 89.3%,#23a0e5 91.9%,#21a4e3 94%,#10b2d5 95.7%,#02bac5 96.8%,#5bcc76 97.9%,#a4c83e 98.7%,#febf3b 99.5%,#fabb3d 100%"></i><i style="left:302.1px;width:5.0px;--p:44%;--g:#406cfe 0%,#416bfe 6.3%,#4269fe 12.7%,#416bfe 16.9%,#416bfe 21.2%,#3f6fff 24.2%,#3e6fff 27.6%,#4269fe 31.4%,#3777fe 35.2%,#337bfc 38.6%,#3a74fe 42.5%,#3578fd 45.9%,#3579fd 49.7%,#3a74fe 53.6%,#3975fe 57.4%,#3678fd 60.8%,#337bfd 64.2%,#2e87f7 70.2%,#2e84f8 74.4%,#2896ec 78.7%,#2796eb 83%,#2c8ff0 86.4%,#2895ec 89.3%,#1ca9df 91.9%,#1babde 94%,#14b0d8 95.7%,#06bbc1 96.8%,#6ccd68 97.9%,#afc636 98.7%,#ebba32 99.5%,#e1bc2b 100%"></i><i style="left:304.3px;width:5.0px;--p:44%;--g:#4756f7 0%,#4759f8 6.3%,#475bfa 12.7%,#465efb 16.9%,#4759f8 21.2%,#4758f8 24.2%,#4758f8 27.6%,#475bfa 31.4%,#465dfa 35.2%,#4563fd 38.6%,#4269fe 42.5%,#4269fe 45.9%,#406cfe 49.7%,#3d70ff 53.6%,#406cfe 57.4%,#4368fe 60.8%,#4368fe 64.2%,#3d70ff 70.2%,#2f81fa 74.4%,#2e83f9 78.7%,#2895ec 83%,#2d8cf3 86.4%,#2e86f7 89.3%,#2994ed 91.9%,#22a2e4 94%,#20a5e2 95.7%,#18addb 96.8%,#02bac5 97.9%,#2dc4a5 98.7%,#cfc028 99.5%,#c4c22b 100%"></i><i style="left:306.5px;width:5.8px;--p:38%;--g:#4757f7 0%,#4756f6 6.3%,#4757f7 12.7%,#475af9 16.9%,#4758f8 21.2%,#475cfa 24.2%,#4755f6 27.6%,#4758f8 31.4%,#4756f7 35.2%,#465dfa 38.6%,#465dfa 42.5%,#4561fc 45.9%,#4367fd 49.7%,#416bfe 53.6%,#4464fd 57.4%,#4466fd 60.8%,#4661fc 64.2%,#3b72ff 70.2%,#3777fe 74.4%,#2e83f9 78.7%,#2e85f8 83%,#2f82f9 86.4%,#2c8ef2 89.3%,#2b92ee 91.9%,#2994ed 94%,#23a0e5 95.7%,#1aacdd 96.8%,#25c2ae 97.9%,#58cc79 98.7%,#aec637 99.5%,#a3c83f 100%"></i><i style="left:308.7px;width:6.6px;--p:45%;--g:#4747eb 0%,#484aee 6.3%,#484ff2 12.7%,#484cf0 16.9%,#484ef1 21.2%,#4850f3 24.2%,#4851f3 27.6%,#4854f5 31.4%,#4757f7 35.2%,#475af9 38.6%,#475cfa 42.5%,#465ffb 45.9%,#4465fd 49.7%,#4367fd 53.6%,#475dfa 57.4%,#4660fb 60.8%,#4660fb 64.2%,#3f6fff 70.2%,#3d70ff 74.4%,#317efb 78.7%,#2d89f5 83%,#337bfd 86.4%,#317dfc 89.3%,#2d8af5 91.9%,#23a1e4 94%,#13b0d7 95.7%,#18addb 96.8%,#2bc3a8 97.9%,#29c3aa 98.7%,#7dcc5b 99.5%,#71cd64 100%"></i><i style="left:311.7px;width:6.6px;--p:45%;--g:#4746ea 0%,#4848ec 6.3%,#4747eb 12.7%,#484aee 16.9%,#484bee 21.2%,#484ef1 24.2%,#484df0 27.6%,#484aee 31.4%,#4849ed 35.2%,#484cef 38.6%,#484ff2 42.5%,#4852f4 45.9%,#4853f5 49.7%,#4850f2 53.6%,#4853f4 57.4%,#4854f5 60.8%,#4755f6 64.2%,#4660fc 70.2%,#4465fd 74.4%,#4269fe 78.7%,#3d71ff 83%,#3d70ff 86.4%,#307ffb 89.3%,#2b91ef 91.9%,#2a93ee 94%,#2797eb 95.7%,#2994ed 96.8%,#10b2d5 97.9%,#09bdbe 98.7%,#4fcc81 99.5%,#45cb89 100%"></i><i style="left:314.7px;width:6.6px;--p:45%;--g:#4745e9 0%,#4745ea 6.3%,#4747ec 12.7%,#4848ec 16.9%,#4849ed 21.2%,#4849ed 27.6%,#4746ea 31.4%,#4848ec 35.2%,#484aed 38.6%,#4847ec 42.5%,#4848ec 45.9%,#484bef 49.7%,#4849ed 53.6%,#484df0 57.4%,#484cef 60.8%,#484df0 64.2%,#465efb 70.2%,#4564fd 74.4%,#4564fd 78.7%,#3b72fe 83%,#3f6fff 86.4%,#3678fd 89.3%,#307ffb 91.9%,#2d87f6 94%,#2896eb 95.7%,#259ce7 96.8%,#13b0d7 97.9%,#06bcc0 98.7%,#34c79b 99.5%,#31c69f 100%"></i><i style="left:317.7px;width:6.6px;--p:45%;--g:#4746ea 0%,#4746eb 6.3%,#4849ed 12.7%,#4747eb 16.9%,#4849ed 21.2%,#484df0 24.2%,#484bee 27.6%,#484cf0 31.4%,#4850f3 35.2%,#4851f3 38.6%,#484aee 42.5%,#484ef1 45.9%,#4850f3 49.7%,#484ff2 53.6%,#484df1 57.4%,#4851f3 60.8%,#4852f4 64.2%,#4757f7 70.2%,#465efb 74.4%,#4660fb 78.7%,#3f6eff 83%,#426afe 86.4%,#3d70ff 89.3%,#317efb 91.9%,#317dfc 94%,#3080fa 95.7%,#2b91ef 96.8%,#1fa6e2 97.9%,#1da8e0 98.7%,#23c1af 99.5%,#22c1b0 100%"></i><i style="left:320.7px;width:6.6px;--p:45%;--g:#4743e7 0%,#4742e7 6.3%,#4744e8 12.7%,#4741e5 16.9%,#4742e6 21.2%,#4743e7 24.2%,#4742e6 27.6%,#4742e6 31.4%,#4744e8 35.2%,#4744e8 38.6%,#4745e9 42.5%,#4746eb 45.9%,#484aed 49.7%,#4747eb 53.6%,#484aee 57.4%,#484aee 60.8%,#484cef 64.2%,#4852f4 70.2%,#4853f5 74.4%,#4854f5 78.7%,#475cfa 83%,#465ffb 86.4%,#465efb 89.3%,#416bfe 91.9%,#3e6fff 94%,#3a74fe 95.7%,#2e83f9 96.8%,#2b92ee 97.9%,#1ea7e1 98.7%,#09bcbe 99.5%,#07bcbf 100%"></i><i style="left:323.7px;width:6.6px;--p:45%;--g:#4745e9 0%,#4747eb 6.3%,#4745e9 12.7%,#4744e8 16.9%,#4746ea 21.2%,#4745e9 24.2%,#4745ea 27.6%,#4743e7 31.4%,#4741e5 35.2%,#4742e6 38.6%,#4742e6 42.5%,#484cef 45.9%,#484bef 49.7%,#484ef1 53.6%,#484ef1 57.4%,#484cf0 60.8%,#484cef 64.2%,#484ef1 70.2%,#4852f4 74.4%,#4755f6 78.7%,#465ffb 83%,#4464fd 86.4%,#4564fd 89.3%,#426afe 91.9%,#3975fe 94%,#3975fe 96.8%,#2e85f8 97.9%,#249ee6 98.7%,#04b6cd 99.5%,#05b6ce 100%"></i><i style="left:326.7px;width:6.6px;--p:45%;--g:#4743e7 0%,#4746ea 6.3%,#4849ed 12.7%,#484aee 16.9%,#4747eb 21.2%,#4746ea 24.2%,#4744e8 27.6%,#4848ec 31.4%,#4745ea 35.2%,#4747eb 38.6%,#4746ea 42.5%,#484df1 45.9%,#484df0 49.7%,#484ff2 53.6%,#4849ed 57.4%,#484aee 60.8%,#484ef1 64.2%,#4852f4 70.2%,#4853f5 74.4%,#4854f5 78.7%,#465ffb 83%,#4465fd 86.4%,#416afe 89.3%,#3d71ff 91.9%,#3d71ff 95.7%,#327cfc 96.8%,#2895ec 97.9%,#11b1d6 98.7%,#12b1d6 99.5%,#10b2d5 100%"></i><i style="left:329.7px;width:6.6px;--p:45%;--g:#4741e5 0%,#4742e6 6.3%,#4740e3 12.7%,#4745e9 16.9%,#4745e9 21.2%,#4744e8 24.2%,#4745e9 27.6%,#4742e6 31.4%,#4745e9 35.2%,#4743e7 38.6%,#4743e7 49.7%,#4746ea 53.6%,#4747eb 57.4%,#484aee 60.8%,#4747eb 64.2%,#4850f3 70.2%,#4851f3 74.4%,#4854f5 78.7%,#4756f6 83%,#4756f7 86.4%,#475af9 89.3%,#4466fd 91.9%,#416afe 94%,#406dfe 95.7%,#3975fe 96.8%,#2d88f6 97.9%,#2896eb 98.7%,#19addc 99.5%,#15afd9 100%"></i><i style="left:332.7px;width:6.6px;--p:45%;--g:#4744e8 0%,#4742e6 6.3%,#4741e5 12.7%,#4744e8 16.9%,#473fe2 21.2%,#4743e7 24.2%,#4742e6 27.6%,#473fe2 31.4%,#4743e8 35.2%,#4747eb 38.6%,#4743e7 42.5%,#4744e8 45.9%,#4745e9 49.7%,#4745e9 57.4%,#4747eb 60.8%,#4743e7 64.2%,#484aee 70.2%,#484bef 74.4%,#4853f5 78.7%,#475af9 83%,#4756f6 86.4%,#4757f7 89.3%,#475bf9 91.9%,#4466fd 94%,#4369fe 95.7%,#3c71ff 96.8%,#2f82fa 97.9%,#2c8ff0 98.7%,#1ca9e0 99.5%,#1aacdd 100%"></i><i style="left:335.7px;width:7.6px;--p:39%;--g:#4745e9 0%,#4847ec 6.3%,#4849ed 12.7%,#4743e7 16.9%,#4743e8 21.2%,#4743e7 24.2%,#4745e9 27.6%,#4741e5 31.4%,#4746ea 35.2%,#4747eb 38.6%,#4747eb 49.7%,#4848ec 53.6%,#484bee 57.4%,#484bef 60.8%,#484cf0 64.2%,#484ff2 70.2%,#484ef1 74.4%,#4853f5 78.7%,#475bf9 83%,#475cfa 86.4%,#465efb 89.3%,#4465fd 91.9%,#4660fc 94%,#4563fd 95.7%,#4465fd 96.8%,#4465fd 97.9%,#3678fe 98.7%,#1fa5e2 99.5%,#1da9e0 100%"></i><i style="left:338.7px;width:8.6px;--p:47%;--g:#463cde 0%,#463cdf 6.3%,#463ee1 12.7%,#4740e4 16.9%,#463de0 21.2%,#473ee1 24.2%,#463de0 27.6%,#473ee2 31.4%,#463bde 35.2%,#463ddf 38.6%,#463cdf 42.5%,#463cdf 45.9%,#463cde 49.7%,#4740e4 53.6%,#473fe2 57.4%,#4740e3 60.8%,#4741e5 64.2%,#4744e8 70.2%,#484aed 74.4%,#4848ec 78.7%,#484aee 83%,#484aee 86.4%,#484cef 89.3%,#4755f6 91.9%,#4759f8 94%,#475cfa 95.7%,#465dfb 96.8%,#4367fd 97.9%,#3776fe 98.7%,#23a0e5 99.5%,#20a4e3 100%"></i><i style="left:342.7px;width:8.6px;--p:47%;--g:#463cde 0%,#473ee1 6.3%,#463de0 12.7%,#473fe2 16.9%,#463de0 21.2%,#463ee1 24.2%,#463de0 27.6%,#463de0 31.4%,#4740e4 35.2%,#4740e3 38.6%,#463de0 42.5%,#463ee1 45.9%,#473ee1 49.7%,#463de0 53.6%,#4741e5 57.4%,#473fe2 60.8%,#473ee1 64.2%,#4743e7 70.2%,#4747eb 74.4%,#4849ed 78.7%,#484cf0 83%,#484cef 86.4%,#4851f3 89.3%,#4755f6 91.9%,#4756f6 94%,#475af9 95.7%,#4561fc 96.8%,#416bfe 97.9%,#3a74fe 98.7%,#259be8 99.5%,#23a0e5 100%"></i><i style="left:346.7px;width:8.6px;--p:47%;--g:#463bde 0%,#463de0 6.3%,#4740e4 12.7%,#463ee1 16.9%,#473fe2 21.2%,#463cdf 24.2%,#473ee1 27.6%,#463cdf 31.4%,#463de0 35.2%,#463cdf 38.6%,#463de0 42.5%,#463ee1 45.9%,#463cde 49.7%,#473fe2 53.6%,#463de0 57.4%,#4742e6 60.8%,#4741e5 64.2%,#4745e9 70.2%,#4744e8 74.4%,#4745e9 78.7%,#4849ed 83%,#484aee 86.4%,#484df1 89.3%,#4851f3 91.9%,#4853f5 94%,#4759f8 95.7%,#4759f8 96.8%,#475af9 97.9%,#406cfe 98.7%,#2797eb 99.5%,#249de6 100%"></i><i style="left:350.7px;width:8.6px;--p:47%;--g:#463ee1 0%,#463cdf 6.3%,#463bdd 12.7%,#463cdf 16.9%,#463ee1 21.2%,#463adc 24.2%,#463ee0 27.6%,#463cdf 31.4%,#463adc 35.2%,#463de0 38.6%,#463ee1 42.5%,#463cdf 45.9%,#473ee1 49.7%,#4740e3 53.6%,#473fe3 57.4%,#4740e4 60.8%,#4742e6 64.2%,#4743e7 70.2%,#4847ec 74.4%,#484aee 78.7%,#4848ec 83%,#4849ed 86.4%,#484aee 89.3%,#484ff2 91.9%,#4853f4 94%,#4755f6 95.7%,#475af9 96.8%,#4368fd 97.9%,#3b73fe 98.7%,#2895ec 99.5%,#259ce7 100%"></i><i style="left:354.7px;width:8.6px;--p:47%;--g:#463ee1 0%,#463ee1 6.3%,#463cde 12.7%,#463cde 16.9%,#463bde 21.2%,#463de0 24.2%,#473ee2 27.6%,#463ddf 31.4%,#463cde 35.2%,#463de0 38.6%,#463cde 42.5%,#4639da 45.9%,#463ee1 49.7%,#463ddf 53.6%,#4740e3 57.4%,#4740e4 60.8%,#4741e5 64.2%,#4741e5 70.2%,#4743e7 74.4%,#4746ea 78.7%,#4747ec 83%,#4848ec 86.4%,#484aee 89.3%,#484cef 91.9%,#4852f4 94%,#4852f4 96.8%,#465ffb 97.9%,#3c72ff 98.7%,#2a93ed 99.5%,#269ae8 100%"></i><i style="left:358.7px;width:8.6px;--p:47%;--g:#4434cf 0%,#4434d0 6.3%,#4435d0 12.7%,#4435d1 16.9%,#4535d2 21.2%,#4536d5 24.2%,#4537d5 27.6%,#4537d5 31.4%,#463bdd 35.2%,#463adb 38.6%,#463cde 42.5%,#463de0 45.9%,#463ee1 49.7%,#4740e4 53.6%,#4740e3 57.4%,#463cde 60.8%,#4741e4 64.2%,#4742e6 70.2%,#4741e5 74.4%,#4745e9 78.7%,#4747eb 83%,#4746ea 86.4%,#484aee 89.3%,#484bef 91.9%,#4852f4 94%,#4852f4 95.7%,#4755f6 96.8%,#4466fd 97.9%,#3c72ff 98.7%,#2b91ef 99.5%,#2698ea 100%"></i><i style="left:362.7px;width:8.6px;--p:47%;--g:#412dbd 0%,#412dbb 6.3%,#412cba 12.7%,#412dbb 16.9%,#412cbb 21.2%,#412dbd 24.2%,#422ebf 27.6%,#422fc1 31.4%,#4330c5 35.2%,#4332ca 38.6%,#4434ce 42.5%,#4435d2 45.9%,#4539d9 49.7%,#463bdd 53.6%,#473fe2 57.4%,#4741e5 60.8%,#4741e5 64.2%,#4743e7 70.2%,#4744e8 74.4%,#4745e9 78.7%,#4849ed 83%,#484aed 86.4%,#4848ec 89.3%,#484ff2 91.9%,#4851f3 94%,#4851f3 95.7%,#4758f8 96.8%,#426afe 97.9%,#3c71ff 98.7%,#2c8ff0 99.5%,#2797eb 100%"></i><i style="left:366.7px;width:8.6px;--p:47%;--g:#3f29b1 0%,#3f29b2 6.3%,#3f29b2 12.7%,#3f29b1 16.9%,#3f29b1 21.2%,#402ab3 24.2%,#402ab3 31.4%,#402ab5 35.2%,#412cb9 38.6%,#412dbc 42.5%,#422ec0 45.9%,#4331c6 49.7%,#4332ca 53.6%,#4536d4 57.4%,#4538d8 60.8%,#4639d9 64.2%,#463cde 70.2%,#4740e4 74.4%,#4745e9 78.7%,#4848ec 83%,#4746ea 86.4%,#4747eb 89.3%,#484cf0 91.9%,#4850f2 94%,#4852f4 95.7%,#4755f6 96.8%,#4465fd 97.9%,#3d71ff 98.7%,#2c8ef2 99.5%,#2895ec 100%"></i><i style="left:370.7px;width:8.6px;--p:47%;--g:#3e27ac 0%,#3e27ac 21.2%,#3e28ad 24.2%,#3f28ad 27.6%,#3f28ae 31.4%,#3f28ae 35.2%,#3f29b0 38.6%,#3f29b1 42.5%,#4029b3 45.9%,#402ab4 49.7%,#412cb9 53.6%,#412ebe 57.4%,#412ebe 60.8%,#4230c3 64.2%,#4435d1 70.2%,#463adb 74.4%,#463de0 78.7%,#4741e5 83%,#473fe3 86.4%,#473fe3 89.3%,#4745e9 91.9%,#4848ec 94%,#4848ec 95.7%,#484ff2 96.8%,#475af9 97.9%,#4661fc 98.7%,#2d8cf3 99.5%,#2a93ed 100%"></i><i style="left:374.7px;width:8.6px;--p:47%;--g:#3e26a8 0%,#3e26a8 21.2%,#3e26a9 24.2%,#3e27a9 27.6%,#3e27a9 31.4%,#3e27aa 35.2%,#3e27ab 38.6%,#3e28ac 42.5%,#3f28ad 45.9%,#3f28af 49.7%,#3f29b0 53.6%,#3f29b1 57.4%,#402ab3 60.8%,#402ab6 64.2%,#4332ca 70.2%,#4537d6 74.4%,#463bdd 78.7%,#4740e3 83%,#4741e5 86.4%,#4741e5 89.3%,#4746ea 91.9%,#4848ec 94%,#484aee 95.7%,#4850f3 96.8%,#475bf9 97.9%,#426afe 98.7%,#2d8af4 99.5%,#2b92ee 100%"></i><i style="left:378.7px;width:8.6px;--p:47%;--g:#3e26a8 0%,#3e26a8 35.2%,#3e26a9 38.6%,#3e27a9 42.5%,#3e27a9 45.9%,#3e27aa 49.7%,#3e27ac 53.6%,#3f28ad 57.4%,#3f28af 60.8%,#3f29b0 64.2%,#412ebe 70.2%,#4331c7 74.4%,#4434cf 78.7%,#4639da 83%,#473fe2 86.4%,#4743e7 89.3%,#4747eb 91.9%,#484aed 94%,#484df0 95.7%,#484df0 96.8%,#4759f8 97.9%,#4367fd 98.7%,#2d89f5 99.5%,#2b91ef 100%"></i><i style="left:382.7px;width:8.6px;--p:47%;--g:#3e26a8 0%,#3e26a8 49.7%,#3e27a9 53.6%,#3e27aa 57.4%,#3e27ab 60.8%,#3e27ab 64.2%,#4029b2 70.2%,#402ab5 74.4%,#412dbb 78.7%,#4433cc 83%,#4538d8 86.4%,#463cdf 89.3%,#463de0 91.9%,#463de0 94%,#4742e6 95.7%,#4849ed 96.8%,#4757f7 97.9%,#465efb 98.7%,#2d88f6 99.5%,#2c90f0 100%"></i><i style="left:386.7px;width:8.6px;--p:47%;--g:#3e26a8 0%,#3e26a8 64.2%,#3f29b0 70.2%,#402ab4 74.4%,#412cb9 78.7%,#4433cb 83%,#4536d3 86.4%,#4538d8 89.3%,#463de0 91.9%,#473fe2 94%,#473fe2 95.7%,#484ff2 96.8%,#465efb 97.9%,#3e70ff 98.7%,#2e87f7 99.5%,#2c8ff1 100%"></i><i style="left:390.7px;width:8.6px;--p:47%;--g:#3e26a8 0%,#3e26a8 64.2%,#3f28ae 70.2%,#3f29b2 74.4%,#412cb8 78.7%,#422fc0 83%,#422fc2 86.4%,#4332c9 89.3%,#4435d1 91.9%,#4435d1 95.7%,#473ee1 96.8%,#4758f8 97.9%,#4757f7 98.7%,#2e86f8 99.5%,#2c8ef2 100%"></i><i style="left:394.7px;width:8.6px;--p:47%;--g:#3e26a8 0%,#3e26a8 64.2%,#3f28ad 70.2%,#3f29b1 74.4%,#402ab3 78.7%,#412cb8 83%,#412dbb 86.4%,#412ebe 89.3%,#422fc1 91.9%,#422fc1 95.7%,#484cf0 96.8%,#475af9 97.9%,#4465fd 98.7%,#2e85f8 99.5%,#2d8df2 100%"></i><i style="left:398.7px;width:8.6px;--p:47%;--g:#3e28ac 0%,#3e27ab 6.3%,#3e27aa 12.7%,#3e28ac 16.9%,#3e27ab 21.2%,#3e27aa 24.2%,#3e27ac 27.6%,#3e28ad 31.4%,#3e27ab 35.2%,#3e27aa 38.6%,#3e27aa 42.5%,#3e27ac 45.9%,#3e27ac 49.7%,#3e27ab 53.6%,#3e27ab 57.4%,#3e27ac 60.8%,#3e27ac 64.2%,#3e28ac 70.2%,#3f28ae 74.4%,#3f29b1 78.7%,#402bb6 83%,#412cb8 86.4%,#412cba 89.3%,#412dbd 91.9%,#412dbd 96.8%,#473ee2 97.9%,#4564fd 98.7%,#2e83f9 99.5%,#2d8cf3 100%"></i><i style="left:402.7px;width:8.6px;--p:47%;--g:#3e26a8 0%,#3e26a8 64.2%,#3e27aa 70.2%,#3e27ab 74.4%,#3f28ad 78.7%,#3f29b2 83%,#402ab4 86.4%,#402bb6 89.3%,#412cb9 91.9%,#412cb9 95.7%,#4537d5 96.8%,#4851f3 97.9%,#4562fc 98.7%,#2f82f9 99.5%,#2d8bf4 100%"></i><i style="left:406.7px;width:8.6px;--p:47%;--g:#3e26a8 0%,#3e26a8 64.2%,#3e27aa 70.2%,#3e27ab 74.4%,#3e28ac 78.7%,#3f28af 83%,#3f29b0 86.4%,#3f29b2 89.3%,#402ab4 91.9%,#402ab4 94%,#4434ce 95.7%,#463adb 96.8%,#484ff2 97.9%,#4660fc 98.7%,#2f81fa 99.5%,#2d8af5 100%"></i><i style="left:410.7px;width:8.6px;--p:47%;--g:#3e26a8 0%,#3e26a8 64.2%,#3e27aa 70.2%,#3e27ab 74.4%,#3e28ad 78.7%,#3f28ae 83%,#3f28af 86.4%,#3f28af 89.3%,#3f29b0 91.9%,#3f29b0 95.7%,#402bb8 96.8%,#4850f2 97.9%,#4561fc 98.7%,#2f80fa 99.5%,#2d88f6 100%"></i><i style="left:414.7px;width:8.6px;--p:47%;--g:#3e26a8 0%,#3e26a8 64.2%,#3e27aa 70.2%,#3e27ab 74.4%,#3e28ac 78.7%,#3e28ac 83%,#3e27ac 86.4%,#3e27ac 89.3%,#3e28ac 91.9%,#3e28ac 94%,#3f28af 95.7%,#4331c8 96.8%,#484ef1 97.9%,#4466fd 98.7%,#307ffb 99.5%,#2d87f7 100%"></i><i style="left:418.7px;width:8.6px;--p:47%;--g:#3e26a8 0%,#3e26a8 64.2%,#3e27aa 70.2%,#3e27ab 74.4%,#3e27ac 78.7%,#3e27ac 89.3%,#3e28ac 91.9%,#3e28ac 95.7%,#3f29b0 96.8%,#4848ec 97.9%,#465ffb 98.7%,#317efb 99.5%,#2e86f7 100%"></i><i style="left:422.7px;width:8.6px;--p:47%;--g:#3e26a8 0%,#3e26a8 64.2%,#3e27aa 70.2%,#3e27ab 74.4%,#3e27ac 78.7%,#3e27ac 86.4%,#3e27ab 89.3%,#3e28ac 91.9%,#3e28ac 94%,#412cb9 95.7%,#4230c3 96.8%,#4743e7 97.9%,#4758f8 98.7%,#317dfc 99.5%,#2e85f8 100%"></i><i style="left:426.7px;width:8.6px;--p:47%;--g:#3e26a8 0%,#3e26a8 64.2%,#3e27aa 70.2%,#3e27ab 74.4%,#3e27ac 78.7%,#3e27ac 94%,#412ebe 95.7%,#4230c4 96.8%,#4747eb 97.9%,#465ffb 98.7%,#327cfc 99.5%,#2e85f8 100%"></i><i style="left:430.7px;width:8.6px;--p:47%;--g:#3e26a8 0%,#3e26a8 64.2%,#3e27aa 70.2%,#3e27ab 74.4%,#3e27ac 78.7%,#3e27ac 83%,#3e27ab 86.4%,#3e27ab 89.3%,#3e27ac 91.9%,#3e27ac 95.7%,#402ab3 96.8%,#4745e9 97.9%,#475bfa 98.7%,#327cfc 99.5%,#2e85f8 100%"></i><i style="left:434.7px;width:8.6px;--p:47%;--g:#463cdf 0%,#463ee0 6.3%,#4434d0 12.7%,#4537d6 16.9%,#4435d1 21.2%,#463adb 24.2%,#463de0 27.6%,#4435d2 31.4%,#4435d0 35.2%,#4332c9 38.6%,#4740e3 42.5%,#463ee1 45.9%,#463de0 49.7%,#4538d8 53.6%,#4537d7 57.4%,#473fe2 60.8%,#463bdc 64.2%,#4538d8 70.2%,#4434cf 74.4%,#4332c9 78.7%,#4331c8 83%,#463ee1 86.4%,#4433cc 89.3%,#4434ce 91.9%,#4332ca 94%,#4639da 95.7%,#4741e5 96.8%,#4745e9 97.9%,#475af9 98.7%,#327cfc 99.5%,#2e85f8 100%"></i><i style="left:438.7px;width:8.6px;--p:47%;--g:#3e26a8 0%,#3e26a8 64.2%,#3e27aa 70.2%,#3e27ab 74.4%,#3e27ac 78.7%,#3e27ab 83%,#3e27ab 89.3%,#3e27ac 91.9%,#3e27ac 95.7%,#422fc0 96.8%,#4848ec 97.9%,#4562fc 98.7%,#327cfc 99.5%,#2e85f8 100%"></i><i style="left:442.7px;width:8.6px;--p:47%;--g:#3e26a8 0%,#3e26a8 64.2%,#3e27aa 70.2%,#3e27ab 74.4%,#3e27ac 78.7%,#3e27ab 83%,#3e27ab 89.3%,#3e27ac 91.9%,#3e27ac 94%,#412cb9 95.7%,#412dbc 96.8%,#4744e8 97.9%,#475cfa 98.7%,#327bfc 99.5%,#2e85f8 100%"></i><i style="left:446.7px;width:8.6px;--p:47%;--g:#3e26a8 0%,#3e26a8 64.2%,#3e27a9 70.2%,#3e27aa 74.4%,#3e27ab 78.7%,#3e27ab 95.7%,#412cba 96.8%,#4741e5 97.9%,#465dfb 98.7%,#327bfc 99.5%,#2e85f8 100%"></i><i style="left:450.7px;width:8.6px;--p:47%;--g:#3e26a8 0%,#3e26a8 64.2%,#3e27aa 70.2%,#3e27aa 74.4%,#3e27ab 78.7%,#3e27ab 95.7%,#3f28af 96.8%,#4743e7 97.9%,#475cfa 98.7%,#337bfc 99.5%,#2e85f8 100%"></i><i style="left:454.7px;width:8.6px;--p:47%;--g:#3e26a8 0%,#3e26a8 64.2%,#3e27aa 70.2%,#3e27aa 74.4%,#3e27ab 78.7%,#3e27ab 96.8%,#402ab5 97.9%,#475bf9 98.7%,#337bfc 99.5%,#2e85f8 100%"></i><i style="left:458.7px;width:8.6px;--p:47%;--g:#3e26a8 0%,#3e26a8 64.2%,#3e27a9 70.2%,#3e27aa 74.4%,#3e27ab 78.7%,#3e27ab 94%,#402ab3 95.7%,#412cb9 96.8%,#4744e9 97.9%,#475cfa 98.7%,#337bfd 99.5%,#2e85f8 100%"></i><i style="left:462.7px;width:8.6px;--p:47%;--g:#3e26a8 0%,#3e26a8 64.2%,#3e27a9 70.2%,#3e27aa 74.4%,#3e27ab 78.7%,#3e27ab 83%,#3e27aa 86.4%,#3e27aa 89.3%,#3e27ab 91.9%,#3e27ab 94%,#3f29b1 95.7%,#402ab5 96.8%,#4740e4 97.9%,#4853f4 98.7%,#337afd 99.5%,#2e85f8 100%"></i><i style="left:466.7px;width:8.6px;--p:47%;--g:#3e26a8 0%,#3e26a8 64.2%,#3e27a9 70.2%,#3e27aa 74.4%,#3e27ab 78.7%,#3e27aa 83%,#3e27aa 89.3%,#3e27ab 91.9%,#3e27ab 94%,#3f29b0 95.7%,#402ab3 96.8%,#463cde 97.9%,#4853f4 98.7%,#337afd 99.5%,#2e85f8 100%"></i><i style="left:470.7px;width:8.6px;--p:47%;--g:#3e26a8 0%,#3e26a8 64.2%,#3e27a9 70.2%,#3e27aa 74.4%,#3e27aa 89.3%,#3e27ab 91.9%,#3e27ab 96.8%,#4435d1 97.9%,#4756f7 98.7%,#347afd 99.5%,#2e85f8 100%"></i><i style="left:474.7px;width:8.6px;--p:47%;--g:#3e26a8 0%,#3e26a8 64.2%,#3e27a9 70.2%,#3e27aa 74.4%,#3e27ab 78.7%,#3e27ab 83%,#3e27aa 86.4%,#3e27aa 89.3%,#3e27ab 91.9%,#3e27ab 96.8%,#402bb6 97.9%,#4759f9 98.7%,#347afd 99.5%,#2e85f8 100%"></i><i style="left:478.7px;width:8.6px;--p:47%;--g:#3e26a8 0%,#3e26a8 64.2%,#3e27a9 70.2%,#3e27aa 74.4%,#3e27aa 91.9%,#3e27ab 94%,#3e27ab 95.7%,#3f29b2 96.8%,#473fe2 97.9%,#4756f7 98.7%,#347afd 99.5%,#2e85f8 100%"></i><i style="left:482.7px;width:8.6px;--p:47%;--g:#3e26a8 0%,#3e26a8 64.2%,#3e27a9 70.2%,#3e27aa 74.4%,#3e27aa 95.7%,#3f29b2 96.8%,#463de0 97.9%,#4853f5 98.7%,#3479fd 99.5%,#2e85f8 100%"></i><i style="left:486.7px;width:8.6px;--p:47%;--g:#3e26a8 0%,#3e26a8 64.2%,#3e27a9 70.2%,#3e27aa 74.4%,#3e27aa 96.8%,#463ee1 97.9%,#4758f8 98.7%,#3479fd 99.5%,#2e85f8 100%"></i><i style="left:490.7px;width:8.6px;--p:47%;--g:#412dbc 0%,#4331c7 6.3%,#412dbd 12.7%,#4230c3 16.9%,#4331c7 21.2%,#422ebf 24.2%,#412dbd 27.6%,#4434ce 31.4%,#4230c4 35.2%,#4332ca 38.6%,#4434cf 42.5%,#4434ce 45.9%,#422ebe 49.7%,#422ebe 53.6%,#4435d0 57.4%,#4434ce 60.8%,#422ebf 64.2%,#4331c6 70.2%,#4332c8 74.4%,#422fc1 78.7%,#412cba 83%,#4332c9 86.4%,#4433cc 89.3%,#4331c7 91.9%,#422fc1 94%,#4330c4 95.7%,#422ebf 96.8%,#463de0 97.9%,#4755f6 98.7%,#3579fd 99.5%,#2e85f8 100%"></i><i style="left:494.7px;width:8.6px;--p:47%;--g:#3e26a8 0%,#3e26a8 64.2%,#3e27a9 70.2%,#3e27a9 74.4%,#3e27aa 78.7%,#3e27aa 95.7%,#3f29b0 96.8%,#4741e4 97.9%,#4758f8 98.7%,#3579fd 99.5%,#2e85f8 100%"></i><i style="left:498.7px;width:8.6px;--p:47%;--g:#3e26a8 0%,#3e26a8 64.2%,#3e27a9 70.2%,#3e27a9 74.4%,#3e27aa 78.7%,#3e27aa 95.7%,#3f29b1 96.8%,#4741e5 97.9%,#465dfb 98.7%,#3579fd 99.5%,#2e85f8 100%"></i><i style="left:502.7px;width:8.6px;--p:47%;--g:#4434ce 0%,#4331c7 6.3%,#4332ca 12.7%,#4331c6 16.9%,#412ebe 21.2%,#4332cb 24.2%,#4433cd 27.6%,#422fc0 31.4%,#4434ce 35.2%,#412dbc 38.6%,#412dbc 42.5%,#422ebf 45.9%,#4331c7 49.7%,#422ec0 53.6%,#4331c6 57.4%,#4331c6 60.8%,#422fc2 64.2%,#4330c5 70.2%,#422fc2 74.4%,#4331c6 78.7%,#4434ce 83%,#412dbd 86.4%,#4433cb 89.3%,#4332c9 91.9%,#422fc3 94%,#4331c7 95.7%,#412dbd 96.8%,#473ee1 97.9%,#475bf9 98.7%,#3578fd 99.5%,#2e85f8 100%"></i><i style="left:506.7px;width:8.6px;--p:47%;--g:#3e26a8 0%,#3e26a8 64.2%,#3e27a9 70.2%,#3e27a9 74.4%,#3e27aa 78.7%,#3e27a9 83%,#3e27a9 89.3%,#3e27aa 91.9%,#3e27aa 94%,#3f28ad 95.7%,#3f29b0 96.8%,#463cdf 97.9%,#4756f7 98.7%,#3578fd 99.5%,#2e85f8 100%"></i><i style="left:510.7px;width:8.6px;--p:47%;--g:#3e26a8 0%,#3e26a8 64.2%,#3e26a9 70.2%,#3e27a9 74.4%,#3e27a9 89.3%,#3e27aa 91.9%,#3e27aa 94%,#3e28ad 95.7%,#3f29b0 96.8%,#463cdf 97.9%,#4755f6 98.7%,#3678fd 99.5%,#2e85f8 100%"></i><i style="left:514.7px;width:8.6px;--p:47%;--g:#3e26a8 0%,#3e26a8 64.2%,#3e27a9 70.2%,#3e27a9 96.8%,#4331c8 97.9%,#4853f5 98.7%,#3678fd 99.5%,#2e85f8 100%"></i><i style="left:518.7px;width:8.6px;--p:47%;--g:#3e26a8 0%,#3e26a8 64.2%,#3e26a9 70.2%,#3e27a9 74.4%,#3e27a9 95.7%,#3f28af 96.8%,#463cdf 97.9%,#4853f5 98.7%,#3678fe 99.5%,#2e85f8 100%"></i><i style="left:522.7px;width:8.6px;--p:47%;--g:#422ebf 0%,#4331c8 6.3%,#412cb9 12.7%,#4230c3 16.9%,#4331c7 21.2%,#4330c5 24.2%,#4332ca 27.6%,#412cba 31.4%,#422fc2 35.2%,#412cb9 38.6%,#422ec0 42.5%,#412dbc 45.9%,#412cba 49.7%,#4332ca 53.6%,#4332ca 57.4%,#412cba 60.8%,#422ebe 64.2%,#412cba 70.2%,#422fc2 74.4%,#422fc1 78.7%,#4331c8 83%,#4433cc 86.4%,#4230c3 89.3%,#4332cb 91.9%,#412cb9 94%,#4331c7 95.7%,#4433cc 96.8%,#473fe2 97.9%,#475bf9 98.7%,#3678fe 99.5%,#2e85f8 100%"></i><i style="left:526.7px;width:8.6px;--p:47%;--g:#3e26a8 0%,#3e26a8 64.2%,#3e26a9 70.2%,#3e26a9 74.4%,#3e27a9 78.7%,#3e27a9 96.8%,#402bb7 97.9%,#4755f6 98.7%,#3677fe 99.5%,#2e85f8 100%"></i><i style="left:530.7px;width:8.6px;--p:47%;--g:#3e26a8 0%,#3e26a8 64.2%,#3e26a9 70.2%,#3e26a9 74.4%,#3e27a9 78.7%,#3e27a9 94%,#3e27ac 95.7%,#3f28af 96.8%,#463de0 97.9%,#475bfa 98.7%,#3777fe 99.5%,#2e85f8 100%"></i><i style="left:534.7px;width:8.6px;--p:47%;--g:#3e26a8 0%,#3e26a8 64.2%,#3e26a9 70.2%,#3e26a9 96.8%,#412dbb 97.9%,#4852f4 98.7%,#3777fe 99.5%,#2e85f8 100%"></i><i style="left:538.7px;width:8.6px;--p:47%;--g:#3e26a8 0%,#3e26a8 64.2%,#3e26a9 70.2%,#3e26a9 95.7%,#3f28ae 96.8%,#463adb 97.9%,#4850f3 98.7%,#3777fe 99.5%,#2e85f8 100%"></i><i style="left:542.7px;width:8.6px;--p:47%;--g:#3e26a8 0%,#3e26a8 70.2%,#3e26a9 74.4%,#3e26a9 94%,#3e27ab 95.7%,#3f28ae 96.8%,#463bde 97.9%,#4756f7 98.7%,#3777fe 99.5%,#2e85f8 100%"></i><i style="left:546.7px;width:9.1px;--p:44%;--g:#3e26a8 0%,#3e26a8 94%,#3e27ab 95.7%,#3f28ad 96.8%,#463adb 97.9%,#4853f5 98.7%,#3776fe 99.5%,#2e85f8 100%"></i><b style="top:0;height:100%;left:142.6px;width:106.0px;background:repeating-conic-gradient(rgba(62,38,168,.42) 0 25%,transparent 0 50%) 0px 0/11px 8.4px;clip-path:polygon(106px 0%,104px 55%,96px 75%,84px 86%,64px 92%,34px 96.5%,0 96.5%,0 0);filter:blur(.7px)"></b><b style="top:0;height:100%;left:306.6px;width:106.0px;background:repeating-conic-gradient(rgba(62,38,168,.42) 0 25%,transparent 0 50%) 3px 0/11px 8.4px;clip-path:polygon(0px 0%,2px 55%,10px 75%,22px 86%,42px 92%,72px 96.5%,106px 96.5%,106px 0);filter:blur(.7px)"></b><b style="top:0;height:90%;left:247.6px;width:23.0px;background:repeating-conic-gradient(rgba(45,70,225,.3) 0 25%,transparent 0 50%) 1px 2px/5px 10.4px;-webkit-mask-image:linear-gradient(to right,transparent,#000 30%,#000 70%,transparent);mask-image:linear-gradient(to right,transparent,#000 30%,#000 70%,transparent);filter:blur(.6px)"></b><b style="top:0;height:90%;left:284.6px;width:23.0px;background:repeating-conic-gradient(rgba(45,70,225,.3) 0 25%,transparent 0 50%) 2px 2px/5px 10.4px;-webkit-mask-image:linear-gradient(to right,transparent,#000 30%,#000 70%,transparent);mask-image:linear-gradient(to right,transparent,#000 30%,#000 70%,transparent);filter:blur(.6px)"></b></div>
<div class="cb" style="left:616.3px;top:28.4px;width:22.9px;height:480.1px;background:linear-gradient(#f9fb15,#f6ef20,#f5e327,#f9d62d,#feca33,#febe3c,#f1ba37,#debc2a,#c8c129,#afc637,#94ca4a,#77cc60,#5ccc76,#44ca8a,#34c79c,#28c2ab,#12beb9,#01b9c6,#0cb3d3,#1aacdd,#21a3e3,#269ae9,#2c90f0,#2e85f8,#347afd,#3f6efe,#4562fc,#4757f7,#484cef,#4741e5,#4536d5,#422ebf,#3e26a8)"></div>
<div class="cb" style="left:1427.8px;top:28.4px;width:22.9px;height:480.1px;background:linear-gradient(#f9fb15,#f6ef20,#f5e327,#f9d62d,#feca33,#febe3c,#f1ba37,#debc2a,#c8c129,#afc637,#94ca4a,#77cc60,#5ccc76,#44ca8a,#34c79c,#28c2ab,#12beb9,#01b9c6,#0cb3d3,#1aacdd,#21a3e3,#269ae9,#2c90f0,#2e85f8,#347afd,#3f6efe,#4562fc,#4757f7,#484cef,#4741e5,#4536d5,#422ebf,#3e26a8)"></div>
<div class="hm" style="left:43.4px;top:686.6px;width:561.6px;height:480.1px"><i style="left:0.0px;width:8.7px;--p:0%;--g:#fad42e 0%,#fad42e 40.6%,#fec934 52.3%,#febe3c 55.3%,#f2ba38 56.7%,#e1bc2b 58.2%,#c3c22b 61.1%,#a5c83d 62.6%,#85cb55 64.1%,#64cd6e 65.5%,#48cb86 67%,#2fc5a2 68.5%,#12beb9 69.9%,#06b5cf 70.9%,#1da9e0 71.9%,#2699e9 72.9%,#2d8af4 73.7%,#3579fd 74.4%,#4367fd 75.2%,#337bfc 75.9%,#2d8df2 76.6%,#249ee6 77.3%,#1aacdd 78%,#02b7cb 78.7%,#12beb9 80.2%,#2dc4a6 81.7%,#37c897 84.6%,#26c2ac 87.5%,#0cbdbc 89%,#02b7cb 90.5%,#12b1d6 93.4%,#1fa6e2 94.3%,#2699e9 95.2%,#1fa6e2 95.4%,#12b1d6 95.6%,#01bac5 95.8%,#1dc0b3 96%,#32c69f 96.2%,#48cb86 96.4%,#6bcd69 96.6%,#43ca8b 96.9%,#2dc4a6 97.2%,#43ca8b 97.5%,#6bcd69 97.8%,#43ca8b 98.2%,#2dc4a6 98.7%,#26c2ac 100%"></i><i style="left:0.5px;width:15.8px;--p:48%;--g:#fad52e 0%,#fad52e 40.6%,#fccf30 46.5%,#fec934 52.3%,#febf3b 55.3%,#e7bb2e 58.2%,#cec028 61.1%,#b5c533 62.6%,#99c946 64.1%,#7ccc5c 65.5%,#60cd72 67%,#3eca8f 68.5%,#2cc4a7 69.9%,#0cbdbc 70.9%,#07b5cf 71.9%,#1caadf 72.9%,#259ce7 73.7%,#2d8cf3 74.4%,#347afd 75.2%,#2d8cf3 75.9%,#259ce7 76.6%,#1baade 77.3%,#07b5cf 78%,#0abdbd 78.7%,#27c2ac 80.2%,#36c899 81.7%,#3fca8e 84.6%,#2ec5a3 87.5%,#1dc0b3 89%,#05bbc1 90.5%,#03b7cc 93.4%,#17aeda 94.3%,#21a3e3 95.2%,#12b1d7 95.5%,#04bbc2 95.8%,#28c2ab 96%,#37c898 96.2%,#4fcc80 96.4%,#6fcd66 96.6%,#4bcb84 96.9%,#33c69d 97.2%,#4acb84 97.5%,#6ecd67 97.8%,#49cb85 98.2%,#32c69e 98.7%,#30c5a1 99.3%,#2ec4a5 100%"></i><i style="left:8.1px;width:15.8px;--p:48%;--g:#fad52d 0%,#fad52d 40.6%,#fcd030 46.5%,#feca34 52.3%,#fec13a 55.3%,#edba33 58.2%,#d8be28 61.1%,#adc638 64.1%,#7bcc5d 67%,#58cc79 68.5%,#3cc992 69.9%,#2cc4a7 70.9%,#10beba 71.9%,#02b7cb 72.9%,#1aabdd 73.7%,#259ce7 74.4%,#2d8cf3 75.2%,#259be8 75.9%,#1ca9df 76.6%,#07b5cf 77.3%,#07bcc0 78%,#24c1ae 78.7%,#32c69e 80.2%,#43ca8b 81.7%,#4acb84 84.6%,#35c79a 87.5%,#2ac3a9 89%,#18bfb6 90.5%,#05bbc1 93.4%,#07b5d0 94.3%,#1aacdd 95.2%,#03b7cc 95.5%,#13beb8 95.8%,#2fc5a3 96%,#49cb86 96.3%,#74cc62 96.6%,#54cc7d 96.9%,#3ac994 97.2%,#53cc7e 97.5%,#71cd64 97.8%,#51cc7f 98.2%,#38c896 98.7%,#35c79a 99.3%,#33c79d 100%"></i><i style="left:15.7px;width:15.8px;--p:48%;--g:#f9d62d 0%,#f9d62d 40.6%,#fcd030 46.5%,#feca33 52.3%,#fec239 55.3%,#f3ba38 58.2%,#e1bc2b 61.1%,#bfc32d 64.1%,#97ca48 67%,#76cc60 68.5%,#58cc79 69.9%,#36c799 71.4%,#1dc0b3 72.9%,#01b8ca 73.7%,#1aabdd 74.4%,#259ce7 75.2%,#1ca9df 75.9%,#08b5d0 76.6%,#0abdbd 77.3%,#24c1ae 78%,#32c69f 78.7%,#3fca8e 80.2%,#56cc7b 81.7%,#57cc7a 84.6%,#3eca8f 87.5%,#28c3ab 90.5%,#19bfb5 93.4%,#02bac4 94.3%,#0bb3d2 95.2%,#05bbc1 95.5%,#24c1af 95.8%,#35c79a 96%,#51cc7e 96.3%,#79cc5e 96.6%,#5dcc75 96.9%,#44cb8a 97.2%,#5bcc77 97.5%,#75cc61 97.8%,#59cc79 98.2%,#40ca8d 98.7%,#3cc991 99.3%,#3ac994 100%"></i><i style="left:23.3px;width:15.8px;--p:48%;--g:#f9d72d 0%,#f9d72d 40.6%,#fcd12f 46.5%,#fdcb33 52.3%,#fec338 55.3%,#f8ba3d 58.2%,#eaba31 61.1%,#d0bf27 64.1%,#b1c635 67%,#97ca48 68.5%,#7bcc5d 69.9%,#54cc7c 71.4%,#37c897 72.9%,#26c2ac 73.5%,#07bcbf 74%,#09b4d1 74.6%,#1caadf 75.2%,#07b5d0 75.9%,#0abdbd 76.6%,#2ac3a9 77.3%,#41ca8c 78.7%,#6bcd69 81.7%,#64cd6e 84.6%,#4acb84 87.5%,#32c69f 90.5%,#2ac3a9 93.4%,#15bfb7 94.3%,#01bac5 95.2%,#26c2ad 95.6%,#3dc991 96%,#5bcc77 96.3%,#7ecc5a 96.6%,#50cc7f 97.2%,#78cc5f 97.8%,#4acb84 98.7%,#46cb88 99.3%,#43ca8b 100%"></i><i style="left:30.9px;width:15.8px;--p:48%;--g:#f9d82c 0%,#f9d82c 40.6%,#fbd22f 46.5%,#fdcb33 52.3%,#fec537 55.3%,#fcbc3d 58.2%,#f2ba38 61.1%,#e0bc2a 64.1%,#cac129 67%,#a0c941 69.9%,#7fcc5a 71.4%,#5fcd73 72.9%,#3dca90 73.5%,#2cc4a7 74%,#0dbdbb 74.6%,#05b6ce 75.2%,#0cbdbc 75.9%,#2ac3a8 76.6%,#3cc992 77.3%,#5bcc77 78.7%,#82cc58 81.7%,#73cd63 84.6%,#59cc78 87.5%,#3cc991 90.5%,#34c79c 93.4%,#28c3aa 94.3%,#15bfb7 95.2%,#30c5a1 95.6%,#48cb86 96%,#64cd6f 96.3%,#83cc57 96.6%,#5ecd74 97.2%,#7ccc5c 97.8%,#56cc7b 98.7%,#51cc7f 99.3%,#4fcc81 100%"></i><i style="left:38.6px;width:15.8px;--p:48%;--g:#f8d82c 0%,#f8d82c 40.6%,#fbd22f 46.5%,#fdcb32 52.3%,#fec636 55.3%,#febf3c 58.2%,#f9bb3d 61.1%,#edba33 64.1%,#dfbc2a 67%,#c1c32c 69.9%,#92ca4b 72.9%,#68cd6c 73.5%,#43ca8b 74%,#2ec5a4 74.6%,#12beb9 75.2%,#2cc4a6 75.9%,#3dc990 76.6%,#5ccc76 77.3%,#78cc5f 78.7%,#98c946 81.7%,#82cc58 84.6%,#69cd6b 87.5%,#4dcc82 90.5%,#40ca8d 93.4%,#2ac3a9 95.2%,#3ac994 95.6%,#55cc7b 96%,#6dcd67 96.3%,#88cb53 96.6%,#6dcd68 97.2%,#7fcc5a 97.8%,#62cd70 98.7%,#5dcc75 99.3%,#5ccc76 100%"></i><i style="left:46.2px;width:15.8px;--p:48%;--g:#f8d92c 0%,#f8d92c 40.6%,#fbd32e 46.5%,#fdcc32 52.3%,#fec735 55.3%,#fec239 58.2%,#febe3c 61.1%,#f9bb3d 64.1%,#f1ba37 67%,#debc2a 69.9%,#c3c22b 72.9%,#9ac945 73.5%,#6ecd67 74%,#47cb87 74.6%,#2fc5a2 75.2%,#41ca8c 75.9%,#60cd73 76.6%,#83cc57 77.3%,#96ca48 78.7%,#aec637 81.7%,#90ca4d 84.6%,#7acc5d 87.5%,#61cd71 90.5%,#54cc7c 93.4%,#36c899 95.2%,#49cb86 95.6%,#63cd6f 96%,#8dcb4f 96.6%,#7ccc5c 97.2%,#83cc57 97.8%,#70cd65 98.7%,#6acd6a 99.3%,#69cd6b 100%"></i><i style="left:53.8px;width:15.4px;--p:50%;--g:#f8da2b 0%,#f8da2b 40.6%,#fad42e 46.5%,#fec934 55.3%,#fec338 61.1%,#febe3c 67%,#eaba31 72.9%,#c8c129 73.5%,#9fc942 74%,#71cd64 74.6%,#48cb86 75.2%,#66cd6d 75.9%,#89cb52 76.6%,#abc739 77.3%,#c3c22b 81.7%,#9fc942 84.6%,#78cc5f 90.5%,#6bcd69 93.4%,#48cb86 95.2%,#6bcd69 95.9%,#92ca4b 96.6%,#78cc5f 99.3%,#78cc5f 100%"></i><i style="left:61.4px;width:14.9px;--p:48%;--g:#f7dc2a 0%,#f7dd2a 8.6%,#f7dd2a 28.9%,#f7dc2a 40.6%,#f9d62d 46.5%,#fdcc32 55.3%,#fec636 61.1%,#fec338 64.1%,#fec03a 67%,#f9bb3d 69.9%,#f0ba36 72.9%,#cdc028 73.7%,#a1c840 74.4%,#70cd65 75.2%,#88cb53 75.8%,#a4c83e 76.5%,#bfc32d 77.3%,#cbc029 81.7%,#aec637 84.6%,#9cc943 87.5%,#8ccb50 90.5%,#80cc59 93.4%,#64cd6f 95.2%,#98ca47 96.3%,#a4c83e 96.6%,#92ca4b 99.3%,#92ca4b 100%"></i><i style="left:68.6px;width:14.9px;--p:48%;--g:#f6de29 0%,#f6df29 8.6%,#f6e128 17.2%,#f6df29 28.9%,#f6de29 40.6%,#f8d92b 46.5%,#fccf30 55.3%,#fec934 61.1%,#fec636 64.1%,#fec239 67%,#fcbc3d 69.9%,#f5ba3a 72.9%,#ddbd29 73.7%,#bfc32d 74.4%,#9dc943 75.2%,#adc638 75.8%,#d1bf27 77.3%,#d4bf28 81.7%,#bcc42f 84.6%,#adc738 87.5%,#9fc942 90.5%,#95ca49 93.4%,#83cc57 95.2%,#acc738 96.3%,#b5c533 96.6%,#abc739 99.3%,#abc739 100%"></i><i style="left:75.7px;width:14.9px;--p:48%;--g:#f6e128 0%,#f5e227 8.6%,#f5e427 17.2%,#f5e227 28.9%,#f6e128 40.6%,#f7dc2a 46.5%,#fbd32e 55.3%,#fdcc32 61.1%,#fec934 64.1%,#fec437 67%,#febe3c 69.9%,#fabb3d 72.9%,#e3bc2c 74%,#c6c22a 75.2%,#cfc028 75.8%,#e1bc2b 77.3%,#dcbd29 81.7%,#c9c129 84.6%,#bcc42f 87.5%,#b1c635 90.5%,#a9c73b 93.4%,#a3c83f 95.2%,#c0c32d 96.3%,#c6c22a 96.6%,#c3c22b 99.3%,#c3c22b 100%"></i><i style="left:82.8px;width:14.9px;--p:48%;--g:#f5e327 0%,#f5e526 8.6%,#f5e725 17.2%,#f5e526 28.9%,#f5e327 40.6%,#f6de29 46.5%,#f9d62d 55.3%,#fccf30 61.1%,#fdcb32 64.1%,#fec736 67%,#fec13a 69.9%,#fdbd3d 72.9%,#e7bb2e 75.2%,#ebba31 75.8%,#efba35 77.3%,#e3bc2c 81.7%,#d6be28 84.6%,#cac129 87.5%,#c3c22b 90.5%,#bcc42f 93.4%,#c0c32d 95.2%,#d1bf27 96.3%,#d5be28 96.6%,#d8be28 99.3%,#d8be28 100%"></i><i style="left:90.0px;width:14.1px;--p:51%;--g:#f5e526 0%,#f5e825 8.6%,#f5eb23 17.2%,#f5e825 28.9%,#f5e526 40.6%,#f6df29 47.9%,#f8da2b 55.3%,#fdce31 64.1%,#fec338 69.9%,#febe3c 75.8%,#eaba31 81.7%,#d8be28 87.5%,#cec028 93.4%,#e1bc2b 96.3%,#eaba31 99.3%,#eaba31 100%"></i><i style="left:97.1px;width:13.3px;--p:48%;--g:#f5e427 0%,#f5e626 8.6%,#f5e825 17.2%,#f5e625 26%,#f5e426 33.3%,#f5e227 40.6%,#f6de29 47.9%,#f8da2b 55.3%,#fcd030 64.1%,#fec735 69.9%,#fec239 75.8%,#fbbc3d 78.7%,#f0ba36 81.7%,#dabd28 87.5%,#d0c028 91.9%,#d1bf27 93.4%,#e6bb2d 96.3%,#f0ba36 99.3%,#f0ba36 100%"></i><i style="left:103.4px;width:13.3px;--p:48%;--g:#f5e227 0%,#f5e427 8.6%,#f5e526 17.2%,#f5e427 26%,#f5e228 33.3%,#f6df29 40.6%,#f7dd2a 47.9%,#f8da2b 55.3%,#fbd22f 64.1%,#fdcb32 69.9%,#fec537 75.8%,#febf3b 78.7%,#f6ba3b 81.7%,#ddbd29 87.5%,#cfc028 91.9%,#d4be28 93.4%,#eaba31 96.3%,#f6ba3b 99.3%,#f6ba3b 100%"></i><i style="left:109.7px;width:13.3px;--p:48%;--g:#f6e128 0%,#f5e228 8.6%,#f5e227 17.2%,#f5e228 26%,#f6df29 33.3%,#f7dd2a 40.6%,#f7db2a 47.9%,#f8da2b 55.3%,#fad42e 64.1%,#fcd030 69.9%,#fec934 75.8%,#fec438 78.7%,#fbbc3d 81.7%,#dfbc2a 87.5%,#cec028 91.9%,#d8be28 93.4%,#eeba34 96.3%,#fbbc3d 99.3%,#fbbc3d 100%"></i><i style="left:116.1px;width:13.5px;--p:47%;--g:#f6df29 0%,#f6df29 26%,#f7dd2a 33.3%,#f8da2b 40.6%,#f8da2b 55.3%,#f9d72d 62.6%,#fad42e 69.9%,#fec934 78.7%,#f9bb3d 83.1%,#e1bc2b 87.5%,#cec028 91.9%,#e1bc2b 94.1%,#f2ba38 96.3%,#febe3c 99.3%,#febe3c 100%"></i><i style="left:122.4px;width:13.7px;--p:48%;--g:#f8da2b 0%,#f8d92b 13%,#f8d92b 26%,#f9d72c 33.3%,#fad52d 40.6%,#fad52d 47.9%,#fad62d 55.3%,#fad52e 62.6%,#fbd32e 69.9%,#fccf30 75.8%,#feca34 78.7%,#fec03b 81.7%,#f3ba39 84.6%,#e1bc2b 87.5%,#d1bf27 91.9%,#e6bb2d 94.1%,#f7ba3c 96.3%,#fec03b 99.3%,#fec03b 100%"></i><i style="left:128.9px;width:13.7px;--p:48%;--g:#fad42e 0%,#fbd32e 13%,#fbd32f 26%,#fbd12f 33.3%,#fcd030 40.6%,#fcd12f 47.9%,#fbd22f 55.3%,#fbd22f 62.6%,#fbd32e 69.9%,#fbd12f 75.8%,#fdcb33 78.7%,#fec239 81.7%,#f5ba3a 84.6%,#e1bc2b 87.5%,#d4be28 91.9%,#eaba31 94.1%,#fbbc3d 96.3%,#fec239 99.3%,#fec239 100%"></i><i style="left:135.5px;width:15.2px;--p:43%;--g:#fdce31 0%,#fdcd31 13.5%,#fdcc32 27.1%,#fdcb32 40.6%,#fdcd32 47.9%,#fdce31 55.3%,#fcd12f 65.5%,#fad42e 75.8%,#fec338 81.7%,#f6ba3b 84.6%,#e1bc2b 87.5%,#d8be28 91.9%,#eeba34 94.1%,#febe3c 96.3%,#fec338 99.3%,#fec338 100%"></i><i style="left:142.0px;width:16.6px;--p:48%;--g:#fdcb32 0%,#fec834 11.3%,#fec338 17.2%,#fec239 26%,#fec239 34.8%,#fec735 37.7%,#fdcd32 40.6%,#fdce31 47.9%,#fdce31 55.3%,#fccf30 62.6%,#fcd030 69.9%,#fcd030 75.8%,#fec636 81.7%,#f7ba3c 87.5%,#f3ba39 90.5%,#f3ba38 91.9%,#fec239 96.3%,#fec636 99.3%,#fec636 100%"></i><i style="left:150.0px;width:15.4px;--p:52%;--g:#fec934 0%,#fec338 11.3%,#f9bb3d 17.2%,#f9bb3d 34.8%,#fec338 37.7%,#fdce31 40.6%,#fdce31 69.9%,#fec934 81.7%,#fec338 90.5%,#fec934 99.3%,#fec934 100%"></i><i style="left:158.0px;width:14.2px;--p:48%;--g:#fec338 0%,#fdbd3d 8.4%,#f9bb3d 11.3%,#f2ba38 14.2%,#eeba34 17.2%,#eeba34 31.8%,#f6ba3b 34.8%,#fec13a 37.7%,#fdce31 40.6%,#fccf30 50.4%,#fcd030 60.2%,#fcd12f 69.9%,#fcd030 81.7%,#fcd030 84.6%,#fdcd31 90.5%,#fdce31 99.3%,#fdce31 100%"></i><i style="left:164.8px;width:19.1px;--p:35%;--g:#febe3c 0%,#f2ba38 8.4%,#e1bc2b 14.2%,#e1bc2b 31.8%,#f2ba38 34.8%,#febe3c 37.7%,#fdce31 40.6%,#fcd030 50.4%,#fbd22f 60.2%,#fad42e 69.9%,#f9d72d 77.3%,#f8da2b 84.6%,#f9d72d 91.9%,#fad42e 99.3%,#fad42e 100%"></i><i style="left:171.6px;width:22.7px;--p:52%;--g:#fdce31 0%,#fad42e 13%,#f8da2b 26%,#f6df29 33.3%,#f5e526 40.6%,#f5eb23 47.9%,#f6f01f 55.3%,#f6f01f 84.6%,#f5eb23 91.9%,#f5e526 99.3%,#f5e526 100%"></i><i style="left:183.3px;width:20.2px;--p:51%;--g:#f8da2b 0%,#f5e227 8.6%,#f5eb23 17.2%,#f5ef20 28.9%,#f7f31d 40.6%,#f7f61a 47.9%,#f8f817 55.3%,#f8f817 90.5%,#f6f01f 99.3%,#f6f01f 100%"></i><i style="left:193.7px;width:18.2px;--p:51%;--g:#f5e526 0%,#f5ef20 8.6%,#f8f817 17.2%,#f8f817 100%"></i><i style="left:203.0px;width:16.6px;--p:50%;--g:#f5eb23 0%,#f8f817 11.3%,#f8f817 55.3%,#f7f61a 62.6%,#f7f31d 69.9%,#f6f21e 77.3%,#f6f01f 84.6%,#f6f01f 100%"></i><i style="left:211.3px;width:15.3px;--p:50%;--g:#f6df29 0%,#f5e825 13%,#f6f01f 26%,#f6f01f 40.6%,#f5ed21 47.9%,#f5eb23 55.3%,#f5e526 62.6%,#f6df29 69.9%,#f7dd2a 77.3%,#f8da2b 84.6%,#f8da2b 100%"></i><i style="left:219.0px;width:14.2px;--p:50%;--g:#fec934 0%,#fdce31 13%,#fad42e 26%,#fad42e 40.6%,#fcd12f 47.9%,#fdce31 55.3%,#fec934 62.6%,#fec338 69.9%,#f6ba3b 72.9%,#e1bc2b 75.8%,#f9bb3d 81.7%,#fec338 84.6%,#fec636 91.9%,#fec934 99.3%,#fec934 100%"></i><i style="left:226.0px;width:13.2px;--p:49%;--g:#abc739 0%,#cec028 11.3%,#d8be28 17.2%,#eaba31 26%,#f6ba3b 33.3%,#febe3c 40.6%,#fec13a 47.9%,#fec338 55.3%,#fec13a 62.6%,#febe3c 69.9%,#eeba34 74.3%,#d8be28 78.7%,#eaba31 84.6%,#f9bb3d 90.5%,#fec338 99.3%,#fec338 100%"></i><i style="left:232.6px;width:12.3px;--p:49%;--g:#78cc5f 0%,#5fcd73 5.4%,#85cb55 11.3%,#abc739 17.2%,#c3c22b 21.6%,#d8be28 26%,#e6bb2d 33.3%,#f2ba38 40.6%,#f9bb3d 47.9%,#febe3c 55.3%,#febe3c 69.9%,#f9bb3d 77.3%,#f2ba38 84.6%,#eaba31 91.9%,#e1bc2b 99.3%,#e1bc2b 100%"></i><i style="left:238.6px;width:11.6px;--p:49%;--g:#53cc7d 0%,#37c897 6.9%,#4fcc80 10.3%,#6fcd66 13.7%,#92ca4b 17.2%,#b1c635 21.6%,#cec028 26%,#e1bc2b 30.4%,#f2ba38 34.8%,#fec338 40.6%,#fec636 47.9%,#fec934 55.3%,#fec934 69.9%,#fec338 81.7%,#f6ba3b 84.6%,#e1bc2b 87.5%,#cec028 93.4%,#eaba31 99.3%,#eaba31 100%"></i><i style="left:244.3px;width:11.0px;--p:49%;--g:#78cc5f 0%,#5fcd73 3.4%,#48cb86 6.9%,#6fcd66 10.3%,#9bc945 13.7%,#c3c22b 17.2%,#ddbd29 21.6%,#f2ba38 26%,#fec338 34.8%,#fdce31 40.6%,#fdce31 69.9%,#fec934 81.7%,#febe3c 87.5%,#f9bb3d 99.3%,#f9bb3d 100%"></i><i style="left:249.6px;width:10.4px;--p:48%;--g:#abc739 0%,#c3c22b 8.6%,#d8be28 17.2%,#eaba31 21.6%,#f9bb3d 26%,#fec338 33.3%,#fdce31 40.6%,#fdce31 55.3%,#fdcb32 62.6%,#fec934 69.9%,#febe3c 81.7%,#eaba31 84.6%,#cec028 87.5%,#b1c635 89%,#92ca4b 90.5%,#b7c532 92.7%,#d8be28 94.9%,#eeba34 97.1%,#febe3c 99.3%,#febe3c 100%"></i><i style="left:254.7px;width:9.9px;--p:48%;--g:#c3c22b 0%,#d8be28 8.6%,#eaba31 17.2%,#febe3c 26%,#fec338 33.3%,#fec934 40.6%,#fec934 55.3%,#fec636 62.6%,#fec338 69.9%,#f9bb3d 78.7%,#e1bc2b 80.9%,#c3c22b 83.1%,#a3c83f 84.1%,#81cc59 85.1%,#5fcd73 86.1%,#3cc992 87.5%,#29c3aa 89%,#07bcbf 90.5%,#1dc0b3 91.9%,#2dc4a6 93.4%,#43ca8b 94.1%,#6bcd69 94.9%,#98c946 95.6%,#c3c22b 96.3%,#e1bc2b 97.8%,#f9bb3d 99.3%,#f9bb3d 100%"></i><i style="left:259.4px;width:9.4px;--p:48%;--g:#cec028 0%,#e1bc2b 8.6%,#f2ba38 17.2%,#fec338 26%,#fec636 33.3%,#fec934 40.6%,#fdcb32 47.9%,#fdce31 55.3%,#fdcb32 62.6%,#fec934 69.9%,#febe3c 81.7%,#eeba34 86.1%,#d8be28 90.5%,#f2ba38 94.9%,#fec338 99.3%,#fec338 100%"></i><i style="left:263.9px;width:9.0px;--p:48%;--g:#abc739 0%,#cec028 11.3%,#abc739 20.1%,#c3c22b 23%,#d8be28 26%,#f2ba38 34.8%,#febe3c 40.6%,#fec13a 47.9%,#fec338 55.3%,#fec13a 62.6%,#febe3c 69.9%,#f6ba3b 77.3%,#eaba31 84.6%,#f6ba3b 91.9%,#febe3c 99.3%,#febe3c 100%"></i><i style="left:268.2px;width:8.6px;--p:48%;--g:#85cb55 0%,#9fc942 11.3%,#78cc5f 13.5%,#53cc7d 15.8%,#37c897 18%,#53cc7d 20%,#78cc5f 22%,#9fc942 24%,#c3c22b 26%,#d8be28 34.8%,#eaba31 40.6%,#eeba34 47.9%,#f2ba38 55.3%,#f2ba38 69.9%,#d8be28 78.7%,#c3c22b 83.1%,#abc739 87.5%,#c3c22b 93.4%,#d8be28 99.3%,#d8be28 100%"></i><i style="left:272.3px;width:8.3px;--p:47%;--g:#78cc5f 0%,#5fcd73 7.1%,#48cb86 14.2%,#37c897 16.1%,#2dc4a6 18%,#3eca8f 20%,#5fcd73 22%,#85cb55 24%,#abc739 26%,#c3c22b 33.3%,#d8be28 40.6%,#ddbd29 47.9%,#e1bc2b 55.3%,#ddbd29 62.6%,#d8be28 69.9%,#c3c22b 74.3%,#abc739 78.7%,#92ca4b 83.1%,#78cc5f 87.5%,#92ca4b 93.4%,#abc739 99.3%,#abc739 100%"></i><i style="left:276.2px;width:7.9px;--p:47%;--g:#c3c22b 0%,#cec028 8.6%,#d8be28 17.2%,#eaba31 26%,#d8be28 34.8%,#c3c22b 37.7%,#abc739 40.6%,#bdc32e 47.9%,#cec028 55.3%,#bdc32e 62.6%,#abc739 69.9%,#92ca4b 75.8%,#78cc5f 81.7%,#53cc7d 90.5%,#78cc5f 99.3%,#78cc5f 100%"></i><i style="left:280.0px;width:7.6px;--p:47%;--g:#d8be28 0%,#e1bc2b 13%,#eaba31 26%,#cec028 34.8%,#a5c83d 37.7%,#78cc5f 40.6%,#9fc942 49.4%,#c3c22b 55.3%,#9fc942 64.1%,#78cc5f 69.9%,#5fcd73 74.3%,#48cb86 78.7%,#6bcd69 84.6%,#41ca8c 86.8%,#2bc3a8 88.9%,#07bcbf 91.1%,#1dc0b3 94.4%,#2dc4a6 97.8%,#37c897 100%"></i><i style="left:283.5px;width:7.4px;--p:47%;--g:#78cc5f 0%,#85cb55 8.6%,#92ca4b 17.2%,#abc739 26%,#92ca4b 30.4%,#78cc5f 34.8%,#4fcc80 36.3%,#34c79c 37.9%,#1dc0b3 39.4%,#32c69f 41.8%,#48cb86 44.1%,#6bcd69 46.5%,#85cb55 50.9%,#9fc942 55.3%,#85cb55 59.7%,#6bcd69 64.1%,#48cb86 69.9%,#35c79b 73.6%,#26c2ac 77.3%,#3bc993 80.9%,#5fcd73 84.6%,#3eca8f 86.8%,#2dc4a6 89%,#0ebdbb 89.7%,#06b5cf 90.4%,#1caadf 91.1%,#0cb3d3 91.8%,#02bac3 92.6%,#1dc0b3 93.4%,#2dc4a6 96.3%,#1dc0b3 97.8%,#07bcbf 99.3%,#07bcbf 100%"></i><i style="left:287.0px;width:7.1px;--p:47%;--g:#78cc5f 0%,#7ecc5a 8.6%,#85cb55 17.2%,#9fc942 26%,#85cb55 30.4%,#6bcd69 34.8%,#45cb88 35.9%,#2fc5a2 37.1%,#15bfb7 38.3%,#02b7cb 39.4%,#15bfb7 41.2%,#2fc5a2 43%,#45cb88 44.7%,#6bcd69 46.5%,#92ca4b 55.3%,#6bcd69 64.1%,#48cb86 69.9%,#35c79b 73.6%,#26c2ac 77.3%,#35c79a 79.7%,#4bcb83 82.2%,#6bcd69 84.6%,#45cb88 86.2%,#2fc5a2 87.8%,#15bfb7 89.4%,#02b7cb 91.1%,#0ebdbb 92.8%,#29c3aa 94.6%,#37c897 96.3%,#2dc4a6 97.8%,#1dc0b3 99.3%,#1dc0b3 100%"></i><i style="left:290.3px;width:6.9px;--p:46%;--g:#6bcd69 0%,#85cb55 11.3%,#85cb55 26%,#71cd64 33.3%,#5fcd73 40.6%,#71cd64 47.9%,#85cb55 55.3%,#8ccb50 62.6%,#92ca4b 69.9%,#6fcd66 71.9%,#4fcc80 73.9%,#37c897 75.8%,#57cc7a 78.7%,#81cc59 81.7%,#abc739 84.6%,#9fc942 91.9%,#92ca4b 99.3%,#92ca4b 100%"></i><i style="left:293.5px;width:6.7px;--p:46%;--g:#78cc5f 0%,#78cc5f 26%,#71cd64 33.3%,#6bcd69 40.6%,#78cc5f 47.9%,#85cb55 55.3%,#85cb55 69.9%,#98c946 77.3%,#abc739 84.6%,#abc739 100%"></i><i style="left:296.6px;width:6.5px;--p:46%;--g:#6bcd69 0%,#71cd64 13%,#78cc5f 26%,#7ecc5a 33.3%,#85cb55 40.6%,#98c946 47.9%,#abc739 55.3%,#c3c22b 59.7%,#d8be28 64.1%,#dbbd29 75.8%,#debc2a 87.5%,#e1bc2b 99.3%,#e1bc2b 100%"></i><i style="left:299.6px;width:6.3px;--p:46%;--g:#6bcd69 0%,#71cd64 13%,#78cc5f 26%,#7ecc5a 33.3%,#85cb55 40.6%,#98c946 47.9%,#abc739 55.3%,#c8c129 59.7%,#e1bc2b 64.1%,#e4bb2c 75.8%,#e7bb2e 87.5%,#eaba31 99.3%,#eaba31 100%"></i><i style="left:302.5px;width:6.1px;--p:46%;--g:#53cc7d 0%,#4dcc82 13%,#48cb86 26%,#53cc7d 33.3%,#5fcd73 40.6%,#6bcd69 47.9%,#78cc5f 55.3%,#71cd64 62.6%,#6bcd69 69.9%,#43ca8b 72.4%,#2dc4a6 74.9%,#2dc4a6 83.1%,#43ca8b 86.8%,#6bcd69 90.5%,#78cc5f 99.3%,#78cc5f 100%"></i><i style="left:305.3px;width:5.9px;--p:46%;--g:#37c897 0%,#37c897 26%,#43ca8b 33.3%,#53cc7d 40.6%,#5fcd73 47.9%,#6bcd69 55.3%,#64cd6e 62.6%,#5fcd73 69.9%,#3eca8f 71.2%,#2dc4a6 72.4%,#12beb9 73.7%,#02b7cb 74.9%,#02b7cb 83.1%,#16bfb7 84.6%,#30c5a1 86.1%,#48cb86 87.5%,#5fcd73 99.3%,#5fcd73 100%"></i><i style="left:308.0px;width:5.8px;--p:45%;--g:#2dc4a6 0%,#1dc0b3 2%,#07bcbf 4%,#07bcbf 11.3%,#26c2ac 14.2%,#37c897 17.2%,#3eca8f 28.9%,#48cb86 40.6%,#53cc7d 47.9%,#5fcd73 55.3%,#64cd6e 62.6%,#6bcd69 69.9%,#4dcc82 77.3%,#37c897 84.6%,#37c897 100%"></i><i style="left:310.6px;width:5.6px;--p:45%;--g:#2dc4a6 0%,#12beb9 2%,#02b7cb 4%,#02b7cb 11.3%,#0ebdbb 13.2%,#29c3aa 15.2%,#37c897 17.2%,#3eca8f 28.9%,#48cb86 40.6%,#53cc7d 47.9%,#5fcd73 55.3%,#64cd6e 62.6%,#6bcd69 69.9%,#43ca8b 77.3%,#2dc4a6 84.6%,#2dc4a6 100%"></i><i style="left:313.1px;width:5.5px;--p:45%;--g:#2dc4a6 0%,#1dc0b3 11.3%,#2dc4a6 20.1%,#37c897 30.4%,#48cb86 40.6%,#53cc7d 47.9%,#5fcd73 55.3%,#5fcd73 69.9%,#3eca8f 75.8%,#2dc4a6 81.7%,#12beb9 82.6%,#02b7cb 83.6%,#18aedb 84.5%,#22a2e4 85.5%,#18aedb 86.4%,#02b7cb 87.2%,#12beb9 88.1%,#2dc4a6 89%,#2dc4a6 100%"></i><i style="left:315.6px;width:5.4px;--p:45%;--g:#37c897 0%,#2dc4a6 10%,#1dc0b3 20.1%,#2dc4a6 30.4%,#37c897 40.6%,#3eca8f 47.9%,#48cb86 55.3%,#4dcc82 62.6%,#53cc7d 69.9%,#3bc993 77.3%,#2dc4a6 84.6%,#2dc4a6 100%"></i><i style="left:318.0px;width:5.2px;--p:45%;--g:#48cb86 0%,#37c897 7.8%,#2dc4a6 15.7%,#0cbdbc 16.8%,#09b4d1 17.9%,#1da8e0 19%,#2699e9 20.1%,#1da8e0 21.2%,#09b4d1 22.3%,#0cbdbc 23.4%,#2dc4a6 24.5%,#2dc4a6 40.6%,#32c69f 47.9%,#37c897 55.3%,#43ca8b 62.6%,#53cc7d 69.9%,#43ca8b 77.3%,#37c897 84.6%,#37c897 100%"></i><i style="left:320.4px;width:5.1px;--p:45%;--g:#5fcd73 0%,#3cc992 6.7%,#29c3aa 13.4%,#07bcbf 20.1%,#24c1ae 22%,#34c79c 24%,#48cb86 26%,#37c897 33.3%,#2dc4a6 40.6%,#32c69f 47.9%,#37c897 55.3%,#48cb86 62.6%,#5fcd73 69.9%,#48cb86 77.3%,#37c897 84.6%,#37c897 100%"></i><i style="left:322.7px;width:5.0px;--p:45%;--g:#6bcd69 0%,#64cd6e 13%,#5fcd73 26%,#3eca8f 33.3%,#2dc4a6 40.6%,#37c897 47.9%,#48cb86 55.3%,#53cc7d 62.6%,#5fcd73 69.9%,#48cb86 77.3%,#37c897 84.6%,#37c897 100%"></i><i style="left:324.9px;width:4.9px;--p:44%;--g:#5fcd73 0%,#5fcd73 26%,#3eca8f 33.3%,#2dc4a6 40.6%,#1dc0b3 41.5%,#07bcbf 42.4%,#26c2ac 44.4%,#37c897 46.5%,#53cc7d 55.3%,#59cc78 62.6%,#5fcd73 69.9%,#48cb86 77.3%,#37c897 84.6%,#32c69f 91.9%,#2dc4a6 99.3%,#2dc4a6 100%"></i><i style="left:327.1px;width:4.8px;--p:44%;--g:#53cc7d 0%,#53cc7d 26%,#37c897 32.6%,#26c2ac 39.2%,#07bcbf 40.2%,#09b4d1 41.3%,#1caadf 42.4%,#09b4d1 43.5%,#07bcbf 44.5%,#26c2ac 45.6%,#35c79b 50.4%,#48cb86 55.3%,#4dcc82 62.6%,#53cc7d 69.9%,#3eca8f 77.3%,#32c69f 84.6%,#2fc5a2 91.9%,#2dc4a6 99.3%,#2dc4a6 100%"></i><i style="left:329.2px;width:4.7px;--p:44%;--g:#48cb86 0%,#3eca8f 11.3%,#3bc993 18.6%,#37c897 26%,#2fc5a2 33.3%,#26c2ac 40.6%,#2ac3a9 47.9%,#2dc4a6 55.3%,#2dc4a6 84.6%,#2ac3a9 91.9%,#26c2ac 99.3%,#26c2ac 100%"></i><i style="left:331.2px;width:4.6px;--p:44%;--g:#48cb86 0%,#37c897 11.3%,#32c69f 18.6%,#2dc4a6 26%,#2ac3a9 33.3%,#26c2ac 40.6%,#22c1b0 47.9%,#1dc0b3 55.3%,#12beb9 62.6%,#07bcbf 69.9%,#18bfb6 77.3%,#26c2ac 84.6%,#26c2ac 100%"></i><i style="left:333.3px;width:4.5px;--p:44%;--g:#53cc7d 0%,#37c897 11.3%,#2fc5a2 18.6%,#26c2ac 26%,#26c2ac 40.6%,#18bfb6 47.9%,#07bcbf 55.3%,#01bac5 62.6%,#02b7cb 69.9%,#0cbdbc 77.3%,#26c2ac 84.6%,#26c2ac 100%"></i><i style="left:335.2px;width:4.4px;--p:44%;--g:#48cb86 0%,#32c69f 11.3%,#2dc4a6 18.6%,#26c2ac 26%,#26c2ac 40.6%,#0cbdbc 47.9%,#02b7cb 55.3%,#09b4d1 62.6%,#12b1d6 69.9%,#03bbc2 77.3%,#26c2ac 84.6%,#22c1b0 91.9%,#1dc0b3 99.3%,#1dc0b3 100%"></i><i style="left:337.2px;width:4.3px;--p:44%;--g:#37c897 0%,#2dc4a6 11.3%,#26c2ac 18.6%,#1dc0b3 26%,#1dc0b3 40.6%,#03bbc2 47.9%,#09b4d1 55.3%,#0db3d3 62.6%,#12b1d6 69.9%,#01bac5 77.3%,#1dc0b3 84.6%,#1dc0b3 100%"></i><i style="left:339.1px;width:4.3px;--p:43%;--g:#2dc4a6 0%,#26c2ac 11.3%,#22c1b0 18.6%,#1dc0b3 26%,#1dc0b3 40.6%,#07bcbf 47.9%,#02b7cb 55.3%,#05b6ce 62.6%,#09b4d1 69.9%,#03bbc2 77.3%,#1dc0b3 84.6%,#18bfb6 91.9%,#12beb9 99.3%,#12beb9 100%"></i><i style="left:340.9px;width:4.2px;--p:43%;--g:#1dc0b3 0%,#1dc0b3 11.3%,#18bfb6 18.6%,#12beb9 26%,#12beb9 40.6%,#0cbdbc 47.9%,#07bcbf 55.3%,#03bbc2 62.6%,#01bac5 69.9%,#07bcbf 77.3%,#12beb9 84.6%,#0cbdbc 91.9%,#07bcbf 99.3%,#07bcbf 100%"></i><i style="left:342.7px;width:5.0px;--p:36%;--g:#02b7cb 0%,#07bcbf 11.3%,#07bcbf 84.6%,#03bbc2 91.9%,#01bac5 99.3%,#01bac5 100%"></i><i style="left:344.5px;width:5.8px;--p:45%;--g:#13b0d7,#25c2ad,#02b7cb,#1fa6e2,#12b1d6,#0ab4d2,#01b9c6,#0cb3d3,#13beb8,#0dbdbc,#38c895,#25c2ae,#0abdbd,#25c2ae,#1fc1b1,#08b4d0,#03bbc2,#10b2d5,#0abdbd,#0bb4d2,#02b7cb,#16afd9,#05b6ce,#1cc0b4,#28c2ab,#01b8c9,#1ca9df,#04b6cc,#16afda,#1ca9e0"></i><i style="left:347.1px;width:5.8px;--p:45%;--g:#07b5d0,#19bfb5,#2fc5a3,#23c1af,#01b9c6,#02bac3,#30c5a1,#28c2ab,#36c799,#29c3aa,#22c1b0,#20c1b1,#1ec0b2,#23c1af,#2fc5a3,#39c895,#27c2ab,#02bac3,#01b8c9,#07b5cf,#1da8e0,#03b7cc,#04b6cd,#35c79b,#1dc0b3,#04b6cc,#12beb9,#14beb8,#2bc3a7,#24c1ae"></i><i style="left:349.7px;width:5.8px;--p:45%;--g:#21c1b0,#2ec5a4,#27c2ac,#21c1b0,#01b9c7,#2bc3a8,#02bac4,#29c3aa,#34c79b,#39c895,#10beba,#34c79b,#27c2ab,#34c79c,#2ec4a5,#64cd6f,#37c898,#31c6a0,#37c898,#14bfb8,#1dc0b3,#28c2ab,#33c79d,#2fc5a2,#65cd6e,#8ccb50,#80cc59,#4ccb83,#4bcb83,#7ecc5a"></i><i style="left:352.3px;width:5.8px;--p:45%;--g:#35c79a,#27c2ac,#3dc990,#42ca8b,#35c79a,#2ec4a4,#08bcbf,#03b7cc,#05b6ce,#1dc0b3,#2cc4a7,#1dc0b3,#23c1af,#45cb89,#22c1af,#22c1b0,#09bcbe,#4ccb83,#33c69d,#53cc7d,#51cc7f,#31c6a0,#3cc991,#3ac994,#40ca8d,#3bc992,#41ca8c,#43ca8b,#29c3a9,#37c897"></i><i style="left:354.9px;width:5.8px;--p:45%;--g:#249fe6,#21a3e4,#249ee6,#249fe5,#269ae8,#16afd9,#04b6cd,#1aacdd,#01b9c7,#0cb3d3,#1caadf,#22a2e4,#16aeda,#16afd9,#0eb2d4,#30c5a1,#24c1ae,#01b9c6,#1babde,#1baade,#1ea7e1,#1fa6e1,#2b91ef,#1fa6e1,#22a1e4,#0ebdbb,#06b5cf,#02bac4,#01b8ca,#1aacdd"></i><i style="left:357.5px;width:5.8px;--p:45%;--g:#0db3d3,#10b2d5,#09b4d1,#22a1e4,#02bac5,#07bcc0,#01b8c9,#1fc0b2,#07b5d0,#259ce7,#14b0d8,#19addc,#0bb3d2,#0fb2d5,#08b4d0,#16afd9,#07b5cf,#0abdbd,#0ebdbb,#30c5a1,#28c3aa,#1fc0b2,#14beb8,#1ac0b5,#07bcbf,#12b1d7,#1aacdd,#23a0e5,#19acdc,#0ab4d2"></i><i style="left:360.1px;width:5.8px;--p:45%;--g:#13beb8,#02b7cb,#22a2e4,#1ea7e1,#13b0d7,#23a0e5,#23a0e5,#22a2e4,#14beb8,#25c2ae,#01b8c8,#06b5cf,#01b8c8,#03bbc2,#07bcbf,#0eb2d4,#15afd9,#18bfb6,#0abdbe,#24c2ae,#10beba,#10beba,#11beb9,#03bbc2,#26c2ac,#2ac3a9,#11beb9,#0abdbd,#2dc4a6,#01b8c9"></i><i style="left:362.7px;width:5.8px;--p:45%;--g:#1cc0b3,#30c5a2,#34c79b,#03bbc2,#17bfb7,#01bac5,#14bfb8,#0cbdbc,#21c1b1,#01b9c6,#06bcc0,#16bfb7,#1ec0b2,#2bc3a8,#3eca8f,#10beba,#12beb9,#10b2d5,#0abdbd,#32c69f,#27c2ac,#32c69e,#4bcb84,#34c79c,#34c79c,#34c79c,#0bbdbd,#0bb4d2,#07b5cf,#11b1d5"></i><i style="left:365.3px;width:5.8px;--p:45%;--g:#23a0e5,#2797eb,#2994ed,#1aabdd,#15afd9,#10b2d5,#11b1d6,#13b1d7,#18aedb,#06b6ce,#05b6ce,#02bac5,#01b9c6,#02bac4,#03bbc2,#33c69d,#47cb87,#3bc993,#05b6cd,#0bbdbd,#2cc4a6,#25c2ad,#09b4d1,#05b6cd,#37c897,#1cc0b3,#0fb2d4,#07b5d0,#0fbebb,#05bbc1"></i><i style="left:367.9px;width:5.8px;--p:45%;--g:#2e87f7,#2698ea,#2d89f6,#22a2e4,#16aeda,#1aacdd,#1fa6e1,#21a3e3,#23a1e4,#269ae8,#2895ec,#2a93ed,#15afd9,#02bac4,#0fb2d5,#0eb2d4,#1babde,#1aacdd,#03b7cc,#01b8c9,#01b9c7,#02b7cb,#02b7cb,#1ca9df,#12b1d7,#269ae9,#21a4e3,#1ca9e0,#1aacdd,#2b92ef"></i><i style="left:370.5px;width:5.8px;--p:45%;--g:#1aacdd,#2798ea,#1da9e0,#14b0d8,#21a3e3,#11b1d6,#0cb3d3,#07b5d0,#1babde,#01b9c8,#01b9c7,#02b7cb,#16afd9,#15afd9,#0bb3d2,#1ea7e1,#19acdc,#0ebdbb,#04bbc2,#03bbc3,#01b8c9,#14beb8,#26c2ad,#1abfb5,#02bac3,#14bfb8,#22c1b0,#07bcc0,#0cbdbc,#10beba"></i><i style="left:373.1px;width:5.8px;--p:45%;--g:#05b6ce,#13b0d7,#0ab4d2,#12b1d6,#0cb3d3,#0fbebb,#13beb9,#02bac5,#02bac4,#07bcc0,#06bcc0,#04b6cc,#0ab4d1,#22a2e4,#13b0d7,#23c1af,#01b9c8,#25c2ae,#01b8c9,#06b5ce,#14bfb8,#07b5d0,#0cb3d3,#11beba,#02bac5,#10beba,#37c897,#01b9c6,#17bfb6,#2ec5a4"></i><i style="left:375.7px;width:5.8px;--p:45%;--g:#1ca9e0,#11b2d5,#0bb4d2,#02bac3,#1fa6e2,#1da9e0,#0bb3d2,#08b4d1,#19addc,#0ab4d2,#07b5cf,#1da9e0,#2798ea,#1fa6e2,#1baade,#14b0d8,#09b4d1,#1baade,#1da8e0,#03b7cc,#18aedb,#21a4e3,#23a0e5,#15afd9,#10beba,#12beb9,#1baade,#18addb,#1ea7e1,#0fb2d5"></i><i style="left:378.3px;width:5.8px;--p:45%;--g:#1babde,#20a5e2,#07b5d0,#22a2e4,#20a4e3,#249de6,#14b0d8,#01bac5,#02b7ca,#01bac5,#08b4d1,#21a3e3,#1aacdd,#0abdbd,#0bb3d2,#01b9c7,#1da9e0,#0db3d3,#06bcc0,#01b9c8,#20a4e3,#18addb,#1ea7e1,#06b5cf,#05b6ce,#0eb2d4,#0cb3d2,#1ea7e1,#1da8e0,#0fb2d5"></i><i style="left:380.9px;width:5.8px;--p:45%;--g:#02bac5,#01b8c9,#21c1b0,#12b1d7,#18addb,#16afda,#23a0e5,#1babde,#1da8e0,#1caadf,#1ca9e0,#15afd9,#05b6cd,#15afd8,#06b5cf,#20a4e3,#20a4e3,#23a1e5,#15afd9,#12b1d6,#1caadf,#15afd8,#14b0d8,#21a4e3,#04b6cd,#0cb3d3,#02b7cb,#04bbc2,#26c2ad,#02bac5"></i><i style="left:383.5px;width:5.8px;--p:45%;--g:#259de7,#249fe6,#1da8e0,#1fa6e2,#23a0e5,#2895ec,#2699e9,#1aacdd,#16afd9,#19addc,#06b5cf,#06b5cf,#22a1e4,#17aeda,#20a5e2,#16afd9,#20a5e3,#21a3e4,#2994ed,#269ae9,#1ea8e1,#1babde,#0cb3d3,#16afda,#0cb3d3,#0cb3d3,#10b2d5,#0ab4d2,#1da8e0,#09b4d1"></i><i style="left:386.1px;width:5.8px;--p:45%;--g:#2896eb,#2d8df2,#20a5e2,#15afd9,#1da8e0,#0bbdbd,#0cb3d3,#02b7cb,#05bbc1,#12b1d7,#21a3e3,#1ea7e1,#20a4e3,#10b2d5,#20a4e3,#08b4d0,#22c1b0,#01b9c6,#0db3d4,#04b6cd,#08b5d0,#1aacdd,#22a2e4,#01b9c6,#17aeda,#12b1d6,#07b5cf,#01b8c9,#04b6cd,#1baade"></i><i style="left:388.7px;width:5.8px;--p:45%;--g:#1aacdd,#259de7,#1da9e0,#2994ed,#23a0e5,#2797eb,#2995ec,#1fa5e2,#2797ea,#21a4e3,#18aedb,#249ee6,#21a3e3,#10b2d5,#1da9e0,#1babde,#0eb2d4,#0bb3d2,#01b9c6,#18addb,#03bbc2,#01b8c9,#14b0d8,#23a0e5,#17aedb,#1aacdd,#20a4e3,#15afd9,#0cb3d3,#09b4d1"></i><i style="left:391.3px;width:5.8px;--p:45%;--g:#2d8cf3,#2e83f9,#2c8ef1,#22a1e4,#1ea7e1,#1babde,#2b90ef,#2994ed,#2d8df2,#2b91ef,#2797eb,#269be8,#2e83f9,#259ce7,#2895ec,#249ee6,#2d88f6,#2895ec,#269ae8,#19acdc,#2c8ff0,#2b92ee,#2d87f7,#3080fb,#259be7,#2699e9,#259ce7,#269ae8,#2994ed,#2b91ef"></i><i style="left:393.9px;width:5.8px;--p:45%;--g:#259be8,#259de7,#2994ed,#20a5e2,#259ce7,#2d8df2,#2995ec,#269ae8,#2d87f6,#2b92ee,#269ae9,#2b92ee,#269be8,#22a2e4,#2d8bf4,#2798ea,#2c90f0,#2e87f7,#2b92ee,#2d8df2,#2a93ee,#2d8df2,#2e84f9,#2c8ff0,#2d8df2,#2c90f0,#2d89f6,#2c90f0,#2c8ef1,#269ae9"></i><i style="left:396.5px;width:5.8px;--p:45%;--g:#259ce7,#2b91ef,#317efb,#2a93ed,#2994ed,#2797eb,#22a1e4,#2c8ff1,#2d8af4,#2e86f7,#2d89f6,#1ca9df,#23a0e5,#249ee6,#2995ec,#2798ea,#2797ea,#1ea7e1,#259ce7,#20a4e3,#269ae8,#2699e9,#2a92ee,#259de7,#2699e9,#22a1e4,#259de7,#2a93ed,#2d8af5,#2896eb"></i><i style="left:399.1px;width:5.8px;--p:45%;--g:#2895ec,#3578fd,#2d8af4,#2c8ff0,#2c8ef2,#2994ed,#2f80fa,#2f82f9,#2c8ef2,#2698ea,#2a92ee,#2b91ef,#2c8ff1,#2797eb,#2d89f5,#3c71ff,#2c90f0,#2896ec,#2e85f8,#2c8ff0,#249fe5,#1baade,#259be8,#21a2e4,#2c8ef1,#2797eb,#259de7,#2d8bf4,#317dfc,#259be8"></i><i style="left:401.7px;width:5.8px;--p:45%;--g:#05b6ce,#1caadf,#23a0e5,#0fb2d4,#1da9e0,#2994ed,#259be8,#20a5e3,#1ea7e1,#2d8cf3,#269be8,#2d88f6,#1aabdd,#269ae9,#2798ea,#23a0e5,#249ee6,#1aacdd,#22a2e4,#1ea7e1,#1da9e0,#1caadf,#259be7,#14b0d8,#22a2e4,#2699e9,#259be8,#23a0e5,#2e85f8,#2c90f0"></i><i style="left:404.3px;width:5.8px;--p:45%;--g:#20a4e3,#20a5e2,#1babde,#1da8e0,#2797eb,#2c8ff1,#2798ea,#2f82f9,#2b92ee,#1caadf,#239fe5,#1fa6e2,#2f82f9,#2d8af4,#2994ed,#259ce7,#2797ea,#1fa6e2,#22a1e4,#259de7,#249ee6,#1fa5e2,#269ae8,#249ee6,#259be8,#1da8e0,#21a3e3,#2994ed,#2798ea,#2b91ef"></i><i style="left:406.9px;width:5.8px;--p:45%;--g:#269ae9,#249ee6,#249ee6,#2994ed,#2798ea,#2699e9,#269ae9,#2699e9,#2995ec,#2e84f8,#347afd,#2d89f5,#249ee6,#22a2e4,#2796eb,#269ae8,#2699e9,#2d8bf4,#2d8cf3,#2f81fa,#2c90f0,#1ea7e1,#249ee6,#2d8df2,#2796eb,#23a1e5,#2a92ee,#259be8,#269ae9,#2994ed"></i><i style="left:409.5px;width:5.8px;--p:45%;--g:#22a2e4,#18addb,#2e83f9,#2d8cf3,#2798ea,#2e86f7,#2e86f8,#2c8ff1,#2895ec,#2994ed,#2e83f9,#2d89f5,#2a93ee,#269ae9,#2d88f6,#259be7,#2b92ef,#22a2e4,#2d8cf3,#317dfc,#2d88f6,#2895ec,#2d8cf3,#2c90f0,#317dfb,#3579fd,#307ffb,#2e87f7,#2797eb,#2896eb"></i><i style="left:412.1px;width:5.8px;--p:45%;--g:#2896ec,#2d89f5,#269be8,#2b90ef,#2d8bf4,#1fa6e1,#2994ed,#2798ea,#2994ed,#2d8af5,#2e86f8,#2d8df2,#249ee6,#249ee6,#2b91ef,#259ce7,#2994ed,#2d8bf4,#2e86f7,#2b92ee,#317dfc,#317dfc,#2d88f6,#2a92ee,#3080fb,#2e86f7,#2e86f7,#2b90ef,#2995ec,#2798ea"></i><i style="left:414.7px;width:5.8px;--p:45%;--g:#2a93ed,#2798ea,#249de6,#22a1e4,#249ee6,#2a93ed,#2b90ef,#2e87f7,#23a0e5,#2798ea,#269ae9,#2699e9,#269be8,#2895ec,#2d8df2,#2797eb,#327cfc,#2e85f8,#2e84f8,#2e85f8,#2b91ef,#2d89f6,#2d8bf4,#2e85f8,#2d8cf3,#2d8bf4,#2994ed,#259de7,#2994ed,#2e87f7"></i><i style="left:417.3px;width:5.8px;--p:45%;--g:#249ee6,#22a2e4,#22a2e4,#22a2e4,#2c8ef2,#2994ed,#2b91ef,#2a93ee,#2b91ef,#23a0e5,#2797eb,#2796eb,#2e83f9,#2a93ed,#2e87f7,#2a93ee,#2994ed,#23a1e4,#22a2e4,#1fa6e1,#1ea8e0,#2a92ee,#259ce7,#22a1e4,#22a2e4,#2699e9,#2d88f6,#2b91ef,#2798ea,#259de7"></i><i style="left:419.9px;width:5.8px;--p:45%;--g:#2d8af4,#2d8af5,#2e86f7,#3677fe,#3e6fff,#4466fd,#416afe,#416afe,#3578fd,#2e85f8,#21a3e4,#2d8cf3,#2b91ef,#2b92ef,#2e86f7,#347afd,#337afd,#2e87f7,#2d8bf4,#2e86f7,#2a93ee,#2994ed,#2895ec,#2c8ef1,#317dfc,#327cfc,#3080fb,#2c8ef1,#317efb,#3e6fff"></i><i style="left:422.5px;width:5.8px;--p:45%;--g:#2d8bf3,#3a74fe,#2e83f9,#3777fe,#2e86f7,#3080fb,#2d8cf3,#2e85f8,#317dfb,#317efb,#3578fd,#337bfc,#3777fe,#327cfc,#2e86f7,#2e83f9,#2c8ff1,#317efb,#2d8df2,#327bfc,#2d8af5,#2f81fa,#2d8bf3,#307ffb,#327cfc,#2f81fa,#3b72fe,#416bfe,#3e6fff,#3677fe"></i><i style="left:425.1px;width:5.8px;--p:45%;--g:#249fe5,#2b90f0,#3b72fe,#2d8bf4,#269ae8,#2c90f0,#2895ec,#2796eb,#2d88f6,#2b91ef,#2d8bf4,#2a93ed,#2a93ee,#2d8df2,#2797eb,#2699ea,#259ce7,#2797eb,#2a93ed,#239fe5,#259be8,#249ee6,#249fe6,#2c8ef1,#2d8bf4,#2b91ef,#259ce7,#2c8ff0,#2d8bf4,#2e85f8"></i><i style="left:427.7px;width:5.8px;--p:45%;--g:#22a2e4,#23a0e5,#2d89f5,#2e87f7,#2896eb,#2797eb,#317efb,#2e83f9,#2f83f9,#2d8cf3,#2d8bf4,#2d8af5,#2f81fa,#2c8ff1,#2c8ff0,#2b92ee,#2797eb,#2c8ef1,#2e83f9,#317efb,#2e83f9,#269be8,#2c8ef1,#2d89f5,#2d8af4,#2d89f5,#2e85f8,#2d8bf4,#2d89f5,#3777fe"></i><i style="left:430.3px;width:5.8px;--p:45%;--g:#2e86f7,#2d8df2,#2f81fa,#2e86f7,#327cfc,#2e83f9,#2e83f9,#2d8cf3,#2c8ff1,#327cfc,#2e86f7,#3579fd,#2e86f8,#317dfc,#307ffb,#327bfc,#2e84f8,#2d8bf4,#2798ea,#2e86f8,#2e86f7,#2a92ee,#249ee6,#22a1e4,#249ee6,#2699e9,#22a1e4,#2798ea,#2d8bf4,#337bfc"></i><i style="left:432.9px;width:5.8px;--p:45%;--g:#2e84f8,#2d89f5,#2e85f8,#2e84f8,#2d88f6,#2f81fa,#2f81fa,#3777fe,#3d70ff,#3a74fe,#4466fd,#3a74fe,#337bfc,#3b73fe,#307ffb,#307ffb,#347afd,#2d89f5,#2f82fa,#3974fe,#317efb,#2d8df2,#3080fa,#2e86f7,#2f81fa,#2e83f9,#2e83f9,#3974fe,#3d70ff,#327cfc"></i><i style="left:435.5px;width:5.8px;--p:45%;--g:#2698ea,#239fe5,#1ea7e1,#2699ea,#2a92ee,#2b92ee,#2c8ef1,#2796eb,#2d8af4,#2b91ef,#3678fe,#317efb,#307ffb,#2d8df2,#2d88f6,#2895ec,#2797ea,#269be8,#2e85f8,#2d89f5,#3579fd,#307ffb,#2e83f9,#2b92ef,#2c90f0,#2c8ff1,#2d8bf4,#317efb,#2e87f7,#2d88f6"></i><i style="left:438.1px;width:5.8px;--p:45%;--g:#2d89f5,#2b91ef,#2d8df2,#2d8cf3,#2699e9,#2c8ff0,#2d88f6,#259de7,#2896eb,#2d8cf3,#3080fa,#317dfc,#2e84f8,#2f82fa,#259be8,#22a2e4,#22a1e4,#2798ea,#2d8af5,#2d8cf3,#2f82fa,#2f80fa,#307efb,#3b72fe,#2d8cf3,#2d8df2,#2f83f9,#307ffb,#2f82f9,#2d8af5"></i><i style="left:440.7px;width:5.8px;--p:45%;--g:#2895ec,#2d8cf3,#2d8cf3,#2d8df2,#2b91ef,#2d8af4,#2d8cf3,#2994ed,#2798ea,#2994ed,#2d8af5,#2f82f9,#2e85f8,#3080fb,#2c90f0,#2994ed,#2896eb,#2d8cf3,#2d88f6,#2a92ee,#2a92ee,#3876fe,#317dfc,#327cfc,#3d71ff,#2f82f9,#2e84f9,#2d8df2,#2b91ef,#239fe5"></i><i style="left:443.3px;width:5.8px;--p:45%;--g:#2d89f5,#2c8ef2,#3876fe,#317dfc,#2d89f5,#2f82f9,#2b92ee,#3678fd,#2f82fa,#3a74fe,#2e83f9,#2d8af5,#2f82f9,#2d8af4,#2797eb,#2896eb,#2d8cf3,#259ce7,#317efb,#2994ed,#2d89f5,#2f80fa,#2e86f7,#2e87f7,#2d8df2,#2d88f6,#2d8bf4,#2c8ef1,#2d87f6,#2c8ff1"></i><i style="left:445.9px;width:5.8px;--p:45%;--g:#317efb,#2995ec,#2c8ef2,#2e86f7,#2e83f9,#3479fd,#2d8df2,#2e86f7,#2e84f9,#2d88f6,#317dfb,#2e83f9,#2e86f7,#2995ec,#2d8bf4,#2994ed,#2e87f7,#2b92ee,#2b91ef,#2994ed,#2d8df2,#2896eb,#2f80fa,#317efb,#2e84f8,#2e86f7,#2e87f7,#3975fe,#2e84f9,#2f81fa"></i><i style="left:448.5px;width:5.8px;--p:45%;--g:#2d88f6,#317dfc,#3876fe,#2e84f8,#3579fd,#3a74fe,#3974fe,#2f80fa,#2f82f9,#2e83f9,#2d89f5,#2f80fa,#2e86f7,#2d89f5,#2e84f8,#2e85f8,#2f80fa,#3c71ff,#347afd,#2d8af5,#2f81fa,#2c8ff1,#2d8cf3,#2c90f0,#347afd,#2f81fa,#3d71ff,#3678fd,#3e70ff,#317dfc"></i><i style="left:451.1px;width:5.8px;--p:45%;--g:#2e84f9,#2d89f6,#2c90f0,#2d89f5,#3777fe,#2f82fa,#317dfc,#2e86f8,#2e85f8,#2d89f5,#2d88f6,#2d8af4,#317efb,#2f81fa,#2f80fa,#2c8ef2,#307ffb,#2796eb,#2995ec,#2d8af4,#2e84f8,#317efb,#2d88f6,#2a93ee,#2b91ef,#2e87f7,#3080fb,#2d8bf3,#2d88f6,#2d88f6"></i><i style="left:453.7px;width:5.8px;--p:45%;--g:#2d88f6,#2e83f9,#2d8bf3,#2f82f9,#2e87f7,#2f81fa,#3f6eff,#4368fe,#3b73fe,#2d8bf4,#3579fd,#3080fa,#3e6fff,#426afe,#3678fe,#2d8af5,#2a93ee,#2d89f6,#2e85f8,#317efb,#337afd,#327cfc,#3a74fe,#3678fd,#3f6eff,#317efb,#2e84f9,#317efb,#347afd,#317efb"></i><i style="left:456.3px;width:5.8px;--p:45%;--g:#2d87f7,#2e84f8,#337bfc,#2d88f6,#2e85f8,#2d8af5,#3f6dfe,#337bfc,#3579fd,#327dfc,#317dfc,#2e86f7,#2c8ef1,#2e85f8,#317dfc,#3080fa,#347afd,#2c8ff1,#2b91ef,#2d8af5,#307ffb,#3777fe,#317efb,#337afd,#2f81fa,#2d8bf4,#3080fa,#2f81fa,#2a93ee,#2d8cf3"></i><i style="left:458.9px;width:5.8px;--p:45%;--g:#2c90f0,#2e84f9,#2896ec,#307ffb,#3f6dfe,#3875fe,#2e85f8,#3777fe,#3579fd,#3a73fe,#3e70ff,#3776fe,#3875fe,#337bfc,#3c71ff,#2f82f9,#2d8cf3,#2a92ee,#2c8ff1,#2e87f7,#2d89f5,#2e86f7,#2e83f9,#2d8af4,#3777fe,#4269fe,#3479fd,#3678fe,#2f82fa,#3975fe"></i><i style="left:461.5px;width:5.8px;--p:45%;--g:#2e83f9,#2e85f8,#2e83f9,#3a74fe,#3a74fe,#2f81fa,#3479fd,#3579fd,#317dfc,#327cfc,#337bfc,#3a74fe,#2e85f8,#2d8bf4,#2f81fa,#3479fd,#2d8cf3,#2995ec,#2d8cf3,#2d8cf3,#2e87f7,#307ffb,#2a93ee,#2e87f7,#3777fe,#2e83f9,#2d89f5,#2c8ef1,#2e83f9,#2e85f8"></i><i style="left:464.1px;width:5.8px;--p:45%;--g:#3a73fe,#406dfe,#3a74fe,#3a73fe,#317efb,#3678fe,#4269fe,#3678fe,#3677fe,#3d71ff,#4368fe,#3a74fe,#317dfc,#3080fb,#327cfc,#2f80fa,#2f80fa,#4269fe,#406dfe,#2f82f9,#317efb,#2f81fa,#2e83f9,#2d8bf3,#347afd,#416bfe,#4564fd,#4562fc,#426afe,#3c72ff"></i><i style="left:466.7px;width:5.8px;--p:45%;--g:#2b92ee,#2e86f7,#2a92ee,#2c8ef1,#2d8af5,#2e87f7,#2e85f8,#3c72ff,#2e86f7,#3776fe,#3d71ff,#337bfc,#2e83f9,#2d8cf3,#2d8af5,#317dfc,#2d89f5,#4367fd,#3f6eff,#3e6fff,#3a73fe,#3e70ff,#3c72ff,#2f82f9,#2e85f8,#327cfc,#2c8ff0,#2b90f0,#2d88f6,#2e85f8"></i><i style="left:469.3px;width:5.8px;--p:45%;--g:#259be8,#307ffb,#347afd,#3678fd,#4368fe,#3975fe,#3876fe,#416bfe,#4564fd,#3f6efe,#4367fd,#465ffb,#347afd,#337bfd,#3c72ff,#3777fe,#3677fe,#327cfc,#3975fe,#2f81fa,#2d88f6,#3876fe,#3777fe,#317dfc,#2d8df2,#2e83f9,#327dfc,#2f81fa,#337bfc,#2e84f8"></i><i style="left:471.9px;width:5.8px;--p:45%;--g:#2d89f5,#2e86f7,#2d88f6,#2d8df2,#2d8af5,#307ffb,#317efb,#317efb,#347afd,#317dfc,#3d70ff,#3677fe,#327cfc,#2e85f8,#3975fe,#3678fd,#2e83f9,#2f81fa,#2d89f5,#3080fa,#2e86f7,#2d8af4,#2e87f7,#2995ec,#2b91ef,#2d89f5,#317efb,#317dfc,#3080fa,#327bfc"></i><i style="left:474.5px;width:5.8px;--p:45%;--g:#2d89f5,#2c90f0,#2e84f9,#2a93ee,#2c8ff1,#307efb,#2e86f8,#2f81fa,#347afd,#327cfc,#2e83f9,#2e87f7,#2b91ef,#2e84f9,#317dfc,#2f81fa,#3974fe,#3678fe,#2d8cf3,#2d88f6,#3776fe,#307ffb,#2f81fa,#327bfc,#2e86f8,#3f6dfe,#2e83f9,#3c71ff,#3f6eff,#3e6fff"></i><i style="left:477.1px;width:5.8px;--p:45%;--g:#2d89f5,#2a93ed,#2b90ef,#327cfc,#2e85f8,#2f82fa,#2e85f8,#307ffb,#317efb,#2f81fa,#307ffb,#307ffb,#3080fb,#317dfc,#2f82f9,#3d70ff,#327dfc,#337bfd,#2c90f0,#3678fd,#2e84f8,#3f6eff,#3b73fe,#2d89f5,#2e83f9,#2f82f9,#327cfc,#327bfc,#2e86f7,#3876fe"></i><i style="left:479.7px;width:5.8px;--p:45%;--g:#317efb,#2e83f9,#347afd,#4269fe,#4367fd,#3b72fe,#3c72ff,#347afd,#3d70ff,#3678fd,#416cfe,#327cfc,#4269fe,#426afe,#465efb,#3b72fe,#406cfe,#416bfe,#307ffb,#2d88f6,#3875fe,#3e6fff,#3f6efe,#3c72ff,#3f6fff,#327bfc,#2f82fa,#3677fe,#2e83f9,#3678fe"></i><i style="left:482.3px;width:5.8px;--p:45%;--g:#2d8bf4,#2e84f8,#3a73fe,#317dfc,#2e84f9,#307ffb,#4465fd,#4465fd,#3c71ff,#3f6efe,#3e6fff,#3677fe,#3876fe,#3579fd,#406dfe,#416bfe,#2d88f6,#2e85f8,#3776fe,#3f6efe,#4466fd,#327cfc,#317efb,#3b73fe,#4464fd,#426afe,#3f6eff,#3d70ff,#2e84f8,#307ffb"></i><i style="left:484.9px;width:5.8px;--p:45%;--g:#317dfc,#3777fe,#3677fe,#2e87f7,#2e85f8,#2e83f9,#317efb,#3e6fff,#3a73fe,#4368fd,#4661fc,#465ffb,#3e6fff,#4367fd,#416bfe,#3876fe,#2f82f9,#2e84f8,#3579fd,#4269fe,#3e70ff,#4464fd,#4368fe,#416bfe,#3876fe,#3e6fff,#3875fe,#4465fd,#4563fd,#3a73fe"></i><i style="left:487.5px;width:5.8px;--p:45%;--g:#2e83f9,#2e84f8,#2c8ef2,#2d8af4,#3b72ff,#3876fe,#3080fb,#3777fe,#337afd,#406cfe,#3b72ff,#307ffb,#3a73fe,#3777fe,#2f81fa,#416bfe,#3876fe,#2e86f7,#317efb,#3b72fe,#4465fd,#337bfd,#2f81fa,#307ffb,#3876fe,#3876fe,#3080fa,#4464fd,#4464fd,#3b72fe"></i><i style="left:490.1px;width:5.8px;--p:45%;--g:#2d8bf4,#2e83f9,#317efb,#337bfd,#3777fe,#337bfc,#3777fe,#2e84f9,#3678fe,#2e83f9,#347afd,#347afd,#3c72ff,#307efb,#307ffb,#3080fa,#2896ec,#2c8ef1,#2d8cf3,#2d8df2,#3677fe,#327cfc,#3479fd,#3080fb,#2c8ef1,#2d8bf4,#2e83f9,#307ffb,#307ffb,#2f81fa"></i><i style="left:492.7px;width:5.8px;--p:45%;--g:#2d8df2,#327cfc,#2f81fa,#2d87f6,#2f82f9,#3b72ff,#2e84f9,#307ffb,#3876fe,#3777fe,#3080fb,#3579fd,#3d71ff,#3e70ff,#347afd,#3f6efe,#3d71ff,#3c71ff,#2d88f6,#327cfc,#3975fe,#3579fd,#317dfc,#3f6eff,#317efb,#2d8af4,#2d8bf4,#2e87f7,#3e6fff,#317efb"></i><i style="left:495.3px;width:5.8px;--p:45%;--g:#3a73fe,#327dfc,#3a73fe,#3c72ff,#3c72ff,#406cfe,#3f6efe,#3e6fff,#416bfe,#317dfc,#307ffb,#3975fe,#3677fe,#2e83f9,#2e83f9,#2e85f8,#327dfc,#3a74fe,#4464fd,#3579fd,#2f81fa,#2d89f5,#3875fe,#3578fd,#2f82f9,#327cfc,#2e85f8,#3875fe,#2d88f6,#317dfc"></i><i style="left:497.9px;width:5.8px;--p:45%;--g:#327cfc,#3578fd,#3579fd,#3d71ff,#327cfc,#3c72ff,#3c72ff,#3975fe,#307ffb,#3579fd,#416bfe,#4367fd,#3c72ff,#3c72ff,#3e6fff,#327cfc,#2e85f8,#3579fd,#2e86f8,#2e87f7,#2f82fa,#2e83f9,#2e85f8,#307ffb,#2d89f5,#2d8cf3,#327cfc,#2f82fa,#307ffb,#416bfe"></i><i style="left:500.5px;width:5.8px;--p:45%;--g:#2d88f6,#2d8df2,#2e86f7,#2e85f8,#2f81fa,#2f82fa,#2d88f6,#2e83f9,#307ffb,#2e84f8,#2c8ff1,#2b90f0,#2d8af4,#2c8ff1,#2896eb,#307efb,#317efb,#2e87f7,#2c8ff0,#2c90f0,#2e87f7,#2e86f7,#3b73fe,#2d8cf3,#2798ea,#2d89f5,#2f82fa,#2e86f7,#317dfc,#2d88f6"></i><i style="left:503.1px;width:5.8px;--p:45%;--g:#2e85f8,#2d8af4,#3578fd,#2f80fa,#2e85f8,#317dfc,#3579fd,#307ffb,#327cfc,#3c72ff,#3e6fff,#3c72ff,#3f6fff,#4367fd,#3e70ff,#3c71ff,#3a73fe,#327bfc,#2d88f6,#317efb,#2e86f7,#3d70ff,#2e87f7,#2e83f9,#307ffb,#307ffb,#337bfc,#4564fd,#317efb,#2e85f8"></i><i style="left:505.7px;width:5.8px;--p:45%;--g:#2e86f7,#2f81fa,#2d8bf4,#2f80fa,#347afd,#3479fd,#3579fd,#3777fe,#3e70ff,#406dfe,#3080fa,#3876fe,#347afd,#3080fa,#2e84f8,#3876fe,#2e83f9,#307ffb,#307ffb,#3975fe,#2e86f7,#2d88f6,#337bfc,#307ffb,#327cfc,#3080fb,#2d8af5,#2e83f9,#3777fe,#317dfc"></i><i style="left:508.3px;width:5.8px;--p:45%;--g:#2c8ff1,#2d8af4,#2f80fa,#307ffb,#3975fe,#317dfc,#3579fd,#3677fe,#3579fd,#2e85f8,#3876fe,#426afe,#3975fe,#317dfc,#2f82f9,#2e84f8,#2e85f8,#2f81fa,#317efb,#2d8cf3,#2f80fa,#2e84f9,#2f82f9,#2d88f6,#2e85f8,#3974fe,#2e87f7,#3479fd,#347afd,#3579fd"></i><i style="left:510.9px;width:5.8px;--p:45%;--g:#3579fd,#2f80fa,#2e86f7,#307ffb,#2f82f9,#2c8ff1,#2c8ef1,#2e87f7,#317dfc,#3677fe,#2e83f9,#347afd,#2e85f8,#317efb,#337bfc,#2e85f8,#2e85f8,#2e85f8,#2f81fa,#2c8ef1,#2f80fa,#3080fb,#3080fb,#327bfc,#2e83f9,#317dfc,#3080fa,#3578fd,#3a74fe,#3875fe"></i><i style="left:513.5px;width:5.8px;--p:45%;--g:#2c90f0,#2e84f8,#2e83f9,#327cfc,#2d8cf3,#2e86f8,#337afd,#3d71ff,#317efb,#3777fe,#4368fe,#416afe,#4464fd,#416bfe,#406dfe,#2e83f9,#3b72ff,#307efb,#3479fd,#317dfc,#2d8bf4,#3876fe,#3479fd,#3777fe,#327bfc,#2f81fa,#3776fe,#3777fe,#2e83f9,#2f82fa"></i><i style="left:516.1px;width:5.8px;--p:45%;--g:#2c8ff0,#317efb,#3876fe,#3d70ff,#3b72ff,#327cfc,#3b73fe,#4563fc,#3b73fe,#3479fd,#3678fd,#3e70ff,#3f6fff,#2e83f9,#3777fe,#3974fe,#416bfe,#3d70ff,#3974fe,#3a73fe,#3e70ff,#3975fe,#317efb,#3579fd,#2d89f5,#2d8bf4,#2f82fa,#3479fd,#2f80fa,#406cfe"></i><i style="left:518.7px;width:5.8px;--p:45%;--g:#347afd,#347afd,#3c72ff,#2e85f8,#347afd,#4369fe,#3f6dfe,#3e6fff,#4367fd,#416afe,#4466fd,#3579fd,#3f6dfe,#4563fd,#465ffb,#3975fe,#3d71ff,#2f82fa,#2d8bf4,#2b90ef,#317efb,#2d87f6,#2e84f9,#3579fd,#3e70ff,#4369fe,#4269fe,#327cfc,#4561fc,#3f6fff"></i><i style="left:521.3px;width:5.8px;--p:45%;--g:#337bfd,#3975fe,#3b72fe,#2e83f9,#2d88f6,#2e84f8,#3678fd,#3f6efe,#406dfe,#3876fe,#2d88f6,#2d88f6,#3777fe,#406dfe,#2e85f8,#307ffb,#2e86f7,#307ffb,#3579fd,#307ffb,#3f6eff,#4464fd,#4367fd,#3677fe,#3a74fe,#3b73fe,#317efb,#3080fb,#3b73fe,#3a73fe"></i><i style="left:523.9px;width:5.8px;--p:45%;--g:#2e85f8,#2e83f9,#327cfc,#2d89f5,#2d89f6,#3579fd,#3974fe,#3e6fff,#3f6eff,#3f6dfe,#2e83f9,#2f80fa,#2f80fa,#3a74fe,#4369fe,#2d88f6,#307ffb,#2f81fa,#3678fd,#337afd,#337afd,#2d88f6,#2f81fa,#3479fd,#3f6fff,#317efb,#307ffb,#3579fd,#327bfc,#3875fe"></i><i style="left:526.5px;width:5.8px;--p:45%;--g:#307ffb,#3e6fff,#3579fd,#317dfc,#317efb,#3875fe,#3579fd,#337bfc,#426afe,#3b73fe,#3777fe,#3678fe,#3b72fe,#3a74fe,#2e86f7,#3776fe,#327cfc,#317dfb,#2e84f8,#3974fe,#426afe,#307ffb,#3b72ff,#2e83f9,#2f80fa,#2c8ff0,#2f82fa,#317dfc,#2f81fa,#3080fa"></i><i style="left:529.1px;width:5.8px;--p:45%;--g:#2b92ef,#2b92ee,#2e83f9,#2d8cf3,#406dfe,#3c71ff,#2d89f5,#2f81fa,#2d8af4,#3578fd,#3080fb,#3776fe,#3876fe,#2d8cf3,#2d89f5,#2d8cf3,#2d8cf3,#2d8cf3,#2d89f5,#2e85f8,#317efb,#3a74fe,#347afd,#3b72fe,#317efb,#317dfc,#3678fe,#3876fe,#3876fe,#307ffb"></i><i style="left:531.7px;width:5.8px;--p:45%;--g:#3d71ff,#337bfd,#3d70ff,#3f6fff,#3975fe,#3b73fe,#347afd,#3f6efe,#4367fd,#4561fc,#4562fc,#3e6fff,#3a74fe,#3f6eff,#4368fe,#3a73fe,#347afd,#4368fd,#406cfe,#3876fe,#3f6dfe,#3678fe,#3f6eff,#4466fd,#337afd,#3e6fff,#3a73fe,#3777fe,#347afd,#416cfe"></i><i style="left:534.3px;width:5.8px;--p:45%;--g:#2e84f8,#2c8ff1,#327bfc,#2d8bf4,#2f80fa,#3f6efe,#406cfe,#3b73fe,#2f81fa,#3776fe,#337afd,#406dfe,#416bfe,#307efb,#2e84f8,#3579fd,#3579fd,#2d89f5,#337bfc,#3d70ff,#317efb,#2f83f9,#2e85f8,#2d88f6,#307efb,#2d88f6,#2d8af4,#2d8cf3,#2a93ee,#2d89f5"></i><i style="left:536.9px;width:5.8px;--p:45%;--g:#347afd,#307ffb,#2f81fa,#327cfc,#3579fd,#3777fe,#2f81fa,#317dfc,#3777fe,#3080fb,#4466fd,#465efb,#416bfe,#416bfe,#3a73fe,#3a73fe,#3b72ff,#337afd,#2e85f8,#337bfc,#2f81fa,#3d70ff,#3a74fe,#3b73fe,#307ffb,#3677fe,#3b73fe,#3678fd,#2d88f6,#3c71ff"></i><i style="left:539.5px;width:5.8px;--p:45%;--g:#2a93ed,#2d8af4,#2c8ef1,#2b90f0,#317dfc,#2e85f8,#327cfc,#337bfc,#2d88f6,#327cfc,#3f6efe,#3777fe,#2e83f9,#317efb,#307ffb,#317dfc,#347afd,#3677fe,#3975fe,#3974fe,#317dfc,#347afd,#2e84f8,#307ffb,#327cfc,#4369fe,#337afd,#2e84f8,#2e83f9,#2e86f7"></i><i style="left:542.1px;width:5.8px;--p:45%;--g:#2f81fa,#317efb,#2e84f9,#337bfc,#3c72ff,#3d71ff,#2e84f8,#2e84f8,#3876fe,#3a73fe,#3f6efe,#2f81fa,#3777fe,#2f81fa,#2e86f7,#2d8af5,#2e86f8,#307ffb,#317dfc,#3a73fe,#3579fd,#307ffb,#337bfc,#3777fe,#2d8af4,#327cfc,#2d8cf3,#3a74fe,#3a74fe,#3777fe"></i><i style="left:544.7px;width:5.8px;--p:45%;--g:#2d8df2,#2d8df2,#337bfd,#337bfc,#416cfe,#2e83f9,#2e85f8,#2e86f7,#3677fe,#2e83f9,#3f6efe,#337bfd,#317efb,#3080fa,#327bfc,#3777fe,#3777fe,#3080fb,#317efb,#317efb,#3c72ff,#317dfc,#2f82fa,#2e84f9,#2d8cf3,#2e86f8,#2f81fa,#3578fd,#2e85f8,#2e85f8"></i><i style="left:547.3px;width:5.8px;--p:45%;--g:#3080fa,#3678fd,#3080fb,#2e84f9,#2c8ff0,#2d8bf3,#2f82fa,#3080fb,#3579fd,#327bfc,#406cfe,#3678fe,#337bfc,#4368fe,#3f6eff,#4368fd,#3975fe,#3876fe,#416afe,#3578fd,#317efb,#337afd,#3c71ff,#3e6fff,#3f6eff,#3875fe,#4367fd,#4564fd,#416bfe,#3875fe"></i><i style="left:549.9px;width:5.8px;--p:45%;--g:#2d89f6,#3975fe,#2e87f7,#2c90f0,#2b91ef,#2e83f9,#2c8ff0,#2f82fa,#327cfc,#2e83f9,#2d88f6,#3677fe,#307ffb,#337bfc,#2e85f8,#2e84f9,#4367fd,#3875fe,#3c72ff,#3e6fff,#337afd,#2f81fa,#2f82f9,#3479fd,#2d8bf4,#2f81fa,#3777fe,#3080fb,#3c72ff,#3d70ff"></i><i style="left:552.5px;width:5.8px;--p:45%;--g:#317dfc,#327cfc,#3f6eff,#2d8df2,#2e87f7,#3b73fe,#465efb,#406cfe,#4660fc,#4367fd,#4465fd,#475cfa,#4563fc,#3975fe,#337bfd,#3776fe,#3875fe,#3b73fe,#416afe,#3777fe,#4464fd,#3e6fff,#3974fe,#4367fd,#3677fe,#3a73fe,#465ffb,#3c72ff,#307efb,#3a74fe"></i><i style="left:555.1px;width:5.8px;--p:45%;--g:#2e84f8,#3080fb,#2e83f9,#3678fe,#337bfd,#337afd,#3578fd,#4466fd,#4269fe,#3776fe,#406cfe,#3f6fff,#3d71ff,#3d71ff,#327cfc,#3e6fff,#317efb,#3e6fff,#3f6eff,#3f6dfe,#3777fe,#3777fe,#317dfc,#3776fe,#3777fe,#3e70ff,#416bfe,#3875fe,#3975fe,#3876fe"></i><i style="left:557.7px;width:4.5px;--p:58%;--g:#2a93ed,#2e87f7,#2d8cf3,#317dfc,#2e86f7,#3080fa,#327bfc,#3c71ff,#2f81fa,#3578fd,#317efb,#317efb,#317efb,#317dfc,#317dfc,#337bfd,#3777fe,#307ffb,#2e87f7,#2e84f8,#2e85f8,#2b91ef,#2c90f0,#3479fd,#2f82fa,#3d70ff,#317dfc,#3975fe,#337bfd,#4564fd"></i><b style="top:197.0px;height:1.6px;left:0.0px;width:561.6px;background:linear-gradient(to right,#f6df29 0.0%,#f5e526 13.6%,#f6f01f 27.9%,transparent 35.0%,transparent 72.4%,#17aeda 76.0%,#1ea7e1 84.9%,#1caadf 100%)"></b><svg width="190" height="480" style="position:absolute;left:372px;top:0;-webkit-mask-image:linear-gradient(to right,transparent,#000 45%);mask-image:linear-gradient(to right,transparent,#000 45%)"><filter id="nz1" x="0" y="0" width="100%" height="100%" color-interpolation-filters="sRGB"><feTurbulence type="fractalNoise" baseFrequency="0.4 0.16" numOctaves="2" seed="5"/><feColorMatrix type="matrix" values="0 0 0 0 0.26  0 0 0 0 0.25  0 0 0 0 0.85  3.41 0 0 0 -1.83"/></filter><rect width="100%" height="100%" filter="url(#nz1)"/></svg></div>
<div class="hm" style="left:852.6px;top:686.6px;width:555.2px;height:480.1px"><i style="left:0.0px;width:5.1px;--p:0%;--g:#3e26a8 0%,#3e26a8 96.8%,#3e27aa 97.9%,#4740e4 98.7%,#4852f4 99.5%,#4758f8 100%"></i><i style="left:0.5px;width:8.6px;--p:47%;--g:#3e26a8 0%,#3e26a8 95.7%,#402cb8 96.8%,#4740e4 97.9%,#4850f2 98.7%,#4852f4 99.5%,#4759f8 100%"></i><i style="left:4.5px;width:8.6px;--p:47%;--g:#3e26a8 0%,#3e26a8 95.7%,#412cb9 96.8%,#4740e4 97.9%,#4854f5 98.7%,#4852f4 99.5%,#4759f8 100%"></i><i style="left:8.5px;width:8.6px;--p:47%;--g:#3e26a8 0%,#3e26a8 97.9%,#402bb8 98.7%,#4741e4 99.5%,#4759f8 100%"></i><i style="left:12.5px;width:8.6px;--p:47%;--g:#3e26a8 0%,#3e26a8 95.7%,#3e27ab 96.8%,#4741e4 97.9%,#4741e4 98.7%,#4853f4 99.5%,#4759f8 100%"></i><i style="left:16.5px;width:8.6px;--p:47%;--g:#3e26a8 0%,#3e26a8 95.7%,#3f28ae 96.8%,#473ee2 97.9%,#4741e5 98.7%,#4853f5 99.5%,#4759f8 100%"></i><i style="left:20.5px;width:8.6px;--p:47%;--g:#3e26a8 0%,#3e26a8 96.8%,#3f29b0 97.9%,#4741e5 98.7%,#4853f5 99.5%,#4759f8 100%"></i><i style="left:24.5px;width:8.6px;--p:47%;--g:#3e26a8 0%,#3e26a8 96.8%,#422fc0 97.9%,#4741e5 98.7%,#4853f5 99.5%,#4759f9 100%"></i><i style="left:28.5px;width:8.6px;--p:47%;--g:#3e26a8 0%,#3e26a8 95.7%,#3f28ae 96.8%,#4741e5 97.9%,#4741e5 98.7%,#4853f5 99.5%,#475af9 100%"></i><i style="left:32.5px;width:8.6px;--p:47%;--g:#3e26a8 0%,#3e26a8 96.8%,#402cb8 97.9%,#4741e5 98.7%,#4853f5 99.5%,#475af9 100%"></i><i style="left:36.5px;width:8.6px;--p:47%;--g:#3e26a8 0%,#3e26a8 97.9%,#402bb6 98.7%,#4741e5 99.5%,#475af9 100%"></i><i style="left:40.5px;width:8.6px;--p:47%;--g:#3e26a8 0%,#3e26a8 96.8%,#402bb6 97.9%,#4742e6 98.7%,#4854f5 99.5%,#475af9 100%"></i><i style="left:44.5px;width:8.6px;--p:47%;--g:#3e26a8 0%,#3e26a8 96.8%,#3e27ab 97.9%,#4742e6 98.7%,#4854f5 99.5%,#475af9 100%"></i><i style="left:48.5px;width:8.6px;--p:47%;--g:#3e26a8 0%,#3e26a8 96.8%,#463adb 97.9%,#4740e4 98.7%,#4854f5 99.5%,#475af9 100%"></i><i style="left:52.5px;width:8.6px;--p:47%;--g:#3e26a8 0%,#3e26a8 96.8%,#3f29b0 97.9%,#4742e6 98.7%,#4854f5 99.5%,#475bf9 100%"></i><i style="left:56.5px;width:8.6px;--p:47%;--g:#3e26a8 0%,#3e26a8 96.8%,#463cde 97.9%,#4742e6 98.7%,#4854f6 99.5%,#475bf9 100%"></i><i style="left:60.5px;width:8.6px;--p:47%;--g:#3e26a8 0%,#3e26a8 97.9%,#412cb9 98.7%,#4742e6 99.5%,#475bf9 100%"></i><i style="left:64.5px;width:8.6px;--p:47%;--g:#3e26a8 0%,#3e26a8 96.8%,#4742e6 97.9%,#4742e6 98.7%,#4755f6 99.5%,#475bf9 100%"></i><i style="left:68.5px;width:8.6px;--p:47%;--g:#3e26a8 0%,#3e26a8 97.9%,#422fc1 98.7%,#4755f6 99.5%,#475bf9 100%"></i><i style="left:72.5px;width:8.6px;--p:47%;--g:#3e26a8 0%,#3e26a8 96.8%,#3e27ab 97.9%,#4743e7 98.7%,#4755f6 99.5%,#475bfa 100%"></i><i style="left:76.5px;width:8.6px;--p:47%;--g:#3e26a8 0%,#3e26a8 97.9%,#412cb8 98.7%,#4743e7 99.5%,#475cfa 100%"></i><i style="left:80.5px;width:8.6px;--p:47%;--g:#3e26a8 0%,#3e26a8 97.9%,#4230c3 98.7%,#4755f6 99.5%,#475cfa 100%"></i><i style="left:84.5px;width:8.6px;--p:47%;--g:#3e26a8 0%,#3e26a8 96.8%,#422ec0 97.9%,#4743e7 98.7%,#4756f6 99.5%,#475cfa 100%"></i><i style="left:88.5px;width:8.6px;--p:47%;--g:#3e26a8 0%,#3e26a8 96.8%,#4743e7 97.9%,#4743e7 98.7%,#4756f6 99.5%,#475cfa 100%"></i><i style="left:92.5px;width:8.6px;--p:47%;--g:#3e26a8 0%,#3e26a8 96.8%,#422fc2 97.9%,#4743e7 98.7%,#4756f6 99.5%,#475cfa 100%"></i><i style="left:96.5px;width:8.6px;--p:47%;--g:#3e26a8 0%,#3e26a8 95.7%,#3e27ab 96.8%,#463cdf 97.9%,#4743e7 98.7%,#4756f7 99.5%,#475cfa 100%"></i><i style="left:100.5px;width:8.6px;--p:47%;--g:#3e26a8 0%,#3e26a8 96.8%,#412cba 97.9%,#4743e8 98.7%,#4756f7 99.5%,#475cfa 100%"></i><i style="left:104.5px;width:8.6px;--p:47%;--g:#3e26a8 0%,#3e26a8 95.7%,#3f28ae 96.8%,#4741e4 97.9%,#4744e8 98.7%,#4756f7 99.5%,#475dfa 100%"></i><i style="left:108.5px;width:8.6px;--p:47%;--g:#3e26a8 0%,#3e26a8 95.7%,#3f28af 96.8%,#4741e5 97.9%,#4744e8 98.7%,#4756f7 99.5%,#465dfa 100%"></i><i style="left:112.5px;width:8.6px;--p:47%;--g:#3e26a8 0%,#3e26a8 96.8%,#402cb8 97.9%,#4744e8 98.7%,#4757f7 99.5%,#465dfa 100%"></i><i style="left:116.5px;width:8.6px;--p:47%;--g:#3e26a8 0%,#3e26a8 95.7%,#3e27aa 96.8%,#4744e8 97.9%,#4744e8 98.7%,#4757f7 99.5%,#465dfa 100%"></i><i style="left:120.5px;width:8.6px;--p:47%;--g:#3e26a8 0%,#3e26a8 95.7%,#3f29b0 96.8%,#4744e8 97.9%,#484df0 98.7%,#4757f7 99.5%,#465dfb 100%"></i><i style="left:124.5px;width:8.6px;--p:47%;--g:#3e26a8 0%,#3e26a8 95.7%,#412cb9 96.8%,#4744e8 97.9%,#484bee 98.7%,#4757f7 99.5%,#465dfb 100%"></i><i style="left:128.5px;width:8.6px;--p:47%;--g:#3e26a8 0%,#3e26a8 96.8%,#422fc1 97.9%,#4744e8 98.7%,#4757f7 99.5%,#465efb 100%"></i><i style="left:132.5px;width:8.6px;--p:47%;--g:#3e26a8 0%,#3e26a8 95.7%,#3f29b0 96.8%,#4743e7 97.9%,#4855f6 98.7%,#4757f7 99.5%,#465efb 100%"></i><i style="left:136.5px;width:8.6px;--p:47%;--g:#3e26a8 0%,#3e26a8 96.8%,#402bb7 97.9%,#4745e9 98.7%,#4758f8 99.5%,#465efb 100%"></i><i style="left:140.5px;width:8.6px;--p:47%;--g:#3e26a8 0%,#3e26a8 97.9%,#412cb9 98.7%,#4745e9 99.5%,#465efb 100%"></i><i style="left:144.5px;width:8.6px;--p:47%;--g:#3e26a8 0%,#3e26a8 96.8%,#3f29b0 97.9%,#4745e9 98.7%,#4758f8 99.5%,#465efb 100%"></i><i style="left:148.5px;width:8.6px;--p:47%;--g:#3e26a8 0%,#3e26a8 97.9%,#412dbd 98.7%,#4745e9 99.5%,#465efb 100%"></i><i style="left:152.5px;width:8.6px;--p:47%;--g:#3e26a8 0%,#3e26a8 95.7%,#3f28ae 96.8%,#463ee0 97.9%,#4745e9 98.7%,#4758f8 99.5%,#465ffb 100%"></i><i style="left:156.5px;width:8.6px;--p:47%;--g:#3e26a8 0%,#3e26a8 96.8%,#3f28ae 97.9%,#4745e9 98.7%,#4758f8 99.5%,#465ffb 100%"></i><i style="left:160.5px;width:8.6px;--p:47%;--g:#3e26a8 0%,#3e26a8 96.8%,#4230c4 97.9%,#4745ea 98.7%,#4759f8 99.5%,#465ffb 100%"></i><i style="left:164.5px;width:8.6px;--p:47%;--g:#3e26a8 0%,#3e26a8 96.8%,#3e27aa 97.9%,#4746ea 98.7%,#4759f8 99.5%,#465ffb 100%"></i><i style="left:168.5px;width:8.6px;--p:47%;--g:#3e26a8 0%,#3e26a8 95.7%,#402bb6 96.8%,#4746ea 97.9%,#4757f7 98.7%,#4759f8 99.5%,#465ffb 100%"></i><i style="left:172.5px;width:8.6px;--p:47%;--g:#3e26a8 0%,#3e26a8 96.8%,#412dbc 97.9%,#4746ea 98.7%,#4759f8 99.5%,#465ffb 100%"></i><i style="left:176.5px;width:8.6px;--p:47%;--g:#3e26a8 0%,#3e26a8 96.8%,#402bb6 97.9%,#4747eb 98.7%,#475af9 99.5%,#4661fc 100%"></i><i style="left:180.5px;width:8.6px;--p:47%;--g:#3e26a8 0%,#3e26a8 96.8%,#3f29af 97.9%,#4848ec 98.7%,#475cfa 99.5%,#4562fc 100%"></i><i style="left:184.5px;width:8.6px;--p:47%;--g:#3e26a8 0%,#3e26a8 86.4%,#3e26a9 89.3%,#3e27a9 91.9%,#3e27a9 97.9%,#412dbc 98.7%,#4849ed 99.5%,#4464fd 100%"></i><i style="left:188.5px;width:8.6px;--p:47%;--g:#3e26a8 0%,#3e26a8 86.4%,#3e27ab 89.3%,#3e27ab 95.7%,#402ab4 96.8%,#484aee 97.9%,#4759f8 98.7%,#465ffb 99.5%,#4466fd 100%"></i><i style="left:192.5px;width:8.6px;--p:47%;--g:#3e26a8 0%,#3e26a8 86.4%,#3f28ad 89.3%,#3f28ad 96.8%,#412dbd 97.9%,#484cef 98.7%,#4661fc 99.5%,#4368fe 100%"></i><i style="left:196.5px;width:8.6px;--p:47%;--g:#3e26a8 0%,#3e26a8 86.4%,#3f29af 89.3%,#3f29b0 91.9%,#3f29b0 96.8%,#422fc3 97.9%,#484df0 98.7%,#4562fc 99.5%,#426afe 100%"></i><i style="left:200.5px;width:8.6px;--p:47%;--g:#3e26a8 0%,#3e26a8 86.4%,#402ab4 89.3%,#4029b2 91.9%,#4029b2 95.7%,#412cba 96.8%,#484ef1 97.9%,#484ef1 98.7%,#4464fd 99.5%,#416bfe 100%"></i><i style="left:204.5px;width:8.6px;--p:47%;--g:#3e26a8 0%,#3e26a8 74.4%,#3e27a9 78.7%,#3e27aa 83%,#3e27ab 86.4%,#412cba 89.3%,#402bb7 91.9%,#402bb7 95.7%,#4331c7 96.8%,#484ff2 97.9%,#3e6fff 98.7%,#4466fd 99.5%,#406dfe 100%"></i><i style="left:208.5px;width:8.6px;--p:47%;--g:#3e26a8 0%,#3e26a8 74.4%,#3e27ab 78.7%,#3f28af 83%,#3f29b2 86.4%,#412ebd 89.3%,#422fc1 91.9%,#422fc1 97.9%,#4537d7 98.7%,#4367fd 99.5%,#3e6fff 100%"></i><i style="left:212.5px;width:7.6px;--p:53%;--g:#3e26a8 0%,#3e26a8 74.4%,#3f29b1 78.7%,#412cb8 83%,#412dbd 86.4%,#4432cb 89.3%,#4433cb 91.9%,#4433cb 96.8%,#4433cc 97.9%,#4852f4 98.7%,#4269fe 99.5%,#3d71ff 100%"></i><i style="left:216.5px;width:6.6px;--p:45%;--g:#3e26a8 0%,#3e26a8 74.4%,#3f29b2 78.7%,#412dbd 83%,#4330c5 86.4%,#4538d7 89.3%,#4535d2 91.9%,#4535d2 96.8%,#4639d9 97.9%,#4853f5 98.7%,#416bfe 99.5%,#3b72fe 100%"></i><i style="left:219.5px;width:6.6px;--p:45%;--g:#3e26a8 0%,#3e26a8 74.4%,#402bb6 78.7%,#422fc0 83%,#4332c8 86.4%,#4435d1 89.3%,#4539d9 91.9%,#463adc 94%,#463adc 96.8%,#484ef1 97.9%,#4850f2 98.7%,#406dfe 99.5%,#3a74fe 100%"></i><i style="left:222.5px;width:6.6px;--p:45%;--g:#3e26a8 0%,#3e26a8 74.4%,#412dbc 78.7%,#4332ca 83%,#463adb 86.4%,#4743e7 89.3%,#4740e4 91.9%,#4740e4 96.8%,#4745ea 97.9%,#4757f7 98.7%,#3f6eff 99.5%,#3875fe 100%"></i><i style="left:225.5px;width:6.6px;--p:45%;--g:#3e26a8 0%,#3e26a8 74.4%,#422fc1 78.7%,#4639d9 83%,#4740e4 86.4%,#4746ea 89.3%,#4746ea 96.8%,#484ef1 97.9%,#4759f9 98.7%,#3b72ff 99.5%,#3579fd 100%"></i><i style="left:228.5px;width:6.6px;--p:45%;--g:#3e26a8 0%,#3e26a8 57.4%,#3e27aa 60.8%,#3e27ac 64.2%,#3f28ae 70.2%,#3f29b0 74.4%,#4330c5 78.7%,#463bdd 83%,#4744e8 86.4%,#4849ed 89.3%,#484cef 91.9%,#484cef 96.8%,#465dfa 97.9%,#465dfa 98.7%,#347afd 99.5%,#2f82fa 100%"></i><i style="left:231.5px;width:6.6px;--p:45%;--g:#3e26a8 0%,#3e26a8 57.4%,#3f28ad 60.8%,#3f29b2 64.2%,#412cb9 70.2%,#422ec0 74.4%,#4536d2 78.7%,#4742e6 83%,#4850f3 86.4%,#4852f4 89.3%,#4851f3 91.9%,#4851f3 96.8%,#4758f8 97.9%,#4562fc 98.7%,#2f82fa 99.5%,#2d8af4 100%"></i><i style="left:234.5px;width:6.6px;--p:45%;--g:#3e26a8 0%,#3e26a8 57.4%,#3f29b1 60.8%,#402bb8 64.2%,#4332ca 70.2%,#4536d4 74.4%,#4740e4 78.7%,#4742e6 83%,#484ff2 86.4%,#4852f4 89.3%,#4755f6 91.9%,#4755f6 97.9%,#475bf9 98.7%,#4368fe 99.5%,#2b92ee 100%"></i><i style="left:237.5px;width:6.6px;--p:45%;--g:#3e26a8 0%,#3e26a8 57.4%,#402bb6 60.8%,#422fc2 64.2%,#4536d3 70.2%,#463cdf 74.4%,#4848ec 78.7%,#484ff2 83%,#4269fe 86.4%,#4367fd 89.3%,#4466fd 91.9%,#416cfe 94%,#4367fd 95.7%,#2d8af4 96.8%,#2f81fa 97.9%,#249ee6 98.7%,#2b91ef 99.5%,#2699e9 100%"></i><i style="left:240.5px;width:6.6px;--p:45%;--g:#3e26a8 0%,#3e26a8 57.4%,#402bb6 60.8%,#422ec0 64.2%,#4434ce 70.2%,#463bdd 74.4%,#4742e6 78.7%,#4755f6 83%,#465ffb 86.4%,#4563fc 89.3%,#475bf9 91.9%,#4368fe 94%,#3f6dfe 95.7%,#3f6eff 96.8%,#3875fe 97.9%,#2d89f5 98.7%,#2798ea 99.5%,#23a1e5 100%"></i><i style="left:243.5px;width:5.8px;--p:52%;--g:#3e26a8 0%,#3e26a8 57.4%,#412cba 60.8%,#4332c9 64.2%,#463bdd 70.2%,#4743e7 74.4%,#484bef 78.7%,#484cef 83%,#4759f8 86.4%,#4562fc 89.3%,#4561fc 91.9%,#465ffb 94%,#4269fe 95.7%,#3e6fff 96.8%,#327bfc 97.9%,#2798ea 98.7%,#249fe5 99.5%,#1ea8e1 100%"></i><i style="left:246.5px;width:5.0px;--p:44%;--g:#3e26a8 0%,#3e26a8 57.4%,#412cba 60.8%,#4332c9 64.2%,#4639da 70.2%,#4746ea 74.4%,#4851f3 78.7%,#465ffb 83%,#475cfa 86.4%,#465dfb 89.3%,#4660fb 91.9%,#465dfa 94%,#406cfe 95.7%,#3678fd 96.8%,#2d8cf3 97.9%,#249fe6 98.7%,#1da9e0 99.5%,#12b1d6 100%"></i><i style="left:248.7px;width:5.0px;--p:44%;--g:#3e26a8 0%,#3e26a8 38.6%,#3e26a9 42.5%,#3e27a9 45.9%,#3e27a9 57.4%,#412cba 60.8%,#4434ce 64.2%,#473fe3 70.2%,#484ff2 74.4%,#4854f5 78.7%,#4757f7 83%,#465ffb 86.4%,#416bfe 89.3%,#3e70ff 91.9%,#416bfe 94%,#2f81fa 95.7%,#2f82fa 96.8%,#2d88f6 97.9%,#249ee6 98.7%,#07b5d0 99.5%,#05bbc1 100%"></i><i style="left:250.9px;width:5.0px;--p:44%;--g:#3e26a8 0%,#3e26a8 35.2%,#3e27a9 38.6%,#3e27ab 42.5%,#3e28ac 45.9%,#3f28ae 49.7%,#3f29b0 53.6%,#402ab3 57.4%,#4332c8 60.8%,#463ada 64.2%,#484df0 70.2%,#4853f4 74.4%,#4661fc 78.7%,#4563fd 83%,#4465fd 86.4%,#4368fe 89.3%,#3d71ff 91.9%,#3777fe 94%,#2f82f9 95.7%,#2798ea 96.8%,#1baade 97.9%,#16afda 98.7%,#0ebdbb 99.5%,#2bc3a8 100%"></i><i style="left:253.1px;width:5.0px;--p:44%;--g:#3e26a8 0%,#3e27a9 6.3%,#3e27aa 12.7%,#3e27ab 16.9%,#3e27ab 21.2%,#3e27ac 24.2%,#3e28ac 27.6%,#3f28ae 31.4%,#3f28ae 35.2%,#3f28af 38.6%,#3f29b1 42.5%,#402ab4 45.9%,#402bb6 49.7%,#412cba 53.6%,#412dbb 57.4%,#4434cf 60.8%,#463cdf 64.2%,#484ef1 70.2%,#475cfa 74.4%,#475cfa 78.7%,#3d70ff 83%,#3d70ff 86.4%,#2d88f6 89.3%,#2d8cf3 91.9%,#249ee6 94%,#19addc 95.7%,#259ce7 96.8%,#08b4d1 97.9%,#08bcbf 98.7%,#2ec4a4 99.5%,#43ca8b 100%"></i><i style="left:255.3px;width:5.0px;--p:44%;--g:#3e27ac 0%,#3f28ad 6.3%,#3f28ae 12.7%,#3f28af 16.9%,#3f29b1 21.2%,#3f29b2 24.2%,#402ab3 27.6%,#402ab4 31.4%,#402ab5 35.2%,#402bb6 38.6%,#412cba 42.5%,#412dbb 45.9%,#422ebf 49.7%,#422fc2 53.6%,#4330c5 57.4%,#4536d3 60.8%,#463de0 64.2%,#484aee 70.2%,#4758f8 74.4%,#4564fd 78.7%,#3c71ff 83%,#2e83f9 86.4%,#2f82f9 89.3%,#2d88f6 91.9%,#2796eb 94%,#269ae9 95.7%,#03b7cc 96.8%,#0bbdbd 97.9%,#3ac993 98.7%,#4ecc81 99.5%,#7dcc5b 100%"></i><i style="left:257.5px;width:5.0px;--p:44%;--g:#3f29b0 0%,#3f29b2 6.3%,#402ab3 12.7%,#402ab5 16.9%,#402bb8 21.2%,#412cba 24.2%,#412cba 27.6%,#412dbb 31.4%,#412dbc 35.2%,#422ebf 38.6%,#422fc0 42.5%,#422fc2 45.9%,#4331c7 49.7%,#4435d0 53.6%,#4536d4 57.4%,#463cdf 60.8%,#4743e7 64.2%,#4756f7 70.2%,#4464fd 74.4%,#475cfa 78.7%,#465ffb 83%,#4367fd 86.4%,#3a73fe 89.3%,#426afe 91.9%,#3b72ff 94%,#2d8cf3 95.7%,#259be7 96.8%,#02b7cb 97.9%,#2ec5a4 98.7%,#86cb55 99.5%,#bec32e 100%"></i><i style="left:259.7px;width:5.0px;--p:44%;--g:#4330c5 0%,#4331c8 6.3%,#4432cb 12.7%,#4331c6 16.9%,#4332c8 21.2%,#4230c4 24.2%,#4432cb 27.6%,#4435d1 31.4%,#4433cb 35.2%,#4433cc 38.6%,#4536d5 42.5%,#4537d6 45.9%,#463bdc 49.7%,#473fe2 53.6%,#4742e6 57.4%,#4747eb 60.8%,#4756f6 64.2%,#3e6fff 70.2%,#327cfc 74.4%,#3479fd 78.7%,#2d8cf3 83%,#2d8cf3 86.4%,#2c90f0 89.3%,#2c8ff0 91.9%,#2798ea 94%,#18aedb 95.7%,#2bc3a8 96.8%,#4ecc81 97.9%,#d3bf27 98.7%,#bfc32d 99.5%,#f0ba36 100%"></i><i style="left:261.9px;width:4.4px;--p:50%;--g:#4536d4 0%,#4536d2 6.3%,#4537d5 12.7%,#4639d9 16.9%,#463adc 21.2%,#4639da 24.2%,#4537d5 27.6%,#463adb 31.4%,#4639da 35.2%,#463ee1 38.6%,#473fe2 42.5%,#4742e6 45.9%,#4744e9 49.7%,#4746ea 53.6%,#484ef1 57.4%,#484ef1 60.8%,#4850f3 64.2%,#4757f7 70.2%,#4367fd 74.4%,#3f6eff 78.7%,#347afd 83%,#2c8ef2 86.4%,#2797eb 89.3%,#2c90f0 91.9%,#249ee6 94%,#13b0d7 95.7%,#21c1b0 96.8%,#48cb86 97.9%,#9bc945 98.7%,#f0ba36 99.5%,#fdcd31 100%"></i><i style="left:264.1px;width:3.8px;--p:42%;--g:#463de0 0%,#473ee1 6.3%,#4742e6 12.7%,#4741e5 16.9%,#4743e7 21.2%,#484bee 24.2%,#4743e8 27.6%,#484aee 31.4%,#484cf0 35.2%,#4850f3 38.6%,#484ff2 42.5%,#484df1 45.9%,#4851f3 49.7%,#4756f6 53.6%,#4759f8 57.4%,#4854f5 60.8%,#4465fd 64.2%,#337bfc 70.2%,#317dfc 74.4%,#327bfc 78.7%,#2d8af5 83%,#21a4e3 86.4%,#2b90ef 89.3%,#1babde 91.9%,#08b4d0 94%,#29c3aa 95.7%,#8fcb4e 96.8%,#60cd72 97.9%,#c3c22b 98.7%,#fec636 99.5%,#f5e327 100%"></i><i style="left:265.7px;width:3.8px;--p:42%;--g:#4853f5 0%,#4758f8 6.3%,#4756f7 12.7%,#484ef1 16.9%,#484df0 21.2%,#484ef1 24.2%,#484cef 27.6%,#484df0 31.4%,#484ef1 35.2%,#484df1 38.6%,#4756f7 42.5%,#465dfa 45.9%,#465dfa 49.7%,#475af9 53.6%,#4466fd 57.4%,#3d70ff 60.8%,#3e6fff 64.2%,#3776fe 70.2%,#327cfc 74.4%,#307ffb 78.7%,#2a92ee 83%,#249ee6 86.4%,#1da8e0 89.3%,#21a3e3 91.9%,#02bac4 94%,#11beb9 95.7%,#26c2ac 96.8%,#37c897 97.9%,#e8bb2f 98.7%,#f7db2a 99.5%,#f8f719 100%"></i><i style="left:267.3px;width:3.8px;--p:42%;--g:#4756f6 0%,#465dfa 6.3%,#4851f3 12.7%,#475bf9 16.9%,#4759f8 21.2%,#4758f8 24.2%,#4759f8 27.6%,#4756f7 31.4%,#475af9 35.2%,#4563fc 38.6%,#4367fd 42.5%,#426afe 45.9%,#4464fd 49.7%,#4661fc 53.6%,#4269fe 57.4%,#4562fc 60.8%,#2e84f9 64.2%,#2f82f9 70.2%,#2f82f9 74.4%,#2d8df2 78.7%,#2895ec 83%,#259ce7 86.4%,#249de6 89.3%,#19addc 91.9%,#07b5d0 94%,#25c2ae 95.7%,#4acb84 96.8%,#72cd64 97.9%,#dabd28 98.7%,#f5e626 99.5%,#f9fb15 100%"></i><i style="left:268.9px;width:3.8px;--p:42%;--g:#4561fc 0%,#4269fe 6.3%,#3f6fff 12.7%,#4368fe 16.9%,#4269fe 21.2%,#4465fd 24.2%,#416cfe 27.6%,#4466fd 31.4%,#4563fd 35.2%,#465efb 38.6%,#3e6fff 42.5%,#3c71ff 45.9%,#337afd 49.7%,#317dfc 53.6%,#317efb 57.4%,#2e83f9 60.8%,#2d88f6 64.2%,#2797eb 70.2%,#23a0e5 74.4%,#2896eb 78.7%,#249fe5 83%,#1ea7e1 86.4%,#01b9c8 89.3%,#05b6ce 91.9%,#20c1b1 94%,#30c5a1 95.7%,#92ca4c 96.8%,#a6c83d 97.9%,#edba33 98.7%,#f5ed21 99.5%,#f9fb15 100%"></i><i style="left:270.5px;width:3.8px;--p:42%;--g:#3777fe 0%,#317dfc 6.3%,#3080fb 12.7%,#3080fb 16.9%,#2e86f7 21.2%,#3479fd 24.2%,#307ffb 27.6%,#4368fd 31.4%,#406dfe 35.2%,#3a73fe 38.6%,#327cfc 42.5%,#307ffb 45.9%,#2e85f8 49.7%,#2a93ee 53.6%,#259be7 57.4%,#1fa6e2 60.8%,#23a0e5 64.2%,#2a93ed 70.2%,#20a5e3 74.4%,#1fa6e2 78.7%,#19addc 83%,#1ca9e0 86.4%,#27c2ab 89.3%,#33c69d 91.9%,#30c5a1 94%,#6acd6a 95.7%,#d2bf27 96.8%,#f5e526 97.9%,#f5e427 98.7%,#f7f51b 99.5%,#f9fb15 100%"></i><i style="left:272.1px;width:3.5px;--p:46%;--g:#2d8af4 0%,#3678fe 6.3%,#2e86f7 12.7%,#2e83f9 16.9%,#2c8ef2 21.2%,#2c8ff1 24.2%,#2c90f0 27.6%,#21a3e3 31.4%,#249fe6 35.2%,#249ee6 38.6%,#22a1e4 42.5%,#259de7 45.9%,#269ae8 49.7%,#2c8ef1 53.6%,#259be8 57.4%,#2895ec 60.8%,#249ee6 64.2%,#2798ea 70.2%,#20a4e3 74.4%,#05b6cd 78.7%,#12b1d6 83%,#1ea8e1 86.4%,#11beb9 89.3%,#69cd6b 91.9%,#8ccb50 94%,#6fcd66 95.7%,#dfbc2a 96.8%,#f6ba3c 97.9%,#fec03b 98.7%,#f8f917 99.5%,#f9fb15 100%"></i><i style="left:273.7px;width:3.2px;--p:41%;--g:#2e83f9 0%,#259de7 6.3%,#2b91ef 12.7%,#2798ea 16.9%,#21a4e3 21.2%,#1aacdd 24.2%,#269be8 27.6%,#2d8af5 31.4%,#2c8ef2 35.2%,#249de6 38.6%,#1ea7e1 42.5%,#11b1d6 45.9%,#21a3e3 49.7%,#14b0d8 53.6%,#19addc 57.4%,#18addb 60.8%,#07b5d0 64.2%,#08b4d1 70.2%,#06b6ce 74.4%,#07bcbf 78.7%,#37c897 83%,#22c1af 86.4%,#4bcb84 89.3%,#62cd70 91.9%,#90ca4d 94%,#8bcb51 95.7%,#93ca4b 96.8%,#e9bb30 97.9%,#f6f01f 98.7%,#f9fb15 99.5%,#f9fb15 100%"></i><i style="left:275.0px;width:3.2px;--p:41%;--g:#2b92ef 0%,#2d8af4 6.3%,#269ae8 12.7%,#23a1e4 16.9%,#1baadf 21.2%,#23a1e4 24.2%,#2d8cf3 27.6%,#2798ea 31.4%,#2699e9 35.2%,#20a4e3 38.6%,#1babde 42.5%,#1aacdd 45.9%,#249ee6 49.7%,#1da8e0 53.6%,#05bbc1 57.4%,#0fbeba 60.8%,#25c2ad 64.2%,#20c1b1 70.2%,#01bac5 74.4%,#03bbc3 78.7%,#2dc4a6 83%,#36c899 86.4%,#90ca4d 89.3%,#ccc028 91.9%,#c9c129 94%,#debc2a 95.7%,#fbd22f 96.8%,#fad52d 97.9%,#fdce31 98.7%,#f9fb15 99.5%,#f9fb15 100%"></i><i style="left:276.3px;width:3.2px;--p:41%;--g:#1da8e0 0%,#23a0e5 6.3%,#2896ec 12.7%,#249ee6 16.9%,#20a5e3 21.2%,#17aedb 24.2%,#02b7cb 27.6%,#06bcc0 31.4%,#12b1d6 35.2%,#10b2d5 38.6%,#0fb2d5 42.5%,#05bbc1 45.9%,#0fb2d5 49.7%,#18addb 53.6%,#0cb3d3 57.4%,#1baade 60.8%,#01b8c8 64.2%,#14b0d8 70.2%,#12b1d7 74.4%,#1fc1b1 78.7%,#30c5a1 83%,#2fc5a2 86.4%,#38c896 89.3%,#6ecd67 91.9%,#d2bf27 94%,#e0bc2b 95.7%,#c6c22a 96.8%,#f9fb15 97.9%,#f9fb15 100%"></i><i style="left:277.6px;width:3.2px;--p:41%;--g:#2a93ed 0%,#2699e9 6.3%,#269be8 12.7%,#1fa5e2 16.9%,#1caadf 21.2%,#259ce7 24.2%,#19addc 27.6%,#1caadf 31.4%,#1ca9df 35.2%,#2798ea 38.6%,#249ee6 42.5%,#1fa6e2 45.9%,#12b1d7 49.7%,#1ea7e1 53.6%,#1ca9df 57.4%,#08b5d0 60.8%,#05bbc1 64.2%,#01b8c9 70.2%,#08bcbf 74.4%,#2cc4a7 78.7%,#47cb87 83%,#34c79b 86.4%,#52cc7e 89.3%,#56cc7b 91.9%,#3fca8e 94%,#d2bf27 95.7%,#debd29 96.8%,#fbd32e 97.9%,#f3ba39 98.7%,#f9fb15 99.5%,#f9fb15 100%"></i><i style="left:278.9px;width:3.2px;--p:41%;--g:#2c8ff0 0%,#2c8ef1 6.3%,#2c8ff0 12.7%,#2796eb 16.9%,#2797ea 21.2%,#22a1e4 24.2%,#19addc 27.6%,#23a0e5 31.4%,#259de7 35.2%,#2995ec 38.6%,#23a1e5 42.5%,#1da9e0 45.9%,#1fa6e2 49.7%,#21a3e3 53.6%,#0cb3d3 57.4%,#11b1d6 60.8%,#08b5d0 64.2%,#03bbc2 70.2%,#0bbdbc 74.4%,#19acdc 78.7%,#2fc5a3 83%,#1fc0b2 86.4%,#52cc7e 89.3%,#a8c73b 91.9%,#7fcc5a 94%,#dbbd29 95.7%,#fec438 96.8%,#fec834 97.9%,#f5ed22 98.7%,#f9fb15 99.5%,#f9fb15 100%"></i><i style="left:280.2px;width:3.5px;--p:37%;--g:#269ae8 0%,#21a2e4 6.3%,#21a3e4 12.7%,#2994ed 16.9%,#239fe5 21.2%,#2995ec 24.2%,#259be7 27.6%,#249ee6 31.4%,#1caadf 35.2%,#1fa6e2 38.6%,#07b5cf 42.5%,#239fe5 45.9%,#259be8 49.7%,#17aedb 53.6%,#1ea7e1 57.4%,#14b0d8 60.8%,#10b2d5 64.2%,#06b5cf 70.2%,#0cb3d3 74.4%,#02b7cb 78.7%,#15bfb7 83%,#07bcbf 86.4%,#4dcc82 89.3%,#95ca49 91.9%,#7fcc5a 94%,#95ca49 95.7%,#fec537 96.8%,#f9fb15 97.9%,#f9fb15 98.7%,#f8f917 99.5%,#f9fb15 100%"></i><i style="left:281.5px;width:3.8px;--p:42%;--g:#3b72ff 0%,#347afd 6.3%,#2e85f8 12.7%,#2f82f9 16.9%,#317efb 21.2%,#2d89f5 24.2%,#2a93ee 27.6%,#2c90f0 31.4%,#2d88f6 35.2%,#2c90f0 38.6%,#269ae8 42.5%,#2798ea 45.9%,#2896eb 49.7%,#2a93ed 53.6%,#2797ea 57.4%,#23a0e5 60.8%,#249de6 64.2%,#19acdc 70.2%,#01b9c8 74.4%,#02b7cb 78.7%,#04bbc2 83%,#01b9c8 86.4%,#23c1af 89.3%,#5dcc75 91.9%,#81cc59 94%,#6fcd66 95.7%,#d1bf27 96.8%,#f6f21e 97.9%,#f5e725 98.7%,#f7f51b 99.5%,#f9fb15 100%"></i><i style="left:283.1px;width:3.8px;--p:42%;--g:#4563fc 0%,#4368fe 6.3%,#426afe 12.7%,#406dfe 16.9%,#4367fd 21.2%,#4367fd 24.2%,#4368fe 27.6%,#406dfe 31.4%,#3f6fff 35.2%,#3479fd 38.6%,#347afd 42.5%,#2e84f9 45.9%,#317efb 49.7%,#2e85f8 53.6%,#2e85f8 57.4%,#2d8df2 60.8%,#2995ec 64.2%,#269ae9 70.2%,#2895ec 74.4%,#2b90ef 78.7%,#1ea7e1 83%,#13b0d7 86.4%,#1da8e0 89.3%,#01b9c7 91.9%,#31c6a0 94%,#3eca90 95.7%,#4bcb84 96.8%,#b6c533 97.9%,#f9bb3d 98.7%,#f5ed21 99.5%,#f9fb15 100%"></i><i style="left:284.7px;width:3.8px;--p:42%;--g:#4759f8 0%,#465dfa 6.3%,#4758f8 12.7%,#475af9 16.9%,#4757f7 21.2%,#465efb 24.2%,#475cfa 27.6%,#4660fc 31.4%,#4367fd 35.2%,#475cfa 38.6%,#4660fb 42.5%,#3f6eff 45.9%,#426afe 49.7%,#4465fd 53.6%,#4367fd 57.4%,#4368fe 60.8%,#3975fe 64.2%,#2f81fa 70.2%,#2d8bf4 74.4%,#2c8ef2 78.7%,#2994ed 83%,#1caadf 86.4%,#10b2d5 89.3%,#01b9c7 91.9%,#17bfb7 94%,#2ac3a9 95.7%,#48cb86 96.8%,#87cb54 97.9%,#fec934 98.7%,#f5e626 99.5%,#f9fb15 100%"></i><i style="left:286.3px;width:3.8px;--p:42%;--g:#4852f4 0%,#4850f3 6.3%,#484aee 12.7%,#484cf0 16.9%,#484df0 21.2%,#4851f3 24.2%,#484ff2 27.6%,#4848ec 31.4%,#484ef1 35.2%,#4852f4 38.6%,#4757f7 42.5%,#465ffb 45.9%,#475af9 49.7%,#465dfa 53.6%,#475bf9 57.4%,#465dfb 60.8%,#3f6eff 64.2%,#3c72ff 70.2%,#2b91ef 74.4%,#1fa6e2 78.7%,#2c8ff1 83%,#2c90f0 86.4%,#2a93ee 89.3%,#1da9e0 91.9%,#03bbc2 94%,#2bc3a8 95.7%,#5dcc75 96.8%,#fcd030 97.9%,#f9d72c 98.7%,#f7db2a 99.5%,#f8f719 100%"></i><i style="left:287.9px;width:3.8px;--p:42%;--g:#473ee2 0%,#463de0 6.3%,#4741e4 12.7%,#4742e6 16.9%,#4741e5 21.2%,#463de0 24.2%,#463ee1 27.6%,#4741e5 31.4%,#4746ea 35.2%,#4848ec 38.6%,#484aee 42.5%,#484aee 49.7%,#484ff2 53.6%,#484aee 57.4%,#4850f3 60.8%,#4755f6 64.2%,#4660fc 70.2%,#3f6efe 74.4%,#3080fb 78.7%,#2e86f7 83%,#2e85f8 86.4%,#2d8af4 89.3%,#20a5e2 91.9%,#22a1e4 94%,#04b6cd 95.7%,#2cc4a7 96.8%,#39c895 97.9%,#c5c22a 98.7%,#fec636 99.5%,#f5e327 100%"></i><i style="left:289.5px;width:4.4px;--p:36%;--g:#4537d5 0%,#463adb 6.3%,#4639da 12.7%,#463bdc 16.9%,#463bdd 21.2%,#463bdc 24.2%,#463adb 27.6%,#463cdf 31.4%,#463de0 35.2%,#4743e7 38.6%,#4747eb 42.5%,#484bef 45.9%,#484cef 49.7%,#484bee 53.6%,#4850f3 57.4%,#475bf9 60.8%,#4660fb 64.2%,#3578fd 70.2%,#2e84f8 74.4%,#2797eb 78.7%,#2d89f5 83%,#2c90f0 86.4%,#1da9e0 89.3%,#23a1e5 91.9%,#16afda 94%,#09bcbe 95.7%,#1fc0b2 96.8%,#83cc57 97.9%,#a6c73c 98.7%,#f0ba36 99.5%,#fdcd31 100%"></i><i style="left:291.1px;width:5.0px;--p:44%;--g:#4331c6 0%,#4332c9 6.3%,#4433cc 12.7%,#4434ce 16.9%,#4433cc 21.2%,#4434cf 24.2%,#4435d2 27.6%,#4434cf 31.4%,#4435d2 35.2%,#4537d6 38.6%,#4639d9 42.5%,#473ee2 45.9%,#4741e5 49.7%,#4744e8 53.6%,#4746ea 57.4%,#4852f4 60.8%,#4759f8 64.2%,#4465fd 70.2%,#4465fd 74.4%,#3777fe 78.7%,#2d8bf3 83%,#2d8df2 86.4%,#2797ea 89.3%,#2994ed 91.9%,#2699e9 94%,#3dc991 95.7%,#47cb87 96.8%,#b3c534 97.9%,#a4c83e 98.7%,#bfc32d 99.5%,#f0ba36 100%"></i><i style="left:293.3px;width:5.0px;--p:44%;--g:#3f29b2 0%,#402ab3 6.3%,#402bb6 12.7%,#412cba 16.9%,#412dbb 21.2%,#412dbd 24.2%,#412dbd 27.6%,#412ebd 31.4%,#4230c3 35.2%,#4331c6 38.6%,#4433cc 42.5%,#4434cf 45.9%,#4537d6 49.7%,#463bdd 53.6%,#463de0 57.4%,#4744e8 60.8%,#484bef 64.2%,#475cfa 70.2%,#465efb 74.4%,#3a73fe 78.7%,#3579fd 83%,#3579fd 86.4%,#2f80fa 89.3%,#2698ea 91.9%,#23a1e4 94%,#07b5cf 95.7%,#08bcbf 96.8%,#43ca8a 97.9%,#5ecc74 98.7%,#86cb55 99.5%,#bec32e 100%"></i><i style="left:295.5px;width:5.0px;--p:44%;--g:#3e28ac 0%,#3f28ae 6.3%,#3f29b0 12.7%,#3f29b1 16.9%,#3f29b1 21.2%,#402ab3 24.2%,#3f29b2 27.6%,#3f29b2 31.4%,#402ab6 35.2%,#412dbb 38.6%,#412ebe 42.5%,#412ebe 45.9%,#4330c4 49.7%,#4331c8 53.6%,#4331c6 57.4%,#463ada 60.8%,#4744e8 64.2%,#4756f7 70.2%,#475af9 74.4%,#3b72ff 78.7%,#347afd 83%,#406cfe 86.4%,#4465fd 89.3%,#3a74fe 91.9%,#2c90f0 94%,#249ee6 95.7%,#1aabdd 96.8%,#07b5d0 97.9%,#2cc4a7 98.7%,#4ecc81 99.5%,#7dcc5b 100%"></i><i style="left:297.7px;width:5.0px;--p:44%;--g:#3e26a8 0%,#3e27a9 6.3%,#3e27aa 12.7%,#3e27ab 16.9%,#3e27ac 21.2%,#3f28ad 24.2%,#3e28ad 27.6%,#3f28ad 31.4%,#3f28ae 35.2%,#3f28af 38.6%,#3f29b2 42.5%,#402ab4 45.9%,#402ab5 49.7%,#402bb8 53.6%,#412ebe 57.4%,#4434cf 60.8%,#473fe3 64.2%,#4850f2 70.2%,#4756f7 74.4%,#465dfa 78.7%,#406dfe 83%,#3b73fe 86.4%,#3579fd 89.3%,#2e86f7 91.9%,#2b91ef 94%,#21a3e3 95.7%,#1babde 96.8%,#1ea7e1 97.9%,#01b9c8 98.7%,#2ec4a4 99.5%,#43ca8b 100%"></i><i style="left:299.9px;width:5.0px;--p:44%;--g:#3e26a8 0%,#3e26a8 35.2%,#3e27a9 38.6%,#3e27ab 42.5%,#3f28ad 45.9%,#3f29b0 49.7%,#3f29b1 53.6%,#3f29b2 57.4%,#4332c8 60.8%,#463ada 64.2%,#4850f3 70.2%,#475af9 74.4%,#4561fc 78.7%,#4269fe 83%,#3b73fe 86.4%,#3876fe 89.3%,#327cfc 91.9%,#2e85f8 94%,#2896ec 95.7%,#2896eb 96.8%,#21a4e3 97.9%,#0cbdbc 98.7%,#0ebdbb 99.5%,#2bc3a8 100%"></i><i style="left:302.1px;width:5.0px;--p:44%;--g:#3e26a8 0%,#3e26a8 38.6%,#3e26a9 42.5%,#3e26a9 45.9%,#3e27a9 49.7%,#3e27a9 53.6%,#3e27aa 57.4%,#412dbd 60.8%,#4435d1 64.2%,#4745e9 70.2%,#484ef1 74.4%,#475af9 78.7%,#4562fc 83%,#4367fd 86.4%,#4564fd 89.3%,#426afe 91.9%,#3d70ff 94%,#317efb 95.7%,#327cfc 96.8%,#2b90ef 97.9%,#2b92ee 98.7%,#07b5d0 99.5%,#05bbc1 100%"></i><i style="left:304.3px;width:5.0px;--p:44%;--g:#3e26a8 0%,#3e26a8 57.4%,#412dbd 60.8%,#4434ce 64.2%,#4742e6 70.2%,#484ef1 74.4%,#4852f4 78.7%,#475cfa 83%,#4564fd 86.4%,#3f6eff 89.3%,#3c71ff 91.9%,#3e6fff 94%,#3b73fe 95.7%,#347afd 96.8%,#2c8ff0 97.9%,#2995ec 98.7%,#1da9e0 99.5%,#12b1d6 100%"></i><i style="left:306.5px;width:5.8px;--p:38%;--g:#3e26a8 0%,#3e26a8 57.4%,#412cb9 60.8%,#4433cd 64.2%,#4740e4 70.2%,#4745e9 74.4%,#4850f3 78.7%,#465dfa 83%,#4466fd 86.4%,#406cfe 89.3%,#4368fd 91.9%,#3f6efe 94%,#3a74fe 95.7%,#317efb 96.8%,#2895ec 97.9%,#2699e9 98.7%,#249fe5 99.5%,#1ea8e1 100%"></i><i style="left:308.7px;width:6.6px;--p:45%;--g:#3e26a8 0%,#3e26a8 57.4%,#402ab4 60.8%,#412ebd 64.2%,#4433cc 70.2%,#4536d3 74.4%,#473fe2 78.7%,#4745e9 83%,#4849ed 86.4%,#4854f5 89.3%,#4758f8 91.9%,#475bf9 94%,#4759f8 95.7%,#4466fd 96.8%,#3c72ff 97.9%,#3d71ff 98.7%,#2798ea 99.5%,#23a1e5 100%"></i><i style="left:311.7px;width:6.6px;--p:45%;--g:#3e26a8 0%,#3e26a8 57.4%,#402ab5 60.8%,#422fc1 64.2%,#4536d3 70.2%,#463bdd 74.4%,#484aed 78.7%,#484ff1 83%,#4758f8 86.4%,#465dfb 89.3%,#416bfe 91.9%,#3d70ff 94%,#3974fe 95.7%,#327cfc 96.8%,#3876fe 97.9%,#2b91ef 98.7%,#2b91ef 99.5%,#2699e9 100%"></i><i style="left:314.7px;width:6.6px;--p:45%;--g:#3e26a8 0%,#3e26a8 57.4%,#3f29af 60.8%,#402ab3 64.2%,#422fc1 70.2%,#4230c3 74.4%,#463bdc 78.7%,#4743e7 83%,#484bef 86.4%,#484ff2 89.3%,#4852f4 91.9%,#4852f4 94%,#4755f6 95.7%,#4759f8 96.8%,#465efb 97.9%,#3f6eff 98.7%,#2d89f5 99.5%,#2b92ee 100%"></i><i style="left:317.7px;width:6.6px;--p:45%;--g:#3e26a8 0%,#3e26a8 57.4%,#3f28ad 60.8%,#3f29b0 64.2%,#412cb9 70.2%,#422ec0 74.4%,#4434ce 78.7%,#4743e7 83%,#484cf0 86.4%,#484aee 89.3%,#484ef1 91.9%,#4851f3 94%,#4851f3 97.9%,#4757f7 98.7%,#4562fc 99.5%,#2d8af4 100%"></i><i style="left:320.7px;width:6.6px;--p:45%;--g:#3e26a8 0%,#3e26a8 57.4%,#3e27aa 60.8%,#3e27ac 64.2%,#3f28af 70.2%,#3f29b1 74.4%,#4332c9 78.7%,#463bdd 83%,#4741e5 86.4%,#4849ed 89.3%,#484cef 91.9%,#484cef 97.9%,#4755f6 98.7%,#347afd 99.5%,#2f82fa 100%"></i><i style="left:323.7px;width:6.6px;--p:45%;--g:#3e26a8 0%,#3e26a8 74.4%,#4230c4 78.7%,#463adc 83%,#4848ec 86.4%,#484cef 89.3%,#4746ea 91.9%,#4746ea 97.9%,#484df1 98.7%,#3b72ff 99.5%,#3579fd 100%"></i><i style="left:326.7px;width:6.6px;--p:45%;--g:#3e26a8 0%,#3e26a8 74.4%,#412dbc 78.7%,#4433cb 83%,#4639da 86.4%,#473fe3 89.3%,#4740e4 91.9%,#4740e4 96.8%,#4745e9 97.9%,#4757f7 98.7%,#3f6eff 99.5%,#3875fe 100%"></i><i style="left:329.7px;width:6.6px;--p:45%;--g:#3e26a8 0%,#3e26a8 74.4%,#402ab5 78.7%,#4230c4 83%,#4434ce 86.4%,#463adb 89.3%,#463adc 91.9%,#463adc 95.7%,#4740e4 96.8%,#4755f6 97.9%,#465ffb 98.7%,#406dfe 99.5%,#3a74fe 100%"></i><i style="left:332.7px;width:6.6px;--p:45%;--g:#3e26a8 0%,#3e26a8 74.4%,#3f29b1 78.7%,#402bb7 83%,#412dbd 86.4%,#4332cb 89.3%,#4535d2 91.9%,#4535d2 96.8%,#463ee0 97.9%,#4853f5 98.7%,#416bfe 99.5%,#3b72fe 100%"></i><i style="left:335.7px;width:7.6px;--p:39%;--g:#3e26a8 0%,#3e26a8 74.4%,#3f29b0 78.7%,#402bb7 83%,#412dbc 86.4%,#4332c9 89.3%,#4433cb 91.9%,#4433cb 95.7%,#4639da 96.8%,#4852f4 97.9%,#4269fe 98.7%,#4269fe 99.5%,#3d71ff 100%"></i><i style="left:338.7px;width:8.6px;--p:47%;--g:#3e26a8 0%,#3e26a8 74.4%,#3e28ac 78.7%,#3f28af 83%,#3f29b0 86.4%,#422ec0 89.3%,#422fc1 91.9%,#422fc1 96.8%,#4230c3 97.9%,#484bef 98.7%,#4367fd 99.5%,#3e6fff 100%"></i><i style="left:342.7px;width:8.6px;--p:47%;--g:#3e26a8 0%,#3e26a8 74.4%,#3e27a9 78.7%,#3e27aa 83%,#3e27aa 86.4%,#412cb9 89.3%,#402bb7 91.9%,#402bb7 97.9%,#4433cb 98.7%,#484ff2 99.5%,#406dfe 100%"></i><i style="left:346.7px;width:8.6px;--p:47%;--g:#3e26a8 0%,#3e26a8 86.4%,#3f29b2 89.3%,#4029b2 91.9%,#4029b2 95.7%,#4331c7 96.8%,#484cf0 97.9%,#4854f5 98.7%,#4464fd 99.5%,#416bfe 100%"></i><i style="left:350.7px;width:8.6px;--p:47%;--g:#3e26a8 0%,#3e26a8 86.4%,#3f29b0 89.3%,#3f29b0 96.8%,#4433cc 97.9%,#484df0 98.7%,#4562fc 99.5%,#426afe 100%"></i><i style="left:354.7px;width:8.6px;--p:47%;--g:#3e26a8 0%,#3e26a8 86.4%,#3f28ae 89.3%,#3f28ad 91.9%,#3f28ad 97.9%,#412ebe 98.7%,#484cef 99.5%,#4368fe 100%"></i><i style="left:358.7px;width:8.6px;--p:47%;--g:#3e26a8 0%,#3e26a8 86.4%,#3e27ac 89.3%,#3e27ab 91.9%,#3e27ab 97.9%,#412ebe 98.7%,#484aee 99.5%,#4466fd 100%"></i><i style="left:362.7px;width:8.6px;--p:47%;--g:#3e26a8 0%,#3e26a8 86.4%,#3e27a9 89.3%,#3e27a9 96.8%,#422fc1 97.9%,#4849ed 98.7%,#465dfb 99.5%,#4464fd 100%"></i><i style="left:366.7px;width:8.6px;--p:47%;--g:#3e26a8 0%,#3e26a8 95.7%,#402bb7 96.8%,#4848ec 97.9%,#4755f6 98.7%,#475cfa 99.5%,#4562fc 100%"></i><i style="left:370.7px;width:8.6px;--p:47%;--g:#3e26a8 0%,#3e26a8 97.9%,#4331c6 98.7%,#475af9 99.5%,#4661fc 100%"></i><i style="left:374.7px;width:8.6px;--p:47%;--g:#3e26a8 0%,#3e26a8 96.8%,#402ab5 97.9%,#4744e8 98.7%,#4759f8 99.5%,#465ffb 100%"></i><i style="left:378.7px;width:8.6px;--p:47%;--g:#3e26a8 0%,#3e26a8 97.9%,#4330c5 98.7%,#4759f8 99.5%,#465ffb 100%"></i><i style="left:382.7px;width:8.6px;--p:47%;--g:#3e26a8 0%,#3e26a8 97.9%,#422fc2 98.7%,#4759f8 99.5%,#465ffb 100%"></i><i style="left:386.7px;width:8.6px;--p:47%;--g:#3e26a8 0%,#3e26a8 97.9%,#412cba 98.7%,#4745ea 99.5%,#465ffb 100%"></i><i style="left:390.7px;width:8.6px;--p:47%;--g:#3e26a8 0%,#3e26a8 96.8%,#412cb8 97.9%,#4745e9 98.7%,#4758f8 99.5%,#465ffb 100%"></i><i style="left:394.7px;width:8.6px;--p:47%;--g:#3e26a8 0%,#3e26a8 97.9%,#422fc2 98.7%,#4758f8 99.5%,#465ffb 100%"></i><i style="left:398.7px;width:8.6px;--p:47%;--g:#3e26a8 0%,#3e26a8 97.9%,#412dbd 98.7%,#4758f8 99.5%,#465efb 100%"></i><i style="left:402.7px;width:8.6px;--p:47%;--g:#3e26a8 0%,#3e26a8 97.9%,#422fc2 98.7%,#4758f8 99.5%,#465efb 100%"></i><i style="left:406.7px;width:8.6px;--p:47%;--g:#3e26a8 0%,#3e26a8 95.7%,#402ab5 96.8%,#4745e9 97.9%,#475cfa 98.7%,#4758f8 99.5%,#465efb 100%"></i><i style="left:410.7px;width:8.6px;--p:47%;--g:#3e26a8 0%,#3e26a8 96.8%,#4743e8 97.9%,#4745e9 98.7%,#4758f8 99.5%,#465efb 100%"></i><i style="left:414.7px;width:8.6px;--p:47%;--g:#3e26a8 0%,#3e26a8 96.8%,#463de0 97.9%,#4744e9 98.7%,#4757f7 99.5%,#465efb 100%"></i><i style="left:418.7px;width:8.6px;--p:47%;--g:#3e26a8 0%,#3e26a8 96.8%,#412cba 97.9%,#4744e8 98.7%,#4757f7 99.5%,#465efb 100%"></i><i style="left:422.7px;width:8.6px;--p:47%;--g:#3e26a8 0%,#3e26a8 96.8%,#3e27ac 97.9%,#4744e8 98.7%,#4757f7 99.5%,#465dfb 100%"></i><i style="left:426.7px;width:8.6px;--p:47%;--g:#3e26a8 0%,#3e26a8 96.8%,#4744e8 97.9%,#4744e8 98.7%,#4757f7 99.5%,#465dfb 100%"></i><i style="left:430.7px;width:8.6px;--p:47%;--g:#3e26a8 0%,#3e26a8 97.9%,#412ebe 98.7%,#4757f7 99.5%,#465dfa 100%"></i><i style="left:434.7px;width:8.6px;--p:47%;--g:#3e26a8 0%,#3e26a8 96.8%,#402ab5 97.9%,#4740e4 98.7%,#4757f7 99.5%,#465dfa 100%"></i><i style="left:438.7px;width:8.6px;--p:47%;--g:#3e26a8 0%,#3e26a8 96.8%,#412cba 97.9%,#4744e8 98.7%,#4756f7 99.5%,#465dfa 100%"></i><i style="left:442.7px;width:8.6px;--p:47%;--g:#3e26a8 0%,#3e26a8 96.8%,#412dbc 97.9%,#4744e8 98.7%,#4756f7 99.5%,#475dfa 100%"></i><i style="left:446.7px;width:8.6px;--p:47%;--g:#3e26a8 0%,#3e26a8 95.7%,#3e27aa 96.8%,#463de0 97.9%,#4743e8 98.7%,#4756f7 99.5%,#475cfa 100%"></i><i style="left:450.7px;width:8.6px;--p:47%;--g:#3e26a8 0%,#3e26a8 97.9%,#402cb8 98.7%,#4743e7 99.5%,#475cfa 100%"></i><i style="left:454.7px;width:8.6px;--p:47%;--g:#3e26a8 0%,#3e26a8 95.7%,#3f28af 96.8%,#4743e7 97.9%,#4743e7 98.7%,#4756f6 99.5%,#475cfa 100%"></i><i style="left:458.7px;width:8.6px;--p:47%;--g:#3e26a8 0%,#3e26a8 96.8%,#422fc1 97.9%,#4743e7 98.7%,#4756f6 99.5%,#475cfa 100%"></i><i style="left:462.7px;width:8.6px;--p:47%;--g:#3e26a8 0%,#3e26a8 96.8%,#463ee0 97.9%,#4743e7 98.7%,#4756f6 99.5%,#475cfa 100%"></i><i style="left:466.7px;width:8.6px;--p:47%;--g:#3e26a8 0%,#3e26a8 97.9%,#412dbd 98.7%,#4755f6 99.5%,#475cfa 100%"></i><i style="left:470.7px;width:8.6px;--p:47%;--g:#3e26a8 0%,#3e26a8 96.8%,#4743e7 97.9%,#4743e7 98.7%,#4755f6 99.5%,#475cfa 100%"></i><i style="left:474.7px;width:8.6px;--p:47%;--g:#3e26a8 0%,#3e26a8 97.9%,#4230c3 98.7%,#4755f6 99.5%,#475bfa 100%"></i><i style="left:478.7px;width:8.6px;--p:47%;--g:#3e26a8 0%,#3e26a8 96.8%,#4742e6 97.9%,#4742e6 98.7%,#4755f6 99.5%,#475bf9 100%"></i><i style="left:482.7px;width:8.6px;--p:47%;--g:#3e26a8 0%,#3e26a8 97.9%,#412dbc 98.7%,#4755f6 99.5%,#475bf9 100%"></i><i style="left:486.7px;width:8.6px;--p:47%;--g:#3e26a8 0%,#3e26a8 96.8%,#4742e6 97.9%,#4742e6 98.7%,#4855f6 99.5%,#475bf9 100%"></i><i style="left:490.7px;width:8.6px;--p:47%;--g:#3e26a8 0%,#3e26a8 97.9%,#412dbd 98.7%,#4854f6 99.5%,#475bf9 100%"></i><i style="left:494.7px;width:8.6px;--p:47%;--g:#3e26a8 0%,#3e26a8 96.8%,#412dbc 97.9%,#4742e6 98.7%,#4854f5 99.5%,#475bf9 100%"></i><i style="left:498.7px;width:8.6px;--p:47%;--g:#3e26a8 0%,#3e26a8 96.8%,#3f28af 97.9%,#4742e6 98.7%,#4854f5 99.5%,#475af9 100%"></i><i style="left:502.7px;width:8.6px;--p:47%;--g:#3e26a8 0%,#3e26a8 96.8%,#463bdd 97.9%,#4742e6 98.7%,#4854f5 99.5%,#475af9 100%"></i><i style="left:506.7px;width:8.6px;--p:47%;--g:#3e26a8 0%,#3e26a8 96.8%,#4742e6 97.9%,#4742e6 98.7%,#4854f5 99.5%,#475af9 100%"></i><i style="left:510.7px;width:8.6px;--p:47%;--g:#3e26a8 0%,#3e26a8 96.8%,#4741e5 97.9%,#4741e5 98.7%,#4854f5 99.5%,#475af9 100%"></i><i style="left:514.7px;width:8.6px;--p:47%;--g:#3e26a8 0%,#3e26a8 95.7%,#3f29b2 96.8%,#4741e5 97.9%,#4850f2 98.7%,#4853f5 99.5%,#475af9 100%"></i><i style="left:518.7px;width:8.6px;--p:47%;--g:#3e26a8 0%,#3e26a8 97.9%,#422fc2 98.7%,#4853f5 99.5%,#475af9 100%"></i><i style="left:522.7px;width:8.6px;--p:47%;--g:#3e26a8 0%,#3e26a8 96.8%,#3f29b1 97.9%,#4741e5 98.7%,#4853f5 99.5%,#4759f9 100%"></i><i style="left:526.7px;width:8.6px;--p:47%;--g:#3e26a8 0%,#3e26a8 96.8%,#402ab3 97.9%,#4741e5 98.7%,#4853f5 99.5%,#4759f8 100%"></i><i style="left:530.7px;width:8.6px;--p:47%;--g:#3e26a8 0%,#3e26a8 96.8%,#3e27ab 97.9%,#4741e5 98.7%,#4853f5 99.5%,#4759f8 100%"></i><i style="left:534.7px;width:8.6px;--p:47%;--g:#3e26a8 0%,#3e26a8 96.8%,#422fc2 97.9%,#4740e4 98.7%,#4853f4 99.5%,#4759f8 100%"></i><i style="left:538.7px;width:8.6px;--p:47%;--g:#3e26a8 0%,#3e26a8 96.8%,#412ebe 97.9%,#4741e4 98.7%,#4852f4 99.5%,#4759f8 100%"></i><i style="left:542.7px;width:8.6px;--p:47%;--g:#3e26a8 0%,#3e26a8 96.8%,#402cb8 97.9%,#4740e4 98.7%,#4852f4 99.5%,#4759f8 100%"></i><i style="left:546.7px;width:9.1px;--p:44%;--g:#3e26a8 0%,#3e26a8 97.9%,#412ebd 98.7%,#4852f4 99.5%,#4759f8 100%"></i><b style="top:0;height:97%;left:197.6px;width:75.0px;background:repeating-conic-gradient(rgba(62,38,168,.33) 0 25%,transparent 0 50%) 1px 3px/6px 9.6px;filter:blur(.6px)"></b><b style="top:0;height:97%;left:282.6px;width:75.0px;background:repeating-conic-gradient(rgba(62,38,168,.33) 0 25%,transparent 0 50%) 3px 3px/6px 9.6px;filter:blur(.6px)"></b></div>
<div class="cb" style="left:616.3px;top:686.6px;width:22.9px;height:480.1px;background:linear-gradient(#f9fb15,#f6ef20,#f5e327,#f9d62d,#feca33,#febe3c,#f1ba37,#debc2a,#c8c129,#afc637,#94ca4a,#77cc60,#5ccc76,#44ca8a,#34c79c,#28c2ab,#12beb9,#01b9c6,#0cb3d3,#1aacdd,#21a3e3,#269ae9,#2c90f0,#2e85f8,#347afd,#3f6efe,#4562fc,#4757f7,#484cef,#4741e5,#4536d5,#422ebf,#3e26a8)"></div>
<div class="cb" style="left:1427.8px;top:686.6px;width:22.9px;height:480.1px;background:linear-gradient(#f9fb15,#f6ef20,#f5e327,#f9d62d,#feca33,#febe3c,#f1ba37,#debc2a,#c8c129,#afc637,#94ca4a,#77cc60,#5ccc76,#44ca8a,#34c79c,#28c2ab,#12beb9,#01b9c6,#0cb3d3,#1aacdd,#21a3e3,#269ae9,#2c90f0,#2e85f8,#347afd,#3f6efe,#4562fc,#4757f7,#484cef,#4741e5,#4536d5,#422ebf,#3e26a8)"></div>
<div class="hm" style="left:43.4px;top:1344.8px;width:561.6px;height:480.1px"><i style="left:0.0px;width:8.7px;--p:0%;--g:#fec338 0%,#fec338 26%,#f9bb3d 34.8%,#f2ba38 40.6%,#e1bc2b 49.4%,#cec028 52.3%,#b7c532 55.3%,#98c946 57.5%,#78cc5f 59.7%,#57cc7a 60.7%,#3cc992 61.6%,#2dc4a6 62.6%,#0ebdbb 63.1%,#06b5cf 63.6%,#1caadf 64.1%,#259ce7 64.3%,#2d8df2 64.5%,#327cfc 64.8%,#4269fe 65%,#4757f7 65.3%,#4269fe 65.5%,#327cfc 65.7%,#2d8df2 66%,#259ce7 66.2%,#1caadf 66.4%,#0cb3d3 66.6%,#02bac3 66.8%,#1dc0b3 67%,#34c79c 68%,#4fcc80 69%,#78cc5f 69.9%,#92ca4b 71.4%,#abc739 72.9%,#cec028 78.7%,#cec028 84.6%,#b7c532 90.5%,#98c946 93.4%,#78cc5f 96.3%,#5fcd73 98.2%,#48cb86 100%"></i><i style="left:0.5px;width:15.8px;--p:48%;--g:#fec338 0%,#fec338 10%,#fec339 20.1%,#fec13a 26%,#f6ba3b 34.8%,#eeba34 40.6%,#dfbc2a 49.4%,#bac430 55.3%,#a0c841 57.5%,#85cb56 59.7%,#59cc78 61.1%,#37c898 62.6%,#28c3aa 63.1%,#0dbdbb 63.5%,#01b9c8 63.8%,#0cb3d3 64.1%,#20a4e3 64.4%,#2a93ed 64.7%,#3080fa 65%,#426afe 65.3%,#327cfc 65.5%,#2d8cf3 65.7%,#269ae8 66%,#1da8e0 66.2%,#0cb3d3 66.4%,#0bbdbc 66.7%,#2ec5a4 67%,#40ca8d 68%,#61cd71 69%,#88cb53 69.9%,#b6c532 72.9%,#c6c22a 75.8%,#d4be28 78.7%,#d5be28 84.6%,#c1c32c 90.5%,#a6c83d 93.4%,#88cb53 96.3%,#62cd70 99.3%,#5acc77 100%"></i><i style="left:8.1px;width:15.8px;--p:48%;--g:#fec338 0%,#fec339 10%,#fec239 20.1%,#febf3b 26%,#f2ba38 34.8%,#eaba31 40.6%,#ddbd29 49.4%,#bdc32e 55.3%,#91ca4c 59.7%,#6bcd69 61.1%,#46cb88 62.6%,#35c79a 63.1%,#28c3ab 63.5%,#14bfb8 63.8%,#02bac4 64.1%,#15afd9 64.4%,#23a1e4 64.7%,#2b90f0 65%,#317efb 65.3%,#2b90ef 65.5%,#22a1e4 65.8%,#14b0d8 66.1%,#02bac3 66.4%,#26c2ad 66.7%,#3bc993 67%,#55cc7c 68%,#75cc61 69%,#98c946 69.9%,#c0c32d 72.9%,#cfc028 75.8%,#dbbd29 78.7%,#ddbd29 84.6%,#cac129 90.5%,#b3c534 93.4%,#98c946 96.3%,#76cc61 99.3%,#6ecd67 100%"></i><i style="left:15.7px;width:15.8px;--p:48%;--g:#fec338 0%,#fec239 10%,#fec13a 20.1%,#febe3c 26%,#eeba34 34.8%,#e6bb2d 40.6%,#dabd28 49.4%,#c0c32d 55.3%,#9ec942 59.7%,#7ecc5a 61.1%,#5ccc76 62.6%,#36c898 63.5%,#2cc4a7 63.8%,#1bc0b4 64.1%,#01b8ca 64.4%,#19addc 64.7%,#249fe5 65%,#2c90f0 65.3%,#239fe5 65.5%,#18aedb 65.8%,#01b8c8 66.1%,#1dc0b3 66.4%,#34c79c 66.7%,#50cc7f 67%,#7bcc5d 68.5%,#a8c73b 69.9%,#cac129 72.9%,#d7be28 75.8%,#e1bc2b 78.7%,#e4bb2c 84.6%,#d3bf27 90.5%,#bfc32d 93.4%,#a8c73b 96.3%,#8acb52 99.3%,#83cc57 100%"></i><i style="left:23.3px;width:15.8px;--p:48%;--g:#fec338 0%,#fec239 10%,#fec13a 20.1%,#fcbc3d 26%,#eaba31 34.8%,#e1bc2b 40.6%,#d8be28 49.4%,#c3c22b 55.3%,#aac73a 59.7%,#92ca4b 61.1%,#73cd62 62.6%,#4dcc82 63.5%,#3ac994 63.8%,#2fc5a3 64.1%,#13beb8 64.4%,#03b7cc 64.7%,#19addc 65%,#23a0e5 65.3%,#19addc 65.5%,#02b7cb 65.8%,#16bfb7 66.1%,#30c5a1 66.4%,#46cb88 66.7%,#6bcd69 67%,#92ca4b 68.5%,#b7c532 69.9%,#d3bf27 72.9%,#dfbc2a 75.8%,#e7bb2e 78.7%,#eaba31 84.6%,#dbbd29 90.5%,#cbc129 93.4%,#b7c532 96.3%,#9ec943 99.3%,#98c946 100%"></i><i style="left:30.9px;width:15.8px;--p:48%;--g:#fec338 0%,#fec239 10%,#fec03b 20.1%,#fabb3d 26%,#e6bb2d 34.8%,#ddbd29 40.6%,#d5be28 49.4%,#c6c22a 55.3%,#b5c533 59.7%,#a5c83d 61.1%,#8dcb4f 62.6%,#6ccd68 63.5%,#53cc7d 63.8%,#3eca90 64.1%,#26c2ac 64.5%,#02bac5 64.9%,#17aeda 65.3%,#01b8ca 65.5%,#15bfb8 65.8%,#2ec5a4 66.1%,#41ca8c 66.4%,#62cd71 66.7%,#88cb53 67%,#a8c73b 68.5%,#c6c22a 69.9%,#dbbd29 72.9%,#e6bb2d 75.8%,#edba33 78.7%,#f0ba36 84.6%,#e3bc2c 90.5%,#d6be28 93.4%,#c6c22a 96.3%,#b0c636 99.3%,#adc638 100%"></i><i style="left:38.6px;width:15.8px;--p:48%;--g:#fec338 0%,#fec13a 10%,#febf3b 20.1%,#f8ba3d 26%,#e1bc2b 34.8%,#d8be28 40.6%,#d3bf27 49.4%,#c8c129 55.3%,#c1c32c 59.7%,#b7c532 61.1%,#a5c83d 62.6%,#8fcb4e 63.5%,#73cd63 63.8%,#59cc78 64.1%,#37c898 64.5%,#21c1b1 64.9%,#01b9c7 65.3%,#22c1b0 65.6%,#39c895 66%,#5fcd73 66.4%,#82cc58 66.7%,#a5c83d 67%,#bdc32e 68.5%,#d3bf27 69.9%,#e4bb2c 72.9%,#edba33 75.8%,#f2ba38 78.7%,#f6ba3b 84.6%,#eaba31 90.5%,#e0bc2a 93.4%,#d3bf27 96.3%,#c2c22c 99.3%,#c0c32d 100%"></i><i style="left:46.2px;width:15.8px;--p:48%;--g:#fec338 0%,#fec13a 10%,#febf3c 20.1%,#f5ba3a 26%,#ddbd29 34.8%,#d3bf27 40.6%,#d0bf27 49.4%,#cbc129 55.3%,#cbc029 59.7%,#c8c129 61.1%,#bdc42f 62.6%,#b0c636 63.5%,#95ca49 63.8%,#79cc5e 64.1%,#51cc7f 64.5%,#35c79a 64.9%,#21c1b0 65.3%,#36c899 65.6%,#56cc7b 66%,#81cc59 66.4%,#a1c840 66.7%,#c0c32d 67%,#dfbc2a 69.9%,#ebba31 72.9%,#f4ba39 75.8%,#f7ba3c 78.7%,#fbbc3d 84.6%,#f1ba37 90.5%,#eabb30 93.4%,#dfbc2a 96.3%,#d3bf27 99.3%,#d2bf27 100%"></i><i style="left:53.8px;width:15.4px;--p:50%;--g:#fec338 0%,#fec13a 10%,#febe3c 20.1%,#f2ba38 26%,#d8be28 34.8%,#cec028 40.6%,#cec028 55.3%,#d8be28 61.1%,#cec028 63.5%,#a8c73b 63.9%,#7ecc5a 64.4%,#56cc7b 64.8%,#37c897 65.3%,#59cc78 65.7%,#85cb55 66.1%,#b1c635 66.6%,#d8be28 67%,#eaba31 69.9%,#f9bb3d 75.8%,#febe3c 84.6%,#f2ba38 93.4%,#e1bc2b 99.3%,#e1bc2b 100%"></i><i style="left:61.4px;width:14.9px;--p:48%;--g:#fec437 0%,#fec239 8.6%,#fec03b 17.2%,#febe3c 20.1%,#f2ba38 26%,#d8be28 34.8%,#cfc028 40.6%,#cec028 46.5%,#d0c027 55.3%,#dcbd29 61.1%,#d6be28 63.5%,#b1c636 64.1%,#85cb55 64.7%,#5acc77 65.3%,#8acb51 65.8%,#bac430 66.4%,#e1bc2b 67%,#f0ba36 69.9%,#fbbc3d 75.8%,#fec03a 84.6%,#f7ba3c 93.4%,#eaba31 99.3%,#eaba31 100%"></i><i style="left:68.6px;width:14.9px;--p:48%;--g:#fec537 0%,#fec338 8.6%,#fec13a 17.2%,#febe3c 20.1%,#f2ba38 26%,#d8be28 34.8%,#d0c027 40.6%,#cec028 46.5%,#d2bf27 55.3%,#dfbc2a 61.1%,#debc2a 63.5%,#b7c532 64.4%,#88cb53 65.3%,#adc638 65.8%,#cec028 66.4%,#eaba31 67%,#f5ba3a 69.9%,#fdbd3d 75.8%,#fec239 84.6%,#fbbc3d 93.4%,#f2ba38 99.3%,#f2ba38 100%"></i><i style="left:75.7px;width:14.9px;--p:48%;--g:#fec736 0%,#fec438 8.6%,#fec239 17.2%,#febe3c 20.1%,#f2ba38 26%,#d8be28 34.8%,#d1bf27 40.6%,#cec028 46.5%,#d4bf28 55.3%,#e3bc2c 61.1%,#e6bb2d 63.5%,#d0c028 64.4%,#b6c533 65.3%,#d7be28 66.1%,#f2ba38 67%,#f9bb3d 69.9%,#febf3b 75.8%,#fec437 84.6%,#febe3c 93.4%,#f9bb3d 99.3%,#f9bb3d 100%"></i><i style="left:82.8px;width:14.9px;--p:48%;--g:#fec835 0%,#fec537 8.6%,#fec239 17.2%,#febe3c 20.1%,#f2ba38 26%,#d8be28 34.8%,#d2bf27 40.6%,#cec028 46.5%,#d6be28 55.3%,#e7bb2e 61.1%,#edba33 63.5%,#dcbd29 65.3%,#f9bb3d 67%,#fdbd3d 69.9%,#fec13a 75.8%,#fec736 84.6%,#fec239 93.4%,#febe3c 99.3%,#febe3c 100%"></i><i style="left:90.0px;width:14.1px;--p:51%;--g:#fec934 0%,#fec636 8.6%,#fec338 17.2%,#f2ba38 26%,#d8be28 34.8%,#cec028 46.5%,#d8be28 55.3%,#eaba31 61.1%,#febe3c 67%,#fec338 75.8%,#fec934 84.6%,#fec636 91.9%,#fec338 99.3%,#fec338 100%"></i><i style="left:97.1px;width:13.3px;--p:48%;--g:#fdcb32 0%,#feca33 8.6%,#fec834 17.2%,#fdbd3d 26%,#edba33 34.8%,#e9bb30 40.6%,#e6bb2d 46.5%,#ecba32 55.3%,#f9bb3d 61.1%,#febf3c 64.1%,#fec537 67%,#fec735 69.9%,#feca33 75.8%,#fdce31 84.6%,#fdcb33 91.9%,#fec735 99.3%,#fec735 100%"></i><i style="left:103.4px;width:13.3px;--p:48%;--g:#fdce31 0%,#fdce31 8.6%,#fdcd31 17.2%,#fec636 26%,#fdbd3d 34.8%,#fbbc3d 40.6%,#f9bb3d 46.5%,#fcbc3d 55.3%,#fec239 61.1%,#fec735 64.1%,#fdcd32 67%,#fccf30 69.9%,#fcd12f 75.8%,#fad42e 84.6%,#fcd030 91.9%,#fdcb32 99.3%,#fdcb32 100%"></i><i style="left:109.7px;width:13.3px;--p:48%;--g:#fcd12f 0%,#fbd22f 8.6%,#fbd22f 17.2%,#fcd030 26%,#fec934 34.8%,#fec736 40.6%,#fec636 46.5%,#fec735 55.3%,#fdcd32 61.1%,#fcd030 64.1%,#fad52e 67%,#f9d72c 69.9%,#f8d82c 75.8%,#f8da2b 84.6%,#fad52e 91.9%,#fcd030 99.3%,#fcd030 100%"></i><i style="left:116.1px;width:13.5px;--p:47%;--g:#fad42e 0%,#f9d72d 13%,#f8da2b 26%,#f9d72d 33.3%,#fad42e 40.6%,#fad42e 55.3%,#f8da2b 64.1%,#f6df29 69.9%,#f6df29 84.6%,#f8da2b 91.9%,#fad42e 99.3%,#fad42e 100%"></i><i style="left:122.4px;width:13.7px;--p:48%;--g:#f9d82c 0%,#f7db2b 8.6%,#f6de29 17.2%,#f5e227 26%,#f5e128 33.3%,#f6e028 40.6%,#f6e028 55.3%,#f5e427 64.1%,#f5e825 69.9%,#f5e725 77.3%,#f5e725 84.6%,#f5e327 91.9%,#f6df29 99.3%,#f6df29 100%"></i><i style="left:128.9px;width:13.7px;--p:48%;--g:#f7dc2a 0%,#f6e028 8.6%,#f5e526 17.2%,#f5eb23 26%,#f5ec22 33.3%,#f5ed22 40.6%,#f5ec22 47.9%,#f5ec22 55.3%,#f5ee21 64.1%,#f6ef20 69.9%,#f6ef20 77.3%,#f5ef20 84.6%,#f5ed22 91.9%,#f5eb23 99.3%,#f5eb23 100%"></i><i style="left:135.5px;width:15.2px;--p:43%;--g:#f6df29 0%,#f5e526 8.6%,#f5eb23 17.2%,#f7f31d 26%,#f7f61a 33.3%,#f8f817 40.6%,#f8f818 52.3%,#f8f719 64.1%,#f8f719 75.8%,#f7f61a 87.5%,#f7f61a 100%"></i><i style="left:142.0px;width:16.6px;--p:48%;--g:#f5e227 0%,#f5ee21 11.3%,#f6f11f 17.2%,#f7f61a 26%,#f8f719 33.3%,#f8f817 40.6%,#f8f818 52.3%,#f8f818 64.1%,#f8f718 75.8%,#f8f719 87.5%,#f8f719 100%"></i><i style="left:150.0px;width:15.4px;--p:52%;--g:#f5e526 0%,#f7f61a 11.3%,#f8f719 18.6%,#f8f817 26%,#f8f817 100%"></i><i style="left:158.0px;width:14.2px;--p:48%;--g:#f5e825 0%,#f8f719 11.3%,#f8f818 18.6%,#f8f817 26%,#f8f817 100%"></i><i style="left:164.8px;width:19.1px;--p:35%;--g:#f5eb23 0%,#f8f817 11.3%,#f8f817 100%"></i><i style="left:171.6px;width:22.7px;--p:52%;--g:#f5e526 0%,#f5eb23 13%,#f6f01f 26%,#f7f31d 33.3%,#f7f61a 40.6%,#f8f619 50.4%,#f8f718 60.2%,#f8f817 69.9%,#f8f718 79.7%,#f8f619 89.5%,#f7f61a 99.3%,#f7f61a 100%"></i><i style="left:183.3px;width:20.2px;--p:51%;--g:#f6df29 0%,#f5e526 13%,#f5eb23 26%,#f5ed21 33.3%,#f6f01f 40.6%,#f7f31d 47.9%,#f7f61a 55.3%,#f7f61a 69.9%,#f5e526 81.7%,#f8da2b 87.5%,#f8da2b 93.4%,#f5e526 99.3%,#f5e526 100%"></i><i style="left:193.7px;width:18.2px;--p:51%;--g:#f5eb23 0%,#f5ed21 13%,#f6f01f 26%,#f7f31d 36.2%,#f7f61a 46.5%,#f7f61a 100%"></i><i style="left:203.0px;width:16.6px;--p:50%;--g:#f5eb23 0%,#f6f01f 13%,#f7f61a 26%,#f7f61a 100%"></i><i style="left:211.3px;width:15.3px;--p:50%;--g:#f6df29 0%,#f5e327 13.5%,#f5e725 27.1%,#f5eb23 40.6%,#f5ed22 50.4%,#f5ee21 60.2%,#f6f01f 69.9%,#f6f01f 100%"></i><i style="left:219.0px;width:14.2px;--p:50%;--g:#fdce31 0%,#fcd12f 8.6%,#fad42e 17.2%,#f6df29 26%,#f5e526 33.3%,#f5eb23 40.6%,#f5ed22 50.4%,#f5ee21 60.2%,#f6f01f 69.9%,#f6f01f 100%"></i><i style="left:226.0px;width:13.2px;--p:49%;--g:#f8da2b 0%,#f6de29 13.5%,#f5e128 27.1%,#f5e526 40.6%,#f5e725 50.4%,#f5e924 60.2%,#f5eb23 69.9%,#f5eb23 100%"></i><i style="left:232.6px;width:12.3px;--p:49%;--g:#f8da2b 0%,#f7dc2a 13.5%,#f6de29 27.1%,#f6df29 40.6%,#f5e128 50.4%,#f5e327 60.2%,#f5e526 69.9%,#f5e526 100%"></i><i style="left:238.6px;width:11.6px;--p:49%;--g:#fec338 0%,#fec338 26%,#fec636 33.3%,#fec934 40.6%,#fcd12f 47.9%,#f8da2b 55.3%,#f7dd2a 62.6%,#f6df29 69.9%,#f5e128 79.7%,#f5e327 89.5%,#f5e526 99.3%,#f5e526 100%"></i><i style="left:244.3px;width:11.0px;--p:49%;--g:#f2ba38 0%,#eeba34 8.6%,#eaba31 17.2%,#eaba31 34.8%,#febe3c 46.5%,#fdce31 55.3%,#fad42e 62.6%,#f8da2b 69.9%,#f7dc2a 79.7%,#f6de29 89.5%,#f6df29 99.3%,#f6df29 100%"></i><i style="left:249.6px;width:10.4px;--p:48%;--g:#e1bc2b 0%,#ddbd29 8.6%,#d8be28 17.2%,#d3bf27 26%,#cec028 34.8%,#c3c22b 40.6%,#d8be28 43.5%,#eaba31 46.5%,#f9bb3d 50.9%,#fec338 55.3%,#fdcb32 62.6%,#fad42e 69.9%,#fad62d 79.7%,#f9d82c 89.5%,#f8da2b 99.3%,#f8da2b 100%"></i><i style="left:254.7px;width:9.9px;--p:48%;--g:#febe3c 0%,#f9bb3d 8.6%,#f2ba38 17.2%,#e6bb2d 24.5%,#d8be28 31.8%,#c3c22b 36.2%,#abc739 40.6%,#c3c22b 43.5%,#d8be28 46.5%,#eeba34 50.9%,#febe3c 55.3%,#fec636 62.6%,#fdce31 69.9%,#fcd030 79.7%,#fbd22f 89.5%,#fad42e 99.3%,#fad42e 100%"></i><i style="left:259.4px;width:9.4px;--p:48%;--g:#fec934 0%,#fec636 8.6%,#fec338 17.2%,#f9bb3d 24.5%,#eaba31 31.8%,#d8be28 34.8%,#c3c22b 37.7%,#98c946 39.3%,#6bcd69 40.9%,#98c946 42.2%,#c3c22b 43.5%,#e1bc2b 47.9%,#f9bb3d 52.3%,#fec338 61.1%,#fdce31 69.9%,#fdce31 100%"></i><i style="left:263.9px;width:9.0px;--p:48%;--g:#fec934 0%,#fec636 13%,#fec338 26%,#febe3c 33.3%,#f9bb3d 40.6%,#febe3c 47.9%,#fec338 55.3%,#fec934 62.6%,#fdce31 69.9%,#fdce31 84.6%,#fdcb32 91.9%,#fec934 99.3%,#fec934 100%"></i><i style="left:268.2px;width:8.6px;--p:48%;--g:#fec338 0%,#fec03b 13.5%,#fdbd3d 27.1%,#f9bb3d 40.6%,#f6ba3b 47.9%,#f2ba38 55.3%,#fcbc3d 62.6%,#fec338 69.9%,#fec636 77.3%,#fec934 84.6%,#fec934 100%"></i><i style="left:272.3px;width:8.3px;--p:47%;--g:#febe3c 0%,#f9bb3d 13%,#f2ba38 26%,#eaba31 33.3%,#e1bc2b 40.6%,#ddbd29 47.9%,#d8be28 55.3%,#eaba31 64.1%,#f9bb3d 69.9%,#febe3c 77.3%,#fec338 84.6%,#f2ba38 90.5%,#fec338 99.3%,#fec338 100%"></i><i style="left:276.2px;width:7.9px;--p:47%;--g:#f2ba38 0%,#e6bb2d 13%,#d8be28 26%,#d3bf27 33.3%,#cec028 40.6%,#cec028 55.3%,#e1bc2b 64.1%,#f2ba38 75.8%,#febe3c 84.6%,#e6bb2d 87.5%,#c3c22b 90.5%,#e1bc2b 93.4%,#f9bb3d 96.3%,#fec338 99.3%,#fec338 100%"></i><i style="left:280.0px;width:7.6px;--p:47%;--g:#d8be28 0%,#cec028 11.3%,#cec028 26%,#c3c22b 33.3%,#b7c532 40.6%,#9fc942 46.5%,#85cb55 52.3%,#64cd6e 53.1%,#48cb86 53.8%,#6bcd69 55.6%,#92ca4b 57.5%,#b7c532 59.3%,#d8be28 61.1%,#f2ba38 69.9%,#febe3c 81.7%,#eaba31 83.1%,#cec028 84.6%,#abc739 86.1%,#7bcc5d 87.2%,#4dcc82 88.3%,#31c6a0 89.4%,#12beb9 90.5%,#2ec5a4 91.4%,#43ca8b 92.2%,#68cd6c 93.1%,#92ca4b 94%,#bfc32d 95.8%,#e4bb2c 97.5%,#febe3c 99.3%,#febe3c 100%"></i><i style="left:283.5px;width:7.4px;--p:47%;--g:#85cb55 0%,#9fc942 11.3%,#9fc942 26%,#92ca4b 33.3%,#85cb55 40.6%,#6bcd69 49.4%,#45cb88 50.5%,#2fc5a2 51.6%,#15bfb7 52.7%,#02b7cb 53.8%,#18bfb6 54.9%,#32c69f 56%,#4dcc82 57.1%,#78cc5f 58.2%,#a5c83d 61.1%,#cec028 64.1%,#b7c532 69.9%,#8ccb50 72.4%,#5fcd73 74.9%,#89cb52 77.2%,#b3c534 79.4%,#d8be28 81.7%,#c3c22b 90.5%,#ddbd29 94.9%,#f2ba38 99.3%,#f2ba38 100%"></i><i style="left:287.0px;width:7.1px;--p:47%;--g:#6bcd69 0%,#78cc5f 11.3%,#78cc5f 26%,#71cd64 33.3%,#6bcd69 40.6%,#48cb86 45%,#32c69f 49.4%,#1dc0b3 53.8%,#32c69f 55.3%,#48cb86 56.7%,#6bcd69 58.2%,#8ccb50 61.1%,#abc739 64.1%,#85cb55 69.9%,#5fcd73 71.4%,#3eca8f 72.9%,#2dc4a6 74.3%,#40ca8d 75.8%,#63cd6f 77.3%,#8dcb4f 78.7%,#b5c533 80.2%,#d8be28 81.7%,#f2ba38 87.5%,#febe3c 99.3%,#febe3c 100%"></i><i style="left:290.3px;width:6.9px;--p:46%;--g:#53cc7d 0%,#6bcd69 11.3%,#48cb86 20.1%,#6bcd69 26%,#64cd6e 33.3%,#5fcd73 40.6%,#6bcd69 47.9%,#78cc5f 55.3%,#78cc5f 64.1%,#5fcd73 69.9%,#39c994 71.6%,#24c1ae 73.3%,#01bac5 74.9%,#20c1b1 75.9%,#35c79b 76.8%,#50cc7f 77.8%,#78cc5f 78.7%,#9bc945 80.7%,#bbc42f 82.7%,#d8be28 84.6%,#f2ba38 93.4%,#f9bb3d 99.3%,#f9bb3d 100%"></i><i style="left:293.5px;width:6.7px;--p:46%;--g:#48cb86 0%,#48cb86 11.3%,#53cc7d 18.6%,#5fcd73 26%,#59cc78 33.3%,#53cc7d 40.6%,#5fcd73 47.9%,#6bcd69 55.3%,#48cb86 67%,#5fcd73 71.4%,#78cc5f 75.8%,#a5c83d 80.2%,#cec028 84.6%,#eaba31 87.5%,#febe3c 90.5%,#f9bb3d 99.3%,#f9bb3d 100%"></i><i style="left:296.6px;width:6.5px;--p:46%;--g:#37c897 0%,#26c2ac 11.3%,#35c79b 18.6%,#48cb86 26%,#53cc7d 33.3%,#5fcd73 40.6%,#64cd6e 47.9%,#6bcd69 55.3%,#4dcc82 61.1%,#37c897 67%,#59cc78 71.4%,#85cb55 75.8%,#abc739 80.2%,#cec028 84.6%,#eaba31 89%,#febe3c 93.4%,#febe3c 100%"></i><i style="left:299.6px;width:6.3px;--p:46%;--g:#48cb86 0%,#37c897 4.9%,#2dc4a6 9.8%,#1dc0b3 11.3%,#07bcbf 12.8%,#26c2ac 14.2%,#37c897 15.7%,#4dcc82 20.8%,#6bcd69 26%,#7ecc5a 33.3%,#92ca4b 40.6%,#6bcd69 47.9%,#48cb86 55.3%,#37c897 61.1%,#2dc4a6 67%,#43ca8b 71.4%,#6bcd69 75.8%,#98c946 80.2%,#c3c22b 84.6%,#e6bb2d 87.5%,#febe3c 90.5%,#f9bb3d 99.3%,#f9bb3d 100%"></i><i style="left:302.5px;width:6.1px;--p:46%;--g:#48cb86 0%,#32c69f 4.9%,#1dc0b3 9.8%,#02bac3 10.8%,#0cb3d3 11.8%,#1caadf 12.8%,#06b5cf 13.7%,#0ebdbb 14.7%,#2dc4a6 15.7%,#43ca8b 20.8%,#6bcd69 26%,#7ecc5a 33.3%,#92ca4b 40.6%,#6bcd69 47.9%,#48cb86 55.3%,#34c79c 59.2%,#24c1ae 63.1%,#07bcbf 67%,#2bc3a8 69.9%,#41ca8c 72.9%,#6bcd69 75.8%,#98c946 80.2%,#c3c22b 84.6%,#e6bb2d 87.5%,#febe3c 90.5%,#f2ba38 99.3%,#f2ba38 100%"></i><i style="left:305.3px;width:5.9px;--p:46%;--g:#5fcd73 0%,#3eca8f 6.4%,#2dc4a6 12.8%,#3eca8f 17.2%,#5fcd73 21.6%,#85cb55 26%,#85cb55 40.6%,#5fcd73 49.4%,#48cb86 52.3%,#37c897 55.3%,#48cb86 61.1%,#30c5a1 63.1%,#16bfb7 65.1%,#02b7cb 67%,#16bfb7 69%,#30c5a1 70.9%,#48cb86 72.9%,#5fcd73 77.3%,#78cc5f 81.7%,#a3c83f 84.6%,#cac129 87.5%,#eaba31 90.5%,#eaba31 100%"></i><i style="left:308.0px;width:5.8px;--p:45%;--g:#abc739 0%,#b7c532 13%,#c3c22b 26%,#cec028 34.8%,#a5c83d 36.2%,#78cc5f 37.7%,#4dcc82 38.4%,#32c69f 39.2%,#18bfb6 39.9%,#02b7cb 40.6%,#12beb9 41.3%,#2dc4a6 42.1%,#3eca8f 42.8%,#5fcd73 43.5%,#6bcd69 49.4%,#4dcc82 50.9%,#37c897 52.3%,#26c2ac 53%,#07bcbf 53.7%,#09b4d1 54.3%,#1caadf 55%,#09b4d1 55.8%,#07bcbf 56.6%,#26c2ac 57.4%,#37c897 58.2%,#48cb86 64.1%,#30c5a1 65.1%,#16bfb7 66%,#02b7cb 67%,#16bfb7 69%,#30c5a1 70.9%,#48cb86 72.9%,#5fcd73 77.3%,#78cc5f 81.7%,#92ca4b 86.1%,#abc739 90.5%,#cec028 99.3%,#cec028 100%"></i><i style="left:310.6px;width:5.6px;--p:45%;--g:#abc739 0%,#b7c532 13%,#c3c22b 26%,#cec028 34.8%,#abc739 36.7%,#85cb55 38.7%,#5fcd73 40.6%,#6bcd69 49.4%,#43ca8b 52.3%,#2dc4a6 55.3%,#37c897 59.7%,#48cb86 64.1%,#34c79c 65.1%,#24c1ae 66%,#07bcbf 67%,#24c1ae 69%,#34c79c 70.9%,#48cb86 72.9%,#5fcd73 77.3%,#78cc5f 81.7%,#92ca4b 86.1%,#abc739 90.5%,#cec028 99.3%,#cec028 100%"></i><i style="left:313.1px;width:5.5px;--p:45%;--g:#abc739 0%,#b7c532 13%,#c3c22b 26%,#c3c22b 34.8%,#9fc942 37.7%,#78cc5f 40.6%,#6bcd69 49.4%,#4dcc82 52.3%,#37c897 55.3%,#48cb86 64.1%,#37c897 65.5%,#2dc4a6 67%,#37c897 69.9%,#48cb86 72.9%,#5fcd73 77.3%,#78cc5f 81.7%,#92ca4b 90.5%,#abc739 99.3%,#abc739 100%"></i><i style="left:315.6px;width:5.4px;--p:45%;--g:#9fc942 0%,#a5c83d 13%,#abc739 26%,#8ccb50 33.3%,#6bcd69 40.6%,#4dcc82 47.9%,#37c897 55.3%,#37c897 69.9%,#53cc7d 77.3%,#78cc5f 84.6%,#5fcd73 93.4%,#48cb86 99.3%,#48cb86 100%"></i><i style="left:318.0px;width:5.2px;--p:45%;--g:#92ca4b 0%,#8ccb50 11.5%,#85cb55 23%,#5acc77 23.8%,#39c895 24.7%,#25c2ae 25.5%,#02bbc3 26.3%,#12b1d6 27.1%,#02bac4 27.8%,#21c1b0 28.4%,#35c79a 29.1%,#51cc7f 29.7%,#78cc5f 30.4%,#5fcd73 40.6%,#48cb86 45.7%,#37c897 50.9%,#26c2ac 51.6%,#07bcbf 52.3%,#09b4d1 53.1%,#1caadf 53.8%,#09b4d1 54.5%,#07bcbf 55.3%,#26c2ac 56%,#37c897 56.7%,#37c897 69.9%,#53cc7d 77.3%,#78cc5f 84.6%,#5fcd73 89%,#48cb86 93.4%,#37c897 96.3%,#2dc4a6 99.3%,#2dc4a6 100%"></i><i style="left:320.4px;width:5.1px;--p:45%;--g:#9fc942 0%,#a5c83d 13%,#abc739 26%,#92ca4b 33.3%,#78cc5f 40.6%,#53cc7d 47.9%,#37c897 55.3%,#37c897 69.9%,#53cc7d 77.3%,#78cc5f 84.6%,#53cc7d 89%,#37c897 93.4%,#2dc4a6 96.3%,#1dc0b3 99.3%,#1dc0b3 100%"></i><i style="left:322.7px;width:5.0px;--p:45%;--g:#abc739 0%,#c3c22b 13%,#d8be28 26%,#bdc32e 33.3%,#9fc942 40.6%,#85cb55 45%,#6bcd69 49.4%,#43ca8b 53.8%,#2dc4a6 58.2%,#1dc0b3 62.6%,#07bcbf 67%,#2bc3a8 69.9%,#41ca8c 72.9%,#6bcd69 75.8%,#78cc5f 84.6%,#57cc7a 87.5%,#3cc992 90.5%,#2dc4a6 93.4%,#12beb9 96.3%,#02b7cb 99.3%,#02b7cb 100%"></i><i style="left:324.9px;width:4.9px;--p:44%;--g:#abc739 0%,#c8c129 13%,#e1bc2b 26%,#c8c129 33.3%,#abc739 40.6%,#8ccb50 45%,#6bcd69 49.4%,#43ca8b 53.8%,#2dc4a6 58.2%,#1dc0b3 62.6%,#07bcbf 67%,#2bc3a8 69.9%,#41ca8c 72.9%,#6bcd69 75.8%,#78cc5f 84.6%,#57cc7a 87.5%,#3cc992 90.5%,#2dc4a6 93.4%,#12beb9 96.3%,#02b7cb 99.3%,#02b7cb 100%"></i><i style="left:327.1px;width:4.8px;--p:44%;--g:#92ca4b 0%,#abc739 13%,#c3c22b 26%,#abc739 33.3%,#92ca4b 40.6%,#78cc5f 45%,#5fcd73 49.4%,#3eca8f 53.8%,#2dc4a6 58.2%,#1dc0b3 67%,#30c5a1 69.9%,#41ca8c 72.9%,#5fcd73 75.8%,#6bcd69 84.6%,#4bcb83 87.5%,#35c79a 90.5%,#26c2ac 93.4%,#0cbdbc 96.3%,#02b7cb 99.3%,#02b7cb 100%"></i><i style="left:329.2px;width:4.7px;--p:44%;--g:#78cc5f 0%,#6bcd69 11.3%,#6bcd69 26%,#59cc78 33.3%,#48cb86 40.6%,#3bc993 47.9%,#32c69f 55.3%,#35c79b 62.6%,#37c897 69.9%,#4dcc82 77.3%,#6bcd69 84.6%,#41ca8c 89.5%,#2bc3a8 94.4%,#07bcbf 99.3%,#07bcbf 100%"></i><i style="left:331.2px;width:4.6px;--p:44%;--g:#6bcd69 0%,#5fcd73 11.3%,#5fcd73 26%,#48cb86 33.3%,#37c897 40.6%,#35c79b 47.9%,#32c69f 55.3%,#3bc993 62.6%,#48cb86 69.9%,#5fcd73 77.3%,#78cc5f 84.6%,#53cc7d 88.3%,#37c897 91.9%,#26c2ac 95.6%,#07bcbf 99.3%,#07bcbf 100%"></i><i style="left:333.3px;width:4.5px;--p:44%;--g:#5fcd73 0%,#48cb86 11.3%,#37c897 15.7%,#24c1ae 16.7%,#02bac3 17.6%,#12b1d6 18.6%,#02bac3 19.6%,#24c1ae 20.6%,#37c897 21.6%,#37c897 26%,#32c69f 33.3%,#2dc4a6 40.6%,#2dc4a6 55.3%,#37c897 62.6%,#48cb86 69.9%,#59cc78 77.3%,#6bcd69 84.6%,#43ca8b 88.3%,#2dc4a6 91.9%,#0cbdbc 95.6%,#09b4d1 99.3%,#09b4d1 100%"></i><i style="left:335.2px;width:4.4px;--p:44%;--g:#78cc5f 0%,#5fcd73 11.3%,#5fcd73 26%,#53cc7d 33.3%,#48cb86 40.6%,#53cc7d 47.9%,#5fcd73 55.3%,#64cd6e 62.6%,#6bcd69 69.9%,#6bcd69 84.6%,#45cb88 88.3%,#2fc5a2 91.9%,#15bfb7 95.6%,#02b7cb 99.3%,#02b7cb 100%"></i><i style="left:337.2px;width:4.3px;--p:44%;--g:#5fcd73 0%,#48cb86 11.3%,#48cb86 26%,#3eca8f 33.3%,#37c897 40.6%,#53cc7d 47.9%,#78cc5f 55.3%,#71cd64 62.6%,#6bcd69 69.9%,#5fcd73 77.3%,#53cc7d 84.6%,#36c899 88.3%,#22c1b0 91.9%,#02bac4 95.6%,#12b1d6 99.3%,#12b1d6 100%"></i><i style="left:339.1px;width:4.3px;--p:43%;--g:#5fcd73 0%,#53cc7d 11.3%,#53cc7d 26%,#43ca8b 33.3%,#37c897 40.6%,#4dcc82 47.9%,#6bcd69 55.3%,#6bcd69 69.9%,#5fcd73 77.3%,#53cc7d 84.6%,#37c897 88.3%,#26c2ac 91.9%,#07bcbf 95.6%,#09b4d1 99.3%,#09b4d1 100%"></i><i style="left:340.9px;width:4.2px;--p:43%;--g:#37c897 0%,#37c897 11.3%,#32c69f 18.6%,#2dc4a6 26%,#2ac3a9 33.3%,#26c2ac 40.6%,#2ac3a9 47.9%,#2dc4a6 55.3%,#37c897 62.6%,#48cb86 69.9%,#48cb86 84.6%,#31c6a0 88.3%,#18bfb6 91.9%,#01b8ca 95.6%,#18aedb 99.3%,#18aedb 100%"></i><i style="left:342.7px;width:5.0px;--p:36%;--g:#07bcbf 0%,#09b4d1 1.2%,#1caadf 2.5%,#06b5cf 5.4%,#0ebdbb 8.4%,#2dc4a6 11.3%,#1dc0b3 22.1%,#01b9c7 23%,#16afd9 23.9%,#22a2e4 24.8%,#19addc 25.2%,#06b5cf 25.6%,#07bcbf 26%,#1dc0b3 27.4%,#1dc0b3 55.3%,#2dc4a6 62.6%,#37c897 69.9%,#37c897 84.6%,#26c2ac 88.3%,#07bcbf 91.9%,#09b4d1 95.6%,#1caadf 99.3%,#1caadf 100%"></i><i style="left:344.5px;width:5.8px;--p:45%;--g:#90ca4d,#97ca47,#b5c533,#63cd6f,#49cb86,#36c898,#33c69e,#76cc60,#77cc5f,#46cb88,#38c896,#7ccc5c,#3fca8e,#3bc992,#5ccc76,#8ecb4e,#a5c83d,#68cd6b,#3ac994,#34c79c,#66cd6e,#79cc5e,#adc638,#b4c534,#c1c32c,#5acc77,#28c3aa,#23c1af,#1ec0b2,#0bb3d2"></i><i style="left:347.1px;width:5.8px;--p:45%;--g:#37c897,#51cc7f,#40ca8d,#6ccd68,#87cb54,#6dcd67,#81cc59,#b1c635,#6fcd66,#50cc7f,#3dc990,#49cb86,#3ac994,#24c1ae,#57cc7a,#35c79a,#08bcbf,#47cb87,#36c898,#6ecd66,#acc738,#68cd6c,#46cb88,#97ca48,#44cb8a,#31c6a0,#24c2ae,#09bdbe,#30c5a2,#0ebebb"></i><i style="left:349.7px;width:5.8px;--p:45%;--g:#2cc4a7,#28c2ab,#09bcbe,#35c79a,#32c69f,#2ec4a4,#02bac4,#01b9c6,#2dc4a5,#29c3aa,#07bcbf,#19acdc,#01b8c9,#01bac5,#1cc0b3,#1ec0b2,#23c1af,#0fbebb,#17bfb6,#02bac4,#16bfb7,#20c1b1,#23c1af,#01b9c6,#14beb8,#01b9c6,#20a5e3,#22a1e4,#22a1e4,#2d8cf3"></i><i style="left:352.3px;width:5.8px;--p:45%;--g:#87cb54,#acc738,#acc739,#47cb87,#2dc4a6,#5dcc74,#5acc78,#53cc7d,#7bcc5d,#86cb55,#86cb54,#54cc7d,#9ec942,#34c79c,#73cd63,#56cc7b,#7fcc5a,#7acc5e,#87cb54,#c0c32d,#87cb54,#37c897,#44cb8a,#23c1af,#37c898,#35c799,#44cb8a,#28c2ab,#26c2ad,#14b0d8"></i><i style="left:354.9px;width:5.8px;--p:45%;--g:#37c898,#58cc7a,#a4c83e,#84cc56,#7ccc5c,#39c895,#2ec5a4,#71cd65,#27c2ac,#2dc4a6,#3cc991,#59cc78,#36c899,#36c899,#42ca8c,#65cd6e,#45cb88,#38c896,#65cd6e,#7acc5e,#49cb85,#54cc7c,#47cb87,#48cb86,#20c1b1,#31c6a0,#23c1af,#10b2d5,#13b0d7,#23a1e4"></i><i style="left:357.5px;width:5.8px;--p:45%;--g:#20c1b1,#5ccc76,#5ccc75,#24c2ae,#3eca8f,#2cc4a6,#47cb87,#44cb89,#57cc7a,#54cc7d,#2ec5a4,#19bfb5,#24c2ae,#29c3aa,#3bc993,#76cc60,#3fca8e,#6ecd67,#50cc80,#49cb85,#26c2ac,#2dc4a5,#3ac994,#2fc5a2,#1dc0b3,#1dc0b3,#2ac3a9,#1cc0b3,#19acdc,#14b0d8"></i><i style="left:360.1px;width:5.8px;--p:45%;--g:#2ac3a8,#52cc7e,#4bcb83,#3fca8e,#36c898,#15afd9,#2bc3a8,#53cc7d,#01b7ca,#1ea7e1,#04b6cd,#30c5a1,#34c79b,#39c895,#1ec0b2,#02bbc3,#23c1af,#02bac5,#38c896,#46cb88,#39c895,#28c3ab,#59cc78,#3eca8f,#09bcbe,#01b9c6,#20a4e3,#07b5cf,#23a0e5,#23a0e5"></i><i style="left:362.7px;width:5.8px;--p:45%;--g:#66cd6d,#2bc3a8,#40ca8d,#34c79c,#35c79b,#01b9c6,#28c3aa,#35c79a,#3eca8f,#4ccb82,#30c5a2,#06bcc0,#32c69e,#0fbeba,#71cd64,#3cc992,#01b9c6,#33c79d,#33c79d,#2bc3a8,#2cc4a6,#30c5a1,#14beb8,#45cb89,#6ccd68,#46cb88,#19bfb5,#0fbebb,#17bfb6,#01b9c6"></i><i style="left:365.3px;width:5.8px;--p:45%;--g:#34c79c,#11beba,#34c79b,#59cc78,#55cc7b,#58cc79,#4bcb84,#1ac0b4,#41ca8c,#56cc7b,#25c2ae,#20c1b1,#34c79c,#35c79a,#0cbdbc,#01b8ca,#0db3d3,#14beb8,#34c79c,#40ca8d,#31c69f,#35c79a,#29c3aa,#42ca8b,#37c897,#26c2ad,#2fc5a2,#05bbc1,#16afda,#269ae8"></i><i style="left:367.9px;width:5.8px;--p:45%;--g:#58cc79,#29c3a9,#46cb88,#24c1ae,#15bfb7,#3bc993,#23c1af,#24c1ae,#21c1b0,#43ca8a,#41ca8c,#2cc4a6,#23c1af,#2ec5a3,#18bfb6,#2fc5a2,#3eca8f,#43ca8b,#21c1b0,#48cb86,#3ac994,#62cd70,#52cc7e,#39c895,#04bbc2,#3eca8f,#09bcbe,#04bbc2,#04bbc2,#09bdbe"></i><i style="left:370.5px;width:5.8px;--p:45%;--g:#3ac993,#1abfb5,#0dbdbc,#41ca8d,#2ac3a9,#1ec0b2,#06b5cf,#02bac3,#20a5e3,#04b6cd,#15bfb8,#11beba,#07b5cf,#2ec5a3,#13beb8,#01b8c9,#01b8c9,#11b1d6,#14b0d8,#1ca9e0,#17aeda,#22a2e4,#04b6cd,#03b7cc,#01b8c9,#02bac3,#15afd9,#05bbc1,#259ce7,#259be8"></i><i style="left:373.1px;width:5.8px;--p:45%;--g:#31c6a0,#1ec0b2,#0dbdbc,#3eca8f,#34c79b,#3eca8f,#0bbdbd,#15bfb7,#31c69f,#31c6a0,#31c69f,#21c1b1,#3cc992,#32c69f,#3cc991,#3dca90,#29c3aa,#2cc4a7,#31c6a0,#21c1b0,#2dc4a6,#24c1af,#05bbc1,#27c2ac,#32c69f,#3bc993,#30c5a2,#01b8ca,#1babde,#06b5cf"></i><i style="left:375.7px;width:5.8px;--p:45%;--g:#15afd9,#1ea7e1,#17aeda,#2ac3a9,#03b7cc,#2ac3a9,#06bcc0,#02bbc3,#06b5cf,#2ec5a3,#39c995,#0fbebb,#1bc0b4,#11b1d6,#0db3d3,#01b9c6,#04b6cd,#0abdbd,#1ea8e1,#2ec4a5,#15bfb8,#16afd9,#15afd9,#1ea8e0,#1babde,#03bbc3,#09b4d1,#01b8ca,#05b6ce,#01b9c6"></i><i style="left:378.3px;width:5.8px;--p:45%;--g:#07b5d0,#04bbc2,#2cc4a6,#36c898,#23c1af,#24c1ae,#3cc991,#3eca8f,#01b9c7,#1dc0b3,#2cc4a7,#26c2ac,#12beb9,#17aeda,#01b8c8,#1ac0b4,#22c1b0,#19addc,#0bbdbc,#1ec0b2,#2cc4a6,#01bac5,#06bcc0,#06b5cf,#01b7ca,#02b7cb,#07b5cf,#249ee6,#1da8e0,#07b5d0"></i><i style="left:380.9px;width:5.8px;--p:45%;--g:#28c3ab,#24c1ae,#17bfb6,#14bfb8,#0ebdbb,#39c995,#31c69f,#0abdbd,#01b9c7,#03bbc2,#0cb3d3,#12beb9,#2ec5a4,#02b7cb,#0ab4d2,#07b5cf,#0bb3d2,#1abfb5,#0cb3d2,#03bbc2,#24c1ae,#48cb86,#31c6a0,#2dc4a5,#3bc993,#01b9c6,#07b5d0,#06bcc0,#1aabdd,#1babde"></i><i style="left:383.5px;width:5.8px;--p:45%;--g:#36c898,#45cb88,#36c898,#14beb8,#02bac4,#01b8ca,#2dc4a6,#2ec5a3,#28c3aa,#08bcbe,#6ccd68,#53cc7d,#27c2ac,#38c896,#33c69d,#40ca8d,#65cd6e,#74cc62,#4ccb82,#39c895,#2fc5a2,#0dbdbc,#03bbc2,#47cb87,#31c6a0,#0bbdbc,#01b8ca,#249fe5,#16afd9,#20a5e3"></i><i style="left:386.1px;width:5.8px;--p:45%;--g:#06bcc0,#1aacdd,#2ec4a5,#23c1af,#02bbc3,#03b7cc,#02bac4,#05bbc1,#04b6cd,#07b5d0,#0bbdbc,#31c6a0,#04bbc2,#0dbdbc,#2ac3a9,#35c79a,#09bcbe,#06b5ce,#09b4d1,#09bcbe,#2dc4a6,#20c1b1,#01b9c8,#06b5ce,#11beba,#01b8c9,#10b2d5,#13b0d8,#1fa6e2,#20a4e3"></i><i style="left:388.7px;width:5.8px;--p:45%;--g:#04b6cd,#05bbc1,#01b8c9,#04bbc2,#0ebdbb,#01b9c6,#19bfb5,#17bfb6,#18bfb6,#02bac5,#01b9c7,#19bfb5,#02b7cb,#09bcbe,#2699e9,#2797eb,#23a0e5,#10b2d5,#14b0d8,#1fa5e2,#09b4d1,#18addb,#1ca9df,#1fa6e2,#20a4e3,#22a2e4,#1fa6e2,#1fa5e2,#3d70ff,#23a0e5"></i><i style="left:391.3px;width:5.8px;--p:45%;--g:#07b5d0,#1ea6e1,#09b4d1,#14b0d8,#01b9c7,#0fb2d4,#06bcc0,#17aeda,#0ab4d1,#02bbc3,#06b5ce,#23a1e4,#2896ec,#1ea7e1,#269ae8,#1babde,#1ca9e0,#1da8e0,#1ea7e1,#1baade,#0fb2d4,#06b5ce,#249ee6,#13b0d7,#1caadf,#01b8c8,#20a5e2,#2b90ef,#2e83f9,#2d8af5"></i><i style="left:393.9px;width:5.8px;--p:45%;--g:#09b4d1,#12b1d6,#17aeda,#15bfb8,#0abdbd,#01bac5,#02bac4,#05bbc1,#01b9c6,#0abdbd,#1fc0b2,#11beba,#07bcc0,#02b7cb,#08bcbe,#01bac5,#04bbc1,#07b5cf,#07bcbf,#09b4d1,#02bac5,#0eb2d4,#0db3d3,#24c1ae,#1abfb5,#02bac4,#01b9c7,#02b7cb,#1aabdd,#269ae8"></i><i style="left:396.5px;width:5.8px;--p:45%;--g:#1fa6e2,#01b8c8,#09b4d1,#0db3d3,#0eb3d4,#1da8e0,#18addb,#20a4e3,#0eb2d4,#02bac4,#05b6ce,#08bcbf,#1fc0b2,#0cb3d3,#13b1d7,#20a4e3,#1fa6e2,#06b5cf,#07b5cf,#249ee6,#1aacdd,#1aabdd,#2798ea,#1caadf,#1ea8e0,#269ae9,#2895ec,#2e87f7,#327cfc,#2e84f8"></i><i style="left:399.1px;width:5.8px;--p:45%;--g:#1ea7e1,#1fa6e2,#14b0d8,#07b5cf,#01b9c6,#03bbc3,#0fb2d5,#17aeda,#21a3e3,#05b6ce,#01b8c9,#03bbc2,#18addb,#18aedb,#1da9e0,#07bcc0,#1aabde,#1ea7e1,#1aabde,#1aabdd,#21a3e3,#1da8e0,#21a3e3,#2699e9,#1aacdd,#1aacdd,#249ee6,#1ea7e1,#2e87f7,#3080fb"></i><i style="left:401.7px;width:5.8px;--p:45%;--g:#18bfb6,#13beb9,#05bbc1,#26c2ad,#24c1ae,#1ec0b2,#21c1b0,#2dc4a5,#04bbc2,#01b8c9,#12b1d6,#01b9c7,#04b6cd,#06bcc0,#18addb,#1dc0b3,#02bac4,#10beba,#1babde,#06bcc0,#01b7ca,#14b0d8,#02bac4,#0abdbe,#04bbc1,#04b6cd,#06b5cf,#01b8ca,#06b5ce,#17aeda"></i><i style="left:404.3px;width:5.8px;--p:45%;--g:#0eb2d4,#0db3d3,#06b6ce,#01b8c9,#0fbebb,#1ec0b2,#19bfb5,#10beba,#07b5d0,#25c2ad,#17bfb6,#13b0d7,#03b7cc,#06b5cf,#06b5cf,#1aacdd,#0ab4d2,#0bb3d2,#06b5ce,#02b7cb,#15afd9,#08b4d0,#0db3d4,#0dbdbc,#2ac3a9,#05b6ce,#0ab4d1,#16afd9,#2798ea,#23a0e5"></i><i style="left:406.9px;width:5.8px;--p:45%;--g:#1da9e0,#03b7cc,#06bcc0,#1dc0b3,#12beb9,#0bbdbc,#04b6cc,#05b6ce,#01b9c8,#06bcc0,#04b6cd,#04b6cd,#08bcbf,#1fc0b2,#31c6a0,#25c2ad,#01b8ca,#17aeda,#09b4d1,#0cb3d3,#14b0d8,#11b1d6,#01bac5,#0fb2d4,#01b8c9,#01b8c9,#0ab4d2,#07b5d0,#21a3e3,#2c8ff1"></i><i style="left:409.5px;width:5.8px;--p:45%;--g:#0fb2d4,#01b8c8,#01b9c7,#0eb2d4,#01b9c7,#06b5cf,#06b5cf,#12b1d6,#16afd9,#01b9c7,#259de7,#21a3e3,#21a3e3,#1fa6e1,#21a3e3,#17aeda,#18addb,#259ce7,#2699e9,#22a2e4,#249ee6,#249de6,#269ae9,#23a1e4,#14b0d8,#1baade,#1da8e0,#21a3e4,#2d8bf4,#2f81fa"></i><i style="left:412.1px;width:5.8px;--p:45%;--g:#2699ea,#14b0d8,#16afda,#1aacdd,#249fe5,#1ca9df,#1baade,#01b8c8,#01b9c7,#07b5d0,#17aeda,#249de6,#1ca9df,#1ea7e1,#1fa6e2,#1da8e0,#0db3d3,#18addb,#1babde,#1fa6e2,#259ce7,#2798ea,#2699e9,#22a2e4,#1baade,#20a5e2,#2895ec,#2994ed,#249ee6,#2a93ed"></i><i style="left:414.7px;width:5.8px;--p:45%;--g:#19acdc,#1ea8e1,#06b6ce,#0cb3d3,#11b1d6,#12b1d7,#13b0d7,#0eb2d4,#05b6cd,#02bac5,#0fbebb,#19acdc,#0ab4d2,#1aabdd,#22a2e4,#1aacdd,#1baade,#1babde,#1da9e0,#2a93ed,#20a5e2,#249ee6,#20a5e3,#22a1e4,#1ea7e1,#0ab4d2,#20a4e3,#249fe5,#2a93ed,#2d89f5"></i><i style="left:417.3px;width:5.8px;--p:45%;--g:#13b0d7,#14b0d8,#01b8c9,#0cbdbc,#1babde,#07b5cf,#01b8c9,#1babde,#02b7cb,#0ab4d2,#13b1d7,#14b0d8,#12b1d7,#06b5cf,#17aedb,#21a3e3,#21a3e3,#20a5e2,#1ea7e1,#1ea7e1,#1ea7e1,#2a93ee,#1da9e0,#1aabde,#2797eb,#1ea7e1,#19addc,#1ea7e1,#2798ea,#2699e9"></i><i style="left:419.9px;width:5.8px;--p:45%;--g:#01b9c7,#1aacdd,#16afd9,#10b2d5,#05b6cd,#17aeda,#03b7cc,#0bb3d2,#0db3d3,#05b6cd,#12b1d6,#19acdc,#01b8ca,#11b1d6,#22a2e4,#249fe5,#1fa6e2,#249fe6,#259be8,#2699e9,#23a0e5,#22a1e4,#22a2e4,#20a5e2,#1babde,#23a0e5,#249ee6,#249ee6,#2895ec,#2d8cf3"></i><i style="left:422.5px;width:5.8px;--p:45%;--g:#18aedb,#04bbc1,#0fbeba,#08bcbf,#04b6cd,#01b8c9,#13b1d7,#03b7cc,#01b8c9,#08b4d0,#02bac4,#10b2d5,#0bb3d2,#02b7cb,#08b5d0,#07b5d0,#09b4d1,#10b2d5,#19addc,#14b0d8,#1baade,#1fa6e2,#1ca9df,#13b0d7,#20a4e3,#1babde,#249de6,#2995ec,#2797ea,#2699ea"></i><i style="left:425.1px;width:5.8px;--p:45%;--g:#01bac5,#0db3d4,#12b1d6,#02b7cb,#03bbc3,#07bcc0,#1bc0b4,#0eb2d4,#08bcbf,#0cbdbc,#0bbdbd,#06bcc0,#01b9c7,#0cb3d3,#1fa6e1,#22a2e4,#1da8e0,#259be8,#259ce7,#2798ea,#2c90f0,#2797eb,#249ee6,#2797ea,#21a3e3,#249fe5,#269ae8,#23a0e5,#2699e9,#23a1e4"></i><i style="left:427.7px;width:5.8px;--p:45%;--g:#01b8c8,#05bbc1,#13beb9,#05bbc1,#02b7cb,#28c2ab,#1dc0b3,#1dc0b3,#02bac3,#02bac4,#10beba,#02bac5,#01b8ca,#12b1d6,#18addb,#12b1d6,#07b5d0,#17aeda,#14b0d8,#1caadf,#1baade,#20a4e3,#0eb2d4,#19addc,#1da8e0,#17aedb,#17aeda,#1ea7e1,#259be8,#249de7"></i><i style="left:430.3px;width:5.8px;--p:45%;--g:#249de6,#20a4e3,#22a1e4,#1fa6e2,#0fb2d5,#17aedb,#19acdc,#1aacdd,#1fa6e2,#1caadf,#0ab4d1,#21a4e3,#1fa6e2,#21a4e3,#23a1e4,#259ce7,#2c90f0,#2b90ef,#1fa5e2,#21a4e3,#249ee6,#2a93ee,#2c8ff1,#2a93ed,#23a0e5,#2d8cf3,#2f82fa,#2d8bf4,#2c8ef2,#2d8df3"></i><i style="left:432.9px;width:5.8px;--p:45%;--g:#16afda,#15afd9,#1ea7e1,#04b6cc,#01b8c9,#14b0d8,#14b0d8,#13b0d7,#19acdc,#09b4d1,#17aeda,#12b1d6,#1babde,#1ea7e1,#1aacdd,#17aeda,#0bb3d2,#249ee6,#2797eb,#2a93ed,#2c8ff1,#2c90f0,#2896ec,#249fe6,#249fe6,#249fe5,#259ce7,#1ea7e1,#1caadf,#1da9e0"></i><i style="left:435.5px;width:5.8px;--p:45%;--g:#04b6cd,#0eb2d4,#09b4d1,#10b2d5,#13b0d7,#1ca9df,#19acdc,#15afd9,#01b8c9,#02b7cb,#03b7cb,#01b9c6,#01b8c9,#03b7cc,#02bbc3,#07b5d0,#1caadf,#23a0e5,#21a3e4,#249ee6,#2b91ef,#2798ea,#22a1e4,#1da8e0,#21a3e3,#1aacdd,#15afd9,#249fe6,#249de6,#269be8"></i><i style="left:438.1px;width:5.8px;--p:45%;--g:#1aabde,#06b5cf,#0db3d3,#14b0d8,#1aacdd,#18aedb,#20a4e3,#1da9e0,#0cb3d3,#12b1d6,#18aedb,#1babde,#259be7,#08b4d0,#1babde,#1aabdd,#2896eb,#2895ec,#259ce7,#269ae8,#2a92ee,#2995ec,#22a1e4,#2b91ef,#22a1e4,#22a2e4,#23a0e5,#259de7,#2b91ef,#2d8cf3"></i><i style="left:440.7px;width:5.8px;--p:45%;--g:#1babde,#1da8e0,#21a3e3,#1ea7e1,#1fa5e2,#2699e9,#249de7,#2994ed,#20a5e3,#22a1e4,#1fa6e2,#1ca9df,#20a4e3,#1ea7e1,#2994ed,#2d8df3,#2c8ef1,#2b92ee,#2896eb,#2d8df2,#2d88f6,#2f83f9,#2d8af5,#2c8ef2,#259ce7,#249ee6,#2d8bf4,#2d8df2,#2c8ff1,#2e85f8"></i><i style="left:443.3px;width:5.8px;--p:45%;--g:#18addb,#18aedb,#12b1d6,#08b4d0,#0ab4d2,#16aeda,#13b0d7,#22a2e4,#1ea8e1,#20a4e3,#22a1e4,#1baade,#1aacdd,#19addc,#1fa5e2,#1ea7e1,#20a4e3,#23a0e5,#2a93ed,#269ae9,#2c90f0,#2e86f7,#2c90f0,#2896ec,#2d8af4,#259ce7,#2d8bf4,#2c8ff0,#2699ea,#2a93ee"></i><i style="left:445.9px;width:5.8px;--p:45%;--g:#1fa6e2,#21a3e4,#21a3e3,#18addb,#10b2d5,#16aeda,#03b7cc,#0ab4d2,#14b0d8,#17aeda,#18addb,#15afd9,#1ca9df,#20a5e3,#1caadf,#259ce7,#1da8e0,#269be8,#22a2e4,#2d8cf3,#2e86f8,#2798ea,#2d88f6,#2699e9,#22a1e4,#259de7,#2e87f7,#2d8bf4,#2d8cf3,#2994ed"></i><i style="left:448.5px;width:5.8px;--p:45%;--g:#0db3d3,#1fa6e2,#1fa6e2,#1aacdd,#22a2e4,#23a0e5,#249de7,#2699e9,#259ce7,#22a1e4,#2699e9,#1ca9e0,#1ea8e1,#1aacdd,#22a2e4,#2698ea,#2a93ed,#2d89f5,#2d8bf4,#2d8df2,#2c8ff1,#2d8cf3,#2c8ef1,#2f81fa,#2d8bf3,#3080fa,#3678fe,#2d89f5,#307ffb,#3080fb"></i><i style="left:451.1px;width:5.8px;--p:45%;--g:#1ca9df,#1caadf,#1fa6e2,#23a0e5,#1fa5e2,#16afda,#0db3d3,#07bcc0,#12b1d7,#13b1d7,#1fa6e1,#1fa5e2,#23a0e5,#1fa6e1,#1fa6e2,#20a4e3,#2699e9,#23a0e5,#2a93ed,#2a92ee,#2c8ef1,#2b91ef,#2c8ef1,#2e85f8,#2c8ef2,#2e86f7,#2d8bf4,#2a92ee,#2d89f5,#2d8af5"></i><i style="left:453.7px;width:5.8px;--p:45%;--g:#09b4d1,#1da8e0,#19addc,#14b0d8,#19acdc,#0eb2d4,#04b6cd,#19addc,#14b0d8,#15afd9,#08b5d0,#0eb2d4,#07b5cf,#1aabdd,#17aeda,#11b1d6,#1baade,#20a4e3,#2895ec,#2796eb,#2d8bf4,#2f81fa,#2c8ff0,#20a4e3,#269ae8,#23a1e4,#269ae8,#2c8ff1,#2699e9,#2c8ef2"></i><i style="left:456.3px;width:5.8px;--p:45%;--g:#20a4e3,#14b0d8,#15afd9,#14b0d8,#06b5cf,#16afd9,#0cb3d3,#15afd9,#13b0d7,#15afd9,#1da9e0,#1aabdd,#0fb2d5,#06b5cf,#15afd9,#20a5e3,#1fa6e2,#2c8ef2,#2d8df2,#2d8bf3,#2b92ee,#2995ec,#21a2e4,#23a1e4,#2797eb,#2c8ff1,#2896ec,#2c8ef1,#2b92ee,#2797eb"></i><i style="left:458.9px;width:5.8px;--p:45%;--g:#15afd9,#01b8c8,#1baade,#1ea7e1,#17aeda,#1da8e0,#1aabdd,#17aeda,#19addc,#20a5e2,#1caadf,#1aacdd,#1da8e0,#20a5e3,#22a1e4,#259ce7,#259be8,#2b91ef,#2d8df2,#2b92ef,#2d8af4,#2e84f9,#2d8df2,#2c90f0,#2d8df2,#259ce7,#2797eb,#2b91ef,#2896ec,#2d89f5"></i><i style="left:461.5px;width:5.8px;--p:45%;--g:#239fe5,#249ee6,#20a5e2,#22a1e4,#1ca9e0,#1fa5e2,#22a2e4,#249ee6,#23a0e5,#1fa6e1,#2b91ef,#2699e9,#2b91ef,#2699ea,#259be8,#2a92ee,#2d8cf3,#2d8af4,#2a93ee,#2e84f9,#2d88f6,#2895ec,#2c8ef2,#2e83f9,#2f81fa,#2f82fa,#2e86f7,#327dfc,#3579fd,#2f81fa"></i><i style="left:464.1px;width:5.8px;--p:45%;--g:#09b4d1,#12b1d6,#0db3d3,#18aedb,#11b1d6,#0cb3d3,#14b0d8,#13b1d7,#1ea8e1,#14b0d8,#14b0d8,#12b1d7,#1fa6e2,#259ce7,#23a0e5,#18aedb,#249fe5,#2798ea,#269ae8,#2993ed,#2d88f6,#269ae9,#2c8ff1,#2895ec,#2797eb,#2a93ee,#23a0e5,#269ae8,#2b91ef,#249ee6"></i><i style="left:466.7px;width:5.8px;--p:45%;--g:#17aeda,#14b0d8,#12b1d7,#1fa5e2,#22a2e4,#1aabdd,#1aabdd,#1aacdd,#19acdc,#1caadf,#1baade,#1fa6e1,#1da8e0,#249fe6,#2797eb,#2d8df2,#2c8ff0,#2b91ef,#2a92ee,#2798ea,#2d89f5,#2d8bf4,#2e87f7,#2a93ee,#259be8,#2994ec,#2c8ff1,#2d89f5,#2c8ef2,#2f82fa"></i><i style="left:469.3px;width:5.8px;--p:45%;--g:#19addc,#1da9e0,#1da8e0,#16afd9,#23a1e5,#21a3e3,#1caadf,#20a4e3,#249fe5,#259de7,#249fe6,#21a3e3,#249de6,#2d8df2,#2c90f0,#2896eb,#2d88f6,#2d88f6,#2d8af4,#317dfc,#337afd,#307ffb,#337bfc,#337bfc,#2f80fa,#2b91ef,#2f80fa,#2c90f0,#2d8df3,#2f81fa"></i><i style="left:471.9px;width:5.8px;--p:45%;--g:#1babde,#1babde,#21a4e3,#1ca9df,#239fe5,#249fe6,#1da8e0,#1fa6e2,#15afd9,#18aedb,#1ea8e1,#259ce7,#249ee6,#21a3e3,#21a3e3,#2797eb,#2d8cf3,#2994ed,#2b91ef,#2e87f7,#3678fe,#2e86f7,#2d89f5,#2d8af4,#2d89f5,#2d88f6,#2f81fa,#2d89f5,#2c8ff0,#2c8ff0"></i><i style="left:474.5px;width:5.8px;--p:45%;--g:#1ea7e1,#20a4e3,#1ea7e1,#1fa6e2,#1da9e0,#2798ea,#259ce7,#0fb2d4,#12b1d6,#1ea7e1,#259de7,#20a4e3,#1fa6e2,#2797eb,#2994ed,#2896eb,#2994ed,#259be7,#2c8ef1,#2d8bf3,#2d88f6,#2b91ef,#2896eb,#2797eb,#2a92ee,#2b92ee,#2e83f9,#317efb,#327cfc,#3876fe"></i><i style="left:477.1px;width:5.8px;--p:45%;--g:#23a0e5,#239fe5,#269ae9,#2798ea,#21a3e4,#1da9e0,#14b0d8,#21a3e3,#20a5e3,#1da8e0,#1da9e0,#21a3e4,#20a4e3,#249fe5,#21a3e4,#1babde,#22a2e4,#2a93ed,#337bfc,#3777fe,#2e83f9,#2d8af5,#2f82f9,#2895ec,#2699e9,#2e86f7,#2d8af5,#2e85f8,#317dfc,#2f82fa"></i><i style="left:479.7px;width:5.8px;--p:45%;--g:#18addb,#19addc,#12b1d6,#16aeda,#15afd9,#1ca9df,#1aabdd,#12b1d6,#1aacdd,#0fb2d5,#15afd8,#10b2d5,#1fa6e2,#21a3e3,#269ae9,#2797ea,#249de7,#2b91ef,#2d8df3,#2d8bf4,#2797eb,#2e86f7,#2b91ef,#259be8,#2896eb,#2995ec,#259ce7,#2c8ff0,#2895ec,#2d8cf3"></i><i style="left:482.3px;width:5.8px;--p:45%;--g:#1ea7e1,#1da8e0,#1aacdd,#1babde,#1da8e0,#20a4e3,#19addc,#1ea7e1,#1da9e0,#2994ed,#249fe6,#2797eb,#249fe6,#22a2e4,#2b91ef,#2d8cf3,#2b91ef,#2d8bf4,#3579fd,#2e86f7,#2e84f8,#2f82fa,#2e87f7,#2895ec,#259ce7,#2993ed,#317efb,#3080fa,#2d8cf3,#3777fe"></i><i style="left:484.9px;width:5.8px;--p:45%;--g:#2797eb,#2995ec,#2797ea,#2698ea,#249de7,#23a0e5,#2895ec,#269ae9,#259ce7,#2798ea,#2895ec,#2798ea,#2699e9,#2a93ee,#2b91ef,#2e83f9,#2c8ef2,#2d8cf3,#3876fe,#327cfc,#3c72ff,#4269fe,#2f82fa,#337afd,#2e87f7,#2c90f0,#2d8af5,#2d8df2,#2e86f7,#3975fe"></i><i style="left:487.5px;width:5.8px;--p:45%;--g:#2798ea,#2699e9,#269ae8,#23a0e5,#2994ed,#2a93ed,#2b91ef,#259de7,#2896ec,#2798ea,#249de6,#2896ec,#2b91ef,#23a1e4,#2a92ee,#2a93ee,#2e85f8,#2d89f5,#2f81fa,#2d89f5,#2d8cf3,#327bfc,#2895ec,#2d8df3,#2d8cf3,#2e84f8,#3080fa,#3776fe,#3974fe,#3876fe"></i><i style="left:490.1px;width:5.8px;--p:45%;--g:#249ee6,#2994ed,#249ee6,#269ae8,#23a0e5,#2699e9,#20a4e3,#20a4e3,#23a0e5,#249de6,#2797eb,#2b91ef,#2699ea,#2d89f6,#2d88f6,#307efb,#2f82fa,#317efb,#2e83f9,#2f82fa,#317dfc,#317efb,#2f81fa,#2d8df2,#2e84f9,#307ffb,#347afd,#2f80fa,#317dfc,#3b72ff"></i><i style="left:492.7px;width:5.8px;--p:45%;--g:#2d8cf3,#2995ec,#249fe5,#23a0e5,#21a3e4,#1da8e0,#259de7,#2797eb,#269ae9,#269be8,#2a93ed,#2798ea,#2896ec,#2896ec,#2895ec,#2e83f9,#2d8bf4,#307ffb,#2f81fa,#317dfc,#3579fd,#2f81fa,#2e83f9,#327bfc,#2d8cf3,#2e86f7,#2f82f9,#3e6fff,#347afd,#2e84f8"></i><i style="left:495.3px;width:5.8px;--p:45%;--g:#23a0e5,#21a3e3,#2b91ef,#21a3e4,#23a0e5,#2699e9,#21a2e4,#1fa6e1,#1fa6e2,#20a5e3,#1ea7e1,#18addb,#1fa5e2,#259de7,#2896ec,#2c8ef1,#2c90f0,#2e87f7,#2f80fa,#317efb,#2e86f7,#2e86f7,#2e86f7,#2d88f6,#2b91ef,#2d8bf3,#347afd,#347afd,#2e84f9,#2e84f9"></i><i style="left:497.9px;width:5.8px;--p:45%;--g:#259be8,#2995ec,#249ee6,#22a1e4,#239fe5,#1babde,#1ea7e1,#249fe5,#269be8,#2798ea,#249fe5,#2a93ee,#2d88f6,#2d8cf3,#2f81fa,#327cfc,#2e84f8,#3a74fe,#3c72ff,#3876fe,#317dfc,#307ffb,#347afd,#3479fd,#337bfc,#2d8af4,#2f80fa,#2f82fa,#317efb,#3677fe"></i><i style="left:500.5px;width:5.8px;--p:45%;--g:#20a4e3,#249fe6,#1aabdd,#21a3e3,#1fa5e2,#259ce7,#23a1e4,#20a4e3,#20a5e2,#249ee6,#20a5e3,#22a1e4,#269ae9,#2d8df2,#2796eb,#2d8bf3,#2c8ef1,#2e87f7,#2d89f5,#2d8af5,#2f80fa,#2e83f9,#2d8bf3,#2b92ee,#2a93ee,#2d8df2,#2e86f7,#2f81fa,#2f81fa,#307efb"></i><i style="left:503.1px;width:5.8px;--p:45%;--g:#249ee6,#21a2e4,#239fe5,#21a3e3,#249ee6,#20a4e3,#16aeda,#249de6,#249de6,#259ce7,#239fe5,#21a3e3,#1aabdd,#2896ec,#2994ed,#2d8bf4,#2d8bf4,#2d8af4,#2d8cf3,#3479fd,#3974fe,#3a74fe,#317dfb,#2d87f7,#2f82fa,#2f82fa,#2f82f9,#317dfc,#317dfc,#347afd"></i><i style="left:505.7px;width:5.8px;--p:45%;--g:#2895ec,#2b91ef,#2d8cf3,#2a93ed,#2c8ef1,#2896ec,#2994ed,#2a93ee,#23a0e5,#1ea7e1,#21a3e4,#22a1e4,#249fe5,#2798ea,#2d8bf4,#2d8af4,#327cfc,#2e83f9,#2e86f8,#2f81fa,#337bfd,#3a73fe,#2d88f6,#2c8ff0,#2b91ef,#2699e9,#2895ec,#2d8df2,#317efb,#307ffb"></i><i style="left:508.3px;width:5.8px;--p:45%;--g:#20a4e3,#259ce7,#23a0e5,#1fa6e2,#23a0e5,#23a1e4,#1fa5e2,#1da8e0,#1ea7e1,#1fa6e2,#259ce7,#23a1e4,#259ce7,#2797eb,#2a93ee,#2c8ef2,#2e86f7,#2b90ef,#2e87f7,#2f81fa,#2e86f8,#2b91ef,#2d8af4,#2d8af5,#2d87f6,#2d8df2,#2d8bf4,#347afd,#337bfc,#2e84f8"></i><i style="left:510.9px;width:5.8px;--p:45%;--g:#22a2e4,#21a3e3,#1da8e0,#1ca9df,#1baade,#1fa6e2,#259be8,#259ce7,#23a1e5,#20a5e3,#22a1e4,#1fa6e2,#1da8e0,#259de7,#2699e9,#2d8df2,#2797eb,#259ce7,#2b91ef,#2699e9,#2f82f9,#2f80fa,#317efb,#2d8df2,#2b92ee,#2c8ff0,#2e87f7,#2e85f8,#2e85f8,#3d70ff"></i><i style="left:513.5px;width:5.8px;--p:45%;--g:#2a93ee,#23a0e5,#23a1e4,#23a1e5,#20a4e3,#1fa5e2,#259de7,#269be8,#259ce7,#259be8,#2699e9,#249fe6,#269be8,#2895ec,#2d8af4,#2d8af5,#307ffb,#307ffb,#2e84f9,#2e85f8,#2f80fa,#317dfc,#317efb,#2f81fa,#2d89f5,#2e86f7,#2f82f9,#347afd,#3e6fff,#3479fd"></i><i style="left:516.1px;width:5.8px;--p:45%;--g:#18aedb,#19addc,#21a3e3,#2a93ee,#2b91ef,#269ae8,#1ea7e1,#249ee6,#249ee6,#259be8,#2699ea,#20a4e3,#259de7,#259de7,#249fe5,#259ce7,#2d8bf4,#2e84f8,#2c8ff1,#2c8ff1,#2d8bf4,#3080fb,#2995ec,#2994ed,#2896eb,#2d8df3,#259ce7,#2995ec,#307efb,#3c71ff"></i><i style="left:518.7px;width:5.8px;--p:45%;--g:#259be7,#22a1e4,#20a5e2,#1fa6e2,#18aedb,#19acdc,#22a1e4,#2797eb,#2896ec,#259de7,#259de7,#1ea7e1,#22a2e4,#2798ea,#2699ea,#2c8ff0,#2895ec,#2e86f7,#2e84f8,#2f81fa,#337bfd,#2d8af5,#307ffb,#317dfc,#2d88f6,#2e85f8,#2e83f9,#2e84f9,#2d8af5,#2e86f7"></i><i style="left:521.3px;width:5.8px;--p:45%;--g:#2699ea,#21a4e3,#2798ea,#2798ea,#22a2e4,#269ae9,#259be8,#269ae8,#259ce7,#2699e9,#2896eb,#239fe5,#269ae8,#2995ec,#2896eb,#2b91ef,#2d88f6,#2b91ef,#2994ed,#2a93ee,#327cfc,#2b91ef,#2e83f9,#2d8cf3,#2994ed,#259be8,#2b92ef,#2c90f0,#2e87f7,#2e86f7"></i><i style="left:523.9px;width:5.8px;--p:45%;--g:#2797eb,#2699e9,#1ea7e1,#259ce7,#269ae8,#2798ea,#21a3e3,#1da8e0,#22a1e4,#1fa6e2,#2699e9,#249de7,#2895ec,#2b92ef,#2b91ef,#2d88f6,#2f81fa,#2b91ef,#2c8ff1,#317dfc,#2f81fa,#317dfc,#3776fe,#317efb,#2e83f9,#2e85f8,#2d8af5,#2e84f8,#337bfc,#3777fe"></i><i style="left:526.5px;width:5.8px;--p:45%;--g:#259be8,#2b92ee,#249ee6,#249de7,#21a3e4,#249de6,#20a4e3,#2699ea,#2c8ef1,#2d88f6,#2d88f6,#2b92ee,#23a0e5,#2c8ef1,#269be8,#2d88f6,#327cfc,#337bfc,#3678fd,#2d88f6,#307efb,#327cfc,#2e87f7,#307ffb,#317dfc,#337afd,#2d8af5,#2d89f5,#2e84f9,#2d89f5"></i><i style="left:529.1px;width:5.8px;--p:45%;--g:#23a1e5,#21a3e4,#259ce7,#2797eb,#2994ed,#2895ec,#2699e9,#2896eb,#249fe5,#2797eb,#2d88f6,#2b90f0,#2e87f7,#317efb,#2d89f5,#2c90f0,#2e84f9,#317efb,#3a74fe,#3f6dfe,#3777fe,#347afd,#3975fe,#2f82fa,#2d89f5,#2d89f5,#2e84f8,#3a74fe,#3f6efe,#4269fe"></i><i style="left:531.7px;width:5.8px;--p:45%;--g:#2797ea,#2b90ef,#2895ec,#2895ec,#2b91ef,#2c90f0,#249de6,#239fe5,#2797eb,#2895ec,#259ce7,#2797eb,#2994ed,#2d8af5,#2e85f8,#3479fd,#317dfc,#2f80fa,#317dfc,#2e83f9,#2e85f8,#317efb,#3080fa,#2d8cf3,#2f83f9,#2d8af4,#2e84f8,#3080fa,#2d88f6,#3b73fe"></i><i style="left:534.3px;width:5.8px;--p:45%;--g:#2d89f5,#2d89f5,#2d8af5,#2c8ef2,#2a93ed,#259be7,#2798ea,#2798ea,#2c8ef2,#2b91ef,#259be8,#259ce7,#2895ec,#2d8af4,#259be8,#2c8ff1,#2d8cf3,#2c8ff1,#2c8ff1,#307ffb,#347afd,#317dfc,#3876fe,#3777fe,#327cfc,#2d8bf4,#2e83f9,#327cfc,#2e87f7,#307ffb"></i><i style="left:536.9px;width:5.8px;--p:45%;--g:#2798ea,#2a93ed,#1fa6e2,#259ce7,#259be7,#1ca9df,#2b91ef,#2b90ef,#2994ed,#2b90ef,#2699e9,#2798ea,#2994ed,#2b91ef,#2d8cf3,#2b90f0,#2d8df2,#2d8af5,#3080fb,#317dfc,#347afd,#2d89f5,#2d89f5,#2994ed,#269ae9,#2994ed,#2e87f7,#2d8af4,#3974fe,#416cfe"></i><i style="left:539.5px;width:5.8px;--p:45%;--g:#2797ea,#269ae8,#2c90f0,#2b91ef,#2a93ee,#269ae9,#2a92ee,#269ae8,#2699e9,#249fe5,#2b92ee,#22a1e4,#249ee6,#2d8af4,#2d8bf4,#317efb,#3579fd,#2c8ef1,#2c8ef2,#327cfc,#337bfc,#337afd,#337afd,#2e85f8,#2d8af5,#2f81fa,#2f81fa,#2e83f9,#2e84f9,#2e85f8"></i><i style="left:542.1px;width:5.8px;--p:45%;--g:#21a3e3,#20a5e2,#269ae9,#269ae9,#2699e9,#23a1e5,#2699e9,#2896eb,#2796eb,#2798ea,#2699e9,#259ce7,#2896ec,#2699e9,#2b91ef,#2b91ef,#2c8ff0,#2e85f8,#2d8bf4,#2e83f9,#2e84f8,#2d89f5,#2c8ff1,#2c8ef1,#2a93ed,#2a93ed,#2d88f6,#2d8bf4,#2e86f7,#2e84f8"></i><i style="left:544.7px;width:5.8px;--p:45%;--g:#2b91ef,#2699e9,#259be8,#2797eb,#2994ed,#23a0e5,#259de7,#2895ec,#2797ea,#259be8,#2797eb,#2d8cf3,#2b90ef,#2c8ef2,#2a93ee,#2d8af4,#3080fb,#2b91ef,#2e85f8,#2e84f8,#2f81fa,#2f81fa,#3b73fe,#3776fe,#3876fe,#317efb,#307ffb,#307ffb,#2e86f7,#337bfd"></i><i style="left:547.3px;width:5.8px;--p:45%;--g:#2c90f0,#2c8ef1,#2797eb,#2797eb,#259ce7,#2699e9,#269ae8,#2d8df2,#2d8af5,#2c8ef2,#2a93ed,#2e86f7,#2798ea,#2c8ff0,#2d8af5,#307ffb,#307ffb,#3678fd,#307ffb,#3678fd,#3678fe,#3974fe,#2e83f9,#2e85f8,#2d89f5,#2f81fa,#2d8bf4,#307ffb,#3c72ff,#317dfc"></i><i style="left:549.9px;width:5.8px;--p:45%;--g:#23a0e5,#2798ea,#2699e9,#2994ed,#2994ed,#2798ea,#249ee6,#249de6,#2699e9,#2b92ee,#2a93ed,#2b91ef,#2797eb,#2c90f0,#2b91ef,#2e84f8,#327cfc,#317dfc,#2e83f9,#317dfb,#3578fd,#3776fe,#2e87f7,#2e86f7,#2c8ff1,#2d8bf4,#2b90ef,#2e86f8,#3080fb,#3f6efe"></i><i style="left:552.5px;width:5.8px;--p:45%;--g:#1da8e0,#2699e9,#259be8,#249ee6,#2797ea,#259ce7,#2798ea,#2896eb,#249ee6,#259be8,#249ee6,#2797eb,#269ae8,#2c8ff1,#2b90f0,#2798ea,#2d8af5,#2994ed,#2994ed,#2d8cf3,#2c8ff1,#2c8ff0,#2f81fa,#2e86f8,#2e85f8,#2e85f8,#307ffb,#307ffb,#2f81fa,#347afd"></i><i style="left:555.1px;width:5.8px;--p:45%;--g:#249fe5,#2995ec,#2d8df2,#2797ea,#2699e9,#23a0e5,#1fa6e2,#249ee6,#269ae8,#2b91ef,#2c8ff1,#2b90f0,#2e84f8,#2d8bf4,#2c8ff0,#2b92ee,#2d88f6,#317efb,#2e86f7,#317efb,#317dfc,#307efb,#2f81fa,#327cfc,#2e87f7,#2b91ef,#2d8cf3,#2d87f6,#327bfc,#327cfc"></i><i style="left:557.7px;width:4.5px;--p:58%;--g:#2994ed,#2699ea,#2798ea,#2995ec,#2c8ef1,#2d8af5,#2b92ef,#2895ec,#2d8cf3,#2a92ee,#2796eb,#2d8cf3,#2d8af4,#2d88f6,#2e84f8,#2d89f5,#2d8cf3,#2d88f6,#3a74fe,#3678fe,#3875fe,#406dfe,#416cfe,#3b72fe,#337bfd,#2f82f9,#3678fd,#3a73fe,#3579fd,#337bfc"></i><svg width="155" height="480" style="position:absolute;left:407px;top:0;-webkit-mask-image:linear-gradient(to right,transparent,#000 45%);mask-image:linear-gradient(to right,transparent,#000 45%)"><filter id="nz2" x="0" y="0" width="100%" height="100%" color-interpolation-filters="sRGB"><feTurbulence type="fractalNoise" baseFrequency="0.4 0.16" numOctaves="2" seed="8"/><feColorMatrix type="matrix" values="0 0 0 0 0.26  0 0 0 0 0.25  0 0 0 0 0.85  1.92 0 0 0 -1.03"/></filter><rect width="100%" height="100%" filter="url(#nz2)"/></svg></div>
<div class="hm" style="left:852.6px;top:1344.8px;width:555.2px;height:480.1px"><i style="left:0.0px;width:5.1px;--p:0%;--g:#3e26a8 0%,#3e26a8 96.8%,#4230c3 97.9%,#4848ec 98.7%,#465ffb 99.5%,#4368fd 100%"></i><i style="left:0.5px;width:8.6px;--p:47%;--g:#3e26a8 0%,#3e26a8 94%,#4029b3 95.7%,#4537d6 96.8%,#4741e5 97.9%,#4852f4 98.7%,#465ffb 99.5%,#4368fe 100%"></i><i style="left:4.5px;width:8.6px;--p:47%;--g:#3e26a8 0%,#3e26a8 95.7%,#4331c7 96.8%,#4746ea 97.9%,#484df0 98.7%,#465ffb 99.5%,#4368fe 100%"></i><i style="left:8.5px;width:8.6px;--p:47%;--g:#3e26a8 0%,#3e26a8 96.8%,#4849ed 97.9%,#4849ed 98.7%,#4660fb 99.5%,#4368fe 100%"></i><i style="left:12.5px;width:8.6px;--p:47%;--g:#3e26a8 0%,#3e26a8 95.7%,#422ec0 96.8%,#4849ed 97.9%,#4758f8 98.7%,#4660fb 99.5%,#4368fe 100%"></i><i style="left:16.5px;width:8.6px;--p:47%;--g:#3e26a8 0%,#3e26a8 96.8%,#402bb7 97.9%,#4849ed 98.7%,#4660fb 99.5%,#4368fe 100%"></i><i style="left:20.5px;width:8.6px;--p:47%;--g:#3e26a8 0%,#3e26a8 96.8%,#412cba 97.9%,#4849ed 98.7%,#4660fc 99.5%,#4369fe 100%"></i><i style="left:24.5px;width:8.6px;--p:47%;--g:#3e26a8 0%,#3e26a8 95.7%,#3f28af 96.8%,#4849ed 97.9%,#484aed 98.7%,#4660fc 99.5%,#4369fe 100%"></i><i style="left:28.5px;width:8.6px;--p:47%;--g:#3e26a8 0%,#3e26a8 96.8%,#4849ed 97.9%,#484aee 98.7%,#4661fc 99.5%,#4269fe 100%"></i><i style="left:32.5px;width:8.6px;--p:47%;--g:#3e26a8 0%,#3e26a8 96.8%,#3f29b2 97.9%,#484aee 98.7%,#4661fc 99.5%,#4269fe 100%"></i><i style="left:36.5px;width:8.6px;--p:47%;--g:#3e26a8 0%,#3e26a8 95.7%,#402ab3 96.8%,#4747eb 97.9%,#4756f6 98.7%,#4561fc 99.5%,#4269fe 100%"></i><i style="left:40.5px;width:8.6px;--p:47%;--g:#3e26a8 0%,#3e26a8 95.7%,#4230c4 96.8%,#484aee 97.9%,#484ff2 98.7%,#4561fc 99.5%,#4269fe 100%"></i><i style="left:44.5px;width:8.6px;--p:47%;--g:#3e26a8 0%,#3e26a8 95.7%,#4330c5 96.8%,#484bee 97.9%,#4756f6 98.7%,#4561fc 99.5%,#426afe 100%"></i><i style="left:48.5px;width:8.6px;--p:47%;--g:#3e26a8 0%,#3e26a8 95.7%,#4230c4 96.8%,#484aee 97.9%,#475bfa 98.7%,#4561fc 99.5%,#426afe 100%"></i><i style="left:52.5px;width:8.6px;--p:47%;--g:#3e26a8 0%,#3e26a8 94%,#3e27a9 95.7%,#463adb 96.8%,#4746ea 97.9%,#4755f6 98.7%,#4562fc 99.5%,#426afe 100%"></i><i style="left:56.5px;width:8.6px;--p:47%;--g:#3e26a8 0%,#3e26a8 95.7%,#3f28ad 96.8%,#484bef 97.9%,#484bef 98.7%,#4562fc 99.5%,#426afe 100%"></i><i style="left:60.5px;width:8.6px;--p:47%;--g:#3e26a8 0%,#3e26a8 97.9%,#4332ca 98.7%,#4562fc 99.5%,#426afe 100%"></i><i style="left:64.5px;width:8.6px;--p:47%;--g:#3e26a8 0%,#3e26a8 95.7%,#412cb8 96.8%,#484cef 97.9%,#475bf9 98.7%,#4562fc 99.5%,#426afe 100%"></i><i style="left:68.5px;width:8.6px;--p:47%;--g:#3e26a8 0%,#3e26a8 95.7%,#402ab5 96.8%,#484cef 97.9%,#4368fd 98.7%,#4562fc 99.5%,#416afe 100%"></i><i style="left:72.5px;width:8.6px;--p:47%;--g:#3e26a8 0%,#3e26a8 95.7%,#402ab3 96.8%,#4849ed 97.9%,#4854f5 98.7%,#4563fc 99.5%,#416bfe 100%"></i><i style="left:76.5px;width:8.6px;--p:47%;--g:#3e26a8 0%,#3e26a8 95.7%,#463adb 96.8%,#484cf0 97.9%,#4759f8 98.7%,#4563fc 99.5%,#416bfe 100%"></i><i style="left:80.5px;width:8.6px;--p:47%;--g:#3e26a8 0%,#3e26a8 96.8%,#3f29b1 97.9%,#484cf0 98.7%,#4563fd 99.5%,#416bfe 100%"></i><i style="left:84.5px;width:8.6px;--p:47%;--g:#3e26a8 0%,#3e26a8 97.9%,#4332cb 98.7%,#4563fd 99.5%,#416bfe 100%"></i><i style="left:88.5px;width:8.6px;--p:47%;--g:#3e26a8 0%,#3e26a8 97.9%,#422fc2 98.7%,#4563fd 99.5%,#416bfe 100%"></i><i style="left:92.5px;width:8.6px;--p:47%;--g:#3e26a8 0%,#3e26a8 97.9%,#4230c3 98.7%,#4564fd 99.5%,#416bfe 100%"></i><i style="left:96.5px;width:8.6px;--p:47%;--g:#3e26a8 0%,#3e26a8 95.7%,#463ada 96.8%,#484aed 97.9%,#4852f4 98.7%,#4564fd 99.5%,#416cfe 100%"></i><i style="left:100.5px;width:8.6px;--p:47%;--g:#3e26a8 0%,#3e26a8 94%,#402bb6 95.7%,#463cde 96.8%,#484df0 97.9%,#4757f7 98.7%,#4564fd 99.5%,#416cfe 100%"></i><i style="left:104.5px;width:8.6px;--p:47%;--g:#3e26a8 0%,#3e26a8 96.8%,#3e27a9 97.9%,#484ef1 98.7%,#4464fd 99.5%,#406cfe 100%"></i><i style="left:108.5px;width:8.6px;--p:47%;--g:#3e26a8 0%,#3e26a8 96.8%,#484df0 97.9%,#484ef1 98.7%,#4464fd 99.5%,#406cfe 100%"></i><i style="left:112.5px;width:8.6px;--p:47%;--g:#3e26a8 0%,#3e26a8 96.8%,#484df1 97.9%,#484ef1 98.7%,#4465fd 99.5%,#406cfe 100%"></i><i style="left:116.5px;width:8.6px;--p:47%;--g:#3e26a8 0%,#3e26a8 96.8%,#484ef1 97.9%,#484ef1 98.7%,#4465fd 99.5%,#406cfe 100%"></i><i style="left:120.5px;width:8.6px;--p:47%;--g:#3e26a8 0%,#3e26a8 95.7%,#402bb7 96.8%,#484ef1 97.9%,#4757f7 98.7%,#4465fd 99.5%,#406dfe 100%"></i><i style="left:124.5px;width:8.6px;--p:47%;--g:#3e26a8 0%,#3e26a8 96.8%,#484df1 97.9%,#484ef1 98.7%,#4465fd 99.5%,#406dfe 100%"></i><i style="left:128.5px;width:8.6px;--p:47%;--g:#3e26a8 0%,#3e26a8 95.7%,#3f28af 96.8%,#484bef 97.9%,#484ff2 98.7%,#4465fd 99.5%,#406dfe 100%"></i><i style="left:132.5px;width:8.6px;--p:47%;--g:#3e26a8 0%,#3e26a8 95.7%,#3e27ab 96.8%,#484ff2 97.9%,#484ff2 98.7%,#4465fd 99.5%,#406dfe 100%"></i><i style="left:136.5px;width:8.6px;--p:47%;--g:#3e26a8 0%,#3e26a8 96.8%,#412dbc 97.9%,#484ff2 98.7%,#4466fd 99.5%,#406dfe 100%"></i><i style="left:140.5px;width:8.6px;--p:47%;--g:#3e26a8 0%,#3e26a8 97.9%,#4331c7 98.7%,#4466fd 99.5%,#3f6dfe 100%"></i><i style="left:144.5px;width:8.6px;--p:47%;--g:#3e26a8 0%,#3e26a8 97.9%,#4332c9 98.7%,#4466fd 99.5%,#3f6dfe 100%"></i><i style="left:148.5px;width:8.6px;--p:47%;--g:#3e26a8 0%,#3e26a8 94%,#3f28af 95.7%,#4740e4 96.8%,#4849ed 97.9%,#4758f8 98.7%,#4466fd 99.5%,#3f6efe 100%"></i><i style="left:152.5px;width:8.6px;--p:47%;--g:#3e26a8 0%,#3e26a8 94%,#402bb6 95.7%,#463bde 96.8%,#4850f2 97.9%,#4464fd 98.7%,#4366fd 99.5%,#3f6efe 100%"></i><i style="left:156.5px;width:8.6px;--p:47%;--g:#3e26a8 0%,#3e26a8 95.7%,#412cba 96.8%,#4850f3 97.9%,#4758f8 98.7%,#4367fd 99.5%,#3f6eff 100%"></i><i style="left:160.5px;width:8.6px;--p:47%;--g:#3e26a8 0%,#3e26a8 96.8%,#422fc3 97.9%,#4850f3 98.7%,#4367fd 99.5%,#3f6eff 100%"></i><i style="left:164.5px;width:8.6px;--p:47%;--g:#3e26a8 0%,#3e26a8 96.8%,#3f29b2 97.9%,#4850f3 98.7%,#4367fd 99.5%,#3f6eff 100%"></i><i style="left:168.5px;width:8.6px;--p:47%;--g:#3e26a8 0%,#3e26a8 96.8%,#412dbc 97.9%,#4851f3 98.7%,#4368fe 99.5%,#3e70ff 100%"></i><i style="left:172.5px;width:8.6px;--p:47%;--g:#3e26a8 0%,#3e26a8 95.7%,#412ebe 96.8%,#4851f3 97.9%,#4562fc 98.7%,#4269fe 99.5%,#3c71ff 100%"></i><i style="left:176.5px;width:8.6px;--p:47%;--g:#3e26a8 0%,#3e26a8 95.7%,#463ee0 96.8%,#484ef1 97.9%,#475bfa 98.7%,#416afe 99.5%,#3b73fe 100%"></i><i style="left:180.5px;width:8.6px;--p:47%;--g:#3e26a8 0%,#3e26a8 95.7%,#4743e7 96.8%,#4852f4 97.9%,#416bfe 98.7%,#416cfe 99.5%,#3975fe 100%"></i><i style="left:184.5px;width:8.6px;--p:47%;--g:#3e26a8 0%,#3e26a8 86.4%,#3e27aa 89.3%,#3e27aa 96.8%,#4853f4 97.9%,#4853f4 98.7%,#406dfe 99.5%,#3777fe 100%"></i><i style="left:188.5px;width:8.6px;--p:47%;--g:#3e26a8 0%,#3e26a8 86.4%,#3f28ad 89.3%,#3f28ae 91.9%,#3f28ae 96.8%,#4434d0 97.9%,#4853f5 98.7%,#3f6eff 99.5%,#3578fd 100%"></i><i style="left:192.5px;width:8.6px;--p:47%;--g:#3e26a8 0%,#3e26a8 86.4%,#3f29b1 89.3%,#3f29b1 94%,#402ab3 95.7%,#4747eb 96.8%,#4854f5 97.9%,#465dfb 98.7%,#3d70ff 99.5%,#347afd 100%"></i><i style="left:196.5px;width:8.6px;--p:47%;--g:#3e26a8 0%,#3e26a8 74.4%,#3f28ad 78.7%,#3f29b0 83%,#402ab3 86.4%,#412dbc 89.3%,#412dbc 96.8%,#4434cf 97.9%,#4756f7 98.7%,#3b72ff 99.5%,#327cfc 100%"></i><i style="left:200.5px;width:8.6px;--p:47%;--g:#3e26a8 0%,#3e26a8 57.4%,#3e27ab 60.8%,#3f28ad 64.2%,#3f29b1 70.2%,#402ab5 74.4%,#412cbb 78.7%,#422fc1 83%,#4331c6 86.4%,#4535d2 89.3%,#4331c8 91.9%,#4331c8 96.8%,#4758f8 97.9%,#4758f8 98.7%,#3a74fe 99.5%,#317dfc 100%"></i><i style="left:204.5px;width:8.6px;--p:47%;--g:#3e26a8 0%,#3e26a8 57.4%,#3f28ad 60.8%,#402ab4 64.2%,#412dbb 70.2%,#422fc1 74.4%,#4230c3 78.7%,#4332c9 83%,#4331c7 86.4%,#4434d0 89.3%,#4536d3 91.9%,#4536d3 96.8%,#463cde 97.9%,#4759f8 98.7%,#3876fe 99.5%,#307ffb 100%"></i><i style="left:208.5px;width:8.6px;--p:47%;--g:#3e26a8 0%,#3e26a8 57.4%,#3f29b2 60.8%,#412dbc 64.2%,#4434ce 70.2%,#4538d8 74.4%,#463bdd 78.7%,#463de0 83%,#463de0 86.4%,#4740e3 89.3%,#463cdf 91.9%,#463cdf 95.7%,#4747eb 96.8%,#475af9 97.9%,#2f82fa 98.7%,#3677fe 99.5%,#2f81fa 100%"></i><i style="left:212.5px;width:7.6px;--p:53%;--g:#3e26a8 0%,#3e26a8 31.4%,#3e27a9 35.2%,#3e27aa 38.6%,#3e27ab 42.5%,#3e27ab 45.9%,#3e27ac 49.7%,#3e28ad 53.6%,#3f28ad 57.4%,#402bb7 60.8%,#422fc1 64.2%,#4434cf 70.2%,#4538d7 74.4%,#463adb 78.7%,#463ee1 83%,#4740e4 86.4%,#4745e9 89.3%,#4744e9 91.9%,#4744e9 96.8%,#4747eb 97.9%,#475cfa 98.7%,#3479fd 99.5%,#2f82f9 100%"></i><i style="left:216.5px;width:6.6px;--p:45%;--g:#3e26a8 0%,#3e26a8 31.4%,#3e27aa 35.2%,#3e27ab 38.6%,#3e27ac 42.5%,#3f28ae 45.9%,#3f29b0 49.7%,#3f29b1 53.6%,#402ab3 57.4%,#412ebd 60.8%,#4332cb 64.2%,#4538d8 70.2%,#4740e3 74.4%,#4745e9 78.7%,#484aee 83%,#484aee 89.3%,#484bee 91.9%,#484bee 96.8%,#4853f4 97.9%,#475dfa 98.7%,#337bfd 99.5%,#2e83f9 100%"></i><i style="left:219.5px;width:6.6px;--p:45%;--g:#3e26a8 0%,#3e26a8 31.4%,#3e27aa 35.2%,#3e28ac 38.6%,#3f28af 42.5%,#3f29b0 45.9%,#402ab4 49.7%,#402ab6 53.6%,#402bb7 57.4%,#422fc1 60.8%,#4434ce 64.2%,#463ee1 70.2%,#4848ec 74.4%,#484cf0 78.7%,#484ef1 83%,#4756f6 86.4%,#4758f8 89.3%,#4851f3 91.9%,#4851f3 96.8%,#4755f6 97.9%,#465efb 98.7%,#327cfc 99.5%,#2e84f8 100%"></i><i style="left:222.5px;width:6.6px;--p:45%;--g:#3e26a8 0%,#3e26a8 31.4%,#3e27ab 35.2%,#3f28ae 38.6%,#3f29b1 42.5%,#402ab4 45.9%,#402bb7 49.7%,#412cbb 53.6%,#412dbc 57.4%,#4332ca 60.8%,#4536d4 64.2%,#473ee2 70.2%,#4848ec 74.4%,#484ff2 78.7%,#484ff2 83%,#4757f7 86.4%,#475af9 89.3%,#4756f7 91.9%,#4756f7 94%,#4758f8 95.7%,#4562fc 96.8%,#4562fc 97.9%,#317efb 98.7%,#2f81fa 99.5%,#2d8af5 100%"></i><i style="left:225.5px;width:6.6px;--p:45%;--g:#3e26a8 0%,#3e26a8 31.4%,#3e27ab 35.2%,#3f28ae 38.6%,#3f29b2 42.5%,#402ab4 45.9%,#402bb8 49.7%,#412dbb 53.6%,#422ebf 57.4%,#4433cd 60.8%,#4538d8 64.2%,#4744e8 70.2%,#4747eb 74.4%,#484bee 78.7%,#4852f4 83%,#4851f4 86.4%,#475bf9 89.3%,#4757f7 91.9%,#4756f7 94%,#475af9 95.7%,#475bf9 96.8%,#4367fd 97.9%,#4367fd 98.7%,#2d88f6 99.5%,#2b91ef 100%"></i><i style="left:228.5px;width:6.6px;--p:45%;--g:#3e26a8 0%,#3e26a8 31.4%,#3e27ac 35.2%,#3f28af 38.6%,#402ab3 42.5%,#402bb6 45.9%,#412cba 49.7%,#422ebf 53.6%,#422fc1 57.4%,#4433cd 60.8%,#4537d6 64.2%,#473fe2 70.2%,#4744e8 74.4%,#484cef 78.7%,#4852f4 83%,#484df0 86.4%,#4755f6 89.3%,#465ffb 91.9%,#475cfa 94%,#465ffb 95.7%,#465ffb 96.8%,#4465fd 97.9%,#406dfe 98.7%,#2c90f0 99.5%,#2798ea 100%"></i><i style="left:231.5px;width:6.6px;--p:45%;--g:#3e26a8 0%,#3e26a8 31.4%,#3f28ad 35.2%,#402ab3 38.6%,#402bb8 42.5%,#412ebe 45.9%,#4230c4 49.7%,#4332c8 53.6%,#4433cb 57.4%,#4537d6 60.8%,#473ee1 64.2%,#484cef 70.2%,#4756f6 74.4%,#4661fc 78.7%,#465dfa 83%,#475af9 86.4%,#4465fd 89.3%,#4563fd 91.9%,#4563fd 95.7%,#426afe 96.8%,#3a73fe 97.9%,#2d8af4 98.7%,#2796eb 99.5%,#249fe6 100%"></i><i style="left:234.5px;width:6.6px;--p:45%;--g:#3e26a8 0%,#3e26a8 31.4%,#3f28ad 35.2%,#402ab3 38.6%,#412cb9 42.5%,#422ebf 45.9%,#4230c3 49.7%,#4330c5 53.6%,#4331c7 57.4%,#4536d4 60.8%,#463cdf 64.2%,#4849ed 70.2%,#484ff2 74.4%,#4756f7 78.7%,#4757f7 83%,#465dfb 86.4%,#4562fc 89.3%,#4367fd 91.9%,#4564fd 94%,#4367fd 95.7%,#3f6dfe 96.8%,#3479fd 97.9%,#2d88f6 98.7%,#259de7 99.5%,#1fa5e2 100%"></i><i style="left:237.5px;width:6.6px;--p:45%;--g:#3e26a8 0%,#3e26a8 31.4%,#3f29af 35.2%,#402ab5 38.6%,#412dbb 42.5%,#422fc0 45.9%,#4433cb 49.7%,#4536d3 53.6%,#4639da 57.4%,#4742e6 60.8%,#4744e8 64.2%,#4852f4 70.2%,#4854f5 74.4%,#475af9 78.7%,#465ffb 83%,#4465fd 86.4%,#4367fd 89.3%,#3c72ff 91.9%,#307efb 94%,#317dfc 95.7%,#2f82fa 96.8%,#2c8ef1 97.9%,#2798ea 98.7%,#21a3e3 99.5%,#1aabdd 100%"></i><i style="left:240.5px;width:6.6px;--p:45%;--g:#3e26a8 0%,#3e26a9 6.3%,#3e27a9 12.7%,#3e27aa 16.9%,#3e27aa 27.6%,#3e27ab 31.4%,#3f29b1 35.2%,#412cb8 38.6%,#422ebf 42.5%,#4331c7 45.9%,#4434ce 49.7%,#4536d4 53.6%,#4639da 57.4%,#4740e4 60.8%,#4745e9 64.2%,#484aee 70.2%,#484df1 74.4%,#465efb 78.7%,#4562fc 83%,#3f6eff 86.4%,#3875fe 89.3%,#3a74fe 91.9%,#327cfc 94%,#307ffb 95.7%,#2d8df2 96.8%,#2d8bf4 97.9%,#269ae9 98.7%,#1babde 99.5%,#12b1d6 100%"></i><i style="left:243.5px;width:5.8px;--p:52%;--g:#3f29b2 0%,#402ab4 6.3%,#402bb6 12.7%,#412cb9 16.9%,#402bb8 21.2%,#412cb9 24.2%,#412cba 27.6%,#412dbb 31.4%,#422fc1 35.2%,#4332c9 38.6%,#4433cc 42.5%,#4435d2 45.9%,#4538d8 49.7%,#463bdd 53.6%,#473fe2 57.4%,#4742e6 60.8%,#484cf0 64.2%,#4853f5 70.2%,#465dfb 74.4%,#4466fd 78.7%,#406cfe 83%,#3975fe 86.4%,#317dfc 89.3%,#2e85f8 91.9%,#2b91ef 94%,#249fe6 95.7%,#21a4e3 96.8%,#1aabdd 97.9%,#0eb2d4 98.7%,#07b5d0 99.5%,#01b9c6 100%"></i><i style="left:246.5px;width:5.0px;--p:44%;--g:#422fc2 0%,#422fc2 6.3%,#4230c4 12.7%,#4230c3 16.9%,#4330c5 21.2%,#4331c7 24.2%,#4332c9 27.6%,#4332c8 31.4%,#4434ce 35.2%,#4535d2 38.6%,#4435d2 42.5%,#4639da 45.9%,#463ee1 49.7%,#473fe2 53.6%,#4743e7 57.4%,#4746ea 60.8%,#4746ea 64.2%,#4854f5 70.2%,#465dfa 74.4%,#3e6fff 78.7%,#327cfc 83%,#3080fa 86.4%,#2f82f9 89.3%,#2e87f7 91.9%,#2a92ee 94%,#22a2e4 95.7%,#20a4e3 96.8%,#07b5d0 97.9%,#0dbdbb 98.7%,#09bdbe 99.5%,#22c1b0 100%"></i><i style="left:248.7px;width:5.0px;--p:44%;--g:#4332cb 0%,#4435d0 6.3%,#4434d0 12.7%,#4434ce 16.9%,#4435d1 21.2%,#4434cf 24.2%,#4433cc 27.6%,#4434ce 31.4%,#4536d2 35.2%,#463adb 38.6%,#463de0 42.5%,#463ee1 45.9%,#4740e3 49.7%,#4743e7 53.6%,#4741e5 57.4%,#484aed 60.8%,#4757f7 64.2%,#465efb 70.2%,#4562fc 74.4%,#3e6fff 78.7%,#3579fd 83%,#327cfc 86.4%,#2d88f6 89.3%,#2b90f0 91.9%,#2797eb 94%,#20a4e3 95.7%,#0bb3d2 96.8%,#1ac0b5 97.9%,#33c79d 98.7%,#29c3aa 99.5%,#37c897 100%"></i><i style="left:250.9px;width:5.0px;--p:44%;--g:#4537d7 0%,#463bdd 6.3%,#463de0 12.7%,#463bdd 16.9%,#463cde 21.2%,#463bdd 24.2%,#463ada 27.6%,#463cdf 31.4%,#4741e4 35.2%,#4741e5 38.6%,#4741e5 42.5%,#4746ea 45.9%,#4848ec 49.7%,#484bef 53.6%,#4848ec 57.4%,#4851f3 60.8%,#4853f5 64.2%,#4660fc 70.2%,#4561fc 74.4%,#4369fe 78.7%,#3875fe 83%,#2f81fa 86.4%,#2c8ef2 89.3%,#2896ec 91.9%,#259be7 94%,#1da8e0 95.7%,#01b8c9 96.8%,#01b9c6 97.9%,#34c79b 98.7%,#3dc990 99.5%,#5acc77 100%"></i><i style="left:253.1px;width:5.0px;--p:44%;--g:#4744e8 0%,#4743e7 6.3%,#4747eb 12.7%,#4741e5 16.9%,#4745e9 21.2%,#4849ec 24.2%,#4745e9 27.6%,#4742e6 31.4%,#4747eb 35.2%,#4745e9 38.6%,#4745ea 42.5%,#4849ed 45.9%,#4848ec 49.7%,#484bef 53.6%,#484cef 57.4%,#4854f5 60.8%,#4757f7 64.2%,#465dfa 70.2%,#4563fd 74.4%,#4269fe 78.7%,#347afd 83%,#347afd 86.4%,#2e86f8 89.3%,#2994ed 91.9%,#249fe5 94%,#269ae9 95.7%,#23a0e5 96.8%,#18addb 97.9%,#26c2ad 98.7%,#69cd6a 99.5%,#91ca4c 100%"></i><i style="left:255.3px;width:5.0px;--p:44%;--g:#4759f8 0%,#475af9 6.3%,#465dfa 12.7%,#4758f8 16.9%,#475af9 21.2%,#475cfa 24.2%,#4759f9 27.6%,#4854f6 31.4%,#4756f7 35.2%,#465efb 38.6%,#475af9 42.5%,#465ffb 45.9%,#4759f8 49.7%,#4758f8 53.6%,#4561fc 57.4%,#4367fd 60.8%,#3e6fff 64.2%,#347afd 70.2%,#3a74fe 74.4%,#2d89f5 78.7%,#2d8cf3 83%,#2d8af4 86.4%,#249de6 89.3%,#249fe5 91.9%,#13b0d7 94%,#02bbc3 95.7%,#2dc4a6 96.8%,#30c5a2 97.9%,#6dcd68 98.7%,#a1c840 99.5%,#cac129 100%"></i><i style="left:257.5px;width:5.0px;--p:44%;--g:#3b73fe 0%,#3d71ff 6.3%,#3a73fe 12.7%,#416cfe 16.9%,#3e70ff 21.2%,#3a74fe 24.2%,#3a74fe 27.6%,#3c72ff 31.4%,#4563fc 35.2%,#3a74fe 38.6%,#3e6fff 42.5%,#3f6fff 45.9%,#406dfe 49.7%,#3c71ff 53.6%,#416cfe 57.4%,#3777fe 60.8%,#3479fd 64.2%,#307ffb 70.2%,#2c8ef1 74.4%,#2b92ef 78.7%,#21a3e3 83%,#19addc 86.4%,#10b2d5 89.3%,#0abdbd 91.9%,#04bbc2 94%,#2ec5a4 95.7%,#8bcb51 96.8%,#cfc028 97.9%,#eabb30 98.7%,#d8be28 99.5%,#f6ba3b 100%"></i><i style="left:259.7px;width:5.0px;--p:44%;--g:#3678fd 0%,#3777fe 6.3%,#3876fe 12.7%,#2f80fa 16.9%,#3579fd 21.2%,#3a74fe 24.2%,#3876fe 27.6%,#307ffb 31.4%,#3b73fe 35.2%,#3e6fff 38.6%,#3677fe 42.5%,#3b72ff 45.9%,#3876fe 49.7%,#317dfc 53.6%,#3777fe 57.4%,#3080fa 60.8%,#2e86f7 64.2%,#2d89f5 70.2%,#2994ed 74.4%,#2798ea 78.7%,#1ca9df 83%,#1babde 86.4%,#0eb2d4 89.3%,#0abdbe 91.9%,#26c2ad 94%,#9bc944 95.7%,#b9c431 96.8%,#dcbd29 97.9%,#f3ba39 98.7%,#fcbd3d 99.5%,#fdcc32 100%"></i><i style="left:261.9px;width:4.4px;--p:50%;--g:#3677fe 0%,#3678fe 6.3%,#406dfe 12.7%,#3677fe 16.9%,#3b73fe 21.2%,#3b72fe 24.2%,#317dfc 27.6%,#3080fa 31.4%,#2e85f8 35.2%,#2e87f7 38.6%,#2e87f7 42.5%,#2f80fa 45.9%,#2f82fa 49.7%,#2d88f6 53.6%,#2b91ef 57.4%,#2797eb 60.8%,#2994ed 64.2%,#2994ed 70.2%,#2d8cf3 74.4%,#2a93ed 78.7%,#23a0e5 83%,#249ee6 86.4%,#09b4d1 89.3%,#21c1b0 91.9%,#34c79b 94%,#36c799 95.7%,#5dcc75 96.8%,#8fcb4e 97.9%,#c3c22b 98.7%,#fad42e 99.5%,#f5e128 100%"></i><i style="left:264.1px;width:3.8px;--p:42%;--g:#21a3e3 0%,#2699e9 6.3%,#2895ec 12.7%,#2699e9 16.9%,#2699e9 21.2%,#2a93ed 24.2%,#23a0e5 27.6%,#259de7 31.4%,#22a2e4 35.2%,#21a3e3 38.6%,#1da9e0 42.5%,#1aacdd 45.9%,#1aacdd 49.7%,#1da8e0 53.6%,#249fe6 57.4%,#259de7 60.8%,#23a1e5 64.2%,#01b9c7 70.2%,#07bcbf 74.4%,#01b9c7 78.7%,#18bfb6 83%,#0bbdbd 86.4%,#29c3a9 89.3%,#88cb53 91.9%,#c8c129 94%,#fbbc3d 95.7%,#fcbd3d 96.8%,#fdcd32 97.9%,#f9fb15 98.7%,#f5e426 99.5%,#f6f11f 100%"></i><i style="left:265.7px;width:3.8px;--p:42%;--g:#20a5e2 0%,#259ce7 6.3%,#2895ec 12.7%,#2896ec 16.9%,#2895ec 21.2%,#2797eb 24.2%,#2798ea 27.6%,#249de6 31.4%,#249fe6 35.2%,#20a5e3 38.6%,#2c90f0 42.5%,#269be8 45.9%,#249ee6 49.7%,#1fa6e2 53.6%,#1ea7e1 57.4%,#259ce7 60.8%,#21a3e3 64.2%,#06b5cf 70.2%,#06b5cf 74.4%,#07bcc0 78.7%,#2ac3a9 83%,#3eca8f 86.4%,#71cd64 89.3%,#67cd6c 91.9%,#95ca49 94%,#d1bf27 95.7%,#e2bc2b 96.8%,#d5be28 97.9%,#f9d72c 98.7%,#f6f01f 99.5%,#f9fb15 100%"></i><i style="left:267.3px;width:3.8px;--p:42%;--g:#18aedb 0%,#06b5cf 6.3%,#08b5d0 12.7%,#1aabdd 16.9%,#21a3e3 21.2%,#1ea7e1 24.2%,#1da8e0 27.6%,#15afd9 31.4%,#1ea7e1 35.2%,#14b0d8 38.6%,#12b1d6 42.5%,#1babde 45.9%,#15afd8 49.7%,#11b1d6 53.6%,#17aeda 57.4%,#05b6ce 60.8%,#1aacdd 64.2%,#11b1d6 70.2%,#02bac4 74.4%,#25c2ad 78.7%,#15bfb8 83%,#03b7cc 86.4%,#49cb86 89.3%,#d2bf27 91.9%,#e9bb2f 94%,#fec736 95.7%,#fec636 96.8%,#f9fb15 97.9%,#f9fb15 98.7%,#f7f61a 99.5%,#f9fb15 100%"></i><i style="left:268.9px;width:3.8px;--p:42%;--g:#259ce7 0%,#20a4e3 6.3%,#21a3e3 12.7%,#1caadf 16.9%,#17aedb 21.2%,#22a1e4 24.2%,#249ee6 27.6%,#23a0e5 31.4%,#259de7 35.2%,#13b0d7 38.6%,#17aedb 42.5%,#11b1d6 45.9%,#10b2d5 49.7%,#1caadf 53.6%,#1ea8e1 57.4%,#1da8e0 60.8%,#19addc 64.2%,#18aedb 70.2%,#0fb2d4 74.4%,#0bbdbc 78.7%,#33c69e 83%,#35c79a 86.4%,#4ecc81 89.3%,#53cc7d 91.9%,#8ccb50 94%,#acc738 95.7%,#c2c32c 96.8%,#bac430 97.9%,#fec03a 98.7%,#f8f818 99.5%,#f9fb15 100%"></i><i style="left:270.5px;width:3.8px;--p:42%;--g:#0abdbd 0%,#02bbc3 6.3%,#09bcbe 12.7%,#01b9c7 16.9%,#01b9c7 21.2%,#24c1ae 24.2%,#1ec0b2 27.6%,#23c1af 31.4%,#1dc0b3 35.2%,#30c5a2 38.6%,#33c69d 42.5%,#36c799 45.9%,#0abdbd 49.7%,#0bbdbd 53.6%,#03b7cc 57.4%,#15bfb8 60.8%,#37c897 64.2%,#50cc80 70.2%,#48cb86 74.4%,#3cc991 78.7%,#46cb88 83%,#4bcb83 86.4%,#8acb52 89.3%,#d4bf28 91.9%,#fccf30 94%,#f5e825 95.7%,#f6f21e 96.8%,#f9fb15 97.9%,#f5e526 98.7%,#f9fa15 99.5%,#f9fb15 100%"></i><i style="left:272.1px;width:3.5px;--p:46%;--g:#06b5cf 0%,#04b6cc 6.3%,#16afd9 12.7%,#1da9e0 16.9%,#1fa6e1 21.2%,#19addc 24.2%,#0db3d3 27.6%,#17aeda 31.4%,#0abdbd 35.2%,#02bbc3 38.6%,#0db3d4 42.5%,#0abdbd 45.9%,#06b5cf 49.7%,#0ebdbb 53.6%,#15afd9 57.4%,#0cb3d3 60.8%,#0bb3d2 64.2%,#08bcbf 70.2%,#03bbc2 74.4%,#28c2ab 78.7%,#5acc78 83%,#32c69f 86.4%,#94ca4a 89.3%,#f5ba3a 91.9%,#fad52e 94%,#fec636 95.7%,#e4bb2c 96.8%,#f6de29 97.9%,#f5e924 98.7%,#f9fb15 99.5%,#f9fb15 100%"></i><i style="left:273.7px;width:3.2px;--p:41%;--g:#1fa6e1 0%,#1da8e0 6.3%,#21a3e3 12.7%,#23a0e5 16.9%,#249fe5 21.2%,#1baade 24.2%,#1baadf 27.6%,#20a4e3 31.4%,#22a2e4 35.2%,#20a4e3 38.6%,#1da8e0 42.5%,#1fa6e2 45.9%,#1da8e0 49.7%,#1ea7e1 53.6%,#1ca9df 57.4%,#1ea7e1 60.8%,#13b0d7 64.2%,#18addb 70.2%,#1babde 74.4%,#0ebdbb 78.7%,#21c1b0 83%,#30c5a2 86.4%,#55cc7c 89.3%,#b1c635 91.9%,#afc637 94%,#f7dc2a 95.7%,#ddbd29 96.8%,#fbbc3d 97.9%,#f5e725 98.7%,#f9fb15 99.5%,#f9fb15 100%"></i><i style="left:275.0px;width:3.2px;--p:41%;--g:#2896eb 0%,#2896ec 6.3%,#2c8ef1 12.7%,#2c8ff1 16.9%,#2896eb 21.2%,#2b92ee 24.2%,#2c8ef1 27.6%,#2699e9 31.4%,#2797eb 35.2%,#2d89f5 38.6%,#2c90f0 42.5%,#2c90f0 45.9%,#259de7 49.7%,#23a0e5 53.6%,#249fe5 57.4%,#269ae9 60.8%,#249ee6 64.2%,#20a5e3 70.2%,#20a5e2 74.4%,#1da8e0 78.7%,#0db3d4 83%,#0ebebb 86.4%,#34c79b 89.3%,#b2c534 91.9%,#a5c83d 94%,#fad52d 95.7%,#f6f11f 96.8%,#fad52d 97.9%,#f7f31d 98.7%,#f9fb15 99.5%,#f9fb15 100%"></i><i style="left:276.3px;width:3.2px;--p:41%;--g:#2d8af5 0%,#2d8df2 6.3%,#2797ea 12.7%,#2c90f0 16.9%,#2d8bf4 21.2%,#2d8df2 24.2%,#2e85f8 27.6%,#2d8af4 31.4%,#2c8ff0 35.2%,#2895ec 38.6%,#259be8 42.5%,#22a1e4 45.9%,#249de6 49.7%,#2896ec 53.6%,#2994ed 57.4%,#2b91ef 60.8%,#2797eb 64.2%,#1fa5e2 70.2%,#259ce7 74.4%,#14b0d8 78.7%,#15afd9 83%,#07b5d0 86.4%,#38c896 89.3%,#70cd65 91.9%,#d9be28 94%,#fdcb33 95.7%,#f5e327 96.8%,#f5ee21 97.9%,#f9fb15 98.7%,#f9fb15 100%"></i><i style="left:277.6px;width:3.2px;--p:41%;--g:#269ae8 0%,#259ce7 6.3%,#249ee6 12.7%,#2c8ef1 16.9%,#2699e9 21.2%,#2798ea 24.2%,#2896eb 27.6%,#2995ec 31.4%,#249de6 35.2%,#259de7 38.6%,#259de7 42.5%,#2797eb 45.9%,#2d8bf4 49.7%,#2b92ef 53.6%,#2797eb 57.4%,#20a5e3 60.8%,#1da8e0 64.2%,#23a1e4 70.2%,#23a0e5 74.4%,#18aedb 78.7%,#06bcc1 83%,#29c3a9 86.4%,#36c898 89.3%,#76cc60 91.9%,#6ecd66 94%,#f8ba3d 95.7%,#febe3c 96.8%,#f8da2b 97.9%,#f9fb15 98.7%,#f9fb15 100%"></i><i style="left:278.9px;width:3.2px;--p:41%;--g:#269ae9 0%,#259be8 6.3%,#249ee6 12.7%,#2b91ef 16.9%,#259ce7 21.2%,#1aacdd 24.2%,#1ea7e1 27.6%,#23a0e5 31.4%,#21a4e3 35.2%,#1da8e0 38.6%,#17aeda 42.5%,#1aabdd 45.9%,#1da8e0 49.7%,#19addc 53.6%,#1fa5e2 57.4%,#1da8e0 60.8%,#11b2d5 64.2%,#0ab4d2 70.2%,#01b8c8 74.4%,#17bfb6 78.7%,#32c69f 83%,#27c2ac 86.4%,#2ac3a9 89.3%,#55cc7c 91.9%,#7acc5d 94%,#e5bb2d 95.7%,#fccf30 96.8%,#f5e924 97.9%,#f9fb15 98.7%,#f9fb15 100%"></i><i style="left:280.2px;width:3.5px;--p:37%;--g:#14b0d8 0%,#19addc 6.3%,#15afd9 12.7%,#01b9c6 16.9%,#17aeda 21.2%,#1da9e0 24.2%,#0cb3d3 27.6%,#03b7cb 31.4%,#01b9c8 35.2%,#02bac4 38.6%,#1bc0b4 42.5%,#29c3aa 45.9%,#01b9c6 49.7%,#01b9c7 53.6%,#10beba 57.4%,#02bac5 60.8%,#02bac4 64.2%,#06bcc0 70.2%,#23c1af 74.4%,#2dc4a6 78.7%,#2dc4a5 83%,#66cd6d 86.4%,#98ca47 89.3%,#a3c83f 91.9%,#fec636 94%,#fabb3d 95.7%,#f8f817 96.8%,#f9fb15 97.9%,#f9fb15 100%"></i><i style="left:281.5px;width:3.8px;--p:42%;--g:#1ca9df 0%,#249ee6 6.3%,#1ea7e1 12.7%,#19addc 16.9%,#1ca9df 21.2%,#13b0d7 24.2%,#19addc 27.6%,#14b0d8 31.4%,#18aedb 35.2%,#0bb3d2 38.6%,#1baade 42.5%,#17aeda 45.9%,#19acdc 49.7%,#17aeda 53.6%,#04b6cd 57.4%,#18addb 60.8%,#21a3e3 64.2%,#1aacdd 70.2%,#06b5ce 74.4%,#1ec0b2 78.7%,#28c3ab 83%,#2fc5a3 86.4%,#3dc990 89.3%,#7bcc5d 91.9%,#ebba31 94%,#c8c129 95.7%,#a9c73a 96.8%,#c2c22c 97.9%,#febd3c 98.7%,#f9fa16 99.5%,#f9fb15 100%"></i><i style="left:283.1px;width:3.8px;--p:42%;--g:#259ce7 0%,#1ea8e1 6.3%,#1da8e0 12.7%,#21a3e3 16.9%,#21a4e3 21.2%,#20a4e3 24.2%,#20a4e3 27.6%,#1fa6e1 31.4%,#1aacdd 35.2%,#249fe5 38.6%,#1da8e0 42.5%,#1ea8e1 45.9%,#18addb 49.7%,#01b7ca 53.6%,#0eb2d4 57.4%,#14b0d8 60.8%,#14b0d8 64.2%,#15afd8 70.2%,#17aeda 74.4%,#11beb9 78.7%,#32c69f 83%,#31c6a0 86.4%,#40ca8d 89.3%,#b0c636 91.9%,#94ca4a 94%,#aec637 95.7%,#e2bc2b 96.8%,#f9d72c 97.9%,#fad42e 98.7%,#f8f718 99.5%,#f9fb15 100%"></i><i style="left:284.7px;width:3.8px;--p:42%;--g:#22a1e4 0%,#1fa6e2 6.3%,#23a1e4 12.7%,#1ea7e1 16.9%,#269ae8 21.2%,#1da9e0 24.2%,#23a1e4 27.6%,#259ce7 31.4%,#21a3e3 35.2%,#269ae8 38.6%,#22a1e4 42.5%,#20a5e3 45.9%,#14b0d8 49.7%,#1da9e0 53.6%,#1fa5e2 57.4%,#1da8e0 60.8%,#16afd9 64.2%,#19addc 70.2%,#01b8c8 74.4%,#15afd9 78.7%,#2cc4a7 83%,#3ac993 86.4%,#5dcc75 89.3%,#92ca4b 91.9%,#ebba31 94%,#fdcc32 95.7%,#fec934 96.8%,#f9fb15 97.9%,#f9fb15 98.7%,#f7f41c 99.5%,#f9fb15 100%"></i><i style="left:286.3px;width:3.8px;--p:42%;--g:#2f82f9 0%,#2d8bf4 6.3%,#2b90ef 12.7%,#2994ed 16.9%,#2d8cf3 21.2%,#259ce7 24.2%,#269ae9 27.6%,#2699e9 31.4%,#249ee6 35.2%,#2994ed 38.6%,#2699e9 42.5%,#23a0e5 45.9%,#2895ec 49.7%,#2c8ff0 53.6%,#2a93ed 57.4%,#2798ea 60.8%,#2798ea 64.2%,#249fe5 70.2%,#0bb3d2 74.4%,#06b5cf 78.7%,#0db3d3 83%,#02b7cb 86.4%,#37c898 89.3%,#7fcc5a 91.9%,#6ecd66 94%,#fabb3d 95.7%,#ecba32 96.8%,#fbd22f 97.9%,#f5e128 98.7%,#f5ec23 99.5%,#f8f818 100%"></i><i style="left:287.9px;width:3.8px;--p:42%;--g:#2b92ee 0%,#2895ec 6.3%,#2c90f0 12.7%,#2995ec 16.9%,#2698ea 21.2%,#1fa5e2 24.2%,#2994ed 27.6%,#2b92ee 31.4%,#2896ec 35.2%,#2c90f0 38.6%,#2895ec 42.5%,#2994ed 45.9%,#2c8ef2 49.7%,#259be8 53.6%,#2797ea 57.4%,#259ce7 60.8%,#269ae9 64.2%,#22a2e4 70.2%,#23a0e5 74.4%,#16aeda 78.7%,#06b5cf 83%,#0cbdbc 86.4%,#4fcc81 89.3%,#7acc5e 91.9%,#98c947 94%,#c4c22b 95.7%,#fec13a 96.8%,#f6df29 97.9%,#f9fb15 98.7%,#f7db2b 99.5%,#f5e825 100%"></i><i style="left:289.5px;width:4.4px;--p:36%;--g:#337bfc 0%,#3678fe 6.3%,#3e6fff 12.7%,#3776fe 16.9%,#3677fe 21.2%,#3876fe 24.2%,#2e84f8 27.6%,#2f80fa 31.4%,#337bfd 35.2%,#317dfc 38.6%,#3c72ff 42.5%,#337afd 45.9%,#307ffb 49.7%,#3080fb 53.6%,#337bfc 57.4%,#317efb 60.8%,#327cfc 64.2%,#2e85f8 70.2%,#2a93ee 74.4%,#259ce7 78.7%,#20a5e2 83%,#1babde 86.4%,#01b8c9 89.3%,#2ac3a8 91.9%,#61cd71 94%,#8ecb4f 95.7%,#cdc028 96.8%,#f5ba3a 97.9%,#fdcc32 98.7%,#fec835 99.5%,#f9d72d 100%"></i><i style="left:291.1px;width:5.0px;--p:44%;--g:#3c72ff 0%,#406dfe 6.3%,#4464fd 12.7%,#4368fd 16.9%,#4369fe 21.2%,#3d71ff 24.2%,#3f6fff 27.6%,#406dfe 31.4%,#4564fd 35.2%,#4563fd 38.6%,#4368fe 42.5%,#3d71ff 45.9%,#3f6eff 49.7%,#3c71ff 53.6%,#3678fe 57.4%,#317dfc 60.8%,#317efb 64.2%,#317efb 70.2%,#2d8bf4 74.4%,#249fe5 78.7%,#259ce7 83%,#249fe5 86.4%,#0eb2d4 89.3%,#04bbc2 91.9%,#35c79b 94%,#63cd70 95.7%,#52cc7e 96.8%,#6fcd66 97.9%,#cbc129 98.7%,#ebba31 99.5%,#fec03b 100%"></i><i style="left:293.3px;width:5.0px;--p:44%;--g:#4854f5 0%,#4851f4 6.3%,#4853f5 12.7%,#4853f5 21.2%,#4756f7 24.2%,#4853f5 27.6%,#484ff2 31.4%,#4755f6 35.2%,#4851f3 38.6%,#484cf0 42.5%,#4850f3 45.9%,#4756f6 49.7%,#4851f3 53.6%,#4851f4 57.4%,#4759f8 60.8%,#4756f7 64.2%,#4367fd 70.2%,#406dfe 74.4%,#337afd 78.7%,#317dfc 83%,#2e84f8 86.4%,#2c8ef1 89.3%,#2994ed 91.9%,#22a2e4 94%,#0db3d3 95.7%,#02bac5 96.8%,#36c898 97.9%,#4ecc81 98.7%,#b4c533 99.5%,#dbbd29 100%"></i><i style="left:295.5px;width:5.0px;--p:44%;--g:#484df0 0%,#4851f3 6.3%,#4851f3 12.7%,#484aee 16.9%,#4849ed 21.2%,#484ff2 24.2%,#484ff2 27.6%,#4851f3 31.4%,#4755f6 35.2%,#4757f7 38.6%,#4758f8 42.5%,#4758f8 45.9%,#4759f8 49.7%,#475af9 53.6%,#4759f8 57.4%,#4562fc 60.8%,#465dfa 64.2%,#4564fd 70.2%,#3f6eff 74.4%,#2d88f6 78.7%,#2d8bf4 83%,#2b92ee 86.4%,#249ee6 89.3%,#13b1d7 91.9%,#01b9c7 94%,#08bcbf 95.7%,#12beb9 96.8%,#46cb88 97.9%,#4dcc82 98.7%,#78cc5f 99.5%,#a2c840 100%"></i><i style="left:297.7px;width:5.0px;--p:44%;--g:#463adc 0%,#4639da 6.3%,#463bdd 12.7%,#4539d9 16.9%,#463cde 21.2%,#463cde 27.6%,#463ddf 31.4%,#473fe2 35.2%,#4740e3 38.6%,#4742e6 42.5%,#4744e8 45.9%,#4747eb 49.7%,#4746eb 53.6%,#4849ed 57.4%,#4850f3 60.8%,#4854f5 64.2%,#475cfa 70.2%,#465ffb 74.4%,#4465fd 78.7%,#3d70ff 83%,#317dfb 86.4%,#2e87f7 89.3%,#2797ea 91.9%,#21a2e4 94%,#259de7 95.7%,#1fa6e2 96.8%,#03b7cc 97.9%,#0ab4d1 98.7%,#43ca8a 99.5%,#62cd71 100%"></i><i style="left:299.9px;width:5.0px;--p:44%;--g:#4536d3 0%,#4433cd 6.3%,#4433cd 16.9%,#4434cf 21.2%,#4434cf 24.2%,#4434ce 27.6%,#4434ce 31.4%,#4537d5 35.2%,#4639d9 38.6%,#463cde 42.5%,#463ee1 45.9%,#473ee2 49.7%,#4741e5 53.6%,#4747eb 57.4%,#484ef1 60.8%,#4851f3 64.2%,#4755f6 70.2%,#4562fc 74.4%,#3b72fe 78.7%,#3579fd 83%,#317efb 86.4%,#2e87f7 89.3%,#2994ed 91.9%,#2b91ef 94%,#22a2e4 95.7%,#12b1d6 96.8%,#21c1b1 97.9%,#13beb8 98.7%,#2cc4a7 99.5%,#3ac994 100%"></i><i style="left:302.1px;width:5.0px;--p:44%;--g:#422ebe 0%,#422fc1 6.3%,#4230c3 12.7%,#422fc0 16.9%,#422fc1 21.2%,#422fc2 24.2%,#4230c3 27.6%,#4230c3 31.4%,#4331c6 35.2%,#4433cd 38.6%,#4537d5 42.5%,#4537d5 45.9%,#4538d8 49.7%,#463ddf 53.6%,#4742e6 57.4%,#484aee 60.8%,#4853f5 64.2%,#4758f8 70.2%,#4660fb 74.4%,#416cfe 78.7%,#307ffb 83%,#3a73fe 86.4%,#327bfc 89.3%,#2d88f6 91.9%,#2c8ff1 94%,#249de6 95.7%,#2699e9 96.8%,#1fa6e2 97.9%,#19addc 98.7%,#0abdbd 99.5%,#23c1af 100%"></i><i style="left:304.3px;width:5.0px;--p:44%;--g:#3f29b0 0%,#3f29b1 6.3%,#402ab4 12.7%,#402ab5 16.9%,#402bb6 21.2%,#402bb7 24.2%,#402bb6 27.6%,#402bb7 31.4%,#422ebe 35.2%,#4230c3 38.6%,#4433cd 42.5%,#4434d0 45.9%,#4536d4 49.7%,#4538d7 53.6%,#463cdf 57.4%,#4741e5 60.8%,#4849ed 64.2%,#4853f5 70.2%,#4757f7 74.4%,#475dfa 78.7%,#406dfe 83%,#3e6fff 86.4%,#317dfc 89.3%,#3080fb 91.9%,#2f81fa 94%,#2798ea 95.7%,#23a1e4 96.8%,#1babde 97.9%,#01bac5 98.7%,#09b4d1 99.5%,#01b9c7 100%"></i><i style="left:306.5px;width:5.8px;--p:38%;--g:#3e26a8 0%,#3e27a9 6.3%,#3e27ab 12.7%,#3e27ab 16.9%,#3e27ac 21.2%,#3e28ac 24.2%,#3e28ad 27.6%,#3f28ad 31.4%,#402ab4 35.2%,#412dbb 38.6%,#4330c5 42.5%,#4331c8 45.9%,#4435d0 49.7%,#4536d3 53.6%,#4538d7 57.4%,#463de0 60.8%,#4745e9 64.2%,#484bef 70.2%,#4854f5 74.4%,#475dfa 78.7%,#4661fc 83%,#426afe 86.4%,#3876fe 89.3%,#337bfc 91.9%,#2d87f7 94%,#2e87f7 95.7%,#2c8ef1 96.8%,#249fe6 97.9%,#22a2e4 98.7%,#19acdc 99.5%,#10b2d5 100%"></i><i style="left:308.7px;width:6.6px;--p:45%;--g:#3e26a8 0%,#3e26a8 31.4%,#3f28af 35.2%,#402ab5 38.6%,#412dbd 42.5%,#422fc2 45.9%,#4332c9 49.7%,#4433cd 53.6%,#4537d5 57.4%,#463de0 60.8%,#4848ec 64.2%,#4850f3 70.2%,#4854f5 74.4%,#465ffb 78.7%,#4367fd 83%,#4465fd 86.4%,#416cfe 89.3%,#416bfe 91.9%,#3c71ff 94%,#327cfc 95.7%,#3080fa 96.8%,#2896ec 97.9%,#2994ed 98.7%,#20a4e3 99.5%,#1aacdd 100%"></i><i style="left:311.7px;width:6.6px;--p:45%;--g:#3e26a8 0%,#3e26a8 31.4%,#3f28ae 35.2%,#402ab4 38.6%,#412cba 42.5%,#412dbd 45.9%,#422fc1 49.7%,#4332ca 53.6%,#4434ce 57.4%,#4538d8 60.8%,#463bdd 64.2%,#4746ea 70.2%,#484cef 74.4%,#4756f7 78.7%,#465dfa 83%,#4759f8 86.4%,#4564fd 89.3%,#4564fd 91.9%,#3c71ff 94%,#3d71ff 95.7%,#3975fe 96.8%,#2e83f9 97.9%,#259de7 98.7%,#259de7 99.5%,#1fa5e2 100%"></i><i style="left:314.7px;width:6.6px;--p:45%;--g:#3e26a8 0%,#3e26a8 31.4%,#3f28ad 35.2%,#3f29b2 38.6%,#402bb8 42.5%,#412dbc 45.9%,#422ec0 49.7%,#4230c3 53.6%,#4331c6 57.4%,#4435d0 60.8%,#463bdd 64.2%,#4747ec 70.2%,#484ef1 74.4%,#4852f4 78.7%,#465ffb 83%,#4368fe 86.4%,#426afe 89.3%,#465ffb 91.9%,#465ffb 96.8%,#4561fc 97.9%,#3b73fe 98.7%,#2896ec 99.5%,#249ee6 100%"></i><i style="left:317.7px;width:6.6px;--p:45%;--g:#3e26a8 0%,#3e26a8 31.4%,#3e27ac 35.2%,#3f28af 38.6%,#402ab4 42.5%,#402bb7 45.9%,#412ebd 49.7%,#422ebf 53.6%,#4230c3 57.4%,#4535d2 60.8%,#463adb 64.2%,#4744e8 70.2%,#484df0 74.4%,#4850f3 78.7%,#4852f4 83%,#4756f7 86.4%,#475cfa 89.3%,#475bf9 91.9%,#475bf9 96.8%,#475cfa 97.9%,#406cfe 98.7%,#2c8ef1 99.5%,#2797eb 100%"></i><i style="left:320.7px;width:6.6px;--p:45%;--g:#3e26a8 0%,#3e26a8 31.4%,#3e27ac 35.2%,#3f28af 38.6%,#402ab3 42.5%,#402bb7 45.9%,#412cb9 49.7%,#412dbd 53.6%,#422fc3 57.4%,#4434ce 60.8%,#463bdc 64.2%,#4743e7 70.2%,#4850f2 74.4%,#4757f7 78.7%,#475af9 83%,#4758f8 86.4%,#4757f7 89.3%,#4756f7 91.9%,#4756f7 96.8%,#465efb 97.9%,#4466fd 98.7%,#2e87f7 99.5%,#2c8ff0 100%"></i><i style="left:323.7px;width:6.6px;--p:45%;--g:#3e26a8 0%,#3e26a8 31.4%,#3e27ab 35.2%,#3f28ad 38.6%,#3f28af 42.5%,#3f29b1 45.9%,#402ab4 49.7%,#402bb6 53.6%,#412cb9 57.4%,#4230c3 60.8%,#4435d0 64.2%,#463ee1 70.2%,#4745e9 74.4%,#484cf0 78.7%,#4853f5 83%,#4853f5 86.4%,#4756f7 89.3%,#4852f4 91.9%,#4852f4 95.7%,#4660fb 96.8%,#4660fb 97.9%,#3578fd 98.7%,#307ffb 99.5%,#2d87f7 100%"></i><i style="left:326.7px;width:6.6px;--p:45%;--g:#3e26a8 0%,#3e26a8 31.4%,#3e27aa 35.2%,#3e27ac 38.6%,#3f28ad 42.5%,#3f28af 45.9%,#3f29b1 49.7%,#402ab3 53.6%,#402ab4 57.4%,#422ebf 60.8%,#4433cb 64.2%,#463adb 70.2%,#4744e9 74.4%,#4849ed 78.7%,#4848ec 83%,#4849ed 86.4%,#484cef 89.3%,#484cf0 91.9%,#484cf0 95.7%,#465dfa 96.8%,#465dfa 97.9%,#416cfe 98.7%,#327bfc 99.5%,#2e84f8 100%"></i><i style="left:329.7px;width:6.6px;--p:45%;--g:#3e26a8 0%,#3e26a8 31.4%,#3e27a9 35.2%,#3e27aa 38.6%,#3e27ab 42.5%,#3e28ac 45.9%,#3f28ad 49.7%,#3f28ae 53.6%,#3f29af 57.4%,#412cb9 60.8%,#422ebf 64.2%,#4435d2 70.2%,#463adc 74.4%,#463ee1 78.7%,#4740e4 83%,#4743e7 86.4%,#4848ec 89.3%,#4746ea 91.9%,#4746ea 97.9%,#484ff2 98.7%,#347afd 99.5%,#2e83f9 100%"></i><i style="left:332.7px;width:6.6px;--p:45%;--g:#3e26a8 0%,#3e26a8 31.4%,#3e26a9 35.2%,#3e27a9 38.6%,#3e27a9 42.5%,#3e27aa 45.9%,#3e27aa 49.7%,#3e27ab 53.6%,#3e27ab 57.4%,#402ab4 60.8%,#412dbc 64.2%,#4332c9 70.2%,#4435d1 74.4%,#4538d7 78.7%,#463ada 83%,#463cdf 86.4%,#4741e5 89.3%,#473fe3 91.9%,#473fe3 96.8%,#4744e9 97.9%,#475bf9 98.7%,#3578fd 99.5%,#2f82fa 100%"></i><i style="left:335.7px;width:7.6px;--p:39%;--g:#3e26a8 0%,#3e26a8 57.4%,#3f28af 60.8%,#402ab5 64.2%,#422fc0 70.2%,#4332c9 74.4%,#4332ca 78.7%,#4433cc 83%,#4434cf 86.4%,#4435d1 89.3%,#4639da 91.9%,#4639da 97.9%,#4747eb 98.7%,#3777fe 99.5%,#2f80fa 100%"></i><i style="left:338.7px;width:8.6px;--p:47%;--g:#3e26a8 0%,#3e26a8 57.4%,#3e28ad 60.8%,#3f29b0 64.2%,#402bb6 70.2%,#412cba 74.4%,#422ebf 78.7%,#4331c7 83%,#4332ca 86.4%,#4536d3 89.3%,#4434ce 91.9%,#4434ce 96.8%,#4537d6 97.9%,#4758f8 98.7%,#3975fe 99.5%,#307efb 100%"></i><i style="left:342.7px;width:8.6px;--p:47%;--g:#3e26a8 0%,#3e26a8 57.4%,#3e27a9 60.8%,#3e27aa 64.2%,#3e27ab 70.2%,#3f28ad 74.4%,#3f29b1 78.7%,#402ab4 83%,#412cb9 86.4%,#422ebf 89.3%,#422fc2 91.9%,#422fc2 96.8%,#4332c8 97.9%,#4757f7 98.7%,#3a73fe 99.5%,#317dfc 100%"></i><i style="left:346.7px;width:8.6px;--p:47%;--g:#3e26a8 0%,#3e26a8 74.4%,#3e27ab 78.7%,#3e28ac 83%,#3f28ae 86.4%,#402bb6 89.3%,#402bb6 94%,#402bb7 95.7%,#4745e9 96.8%,#4756f6 97.9%,#4464fd 98.7%,#3c71ff 99.5%,#337bfc 100%"></i><i style="left:350.7px;width:8.6px;--p:47%;--g:#3e26a8 0%,#3e26a8 86.4%,#3f28ae 89.3%,#3f28af 91.9%,#3f28af 96.8%,#4434cf 97.9%,#4854f5 98.7%,#3e6fff 99.5%,#3579fd 100%"></i><i style="left:354.7px;width:8.6px;--p:47%;--g:#3e26a8 0%,#3e26a8 86.4%,#3e27ac 89.3%,#3e27ac 94%,#3f28ae 95.7%,#4743e7 96.8%,#484ff2 97.9%,#475cfa 98.7%,#3f6dfe 99.5%,#3677fe 100%"></i><i style="left:358.7px;width:8.6px;--p:47%;--g:#3e26a8 0%,#3e26a8 96.8%,#422fc1 97.9%,#4852f4 98.7%,#406cfe 99.5%,#3875fe 100%"></i><i style="left:362.7px;width:8.6px;--p:47%;--g:#3e26a8 0%,#3e26a8 95.7%,#3e27a9 96.8%,#4852f4 97.9%,#4852f4 98.7%,#416bfe 99.5%,#3a73fe 100%"></i><i style="left:366.7px;width:8.6px;--p:47%;--g:#3e26a8 0%,#3e26a8 94%,#402ab5 95.7%,#463de0 96.8%,#4851f4 97.9%,#426afe 98.7%,#4269fe 99.5%,#3c72ff 100%"></i><i style="left:370.7px;width:8.6px;--p:47%;--g:#3e26a8 0%,#3e26a8 95.7%,#412cb9 96.8%,#4851f3 97.9%,#4368fe 98.7%,#4368fe 99.5%,#3e70ff 100%"></i><i style="left:374.7px;width:8.6px;--p:47%;--g:#3e26a8 0%,#3e26a8 95.7%,#412cba 96.8%,#4850f3 97.9%,#465efb 98.7%,#4367fd 99.5%,#3f6eff 100%"></i><i style="left:378.7px;width:8.6px;--p:47%;--g:#3e26a8 0%,#3e26a8 96.8%,#4332ca 97.9%,#4850f3 98.7%,#4367fd 99.5%,#3f6eff 100%"></i><i style="left:382.7px;width:8.6px;--p:47%;--g:#3e26a8 0%,#3e26a8 94%,#3f28af 95.7%,#463cdf 96.8%,#484bef 97.9%,#4561fc 98.7%,#4367fd 99.5%,#3f6eff 100%"></i><i style="left:386.7px;width:8.6px;--p:47%;--g:#3e26a8 0%,#3e26a8 95.7%,#3f29b1 96.8%,#4850f2 97.9%,#4850f2 98.7%,#4466fd 99.5%,#3f6efe 100%"></i><i style="left:390.7px;width:8.6px;--p:47%;--g:#3e26a8 0%,#3e26a8 95.7%,#463de0 96.8%,#484aee 97.9%,#4758f8 98.7%,#4466fd 99.5%,#3f6efe 100%"></i><i style="left:394.7px;width:8.6px;--p:47%;--g:#3e26a8 0%,#3e26a8 95.7%,#402ab5 96.8%,#484ef1 97.9%,#4757f7 98.7%,#4466fd 99.5%,#3f6dfe 100%"></i><i style="left:398.7px;width:8.6px;--p:47%;--g:#3e26a8 0%,#3e26a8 94%,#402bb6 95.7%,#473fe2 96.8%,#484bef 97.9%,#4759f9 98.7%,#4466fd 99.5%,#406dfe 100%"></i><i style="left:402.7px;width:8.6px;--p:47%;--g:#3e26a8 0%,#3e26a8 95.7%,#412dbc 96.8%,#484bee 97.9%,#4756f6 98.7%,#4466fd 99.5%,#406dfe 100%"></i><i style="left:406.7px;width:8.6px;--p:47%;--g:#3e26a8 0%,#3e26a8 95.7%,#3f29b0 96.8%,#4747eb 97.9%,#484ff2 98.7%,#4465fd 99.5%,#406dfe 100%"></i><i style="left:410.7px;width:8.6px;--p:47%;--g:#3e26a8 0%,#3e26a8 95.7%,#4330c5 96.8%,#484cef 97.9%,#4757f8 98.7%,#4465fd 99.5%,#406dfe 100%"></i><i style="left:414.7px;width:8.6px;--p:47%;--g:#3e26a8 0%,#3e26a8 96.8%,#3f28ae 97.9%,#484ef1 98.7%,#4465fd 99.5%,#406dfe 100%"></i><i style="left:418.7px;width:8.6px;--p:47%;--g:#3e26a8 0%,#3e26a8 94%,#3e27ac 95.7%,#4742e6 96.8%,#484ef1 97.9%,#4562fc 98.7%,#4465fd 99.5%,#406cfe 100%"></i><i style="left:422.7px;width:8.6px;--p:47%;--g:#3e26a8 0%,#3e26a8 96.8%,#402ab5 97.9%,#484ef1 98.7%,#4465fd 99.5%,#406cfe 100%"></i><i style="left:426.7px;width:8.6px;--p:47%;--g:#3e26a8 0%,#3e26a8 94%,#402bb6 95.7%,#473fe2 96.8%,#484ef1 97.9%,#4660fc 98.7%,#4464fd 99.5%,#406cfe 100%"></i><i style="left:430.7px;width:8.6px;--p:47%;--g:#3e26a8 0%,#3e26a8 95.7%,#3e27ac 96.8%,#484df1 97.9%,#484df1 98.7%,#4464fd 99.5%,#406cfe 100%"></i><i style="left:434.7px;width:8.6px;--p:47%;--g:#3e26a8 0%,#3e26a8 96.8%,#422fc1 97.9%,#484df1 98.7%,#4564fd 99.5%,#416cfe 100%"></i><i style="left:438.7px;width:8.6px;--p:47%;--g:#3e26a8 0%,#3e26a8 96.8%,#484aee 97.9%,#484df0 98.7%,#4564fd 99.5%,#416cfe 100%"></i><i style="left:442.7px;width:8.6px;--p:47%;--g:#3e26a8 0%,#3e26a8 95.7%,#463ddf 96.8%,#4848ec 97.9%,#4755f6 98.7%,#4563fd 99.5%,#416bfe 100%"></i><i style="left:446.7px;width:8.6px;--p:47%;--g:#3e26a8 0%,#3e26a8 96.8%,#484df0 97.9%,#484df0 98.7%,#4563fd 99.5%,#416bfe 100%"></i><i style="left:450.7px;width:8.6px;--p:47%;--g:#3e26a8 0%,#3e26a8 96.8%,#412ebe 97.9%,#484cf0 98.7%,#4563fd 99.5%,#416bfe 100%"></i><i style="left:454.7px;width:8.6px;--p:47%;--g:#3e26a8 0%,#3e26a8 95.7%,#4330c4 96.8%,#484cf0 97.9%,#475cfa 98.7%,#4563fc 99.5%,#416bfe 100%"></i><i style="left:458.7px;width:8.6px;--p:47%;--g:#3e26a8 0%,#3e26a8 95.7%,#422fc0 96.8%,#484cf0 97.9%,#475af9 98.7%,#4563fc 99.5%,#416bfe 100%"></i><i style="left:462.7px;width:8.6px;--p:47%;--g:#3e26a8 0%,#3e26a8 97.9%,#4330c5 98.7%,#4562fc 99.5%,#416afe 100%"></i><i style="left:466.7px;width:8.6px;--p:47%;--g:#3e26a8 0%,#3e26a8 96.8%,#412cba 97.9%,#484cef 98.7%,#4562fc 99.5%,#426afe 100%"></i><i style="left:470.7px;width:8.6px;--p:47%;--g:#3e26a8 0%,#3e26a8 95.7%,#412dbd 96.8%,#4848ec 97.9%,#475af9 98.7%,#4562fc 99.5%,#426afe 100%"></i><i style="left:474.7px;width:8.6px;--p:47%;--g:#3e26a8 0%,#3e26a8 96.8%,#402ab5 97.9%,#484bef 98.7%,#4562fc 99.5%,#426afe 100%"></i><i style="left:478.7px;width:8.6px;--p:47%;--g:#3e26a8 0%,#3e26a8 96.8%,#422fc2 97.9%,#484bef 98.7%,#4562fc 99.5%,#426afe 100%"></i><i style="left:482.7px;width:8.6px;--p:47%;--g:#3e26a8 0%,#3e26a8 94%,#3e28ac 95.7%,#4536d3 96.8%,#4744e8 97.9%,#4852f4 98.7%,#4561fc 99.5%,#426afe 100%"></i><i style="left:486.7px;width:8.6px;--p:47%;--g:#3e26a8 0%,#3e26a8 95.7%,#402ab3 96.8%,#4848ec 97.9%,#475af9 98.7%,#4561fc 99.5%,#4269fe 100%"></i><i style="left:490.7px;width:8.6px;--p:47%;--g:#3e26a8 0%,#3e26a8 95.7%,#3f29b2 96.8%,#484aee 97.9%,#4758f8 98.7%,#4561fc 99.5%,#4269fe 100%"></i><i style="left:494.7px;width:8.6px;--p:47%;--g:#3e26a8 0%,#3e26a8 96.8%,#412ebe 97.9%,#484aee 98.7%,#4561fc 99.5%,#4269fe 100%"></i><i style="left:498.7px;width:8.6px;--p:47%;--g:#3e26a8 0%,#3e26a8 96.8%,#3e27aa 97.9%,#484aee 98.7%,#4661fc 99.5%,#4269fe 100%"></i><i style="left:502.7px;width:8.6px;--p:47%;--g:#3e26a8 0%,#3e26a8 95.7%,#4331c8 96.8%,#484aee 97.9%,#4756f7 98.7%,#4660fc 99.5%,#4269fe 100%"></i><i style="left:506.7px;width:8.6px;--p:47%;--g:#3e26a8 0%,#3e26a8 97.9%,#422fc1 98.7%,#4660fc 99.5%,#4369fe 100%"></i><i style="left:510.7px;width:8.6px;--p:47%;--g:#3e26a8 0%,#3e26a8 96.8%,#4849ed 97.9%,#4849ed 98.7%,#4660fc 99.5%,#4368fe 100%"></i><i style="left:514.7px;width:8.6px;--p:47%;--g:#3e26a8 0%,#3e26a8 95.7%,#4331c7 96.8%,#4743e7 97.9%,#4756f6 98.7%,#4660fb 99.5%,#4368fe 100%"></i><i style="left:518.7px;width:8.6px;--p:47%;--g:#3e26a8 0%,#3e26a8 94%,#3f29b2 95.7%,#4538d8 96.8%,#4849ed 97.9%,#4850f2 98.7%,#4660fb 99.5%,#4368fe 100%"></i><i style="left:522.7px;width:8.6px;--p:47%;--g:#3e26a8 0%,#3e26a8 95.7%,#4029b2 96.8%,#4848ec 97.9%,#4758f8 98.7%,#465ffb 99.5%,#4368fe 100%"></i><i style="left:526.7px;width:8.6px;--p:47%;--g:#3e26a8 0%,#3e26a8 96.8%,#412cb9 97.9%,#4849ec 98.7%,#465ffb 99.5%,#4368fe 100%"></i><i style="left:530.7px;width:8.6px;--p:47%;--g:#3e26a8 0%,#3e26a8 97.9%,#4330c4 98.7%,#465ffb 99.5%,#4368fd 100%"></i><i style="left:534.7px;width:8.6px;--p:47%;--g:#3e26a8 0%,#3e26a8 95.7%,#4330c5 96.8%,#4745e9 97.9%,#4756f7 98.7%,#465ffb 99.5%,#4367fd 100%"></i><i style="left:538.7px;width:8.6px;--p:47%;--g:#3e26a8 0%,#3e26a8 95.7%,#4230c4 96.8%,#4747eb 97.9%,#4758f8 98.7%,#465ffb 99.5%,#4367fd 100%"></i><i style="left:542.7px;width:8.6px;--p:47%;--g:#3e26a8 0%,#3e26a8 96.8%,#4740e4 97.9%,#4848ec 98.7%,#465efb 99.5%,#4367fd 100%"></i><i style="left:546.7px;width:9.1px;--p:44%;--g:#3e26a8 0%,#3e26a8 96.8%,#4330c4 97.9%,#4747ec 98.7%,#465efb 99.5%,#4367fd 100%"></i><b style="top:0;height:97%;left:192.6px;width:74.0px;background:repeating-conic-gradient(rgba(62,38,168,.33) 0 25%,transparent 0 50%) 1px 3px/6px 9.6px;filter:blur(.6px)"></b><b style="top:0;height:97%;left:288.6px;width:74.0px;background:repeating-conic-gradient(rgba(62,38,168,.33) 0 25%,transparent 0 50%) 3px 3px/6px 9.6px;filter:blur(.6px)"></b></div>
<div class="cb" style="left:616.3px;top:1344.8px;width:22.9px;height:480.1px;background:linear-gradient(#f9fb15,#f6ef20,#f5e327,#f9d62d,#feca33,#febe3c,#f1ba37,#debc2a,#c8c129,#afc637,#94ca4a,#77cc60,#5ccc76,#44ca8a,#34c79c,#28c2ab,#12beb9,#01b9c6,#0cb3d3,#1aacdd,#21a3e3,#269ae9,#2c90f0,#2e85f8,#347afd,#3f6efe,#4562fc,#4757f7,#484cef,#4741e5,#4536d5,#422ebf,#3e26a8)"></div>
<div class="cb" style="left:1427.8px;top:1344.8px;width:22.9px;height:480.1px;background:linear-gradient(#f9fb15,#f6ef20,#f5e327,#f9d62d,#feca33,#febe3c,#f1ba37,#debc2a,#c8c129,#afc637,#94ca4a,#77cc60,#5ccc76,#44ca8a,#34c79c,#28c2ab,#12beb9,#01b9c6,#0cb3d3,#1aacdd,#21a3e3,#269ae9,#2c90f0,#2e85f8,#347afd,#3f6efe,#4562fc,#4757f7,#484cef,#4741e5,#4536d5,#422ebf,#3e26a8)"></div>
<svg class="ov" width="1500" height="2600" viewBox="0 0 1500 2600">
<path d="M43.4 28.4V508.5H605" fill="none" stroke="#262626" stroke-width="0.9" stroke-opacity="0.6"/>
<text x="324.2" y="24.3" font-size="15.5" text-anchor="middle" fill="#000" font-weight="bold">21:30 - 21:40&#160;&#160;UT</text>
<line x1="43.4" y1="505" x2="48.9" y2="505" stroke="#262626" stroke-width="1" stroke-opacity="0.7"/>
<text x="38.4" y="510" font-size="14" text-anchor="end" fill="#262626">30</text>
<line x1="43.4" y1="434.6" x2="48.9" y2="434.6" stroke="#262626" stroke-width="1" stroke-opacity="0.7"/>
<text x="38.4" y="439.6" font-size="14" text-anchor="end" fill="#262626">35</text>
<line x1="43.4" y1="364.2" x2="48.9" y2="364.2" stroke="#262626" stroke-width="1" stroke-opacity="0.7"/>
<text x="38.4" y="369.2" font-size="14" text-anchor="end" fill="#262626">40</text>
<line x1="43.4" y1="293.8" x2="48.9" y2="293.8" stroke="#262626" stroke-width="1" stroke-opacity="0.7"/>
<text x="38.4" y="298.8" font-size="14" text-anchor="end" fill="#262626">45</text>
<line x1="43.4" y1="223.4" x2="48.9" y2="223.4" stroke="#262626" stroke-width="1" stroke-opacity="0.7"/>
<text x="38.4" y="228.4" font-size="14" text-anchor="end" fill="#262626">50</text>
<line x1="43.4" y1="153" x2="48.9" y2="153" stroke="#262626" stroke-width="1" stroke-opacity="0.7"/>
<text x="38.4" y="158" font-size="14" text-anchor="end" fill="#262626">55</text>
<line x1="43.4" y1="82.6" x2="48.9" y2="82.6" stroke="#262626" stroke-width="1" stroke-opacity="0.7"/>
<text x="38.4" y="87.6" font-size="14" text-anchor="end" fill="#262626">60</text>
<line x1="59.9" y1="508.5" x2="59.9" y2="503" stroke="#262626" stroke-width="1" stroke-opacity="0.7"/>
<text x="47.4" y="531.5" font-size="14" text-anchor="start" fill="#262626">10<tspan font-size="10.5" dy="-6.5">-3</tspan></text>
<line x1="120.9" y1="508.5" x2="120.9" y2="505.7" stroke="#262626" stroke-width="1" stroke-opacity="0.7"/>
<line x1="156.5" y1="508.5" x2="156.5" y2="505.7" stroke="#262626" stroke-width="1" stroke-opacity="0.7"/>
<line x1="181.8" y1="508.5" x2="181.8" y2="505.7" stroke="#262626" stroke-width="1" stroke-opacity="0.7"/>
<line x1="201.4" y1="508.5" x2="201.4" y2="505.7" stroke="#262626" stroke-width="1" stroke-opacity="0.7"/>
<line x1="217.5" y1="508.5" x2="217.5" y2="505.7" stroke="#262626" stroke-width="1" stroke-opacity="0.7"/>
<line x1="231" y1="508.5" x2="231" y2="505.7" stroke="#262626" stroke-width="1" stroke-opacity="0.7"/>
<line x1="242.8" y1="508.5" x2="242.8" y2="505.7" stroke="#262626" stroke-width="1" stroke-opacity="0.7"/>
<line x1="253.1" y1="508.5" x2="253.1" y2="505.7" stroke="#262626" stroke-width="1" stroke-opacity="0.7"/>
<line x1="262.4" y1="508.5" x2="262.4" y2="503" stroke="#262626" stroke-width="1" stroke-opacity="0.7"/>
<text x="249.9" y="531.5" font-size="14" text-anchor="start" fill="#262626">10<tspan font-size="10.5" dy="-6.5">-2</tspan></text>
<line x1="323.4" y1="508.5" x2="323.4" y2="505.7" stroke="#262626" stroke-width="1" stroke-opacity="0.7"/>
<line x1="359" y1="508.5" x2="359" y2="505.7" stroke="#262626" stroke-width="1" stroke-opacity="0.7"/>
<line x1="384.3" y1="508.5" x2="384.3" y2="505.7" stroke="#262626" stroke-width="1" stroke-opacity="0.7"/>
<line x1="403.9" y1="508.5" x2="403.9" y2="505.7" stroke="#262626" stroke-width="1" stroke-opacity="0.7"/>
<line x1="420" y1="508.5" x2="420" y2="505.7" stroke="#262626" stroke-width="1" stroke-opacity="0.7"/>
<line x1="433.5" y1="508.5" x2="433.5" y2="505.7" stroke="#262626" stroke-width="1" stroke-opacity="0.7"/>
<line x1="445.3" y1="508.5" x2="445.3" y2="505.7" stroke="#262626" stroke-width="1" stroke-opacity="0.7"/>
<line x1="455.6" y1="508.5" x2="455.6" y2="505.7" stroke="#262626" stroke-width="1" stroke-opacity="0.7"/>
<line x1="464.9" y1="508.5" x2="464.9" y2="503" stroke="#262626" stroke-width="1" stroke-opacity="0.7"/>
<text x="452.4" y="531.5" font-size="14" text-anchor="start" fill="#262626">10<tspan font-size="10.5" dy="-6.5">-1</tspan></text>
<line x1="525.9" y1="508.5" x2="525.9" y2="505.7" stroke="#262626" stroke-width="1" stroke-opacity="0.7"/>
<line x1="561.5" y1="508.5" x2="561.5" y2="505.7" stroke="#262626" stroke-width="1" stroke-opacity="0.7"/>
<line x1="586.8" y1="508.5" x2="586.8" y2="505.7" stroke="#262626" stroke-width="1" stroke-opacity="0.7"/>
<line x1="50.6" y1="508.5" x2="50.6" y2="505.7" stroke="#262626" stroke-width="1" stroke-opacity="0.7"/>
<text x="324.2" y="551" font-size="15.4" text-anchor="middle" fill="#262626">Temporal Frequency <tspan font-style="italic" font-family="DejaVu Serif, serif" font-size="13">&#957;</tspan> [Hz]</text>
<text x="15" y="268.4" font-size="15.4" text-anchor="middle" fill="#262626" transform="rotate(-90 15 268.4)">Radio Waves Frequencies [MHz]</text>
<rect x="616.3" y="28.4" width="22.9" height="480.1" fill="none" stroke="#262626" stroke-width="0.8" stroke-opacity="0.6"/>
<line x1="635.2" y1="28.4" x2="639.2" y2="28.4" stroke="#262626" stroke-width="1" stroke-opacity="0.7"/>
<text x="644.7" y="32.9" font-size="12.4" text-anchor="start" fill="#262626">-30</text>
<line x1="635.2" y1="97" x2="639.2" y2="97" stroke="#262626" stroke-width="1" stroke-opacity="0.7"/>
<text x="644.7" y="101.5" font-size="12.4" text-anchor="start" fill="#262626">-40</text>
<line x1="635.2" y1="165.6" x2="639.2" y2="165.6" stroke="#262626" stroke-width="1" stroke-opacity="0.7"/>
<text x="644.7" y="170.1" font-size="12.4" text-anchor="start" fill="#262626">-50</text>
<line x1="635.2" y1="234.2" x2="639.2" y2="234.2" stroke="#262626" stroke-width="1" stroke-opacity="0.7"/>
<text x="644.7" y="238.7" font-size="12.4" text-anchor="start" fill="#262626">-60</text>
<line x1="635.2" y1="302.7" x2="639.2" y2="302.7" stroke="#262626" stroke-width="1" stroke-opacity="0.7"/>
<text x="644.7" y="307.2" font-size="12.4" text-anchor="start" fill="#262626">-70</text>
<line x1="635.2" y1="371.3" x2="639.2" y2="371.3" stroke="#262626" stroke-width="1" stroke-opacity="0.7"/>
<text x="644.7" y="375.8" font-size="12.4" text-anchor="start" fill="#262626">-80</text>
<line x1="635.2" y1="439.9" x2="639.2" y2="439.9" stroke="#262626" stroke-width="1" stroke-opacity="0.7"/>
<text x="644.7" y="444.4" font-size="12.4" text-anchor="start" fill="#262626">-90</text>
<line x1="635.2" y1="508.5" x2="639.2" y2="508.5" stroke="#262626" stroke-width="1" stroke-opacity="0.7"/>
<text x="644.7" y="513" font-size="12.4" text-anchor="start" fill="#262626">-100</text>
<text x="691" y="270.4" font-size="12.8" text-anchor="middle" fill="#262626" transform="rotate(-90 691 270.4)">Power Spectral Density &#934;<tspan font-size="10" dy="3">I</tspan><tspan dy="-3">(</tspan><tspan font-style="italic" font-family="DejaVu Serif, serif" font-size="12">&#957;</tspan>)&#160;&#160;&#160;[dB Hz<tspan font-size="10" dy="-6">-1</tspan><tspan dy="6">]</tspan></text>
<path d="M852.6 28.4V508.5H1407.8" fill="none" stroke="#262626" stroke-width="0.9" stroke-opacity="0.5"/>
<text x="1130.2" y="24.3" font-size="15.5" text-anchor="middle" fill="#000" font-weight="bold">21:30 - 21:40&#160;&#160;UT</text>
<text x="853.6" y="25" font-size="14" text-anchor="start" fill="#262626">&#215;10<tspan font-size="10.5" dy="-6.5">-6</tspan></text>
<line x1="852.6" y1="508.5" x2="858.1" y2="508.5" stroke="#262626" stroke-width="1" stroke-opacity="0.5"/>
<text x="846.6" y="513.5" font-size="14" text-anchor="end" fill="#262626">0</text>
<line x1="852.6" y1="405.6" x2="858.1" y2="405.6" stroke="#262626" stroke-width="1" stroke-opacity="0.5"/>
<text x="846.6" y="410.6" font-size="14" text-anchor="end" fill="#262626">0.5</text>
<line x1="852.6" y1="302.7" x2="858.1" y2="302.7" stroke="#262626" stroke-width="1" stroke-opacity="0.5"/>
<text x="846.6" y="307.7" font-size="14" text-anchor="end" fill="#262626">1</text>
<line x1="852.6" y1="199.8" x2="858.1" y2="199.8" stroke="#262626" stroke-width="1" stroke-opacity="0.5"/>
<text x="846.6" y="204.8" font-size="14" text-anchor="end" fill="#262626">1.5</text>
<line x1="852.6" y1="96.9" x2="858.1" y2="96.9" stroke="#262626" stroke-width="1" stroke-opacity="0.5"/>
<text x="846.6" y="101.9" font-size="14" text-anchor="end" fill="#262626">2</text>
<line x1="852.6" y1="508.5" x2="852.6" y2="503" stroke="#262626" stroke-width="1" stroke-opacity="0.5"/>
<text x="852.6" y="528" font-size="14" text-anchor="middle" fill="#262626">-0.5</text>
<line x1="908.1" y1="508.5" x2="908.1" y2="503" stroke="#262626" stroke-width="1" stroke-opacity="0.5"/>
<text x="908.1" y="528" font-size="14" text-anchor="middle" fill="#262626">-0.4</text>
<line x1="963.6" y1="508.5" x2="963.6" y2="503" stroke="#262626" stroke-width="1" stroke-opacity="0.5"/>
<text x="963.6" y="528" font-size="14" text-anchor="middle" fill="#262626">-0.3</text>
<line x1="1019.2" y1="508.5" x2="1019.2" y2="503" stroke="#262626" stroke-width="1" stroke-opacity="0.5"/>
<text x="1019.2" y="528" font-size="14" text-anchor="middle" fill="#262626">-0.2</text>
<line x1="1074.7" y1="508.5" x2="1074.7" y2="503" stroke="#262626" stroke-width="1" stroke-opacity="0.5"/>
<text x="1074.7" y="528" font-size="14" text-anchor="middle" fill="#262626">-0.1</text>
<line x1="1130.2" y1="508.5" x2="1130.2" y2="503" stroke="#262626" stroke-width="1" stroke-opacity="0.5"/>
<text x="1130.2" y="528" font-size="14" text-anchor="middle" fill="#262626">0</text>
<line x1="1185.7" y1="508.5" x2="1185.7" y2="503" stroke="#262626" stroke-width="1" stroke-opacity="0.5"/>
<text x="1185.7" y="528" font-size="14" text-anchor="middle" fill="#262626">0.1</text>
<line x1="1241.2" y1="508.5" x2="1241.2" y2="503" stroke="#262626" stroke-width="1" stroke-opacity="0.5"/>
<text x="1241.2" y="528" font-size="14" text-anchor="middle" fill="#262626">0.2</text>
<line x1="1296.8" y1="508.5" x2="1296.8" y2="503" stroke="#262626" stroke-width="1" stroke-opacity="0.5"/>
<text x="1296.8" y="528" font-size="14" text-anchor="middle" fill="#262626">0.3</text>
<line x1="1352.3" y1="508.5" x2="1352.3" y2="503" stroke="#262626" stroke-width="1" stroke-opacity="0.5"/>
<text x="1352.3" y="528" font-size="14" text-anchor="middle" fill="#262626">0.4</text>
<line x1="1407.8" y1="508.5" x2="1407.8" y2="503" stroke="#262626" stroke-width="1" stroke-opacity="0.5"/>
<text x="1407.8" y="528" font-size="14" text-anchor="middle" fill="#262626">0.5</text>
<text x="1130.2" y="547" font-size="15.4" text-anchor="middle" fill="#262626">Doppler Frequency f<tspan font-size="11.5" dy="5">D</tspan><tspan dy="-5"> [Hz]</tspan></text>
<text x="815" y="268.4" font-size="15.4" text-anchor="middle" fill="#262626" transform="rotate(-90 815 268.4)">Propagation Time Delay t<tspan font-size="11.5" dy="5">d</tspan><tspan dy="-5"> [s]</tspan></text>
<rect x="1427.8" y="28.4" width="22.9" height="480.1" fill="none" stroke="#262626" stroke-width="0.8" stroke-opacity="0.6"/>
<line x1="1446.7" y1="28.4" x2="1450.7" y2="28.4" stroke="#262626" stroke-width="1" stroke-opacity="0.7"/>
<text x="1456.2" y="32.9" font-size="12.4" text-anchor="start" fill="#262626">50</text>
<line x1="1446.7" y1="76.4" x2="1450.7" y2="76.4" stroke="#262626" stroke-width="1" stroke-opacity="0.7"/>
<text x="1456.2" y="80.9" font-size="12.4" text-anchor="start" fill="#262626">45</text>
<line x1="1446.7" y1="124.4" x2="1450.7" y2="124.4" stroke="#262626" stroke-width="1" stroke-opacity="0.7"/>
<text x="1456.2" y="128.9" font-size="12.4" text-anchor="start" fill="#262626">40</text>
<line x1="1446.7" y1="172.4" x2="1450.7" y2="172.4" stroke="#262626" stroke-width="1" stroke-opacity="0.7"/>
<text x="1456.2" y="176.9" font-size="12.4" text-anchor="start" fill="#262626">35</text>
<line x1="1446.7" y1="220.4" x2="1450.7" y2="220.4" stroke="#262626" stroke-width="1" stroke-opacity="0.7"/>
<text x="1456.2" y="224.9" font-size="12.4" text-anchor="start" fill="#262626">30</text>
<line x1="1446.7" y1="268.4" x2="1450.7" y2="268.4" stroke="#262626" stroke-width="1" stroke-opacity="0.7"/>
<text x="1456.2" y="272.9" font-size="12.4" text-anchor="start" fill="#262626">25</text>
<line x1="1446.7" y1="316.5" x2="1450.7" y2="316.5" stroke="#262626" stroke-width="1" stroke-opacity="0.7"/>
<text x="1456.2" y="321" font-size="12.4" text-anchor="start" fill="#262626">20</text>
<line x1="1446.7" y1="364.5" x2="1450.7" y2="364.5" stroke="#262626" stroke-width="1" stroke-opacity="0.7"/>
<text x="1456.2" y="369" font-size="12.4" text-anchor="start" fill="#262626">15</text>
<line x1="1446.7" y1="412.5" x2="1450.7" y2="412.5" stroke="#262626" stroke-width="1" stroke-opacity="0.7"/>
<text x="1456.2" y="417" font-size="12.4" text-anchor="start" fill="#262626">10</text>
<line x1="1446.7" y1="460.5" x2="1450.7" y2="460.5" stroke="#262626" stroke-width="1" stroke-opacity="0.7"/>
<text x="1456.2" y="465" font-size="12.4" text-anchor="start" fill="#262626">5</text>
<line x1="1446.7" y1="508.5" x2="1450.7" y2="508.5" stroke="#262626" stroke-width="1" stroke-opacity="0.7"/>
<text x="1456.2" y="513" font-size="12.4" text-anchor="start" fill="#262626">0</text>
<text x="1490" y="268.4" font-size="12.8" text-anchor="middle" fill="#262626" transform="rotate(-90 1490 268.4)">Generalised Spectrum P<tspan font-size="10" dy="3">I</tspan><tspan dy="-3">(t</tspan><tspan font-size="10" dy="3">d</tspan><tspan dy="-3">,f</tspan><tspan font-size="10" dy="3">D</tspan><tspan dy="-3">)&#160;&#160;&#160;[dB s</tspan><tspan font-size="10" dy="-6">-1</tspan><tspan dy="6"> Hz</tspan><tspan font-size="10" dy="-6">-1</tspan><tspan dy="6">]</tspan></text>
<text x="336.7" y="617.4" font-size="30.3" text-anchor="middle" fill="#000" font-family="Liberation Mono, monospace">(d)</text>
<text x="1144" y="617.4" font-size="30.3" text-anchor="middle" fill="#000" font-family="Liberation Mono, monospace">(j)</text>
<path d="M43.4 686.6V1166.7H605" fill="none" stroke="#262626" stroke-width="0.9" stroke-opacity="0.6"/>
<text x="324.2" y="682.5" font-size="15.5" text-anchor="middle" fill="#000" font-weight="bold">21:40 - 21:50&#160;&#160;UT</text>
<line x1="43.4" y1="1163.2" x2="48.9" y2="1163.2" stroke="#262626" stroke-width="1" stroke-opacity="0.7"/>
<text x="38.4" y="1168.2" font-size="14" text-anchor="end" fill="#262626">30</text>
<line x1="43.4" y1="1092.8" x2="48.9" y2="1092.8" stroke="#262626" stroke-width="1" stroke-opacity="0.7"/>
<text x="38.4" y="1097.8" font-size="14" text-anchor="end" fill="#262626">35</text>
<line x1="43.4" y1="1022.4" x2="48.9" y2="1022.4" stroke="#262626" stroke-width="1" stroke-opacity="0.7"/>
<text x="38.4" y="1027.4" font-size="14" text-anchor="end" fill="#262626">40</text>
<line x1="43.4" y1="952" x2="48.9" y2="952" stroke="#262626" stroke-width="1" stroke-opacity="0.7"/>
<text x="38.4" y="957" font-size="14" text-anchor="end" fill="#262626">45</text>
<line x1="43.4" y1="881.6" x2="48.9" y2="881.6" stroke="#262626" stroke-width="1" stroke-opacity="0.7"/>
<text x="38.4" y="886.6" font-size="14" text-anchor="end" fill="#262626">50</text>
<line x1="43.4" y1="811.2" x2="48.9" y2="811.2" stroke="#262626" stroke-width="1" stroke-opacity="0.7"/>
<text x="38.4" y="816.2" font-size="14" text-anchor="end" fill="#262626">55</text>
<line x1="43.4" y1="740.8" x2="48.9" y2="740.8" stroke="#262626" stroke-width="1" stroke-opacity="0.7"/>
<text x="38.4" y="745.8" font-size="14" text-anchor="end" fill="#262626">60</text>
<line x1="59.9" y1="1166.7" x2="59.9" y2="1161.2" stroke="#262626" stroke-width="1" stroke-opacity="0.7"/>
<text x="47.4" y="1189.7" font-size="14" text-anchor="start" fill="#262626">10<tspan font-size="10.5" dy="-6.5">-3</tspan></text>
<line x1="120.9" y1="1166.7" x2="120.9" y2="1163.9" stroke="#262626" stroke-width="1" stroke-opacity="0.7"/>
<line x1="156.5" y1="1166.7" x2="156.5" y2="1163.9" stroke="#262626" stroke-width="1" stroke-opacity="0.7"/>
<line x1="181.8" y1="1166.7" x2="181.8" y2="1163.9" stroke="#262626" stroke-width="1" stroke-opacity="0.7"/>
<line x1="201.4" y1="1166.7" x2="201.4" y2="1163.9" stroke="#262626" stroke-width="1" stroke-opacity="0.7"/>
<line x1="217.5" y1="1166.7" x2="217.5" y2="1163.9" stroke="#262626" stroke-width="1" stroke-opacity="0.7"/>
<line x1="231" y1="1166.7" x2="231" y2="1163.9" stroke="#262626" stroke-width="1" stroke-opacity="0.7"/>
<line x1="242.8" y1="1166.7" x2="242.8" y2="1163.9" stroke="#262626" stroke-width="1" stroke-opacity="0.7"/>
<line x1="253.1" y1="1166.7" x2="253.1" y2="1163.9" stroke="#262626" stroke-width="1" stroke-opacity="0.7"/>
<line x1="262.4" y1="1166.7" x2="262.4" y2="1161.2" stroke="#262626" stroke-width="1" stroke-opacity="0.7"/>
<text x="249.9" y="1189.7" font-size="14" text-anchor="start" fill="#262626">10<tspan font-size="10.5" dy="-6.5">-2</tspan></text>
<line x1="323.4" y1="1166.7" x2="323.4" y2="1163.9" stroke="#262626" stroke-width="1" stroke-opacity="0.7"/>
<line x1="359" y1="1166.7" x2="359" y2="1163.9" stroke="#262626" stroke-width="1" stroke-opacity="0.7"/>
<line x1="384.3" y1="1166.7" x2="384.3" y2="1163.9" stroke="#262626" stroke-width="1" stroke-opacity="0.7"/>
<line x1="403.9" y1="1166.7" x2="403.9" y2="1163.9" stroke="#262626" stroke-width="1" stroke-opacity="0.7"/>
<line x1="420" y1="1166.7" x2="420" y2="1163.9" stroke="#262626" stroke-width="1" stroke-opacity="0.7"/>
<line x1="433.5" y1="1166.7" x2="433.5" y2="1163.9" stroke="#262626" stroke-width="1" stroke-opacity="0.7"/>
<line x1="445.3" y1="1166.7" x2="445.3" y2="1163.9" stroke="#262626" stroke-width="1" stroke-opacity="0.7"/>
<line x1="455.6" y1="1166.7" x2="455.6" y2="1163.9" stroke="#262626" stroke-width="1" stroke-opacity="0.7"/>
<line x1="464.9" y1="1166.7" x2="464.9" y2="1161.2" stroke="#262626" stroke-width="1" stroke-opacity="0.7"/>
<text x="452.4" y="1189.7" font-size="14" text-anchor="start" fill="#262626">10<tspan font-size="10.5" dy="-6.5">-1</tspan></text>
<line x1="525.9" y1="1166.7" x2="525.9" y2="1163.9" stroke="#262626" stroke-width="1" stroke-opacity="0.7"/>
<line x1="561.5" y1="1166.7" x2="561.5" y2="1163.9" stroke="#262626" stroke-width="1" stroke-opacity="0.7"/>
<line x1="586.8" y1="1166.7" x2="586.8" y2="1163.9" stroke="#262626" stroke-width="1" stroke-opacity="0.7"/>
<line x1="50.6" y1="1166.7" x2="50.6" y2="1163.9" stroke="#262626" stroke-width="1" stroke-opacity="0.7"/>
<text x="324.2" y="1209.2" font-size="15.4" text-anchor="middle" fill="#262626">Temporal Frequency <tspan font-style="italic" font-family="DejaVu Serif, serif" font-size="13">&#957;</tspan> [Hz]</text>
<text x="15" y="926.7" font-size="15.4" text-anchor="middle" fill="#262626" transform="rotate(-90 15 926.7)">Radio Waves Frequencies [MHz]</text>
<rect x="616.3" y="686.6" width="22.9" height="480.1" fill="none" stroke="#262626" stroke-width="0.8" stroke-opacity="0.6"/>
<line x1="635.2" y1="686.6" x2="639.2" y2="686.6" stroke="#262626" stroke-width="1" stroke-opacity="0.7"/>
<text x="644.7" y="691.1" font-size="12.4" text-anchor="start" fill="#262626">-30</text>
<line x1="635.2" y1="755.2" x2="639.2" y2="755.2" stroke="#262626" stroke-width="1" stroke-opacity="0.7"/>
<text x="644.7" y="759.7" font-size="12.4" text-anchor="start" fill="#262626">-40</text>
<line x1="635.2" y1="823.8" x2="639.2" y2="823.8" stroke="#262626" stroke-width="1" stroke-opacity="0.7"/>
<text x="644.7" y="828.3" font-size="12.4" text-anchor="start" fill="#262626">-50</text>
<line x1="635.2" y1="892.4" x2="639.2" y2="892.4" stroke="#262626" stroke-width="1" stroke-opacity="0.7"/>
<text x="644.7" y="896.9" font-size="12.4" text-anchor="start" fill="#262626">-60</text>
<line x1="635.2" y1="960.9" x2="639.2" y2="960.9" stroke="#262626" stroke-width="1" stroke-opacity="0.7"/>
<text x="644.7" y="965.4" font-size="12.4" text-anchor="start" fill="#262626">-70</text>
<line x1="635.2" y1="1029.5" x2="639.2" y2="1029.5" stroke="#262626" stroke-width="1" stroke-opacity="0.7"/>
<text x="644.7" y="1034" font-size="12.4" text-anchor="start" fill="#262626">-80</text>
<line x1="635.2" y1="1098.1" x2="639.2" y2="1098.1" stroke="#262626" stroke-width="1" stroke-opacity="0.7"/>
<text x="644.7" y="1102.6" font-size="12.4" text-anchor="start" fill="#262626">-90</text>
<line x1="635.2" y1="1166.7" x2="639.2" y2="1166.7" stroke="#262626" stroke-width="1" stroke-opacity="0.7"/>
<text x="644.7" y="1171.2" font-size="12.4" text-anchor="start" fill="#262626">-100</text>
<text x="691" y="928.7" font-size="12.8" text-anchor="middle" fill="#262626" transform="rotate(-90 691 928.7)">Power Spectral Density &#934;<tspan font-size="10" dy="3">I</tspan><tspan dy="-3">(</tspan><tspan font-style="italic" font-family="DejaVu Serif, serif" font-size="12">&#957;</tspan>)&#160;&#160;&#160;[dB Hz<tspan font-size="10" dy="-6">-1</tspan><tspan dy="6">]</tspan></text>
<path d="M852.6 686.6V1166.7H1407.8" fill="none" stroke="#262626" stroke-width="0.9" stroke-opacity="0.5"/>
<text x="1130.2" y="682.5" font-size="15.5" text-anchor="middle" fill="#000" font-weight="bold">21:40 - 21:50&#160;&#160;UT</text>
<text x="853.6" y="683.2" font-size="14" text-anchor="start" fill="#262626">&#215;10<tspan font-size="10.5" dy="-6.5">-6</tspan></text>
<line x1="852.6" y1="1166.7" x2="858.1" y2="1166.7" stroke="#262626" stroke-width="1" stroke-opacity="0.5"/>
<text x="846.6" y="1171.7" font-size="14" text-anchor="end" fill="#262626">0</text>
<line x1="852.6" y1="1063.8" x2="858.1" y2="1063.8" stroke="#262626" stroke-width="1" stroke-opacity="0.5"/>
<text x="846.6" y="1068.8" font-size="14" text-anchor="end" fill="#262626">0.5</text>
<line x1="852.6" y1="960.9" x2="858.1" y2="960.9" stroke="#262626" stroke-width="1" stroke-opacity="0.5"/>
<text x="846.6" y="965.9" font-size="14" text-anchor="end" fill="#262626">1</text>
<line x1="852.6" y1="858" x2="858.1" y2="858" stroke="#262626" stroke-width="1" stroke-opacity="0.5"/>
<text x="846.6" y="863" font-size="14" text-anchor="end" fill="#262626">1.5</text>
<line x1="852.6" y1="755.1" x2="858.1" y2="755.1" stroke="#262626" stroke-width="1" stroke-opacity="0.5"/>
<text x="846.6" y="760.1" font-size="14" text-anchor="end" fill="#262626">2</text>
<line x1="852.6" y1="1166.7" x2="852.6" y2="1161.2" stroke="#262626" stroke-width="1" stroke-opacity="0.5"/>
<text x="852.6" y="1186.2" font-size="14" text-anchor="middle" fill="#262626">-0.5</text>
<line x1="908.1" y1="1166.7" x2="908.1" y2="1161.2" stroke="#262626" stroke-width="1" stroke-opacity="0.5"/>
<text x="908.1" y="1186.2" font-size="14" text-anchor="middle" fill="#262626">-0.4</text>
<line x1="963.6" y1="1166.7" x2="963.6" y2="1161.2" stroke="#262626" stroke-width="1" stroke-opacity="0.5"/>
<text x="963.6" y="1186.2" font-size="14" text-anchor="middle" fill="#262626">-0.3</text>
<line x1="1019.2" y1="1166.7" x2="1019.2" y2="1161.2" stroke="#262626" stroke-width="1" stroke-opacity="0.5"/>
<text x="1019.2" y="1186.2" font-size="14" text-anchor="middle" fill="#262626">-0.2</text>
<line x1="1074.7" y1="1166.7" x2="1074.7" y2="1161.2" stroke="#262626" stroke-width="1" stroke-opacity="0.5"/>
<text x="1074.7" y="1186.2" font-size="14" text-anchor="middle" fill="#262626">-0.1</text>
<line x1="1130.2" y1="1166.7" x2="1130.2" y2="1161.2" stroke="#262626" stroke-width="1" stroke-opacity="0.5"/>
<text x="1130.2" y="1186.2" font-size="14" text-anchor="middle" fill="#262626">0</text>
<line x1="1185.7" y1="1166.7" x2="1185.7" y2="1161.2" stroke="#262626" stroke-width="1" stroke-opacity="0.5"/>
<text x="1185.7" y="1186.2" font-size="14" text-anchor="middle" fill="#262626">0.1</text>
<line x1="1241.2" y1="1166.7" x2="1241.2" y2="1161.2" stroke="#262626" stroke-width="1" stroke-opacity="0.5"/>
<text x="1241.2" y="1186.2" font-size="14" text-anchor="middle" fill="#262626">0.2</text>
<line x1="1296.8" y1="1166.7" x2="1296.8" y2="1161.2" stroke="#262626" stroke-width="1" stroke-opacity="0.5"/>
<text x="1296.8" y="1186.2" font-size="14" text-anchor="middle" fill="#262626">0.3</text>
<line x1="1352.3" y1="1166.7" x2="1352.3" y2="1161.2" stroke="#262626" stroke-width="1" stroke-opacity="0.5"/>
<text x="1352.3" y="1186.2" font-size="14" text-anchor="middle" fill="#262626">0.4</text>
<line x1="1407.8" y1="1166.7" x2="1407.8" y2="1161.2" stroke="#262626" stroke-width="1" stroke-opacity="0.5"/>
<text x="1407.8" y="1186.2" font-size="14" text-anchor="middle" fill="#262626">0.5</text>
<text x="1130.2" y="1205.2" font-size="15.4" text-anchor="middle" fill="#262626">Doppler Frequency f<tspan font-size="11.5" dy="5">D</tspan><tspan dy="-5"> [Hz]</tspan></text>
<text x="815" y="926.7" font-size="15.4" text-anchor="middle" fill="#262626" transform="rotate(-90 815 926.7)">Propagation Time Delay t<tspan font-size="11.5" dy="5">d</tspan><tspan dy="-5"> [s]</tspan></text>
<rect x="1427.8" y="686.6" width="22.9" height="480.1" fill="none" stroke="#262626" stroke-width="0.8" stroke-opacity="0.6"/>
<line x1="1446.7" y1="686.6" x2="1450.7" y2="686.6" stroke="#262626" stroke-width="1" stroke-opacity="0.7"/>
<text x="1456.2" y="691.1" font-size="12.4" text-anchor="start" fill="#262626">50</text>
<line x1="1446.7" y1="734.6" x2="1450.7" y2="734.6" stroke="#262626" stroke-width="1" stroke-opacity="0.7"/>
<text x="1456.2" y="739.1" font-size="12.4" text-anchor="start" fill="#262626">45</text>
<line x1="1446.7" y1="782.6" x2="1450.7" y2="782.6" stroke="#262626" stroke-width="1" stroke-opacity="0.7"/>
<text x="1456.2" y="787.1" font-size="12.4" text-anchor="start" fill="#262626">40</text>
<line x1="1446.7" y1="830.6" x2="1450.7" y2="830.6" stroke="#262626" stroke-width="1" stroke-opacity="0.7"/>
<text x="1456.2" y="835.1" font-size="12.4" text-anchor="start" fill="#262626">35</text>
<line x1="1446.7" y1="878.6" x2="1450.7" y2="878.6" stroke="#262626" stroke-width="1" stroke-opacity="0.7"/>
<text x="1456.2" y="883.1" font-size="12.4" text-anchor="start" fill="#262626">30</text>
<line x1="1446.7" y1="926.7" x2="1450.7" y2="926.7" stroke="#262626" stroke-width="1" stroke-opacity="0.7"/>
<text x="1456.2" y="931.2" font-size="12.4" text-anchor="start" fill="#262626">25</text>
<line x1="1446.7" y1="974.7" x2="1450.7" y2="974.7" stroke="#262626" stroke-width="1" stroke-opacity="0.7"/>
<text x="1456.2" y="979.2" font-size="12.4" text-anchor="start" fill="#262626">20</text>
<line x1="1446.7" y1="1022.7" x2="1450.7" y2="1022.7" stroke="#262626" stroke-width="1" stroke-opacity="0.7"/>
<text x="1456.2" y="1027.2" font-size="12.4" text-anchor="start" fill="#262626">15</text>
<line x1="1446.7" y1="1070.7" x2="1450.7" y2="1070.7" stroke="#262626" stroke-width="1" stroke-opacity="0.7"/>
<text x="1456.2" y="1075.2" font-size="12.4" text-anchor="start" fill="#262626">10</text>
<line x1="1446.7" y1="1118.7" x2="1450.7" y2="1118.7" stroke="#262626" stroke-width="1" stroke-opacity="0.7"/>
<text x="1456.2" y="1123.2" font-size="12.4" text-anchor="start" fill="#262626">5</text>
<line x1="1446.7" y1="1166.7" x2="1450.7" y2="1166.7" stroke="#262626" stroke-width="1" stroke-opacity="0.7"/>
<text x="1456.2" y="1171.2" font-size="12.4" text-anchor="start" fill="#262626">0</text>
<text x="1490" y="926.7" font-size="12.8" text-anchor="middle" fill="#262626" transform="rotate(-90 1490 926.7)">Generalised Spectrum P<tspan font-size="10" dy="3">I</tspan><tspan dy="-3">(t</tspan><tspan font-size="10" dy="3">d</tspan><tspan dy="-3">,f</tspan><tspan font-size="10" dy="3">D</tspan><tspan dy="-3">)&#160;&#160;&#160;[dB s</tspan><tspan font-size="10" dy="-6">-1</tspan><tspan dy="6"> Hz</tspan><tspan font-size="10" dy="-6">-1</tspan><tspan dy="6">]</tspan></text>
<text x="336.7" y="1275.6" font-size="30.3" text-anchor="middle" fill="#000" font-family="Liberation Mono, monospace">(e)</text>
<text x="1144" y="1275.6" font-size="30.3" text-anchor="middle" fill="#000" font-family="Liberation Mono, monospace">(k)</text>
<path d="M43.4 1344.8V1824.9H605" fill="none" stroke="#262626" stroke-width="0.9" stroke-opacity="0.6"/>
<text x="324.2" y="1340.7" font-size="15.5" text-anchor="middle" fill="#000" font-weight="bold">21:50 - 22:00&#160;&#160;UT</text>
<line x1="43.4" y1="1821.4" x2="48.9" y2="1821.4" stroke="#262626" stroke-width="1" stroke-opacity="0.7"/>
<text x="38.4" y="1826.4" font-size="14" text-anchor="end" fill="#262626">30</text>
<line x1="43.4" y1="1751" x2="48.9" y2="1751" stroke="#262626" stroke-width="1" stroke-opacity="0.7"/>
<text x="38.4" y="1756" font-size="14" text-anchor="end" fill="#262626">35</text>
<line x1="43.4" y1="1680.6" x2="48.9" y2="1680.6" stroke="#262626" stroke-width="1" stroke-opacity="0.7"/>
<text x="38.4" y="1685.6" font-size="14" text-anchor="end" fill="#262626">40</text>
<line x1="43.4" y1="1610.2" x2="48.9" y2="1610.2" stroke="#262626" stroke-width="1" stroke-opacity="0.7"/>
<text x="38.4" y="1615.2" font-size="14" text-anchor="end" fill="#262626">45</text>
<line x1="43.4" y1="1539.8" x2="48.9" y2="1539.8" stroke="#262626" stroke-width="1" stroke-opacity="0.7"/>
<text x="38.4" y="1544.8" font-size="14" text-anchor="end" fill="#262626">50</text>
<line x1="43.4" y1="1469.4" x2="48.9" y2="1469.4" stroke="#262626" stroke-width="1" stroke-opacity="0.7"/>
<text x="38.4" y="1474.4" font-size="14" text-anchor="end" fill="#262626">55</text>
<line x1="43.4" y1="1399" x2="48.9" y2="1399" stroke="#262626" stroke-width="1" stroke-opacity="0.7"/>
<text x="38.4" y="1404" font-size="14" text-anchor="end" fill="#262626">60</text>
<line x1="59.9" y1="1824.9" x2="59.9" y2="1819.4" stroke="#262626" stroke-width="1" stroke-opacity="0.7"/>
<text x="47.4" y="1847.9" font-size="14" text-anchor="start" fill="#262626">10<tspan font-size="10.5" dy="-6.5">-3</tspan></text>
<line x1="120.9" y1="1824.9" x2="120.9" y2="1822.1" stroke="#262626" stroke-width="1" stroke-opacity="0.7"/>
<line x1="156.5" y1="1824.9" x2="156.5" y2="1822.1" stroke="#262626" stroke-width="1" stroke-opacity="0.7"/>
<line x1="181.8" y1="1824.9" x2="181.8" y2="1822.1" stroke="#262626" stroke-width="1" stroke-opacity="0.7"/>
<line x1="201.4" y1="1824.9" x2="201.4" y2="1822.1" stroke="#262626" stroke-width="1" stroke-opacity="0.7"/>
<line x1="217.5" y1="1824.9" x2="217.5" y2="1822.1" stroke="#262626" stroke-width="1" stroke-opacity="0.7"/>
<line x1="231" y1="1824.9" x2="231" y2="1822.1" stroke="#262626" stroke-width="1" stroke-opacity="0.7"/>
<line x1="242.8" y1="1824.9" x2="242.8" y2="1822.1" stroke="#262626" stroke-width="1" stroke-opacity="0.7"/>
<line x1="253.1" y1="1824.9" x2="253.1" y2="1822.1" stroke="#262626" stroke-width="1" stroke-opacity="0.7"/>
<line x1="262.4" y1="1824.9" x2="262.4" y2="1819.4" stroke="#262626" stroke-width="1" stroke-opacity="0.7"/>
<text x="249.9" y="1847.9" font-size="14" text-anchor="start" fill="#262626">10<tspan font-size="10.5" dy="-6.5">-2</tspan></text>
<line x1="323.4" y1="1824.9" x2="323.4" y2="1822.1" stroke="#262626" stroke-width="1" stroke-opacity="0.7"/>
<line x1="359" y1="1824.9" x2="359" y2="1822.1" stroke="#262626" stroke-width="1" stroke-opacity="0.7"/>
<line x1="384.3" y1="1824.9" x2="384.3" y2="1822.1" stroke="#262626" stroke-width="1" stroke-opacity="0.7"/>
<line x1="403.9" y1="1824.9" x2="403.9" y2="1822.1" stroke="#262626" stroke-width="1" stroke-opacity="0.7"/>
<line x1="420" y1="1824.9" x2="420" y2="1822.1" stroke="#262626" stroke-width="1" stroke-opacity="0.7"/>
<line x1="433.5" y1="1824.9" x2="433.5" y2="1822.1" stroke="#262626" stroke-width="1" stroke-opacity="0.7"/>
<line x1="445.3" y1="1824.9" x2="445.3" y2="1822.1" stroke="#262626" stroke-width="1" stroke-opacity="0.7"/>
<line x1="455.6" y1="1824.9" x2="455.6" y2="1822.1" stroke="#262626" stroke-width="1" stroke-opacity="0.7"/>
<line x1="464.9" y1="1824.9" x2="464.9" y2="1819.4" stroke="#262626" stroke-width="1" stroke-opacity="0.7"/>
<text x="452.4" y="1847.9" font-size="14" text-anchor="start" fill="#262626">10<tspan font-size="10.5" dy="-6.5">-1</tspan></text>
<line x1="525.9" y1="1824.9" x2="525.9" y2="1822.1" stroke="#262626" stroke-width="1" stroke-opacity="0.7"/>
<line x1="561.5" y1="1824.9" x2="561.5" y2="1822.1" stroke="#262626" stroke-width="1" stroke-opacity="0.7"/>
<line x1="586.8" y1="1824.9" x2="586.8" y2="1822.1" stroke="#262626" stroke-width="1" stroke-opacity="0.7"/>
<line x1="50.6" y1="1824.9" x2="50.6" y2="1822.1" stroke="#262626" stroke-width="1" stroke-opacity="0.7"/>
<text x="324.2" y="1867.4" font-size="15.4" text-anchor="middle" fill="#262626">Temporal Frequency <tspan font-style="italic" font-family="DejaVu Serif, serif" font-size="13">&#957;</tspan> [Hz]</text>
<text x="15" y="1584.9" font-size="15.4" text-anchor="middle" fill="#262626" transform="rotate(-90 15 1584.9)">Radio Waves Frequencies [MHz]</text>
<rect x="616.3" y="1344.8" width="22.9" height="480.1" fill="none" stroke="#262626" stroke-width="0.8" stroke-opacity="0.6"/>
<line x1="635.2" y1="1344.8" x2="639.2" y2="1344.8" stroke="#262626" stroke-width="1" stroke-opacity="0.7"/>
<text x="644.7" y="1349.3" font-size="12.4" text-anchor="start" fill="#262626">-30</text>
<line x1="635.2" y1="1413.4" x2="639.2" y2="1413.4" stroke="#262626" stroke-width="1" stroke-opacity="0.7"/>
<text x="644.7" y="1417.9" font-size="12.4" text-anchor="start" fill="#262626">-40</text>
<line x1="635.2" y1="1482" x2="639.2" y2="1482" stroke="#262626" stroke-width="1" stroke-opacity="0.7"/>
<text x="644.7" y="1486.5" font-size="12.4" text-anchor="start" fill="#262626">-50</text>
<line x1="635.2" y1="1550.6" x2="639.2" y2="1550.6" stroke="#262626" stroke-width="1" stroke-opacity="0.7"/>
<text x="644.7" y="1555.1" font-size="12.4" text-anchor="start" fill="#262626">-60</text>
<line x1="635.2" y1="1619.1" x2="639.2" y2="1619.1" stroke="#262626" stroke-width="1" stroke-opacity="0.7"/>
<text x="644.7" y="1623.6" font-size="12.4" text-anchor="start" fill="#262626">-70</text>
<line x1="635.2" y1="1687.7" x2="639.2" y2="1687.7" stroke="#262626" stroke-width="1" stroke-opacity="0.7"/>
<text x="644.7" y="1692.2" font-size="12.4" text-anchor="start" fill="#262626">-80</text>
<line x1="635.2" y1="1756.3" x2="639.2" y2="1756.3" stroke="#262626" stroke-width="1" stroke-opacity="0.7"/>
<text x="644.7" y="1760.8" font-size="12.4" text-anchor="start" fill="#262626">-90</text>
<line x1="635.2" y1="1824.9" x2="639.2" y2="1824.9" stroke="#262626" stroke-width="1" stroke-opacity="0.7"/>
<text x="644.7" y="1829.4" font-size="12.4" text-anchor="start" fill="#262626">-100</text>
<text x="691" y="1586.9" font-size="12.8" text-anchor="middle" fill="#262626" transform="rotate(-90 691 1586.9)">Power Spectral Density &#934;<tspan font-size="10" dy="3">I</tspan><tspan dy="-3">(</tspan><tspan font-style="italic" font-family="DejaVu Serif, serif" font-size="12">&#957;</tspan>)&#160;&#160;&#160;[dB Hz<tspan font-size="10" dy="-6">-1</tspan><tspan dy="6">]</tspan></text>
<path d="M852.6 1344.8V1824.9H1407.8" fill="none" stroke="#262626" stroke-width="0.9" stroke-opacity="0.5"/>
<text x="1130.2" y="1340.7" font-size="15.5" text-anchor="middle" fill="#000" font-weight="bold">21:50 - 22:00&#160;&#160;UT</text>
<text x="853.6" y="1341.4" font-size="14" text-anchor="start" fill="#262626">&#215;10<tspan font-size="10.5" dy="-6.5">-6</tspan></text>
<line x1="852.6" y1="1824.9" x2="858.1" y2="1824.9" stroke="#262626" stroke-width="1" stroke-opacity="0.5"/>
<text x="846.6" y="1829.9" font-size="14" text-anchor="end" fill="#262626">0</text>
<line x1="852.6" y1="1722" x2="858.1" y2="1722" stroke="#262626" stroke-width="1" stroke-opacity="0.5"/>
<text x="846.6" y="1727" font-size="14" text-anchor="end" fill="#262626">0.5</text>
<line x1="852.6" y1="1619.1" x2="858.1" y2="1619.1" stroke="#262626" stroke-width="1" stroke-opacity="0.5"/>
<text x="846.6" y="1624.1" font-size="14" text-anchor="end" fill="#262626">1</text>
<line x1="852.6" y1="1516.2" x2="858.1" y2="1516.2" stroke="#262626" stroke-width="1" stroke-opacity="0.5"/>
<text x="846.6" y="1521.2" font-size="14" text-anchor="end" fill="#262626">1.5</text>
<line x1="852.6" y1="1413.3" x2="858.1" y2="1413.3" stroke="#262626" stroke-width="1" stroke-opacity="0.5"/>
<text x="846.6" y="1418.3" font-size="14" text-anchor="end" fill="#262626">2</text>
<line x1="852.6" y1="1824.9" x2="852.6" y2="1819.4" stroke="#262626" stroke-width="1" stroke-opacity="0.5"/>
<text x="852.6" y="1844.4" font-size="14" text-anchor="middle" fill="#262626">-0.5</text>
<line x1="908.1" y1="1824.9" x2="908.1" y2="1819.4" stroke="#262626" stroke-width="1" stroke-opacity="0.5"/>
<text x="908.1" y="1844.4" font-size="14" text-anchor="middle" fill="#262626">-0.4</text>
<line x1="963.6" y1="1824.9" x2="963.6" y2="1819.4" stroke="#262626" stroke-width="1" stroke-opacity="0.5"/>
<text x="963.6" y="1844.4" font-size="14" text-anchor="middle" fill="#262626">-0.3</text>
<line x1="1019.2" y1="1824.9" x2="1019.2" y2="1819.4" stroke="#262626" stroke-width="1" stroke-opacity="0.5"/>
<text x="1019.2" y="1844.4" font-size="14" text-anchor="middle" fill="#262626">-0.2</text>
<line x1="1074.7" y1="1824.9" x2="1074.7" y2="1819.4" stroke="#262626" stroke-width="1" stroke-opacity="0.5"/>
<text x="1074.7" y="1844.4" font-size="14" text-anchor="middle" fill="#262626">-0.1</text>
<line x1="1130.2" y1="1824.9" x2="1130.2" y2="1819.4" stroke="#262626" stroke-width="1" stroke-opacity="0.5"/>
<text x="1130.2" y="1844.4" font-size="14" text-anchor="middle" fill="#262626">0</text>
<line x1="1185.7" y1="1824.9" x2="1185.7" y2="1819.4" stroke="#262626" stroke-width="1" stroke-opacity="0.5"/>
<text x="1185.7" y="1844.4" font-size="14" text-anchor="middle" fill="#262626">0.1</text>
<line x1="1241.2" y1="1824.9" x2="1241.2" y2="1819.4" stroke="#262626" stroke-width="1" stroke-opacity="0.5"/>
<text x="1241.2" y="1844.4" font-size="14" text-anchor="middle" fill="#262626">0.2</text>
<line x1="1296.8" y1="1824.9" x2="1296.8" y2="1819.4" stroke="#262626" stroke-width="1" stroke-opacity="0.5"/>
<text x="1296.8" y="1844.4" font-size="14" text-anchor="middle" fill="#262626">0.3</text>
<line x1="1352.3" y1="1824.9" x2="1352.3" y2="1819.4" stroke="#262626" stroke-width="1" stroke-opacity="0.5"/>
<text x="1352.3" y="1844.4" font-size="14" text-anchor="middle" fill="#262626">0.4</text>
<line x1="1407.8" y1="1824.9" x2="1407.8" y2="1819.4" stroke="#262626" stroke-width="1" stroke-opacity="0.5"/>
<text x="1407.8" y="1844.4" font-size="14" text-anchor="middle" fill="#262626">0.5</text>
<text x="1130.2" y="1863.4" font-size="15.4" text-anchor="middle" fill="#262626">Doppler Frequency f<tspan font-size="11.5" dy="5">D</tspan><tspan dy="-5"> [Hz]</tspan></text>
<text x="815" y="1584.9" font-size="15.4" text-anchor="middle" fill="#262626" transform="rotate(-90 815 1584.9)">Propagation Time Delay t<tspan font-size="11.5" dy="5">d</tspan><tspan dy="-5"> [s]</tspan></text>
<rect x="1427.8" y="1344.8" width="22.9" height="480.1" fill="none" stroke="#262626" stroke-width="0.8" stroke-opacity="0.6"/>
<line x1="1446.7" y1="1344.8" x2="1450.7" y2="1344.8" stroke="#262626" stroke-width="1" stroke-opacity="0.7"/>
<text x="1456.2" y="1349.3" font-size="12.4" text-anchor="start" fill="#262626">50</text>
<line x1="1446.7" y1="1392.8" x2="1450.7" y2="1392.8" stroke="#262626" stroke-width="1" stroke-opacity="0.7"/>
<text x="1456.2" y="1397.3" font-size="12.4" text-anchor="start" fill="#262626">45</text>
<line x1="1446.7" y1="1440.8" x2="1450.7" y2="1440.8" stroke="#262626" stroke-width="1" stroke-opacity="0.7"/>
<text x="1456.2" y="1445.3" font-size="12.4" text-anchor="start" fill="#262626">40</text>
<line x1="1446.7" y1="1488.8" x2="1450.7" y2="1488.8" stroke="#262626" stroke-width="1" stroke-opacity="0.7"/>
<text x="1456.2" y="1493.3" font-size="12.4" text-anchor="start" fill="#262626">35</text>
<line x1="1446.7" y1="1536.8" x2="1450.7" y2="1536.8" stroke="#262626" stroke-width="1" stroke-opacity="0.7"/>
<text x="1456.2" y="1541.3" font-size="12.4" text-anchor="start" fill="#262626">30</text>
<line x1="1446.7" y1="1584.9" x2="1450.7" y2="1584.9" stroke="#262626" stroke-width="1" stroke-opacity="0.7"/>
<text x="1456.2" y="1589.4" font-size="12.4" text-anchor="start" fill="#262626">25</text>
<line x1="1446.7" y1="1632.9" x2="1450.7" y2="1632.9" stroke="#262626" stroke-width="1" stroke-opacity="0.7"/>
<text x="1456.2" y="1637.4" font-size="12.4" text-anchor="start" fill="#262626">20</text>
<line x1="1446.7" y1="1680.9" x2="1450.7" y2="1680.9" stroke="#262626" stroke-width="1" stroke-opacity="0.7"/>
<text x="1456.2" y="1685.4" font-size="12.4" text-anchor="start" fill="#262626">15</text>
<line x1="1446.7" y1="1728.9" x2="1450.7" y2="1728.9" stroke="#262626" stroke-width="1" stroke-opacity="0.7"/>
<text x="1456.2" y="1733.4" font-size="12.4" text-anchor="start" fill="#262626">10</text>
<line x1="1446.7" y1="1776.9" x2="1450.7" y2="1776.9" stroke="#262626" stroke-width="1" stroke-opacity="0.7"/>
<text x="1456.2" y="1781.4" font-size="12.4" text-anchor="start" fill="#262626">5</text>
<line x1="1446.7" y1="1824.9" x2="1450.7" y2="1824.9" stroke="#262626" stroke-width="1" stroke-opacity="0.7"/>
<text x="1456.2" y="1829.4" font-size="12.4" text-anchor="start" fill="#262626">0</text>
<text x="1490" y="1584.9" font-size="12.8" text-anchor="middle" fill="#262626" transform="rotate(-90 1490 1584.9)">Generalised Spectrum P<tspan font-size="10" dy="3">I</tspan><tspan dy="-3">(t</tspan><tspan font-size="10" dy="3">d</tspan><tspan dy="-3">,f</tspan><tspan font-size="10" dy="3">D</tspan><tspan dy="-3">)&#160;&#160;&#160;[dB s</tspan><tspan font-size="10" dy="-6">-1</tspan><tspan dy="6"> Hz</tspan><tspan font-size="10" dy="-6">-1</tspan><tspan dy="6">]</tspan></text>
<text x="336.7" y="1933.8" font-size="30.3" text-anchor="middle" fill="#000" font-family="Liberation Mono, monospace">(f)</text>
<text x="1144" y="1933.8" font-size="30.3" text-anchor="middle" fill="#000" font-family="Liberation Mono, monospace">(l)</text>
<rect x="455.6" y="2011.2" width="610.4" height="479.6" fill="#fff" stroke="#262626" stroke-width="0.9" stroke-opacity="0.55"/>
<line x1="472.6" y1="2490.8" x2="472.6" y2="2484.8" stroke="#262626" stroke-width="1" stroke-opacity="0.6"/>
<line x1="472.6" y1="2011.2" x2="472.6" y2="2017.2" stroke="#262626" stroke-width="1" stroke-opacity="0.6"/>
<text x="460.1" y="2513.5" font-size="14" text-anchor="start" fill="#404040">10<tspan font-size="10.5" dy="-6.5">-3</tspan></text>
<line x1="538.7" y1="2490.8" x2="538.7" y2="2487.8" stroke="#262626" stroke-width="1" stroke-opacity="0.6"/>
<line x1="538.7" y1="2011.2" x2="538.7" y2="2014.2" stroke="#262626" stroke-width="1" stroke-opacity="0.6"/>
<line x1="577.3" y1="2490.8" x2="577.3" y2="2487.8" stroke="#262626" stroke-width="1" stroke-opacity="0.6"/>
<line x1="577.3" y1="2011.2" x2="577.3" y2="2014.2" stroke="#262626" stroke-width="1" stroke-opacity="0.6"/>
<line x1="604.8" y1="2490.8" x2="604.8" y2="2487.8" stroke="#262626" stroke-width="1" stroke-opacity="0.6"/>
<line x1="604.8" y1="2011.2" x2="604.8" y2="2014.2" stroke="#262626" stroke-width="1" stroke-opacity="0.6"/>
<line x1="626" y1="2490.8" x2="626" y2="2487.8" stroke="#262626" stroke-width="1" stroke-opacity="0.6"/>
<line x1="626" y1="2011.2" x2="626" y2="2014.2" stroke="#262626" stroke-width="1" stroke-opacity="0.6"/>
<line x1="643.4" y1="2490.8" x2="643.4" y2="2487.8" stroke="#262626" stroke-width="1" stroke-opacity="0.6"/>
<line x1="643.4" y1="2011.2" x2="643.4" y2="2014.2" stroke="#262626" stroke-width="1" stroke-opacity="0.6"/>
<line x1="658.1" y1="2490.8" x2="658.1" y2="2487.8" stroke="#262626" stroke-width="1" stroke-opacity="0.6"/>
<line x1="658.1" y1="2011.2" x2="658.1" y2="2014.2" stroke="#262626" stroke-width="1" stroke-opacity="0.6"/>
<line x1="670.8" y1="2490.8" x2="670.8" y2="2487.8" stroke="#262626" stroke-width="1" stroke-opacity="0.6"/>
<line x1="670.8" y1="2011.2" x2="670.8" y2="2014.2" stroke="#262626" stroke-width="1" stroke-opacity="0.6"/>
<line x1="682.1" y1="2490.8" x2="682.1" y2="2487.8" stroke="#262626" stroke-width="1" stroke-opacity="0.6"/>
<line x1="682.1" y1="2011.2" x2="682.1" y2="2014.2" stroke="#262626" stroke-width="1" stroke-opacity="0.6"/>
<line x1="692.1" y1="2490.8" x2="692.1" y2="2484.8" stroke="#262626" stroke-width="1" stroke-opacity="0.6"/>
<line x1="692.1" y1="2011.2" x2="692.1" y2="2017.2" stroke="#262626" stroke-width="1" stroke-opacity="0.6"/>
<text x="679.6" y="2513.5" font-size="14" text-anchor="start" fill="#404040">10<tspan font-size="10.5" dy="-6.5">-2</tspan></text>
<line x1="758.2" y1="2490.8" x2="758.2" y2="2487.8" stroke="#262626" stroke-width="1" stroke-opacity="0.6"/>
<line x1="758.2" y1="2011.2" x2="758.2" y2="2014.2" stroke="#262626" stroke-width="1" stroke-opacity="0.6"/>
<line x1="796.8" y1="2490.8" x2="796.8" y2="2487.8" stroke="#262626" stroke-width="1" stroke-opacity="0.6"/>
<line x1="796.8" y1="2011.2" x2="796.8" y2="2014.2" stroke="#262626" stroke-width="1" stroke-opacity="0.6"/>
<line x1="824.3" y1="2490.8" x2="824.3" y2="2487.8" stroke="#262626" stroke-width="1" stroke-opacity="0.6"/>
<line x1="824.3" y1="2011.2" x2="824.3" y2="2014.2" stroke="#262626" stroke-width="1" stroke-opacity="0.6"/>
<line x1="845.5" y1="2490.8" x2="845.5" y2="2487.8" stroke="#262626" stroke-width="1" stroke-opacity="0.6"/>
<line x1="845.5" y1="2011.2" x2="845.5" y2="2014.2" stroke="#262626" stroke-width="1" stroke-opacity="0.6"/>
<line x1="862.9" y1="2490.8" x2="862.9" y2="2487.8" stroke="#262626" stroke-width="1" stroke-opacity="0.6"/>
<line x1="862.9" y1="2011.2" x2="862.9" y2="2014.2" stroke="#262626" stroke-width="1" stroke-opacity="0.6"/>
<line x1="877.6" y1="2490.8" x2="877.6" y2="2487.8" stroke="#262626" stroke-width="1" stroke-opacity="0.6"/>
<line x1="877.6" y1="2011.2" x2="877.6" y2="2014.2" stroke="#262626" stroke-width="1" stroke-opacity="0.6"/>
<line x1="890.3" y1="2490.8" x2="890.3" y2="2487.8" stroke="#262626" stroke-width="1" stroke-opacity="0.6"/>
<line x1="890.3" y1="2011.2" x2="890.3" y2="2014.2" stroke="#262626" stroke-width="1" stroke-opacity="0.6"/>
<line x1="901.6" y1="2490.8" x2="901.6" y2="2487.8" stroke="#262626" stroke-width="1" stroke-opacity="0.6"/>
<line x1="901.6" y1="2011.2" x2="901.6" y2="2014.2" stroke="#262626" stroke-width="1" stroke-opacity="0.6"/>
<line x1="911.6" y1="2490.8" x2="911.6" y2="2484.8" stroke="#262626" stroke-width="1" stroke-opacity="0.6"/>
<line x1="911.6" y1="2011.2" x2="911.6" y2="2017.2" stroke="#262626" stroke-width="1" stroke-opacity="0.6"/>
<text x="899.1" y="2513.5" font-size="14" text-anchor="start" fill="#404040">10<tspan font-size="10.5" dy="-6.5">-1</tspan></text>
<line x1="977.7" y1="2490.8" x2="977.7" y2="2487.8" stroke="#262626" stroke-width="1" stroke-opacity="0.6"/>
<line x1="977.7" y1="2011.2" x2="977.7" y2="2014.2" stroke="#262626" stroke-width="1" stroke-opacity="0.6"/>
<line x1="1016.3" y1="2490.8" x2="1016.3" y2="2487.8" stroke="#262626" stroke-width="1" stroke-opacity="0.6"/>
<line x1="1016.3" y1="2011.2" x2="1016.3" y2="2014.2" stroke="#262626" stroke-width="1" stroke-opacity="0.6"/>
<line x1="1043.8" y1="2490.8" x2="1043.8" y2="2487.8" stroke="#262626" stroke-width="1" stroke-opacity="0.6"/>
<line x1="1043.8" y1="2011.2" x2="1043.8" y2="2014.2" stroke="#262626" stroke-width="1" stroke-opacity="0.6"/>
<line x1="462.6" y1="2490.8" x2="462.6" y2="2487.8" stroke="#262626" stroke-width="1" stroke-opacity="0.6"/>
<line x1="462.6" y1="2011.2" x2="462.6" y2="2014.2" stroke="#262626" stroke-width="1" stroke-opacity="0.6"/>
<line x1="455.6" y1="2011.2" x2="461.6" y2="2011.2" stroke="#262626" stroke-width="1" stroke-opacity="0.6"/>
<line x1="1066" y1="2011.2" x2="1060" y2="2011.2" stroke="#262626" stroke-width="1" stroke-opacity="0.6"/>
<text x="450.1" y="2016.2" font-size="14" text-anchor="end" fill="#404040">-20</text>
<line x1="455.6" y1="2071.2" x2="461.6" y2="2071.2" stroke="#262626" stroke-width="1" stroke-opacity="0.6"/>
<line x1="1066" y1="2071.2" x2="1060" y2="2071.2" stroke="#262626" stroke-width="1" stroke-opacity="0.6"/>
<text x="450.1" y="2076.2" font-size="14" text-anchor="end" fill="#404040">-30</text>
<line x1="455.6" y1="2131.2" x2="461.6" y2="2131.2" stroke="#262626" stroke-width="1" stroke-opacity="0.6"/>
<line x1="1066" y1="2131.2" x2="1060" y2="2131.2" stroke="#262626" stroke-width="1" stroke-opacity="0.6"/>
<text x="450.1" y="2136.2" font-size="14" text-anchor="end" fill="#404040">-40</text>
<line x1="455.6" y1="2191.2" x2="461.6" y2="2191.2" stroke="#262626" stroke-width="1" stroke-opacity="0.6"/>
<line x1="1066" y1="2191.2" x2="1060" y2="2191.2" stroke="#262626" stroke-width="1" stroke-opacity="0.6"/>
<text x="450.1" y="2196.2" font-size="14" text-anchor="end" fill="#404040">-50</text>
<line x1="455.6" y1="2251.2" x2="461.6" y2="2251.2" stroke="#262626" stroke-width="1" stroke-opacity="0.6"/>
<line x1="1066" y1="2251.2" x2="1060" y2="2251.2" stroke="#262626" stroke-width="1" stroke-opacity="0.6"/>
<text x="450.1" y="2256.2" font-size="14" text-anchor="end" fill="#404040">-60</text>
<line x1="455.6" y1="2311.2" x2="461.6" y2="2311.2" stroke="#262626" stroke-width="1" stroke-opacity="0.6"/>
<line x1="1066" y1="2311.2" x2="1060" y2="2311.2" stroke="#262626" stroke-width="1" stroke-opacity="0.6"/>
<text x="450.1" y="2316.2" font-size="14" text-anchor="end" fill="#404040">-70</text>
<line x1="455.6" y1="2371.2" x2="461.6" y2="2371.2" stroke="#262626" stroke-width="1" stroke-opacity="0.6"/>
<line x1="1066" y1="2371.2" x2="1060" y2="2371.2" stroke="#262626" stroke-width="1" stroke-opacity="0.6"/>
<text x="450.1" y="2376.2" font-size="14" text-anchor="end" fill="#404040">-80</text>
<line x1="455.6" y1="2431.2" x2="461.6" y2="2431.2" stroke="#262626" stroke-width="1" stroke-opacity="0.6"/>
<line x1="1066" y1="2431.2" x2="1060" y2="2431.2" stroke="#262626" stroke-width="1" stroke-opacity="0.6"/>
<text x="450.1" y="2436.2" font-size="14" text-anchor="end" fill="#404040">-90</text>
<line x1="455.6" y1="2491.2" x2="461.6" y2="2491.2" stroke="#262626" stroke-width="1" stroke-opacity="0.6"/>
<line x1="1066" y1="2491.2" x2="1060" y2="2491.2" stroke="#262626" stroke-width="1" stroke-opacity="0.6"/>
<text x="450.1" y="2496.2" font-size="14" text-anchor="end" fill="#404040">-100</text>
<text x="760.8" y="2533.5" font-size="15.4" text-anchor="middle" fill="#404040">Temporal Frequency <tspan font-style="italic" font-family="DejaVu Serif, serif" font-size="13">&#957;</tspan> [Hz]</text>
<text x="406" y="2255" font-size="15.4" text-anchor="middle" fill="#404040" transform="rotate(-90 406 2255)">Power Spectral Density &#934;<tspan font-size="11" dy="3">I</tspan><tspan dy="-3">(</tspan><tspan font-style="italic" font-family="DejaVu Serif, serif" font-size="13.5">&#957;</tspan>)&#160;&#160;&#160;[dB Hz<tspan font-size="11" dy="-6">-1</tspan><tspan dy="6">]</tspan></text>
<path d="M455.2 2203.8L521.3 2134.2L559.9 2101.2L587.4 2103.6L608.6 2106.6L626.0 2106.0L640.7 2104.8L653.4 2101.8L664.7 2099.4L674.7 2092.8L683.8 2085.6L692.1 2084.4L699.7 2083.2L706.8 2080.2L713.4 2077.8L719.5 2077.2L725.3 2077.2L730.8 2074.2L735.9 2070.6L740.8 2077.2L745.4 2083.2L749.9 2085.0L758.6 2085.7L767.1 2081.4L771.4 2082.9L777.1 2090.7L788.5 2085.0L794.2 2088.6L799.9 2098.5L805.6 2097.8L811.3 2104.3L818.5 2120.7L822.8 2117.8L828.5 2122.1L837.0 2121.4L852.7 2141.3L856.3 2152.8L859.8 2147.0L867.0 2159.9L872.7 2184.1L876.2 2179.9L878.4 2188.4L884.8 2197.0L889.1 2215.5L892.7 2216.9L897.6 2234.1L900.5 2237.6L903.4 2219.8L909.8 2215.5L914.1 2241.2L916.9 2282.6L919.0 2262.6L923.3 2248.3L927.6 2256.9L931.9 2289.7L934.7 2276.9L936.2 2272.0L937.4 2272.0L938.5 2268.6L939.7 2264.2L940.8 2254.2L942.0 2251.2L943.1 2252.6L944.3 2248.4L945.4 2257.9L946.6 2264.5L947.7 2270.6L948.9 2273.6L950.0 2267.4L951.2 2271.5L952.3 2265.4L953.5 2260.6L954.6 2249.8L955.8 2251.9L956.9 2257.8L958.1 2262.0L959.2 2267.8L960.4 2268.7L961.5 2277.1L962.7 2280.0L963.8 2293.1L965.0 2301.9L966.1 2300.2L967.3 2311.5L968.4 2304.5L969.6 2305.2L970.7 2289.2L971.9 2282.5L973.0 2278.7L974.2 2274.1L975.3 2280.6L976.5 2281.1L977.6 2279.8L978.8 2279.7L979.9 2285.1L981.1 2300.1L982.2 2293.9L983.4 2306.2L984.5 2313.3L985.7 2307.2L986.8 2311.0L988.0 2313.1L989.1 2287.7L990.3 2297.4L991.4 2304.0L992.6 2305.0L993.7 2318.2L994.9 2320.1L996.0 2310.6L997.2 2323.2L998.3 2321.1L999.5 2321.6L1000.6 2323.4L1001.8 2315.8L1002.9 2319.2L1004.1 2317.9L1005.2 2336.5L1006.4 2334.8L1007.5 2331.1L1008.7 2321.7L1009.8 2322.2L1011.0 2327.7L1012.1 2341.5L1013.3 2324.4L1014.4 2330.7L1015.6 2343.5L1016.7 2348.9L1017.9 2341.8L1019.0 2325.1L1020.2 2319.6L1021.3 2341.5L1022.5 2344.1L1023.6 2344.1L1024.8 2346.1L1025.9 2338.2L1027.1 2338.8L1028.2 2345.7L1029.4 2353.1L1030.5 2359.4L1031.7 2346.7L1032.8 2339.2L1034.0 2341.1L1035.1 2331.9L1036.3 2352.4L1037.4 2353.9L1038.6 2354.8L1039.7 2341.8L1040.9 2350.0L1042.0 2359.1L1043.2 2343.4L1044.3 2353.4L1045.5 2355.0L1046.6 2335.2L1047.8 2347.0L1048.9 2334.9L1050.1 2331.4L1051.2 2341.1L1052.4 2350.0L1053.5 2353.7L1054.7 2366.5L1055.8 2353.2L1057.0 2352.2L1058.1 2358.5L1059.3 2349.9L1060.4 2342.0L1061.6 2350.5L1062.7 2357.6L1063.9 2352.2L1065.0 2352.6" fill="none" stroke="#000000" stroke-width="1.15" stroke-opacity="0.5" stroke-linejoin="round"/>
<path d="M455.2 2172.6L521.3 2119.2L559.9 2094.0L587.4 2080.8L608.6 2068.8L626.0 2056.8L640.7 2047.8L653.4 2046.6L664.7 2045.4L674.7 2044.8L683.8 2043.6L692.1 2043.0L699.7 2043.0L706.8 2045.4L713.4 2049.6L719.5 2059.8L725.3 2071.8L730.8 2076.6L735.9 2080.8L740.8 2088.6L745.4 2097.0L749.9 2099.4L754.3 2100.7L764.3 2095.7L771.4 2087.1L778.5 2077.1L792.8 2062.9L802.8 2064.3L812.8 2080.0L821.3 2084.3L827.0 2094.3L829.9 2094.3L834.2 2102.8L841.3 2106.4L848.4 2110.0L852.7 2131.4L856.3 2141.3L862.7 2141.3L868.4 2148.5L874.1 2160.6L877.0 2154.2L882.7 2162.7L885.5 2175.6L890.5 2175.6L893.4 2165.6L896.9 2179.9L901.2 2184.1L906.9 2179.9L912.6 2188.4L916.9 2208.4L919.0 2215.5L923.3 2218.4L927.6 2236.9L930.5 2241.2L932.6 2236.9L934.7 2243.3L936.2 2234.9L937.4 2232.8L938.5 2230.5L939.7 2231.9L940.8 2224.7L942.0 2227.7L943.1 2228.2L944.3 2239.6L945.4 2253.5L946.6 2265.2L947.7 2239.1L948.9 2241.5L950.0 2244.7L951.2 2248.5L952.3 2253.5L953.5 2254.9L954.6 2259.5L955.8 2263.6L956.9 2264.7L958.1 2271.1L959.2 2276.2L960.4 2287.4L961.5 2285.3L962.7 2285.2L963.8 2288.2L965.0 2292.6L966.1 2290.2L967.3 2292.2L968.4 2302.8L969.6 2316.8L970.7 2297.6L971.9 2298.4L973.0 2305.6L974.2 2309.8L975.3 2312.4L976.5 2298.3L977.6 2293.0L978.8 2283.1L979.9 2276.8L981.1 2291.3L982.2 2282.4L983.4 2279.4L984.5 2285.8L985.7 2289.5L986.8 2290.3L988.0 2277.0L989.1 2288.2L990.3 2295.7L991.4 2284.8L992.6 2293.8L993.7 2304.1L994.9 2308.8L996.0 2316.6L997.2 2300.3L998.3 2306.6L999.5 2306.3L1000.6 2310.7L1001.8 2312.7L1002.9 2294.5L1004.1 2314.6L1005.2 2303.0L1006.4 2315.6L1007.5 2311.6L1008.7 2324.7L1009.8 2330.4L1011.0 2324.2L1012.1 2326.5L1013.3 2332.5L1014.4 2333.0L1015.6 2335.5L1016.7 2346.1L1017.9 2340.3L1019.0 2330.1L1020.2 2341.8L1021.3 2320.5L1022.5 2330.1L1023.6 2323.4L1024.8 2328.2L1025.9 2334.2L1027.1 2334.9L1028.2 2339.8L1029.4 2330.8L1030.5 2332.7L1031.7 2345.2L1032.8 2339.1L1034.0 2338.0L1035.1 2334.4L1036.3 2346.7L1037.4 2342.8L1038.6 2345.1L1039.7 2333.9L1040.9 2342.1L1042.0 2339.8L1043.2 2352.8L1044.3 2360.4L1045.5 2342.8L1046.6 2349.8L1047.8 2341.6L1048.9 2330.5L1050.1 2322.1L1051.2 2345.2L1052.4 2343.9L1053.5 2347.5L1054.7 2358.5L1055.8 2355.1L1057.0 2357.1L1058.1 2341.0L1059.3 2348.9L1060.4 2348.3L1061.6 2345.9L1062.7 2335.4L1063.9 2336.9L1065.0 2351.0" fill="none" stroke="#ff0000" stroke-width="1.15" stroke-opacity="0.5" stroke-linejoin="round"/>
<path d="M455.2 2118.6L521.3 2086.8L559.9 2067.6L587.4 2059.8L608.6 2053.8L626.0 2051.4L640.7 2049.6L653.4 2047.8L664.7 2046.6L674.7 2049.6L683.8 2052.0L692.1 2052.6L699.7 2052.6L706.8 2063.4L713.4 2073.0L719.5 2080.8L725.3 2088.6L730.8 2103.6L735.9 2123.4L740.8 2133.6L745.4 2142.0L749.9 2151.0L757.1 2165.6L764.3 2175.6L770.0 2179.1L778.5 2174.9L787.8 2171.3L795.6 2179.9L804.2 2185.6L808.5 2201.3L813.5 2211.2L818.5 2192.7L825.6 2182.7L832.7 2187.0L837.0 2197.0L841.3 2215.5L847.0 2230.5L854.1 2226.9L862.7 2229.8L867.0 2241.2L872.7 2255.5L879.1 2276.9L882.7 2269.7L887.7 2259.0L892.7 2265.4L898.4 2284.0L901.2 2285.4L905.5 2266.9L909.8 2259.0L914.1 2265.4L917.6 2286.8L922.6 2325.4L926.9 2322.5L929.7 2299.7L934.0 2279.7L935.5 2281.9L936.7 2283.8L937.8 2289.1L939.0 2286.5L940.1 2282.3L941.3 2289.8L942.4 2286.9L943.6 2297.6L944.7 2297.9L945.9 2296.7L947.0 2300.8L948.2 2306.1L949.3 2305.2L950.5 2312.4L951.6 2311.0L952.8 2320.4L953.9 2327.2L955.1 2332.9L956.2 2327.9L957.4 2341.2L958.5 2333.1L959.7 2339.1L960.8 2335.1L962.0 2352.2L963.1 2340.2L964.3 2347.8L965.4 2349.3L966.6 2356.3L967.7 2358.9L968.9 2370.0L970.0 2378.0L971.2 2362.2L972.3 2360.8L973.5 2359.5L974.6 2348.4L975.8 2342.5L976.9 2349.0L978.1 2361.9L979.2 2344.4L980.4 2353.3L981.5 2364.3L982.7 2362.3L983.8 2356.3L985.0 2361.5L986.1 2359.9L987.3 2358.0L988.4 2357.4L989.6 2362.9L990.7 2372.9L991.9 2361.5L993.0 2358.2L994.2 2358.8L995.3 2355.1L996.5 2366.6L997.6 2360.7L998.8 2373.1L999.9 2355.6L1001.1 2376.0L1002.2 2370.7L1003.4 2362.2L1004.5 2381.4L1005.7 2375.0L1006.8 2361.9L1008.0 2371.9L1009.1 2380.7L1010.3 2376.0L1011.4 2385.2L1012.6 2385.4L1013.7 2384.3L1014.9 2381.3L1016.0 2387.8L1017.2 2382.5L1018.3 2380.5L1019.5 2362.2L1020.6 2382.5L1021.8 2384.8L1022.9 2372.5L1024.1 2368.0L1025.2 2381.7L1026.4 2352.6L1027.5 2365.0L1028.7 2380.7L1029.8 2361.6L1031.0 2377.3L1032.1 2390.1L1033.3 2379.3L1034.4 2383.5L1035.6 2385.3L1036.7 2372.1L1037.9 2377.2L1039.0 2379.3L1040.2 2382.5L1041.3 2375.9L1042.5 2374.2L1043.6 2367.7L1044.8 2371.2L1045.9 2378.8L1047.1 2372.1L1048.2 2364.3L1049.4 2363.2L1050.5 2386.6L1051.7 2374.8L1052.8 2371.0L1054.0 2348.1L1055.1 2370.2L1056.3 2368.9L1057.4 2377.0L1058.6 2367.9L1059.7 2363.2L1060.9 2365.9L1062.0 2347.2L1063.2 2367.4L1064.3 2364.5L1065.5 2359.4" fill="none" stroke="#00e040" stroke-width="1.15" stroke-opacity="0.5" stroke-linejoin="round"/>
<path d="M455.2 2278.2L521.3 2158.8L559.9 2091.6L587.4 2087.4L608.6 2085.6L626.0 2079.6L640.7 2073.0L653.4 2073.6L664.7 2073.0L674.7 2073.6L683.8 2074.2L692.1 2076.6L699.7 2078.4L706.8 2081.4L713.4 2083.2L719.5 2090.4L725.3 2098.2L730.8 2100.6L735.9 2100.0L740.8 2110.2L745.4 2119.2L749.9 2124.6L757.1 2128.5L764.3 2131.4L768.5 2136.3L775.0 2137.8L781.4 2132.8L789.9 2122.8L798.5 2121.4L804.9 2119.9L807.1 2124.2L812.8 2148.5L818.5 2151.3L822.8 2159.9L825.6 2182.7L827.7 2192.7L835.6 2197.0L842.7 2201.3L847.0 2215.5L852.7 2221.2L859.8 2219.8L865.5 2222.7L868.4 2244.1L872.7 2268.3L878.4 2266.9L884.1 2279.7L886.9 2289.7L890.5 2275.4L895.5 2272.6L899.8 2279.7L904.1 2286.8L906.9 2301.1L909.8 2322.5L915.5 2315.4L921.2 2302.5L924.8 2302.5L928.3 2329.6L932.6 2343.9L935.4 2349.6L936.9 2352.0L938.1 2349.4L939.2 2333.6L940.4 2331.7L941.5 2331.0L942.7 2329.3L943.8 2333.0L945.0 2336.6L946.1 2357.1L947.3 2358.4L948.4 2344.6L949.6 2338.9L950.7 2350.2L951.9 2341.7L953.0 2341.9L954.2 2337.5L955.3 2336.5L956.5 2352.4L957.6 2346.0L958.8 2364.0L959.9 2377.5L961.1 2388.5L962.2 2376.2L963.4 2377.0L964.5 2377.9L965.7 2373.9L966.8 2376.8L968.0 2376.3L969.1 2374.7L970.3 2386.6L971.4 2383.2L972.6 2378.4L973.7 2382.7L974.9 2388.3L976.0 2385.1L977.2 2385.2L978.3 2381.4L979.5 2380.7L980.6 2375.6L981.8 2364.3L982.9 2381.3L984.1 2388.9L985.2 2385.3L986.4 2381.6L987.5 2389.2L988.7 2375.9L989.8 2366.6L991.0 2383.2L992.1 2373.3L993.3 2387.4L994.4 2370.7L995.6 2357.3L996.7 2372.0L997.9 2396.0L999.0 2378.8L1000.2 2370.3L1001.3 2376.2L1002.5 2387.7L1003.6 2386.3L1004.8 2382.3L1005.9 2392.9L1007.1 2384.7L1008.2 2377.0L1009.4 2381.5L1010.5 2391.2L1011.7 2392.1L1012.8 2399.6L1014.0 2387.7L1015.1 2403.2L1016.3 2418.2L1017.4 2416.0L1018.6 2424.7L1019.7 2403.9L1020.9 2393.8L1022.0 2384.5L1023.2 2410.2L1024.3 2399.2L1025.5 2387.0L1026.6 2390.5L1027.8 2413.9L1028.9 2385.2L1030.1 2393.7L1031.2 2392.2L1032.4 2380.9L1033.5 2367.9L1034.7 2377.6L1035.8 2379.8L1037.0 2388.9L1038.1 2387.9L1039.3 2383.3L1040.4 2392.9L1041.6 2392.2L1042.7 2391.4L1043.9 2390.4L1045.0 2386.2L1046.2 2393.2L1047.3 2376.1L1048.5 2378.5L1049.6 2382.7L1050.8 2368.1L1051.9 2376.1L1053.1 2361.2L1054.2 2372.5L1055.4 2383.0L1056.5 2382.3L1057.7 2376.0L1058.8 2373.6L1060.0 2362.9L1061.1 2394.9L1062.3 2386.0L1063.4 2394.1L1064.6 2394.8L1065.7 2430.4" fill="none" stroke="#00f0ff" stroke-width="1.15" stroke-opacity="0.5" stroke-linejoin="round"/>
<path d="M455.2 2158.8L521.3 2132.4L559.9 2120.4L587.4 2109.0L608.6 2100.6L626.0 2091.6L640.7 2083.8L653.4 2084.4L664.7 2085.6L674.7 2086.2L683.8 2086.8L692.1 2087.4L699.7 2088.0L706.8 2094.0L713.4 2099.4L719.5 2119.2L725.3 2136.6L730.8 2143.2L735.9 2148.6L740.8 2148.0L745.4 2148.0L749.9 2153.4L762.8 2161.3L769.3 2184.9L776.4 2192.7L782.8 2216.9L794.2 2212.0L799.9 2216.9L813.5 2241.2L818.2 2259.0L822.8 2248.3L827.7 2253.3L832.7 2252.6L837.0 2256.9L841.3 2269.7L848.4 2279.7L852.7 2285.4L856.3 2301.8L864.1 2284.7L872.7 2293.3L875.5 2292.6L877.0 2302.5L879.8 2303.3L885.5 2322.5L889.1 2311.1L892.7 2307.5L895.5 2311.1L900.5 2352.5L906.9 2323.9L912.6 2326.8L915.5 2343.9L920.5 2358.2L923.3 2348.2L926.9 2346.8L930.5 2361.0L934.0 2341.1L936.2 2335.4L937.3 2344.0L938.5 2345.0L939.6 2335.0L940.8 2350.1L941.9 2362.7L943.1 2353.7L944.2 2354.1L945.4 2358.2L946.5 2361.0L947.7 2357.7L948.8 2363.1L950.0 2362.6L951.1 2363.1L952.3 2361.9L953.4 2365.0L954.6 2361.6L955.7 2348.1L956.9 2354.7L958.0 2352.8L959.2 2354.3L960.3 2362.7L961.5 2365.1L962.6 2370.3L963.8 2357.0L964.9 2358.6L966.1 2366.4L967.2 2363.7L968.4 2361.4L969.5 2362.1L970.7 2355.0L971.8 2368.6L973.0 2369.4L974.1 2369.1L975.3 2367.5L976.4 2375.6L977.6 2356.2L978.7 2375.1L979.9 2386.5L981.0 2374.8L982.2 2392.3L983.3 2394.0L984.5 2382.5L985.6 2394.8L986.8 2396.4L987.9 2405.6L989.1 2405.8L990.2 2391.4L991.4 2375.6L992.5 2373.4L993.7 2365.6L994.8 2375.0L996.0 2375.4L997.1 2370.6L998.3 2369.2L999.4 2382.3L1000.6 2383.3L1001.7 2384.3L1002.9 2396.4L1004.0 2395.6L1005.2 2403.5L1006.3 2409.8L1007.5 2398.3L1008.6 2416.5L1009.8 2386.4L1010.9 2392.8L1012.1 2377.6L1013.2 2380.2L1014.4 2342.5L1015.5 2351.2L1016.7 2374.3L1017.8 2391.7L1019.0 2416.1L1020.1 2396.1L1021.3 2402.8L1022.4 2396.2L1023.6 2396.0L1024.7 2390.1L1025.9 2382.2L1027.0 2386.3L1028.2 2372.0L1029.3 2397.5L1030.5 2382.9L1031.6 2399.5L1032.8 2421.5L1033.9 2405.6L1035.1 2412.9L1036.2 2426.6L1037.4 2404.5L1038.5 2385.1L1039.7 2395.5L1040.8 2417.0L1042.0 2436.7L1043.1 2399.9L1044.3 2403.8L1045.4 2406.1L1046.6 2394.3L1047.7 2399.6L1048.9 2396.4L1050.0 2415.2L1051.2 2397.4L1052.3 2411.0L1053.5 2401.8L1054.6 2401.1L1055.8 2415.1L1056.9 2421.8L1058.1 2408.2L1059.2 2399.7L1060.4 2410.7L1061.5 2400.4L1062.7 2401.2L1063.8 2409.6L1065.0 2388.3" fill="none" stroke="#1010b0" stroke-width="1.15" stroke-opacity="0.5" stroke-linejoin="round"/>
<path d="M455.2 2197.2L521.3 2130.0L559.9 2097.0L587.4 2088.6L608.6 2080.8L626.0 2078.4L640.7 2076.6L653.4 2074.8L664.7 2073.6L674.7 2075.4L683.8 2077.2L692.1 2083.2L699.7 2086.2L706.8 2091.6L713.4 2097.0L719.5 2102.4L725.3 2108.4L730.8 2113.8L735.9 2120.4L740.8 2127.0L745.4 2134.2L749.9 2143.2L755.7 2155.6L762.8 2162.7L771.4 2166.3L778.5 2167.7L787.8 2166.3L794.2 2174.2L799.9 2187.0L804.2 2213.4L809.2 2212.7L813.5 2239.8L818.5 2226.2L825.6 2224.8L832.7 2231.2L838.4 2244.1L847.0 2249.0L851.3 2258.3L858.4 2284.0L864.1 2286.8L871.3 2298.3L875.5 2316.8L879.1 2333.9L881.2 2331.1L885.5 2345.3L890.5 2333.9L896.9 2322.5L903.4 2316.1L908.3 2325.4L912.6 2346.8L916.2 2348.2L921.2 2328.2L925.5 2341.1L929.7 2355.3L932.6 2351.0L935.4 2366.7L936.9 2365.3L938.1 2372.1L939.2 2361.3L940.4 2362.0L941.5 2360.5L942.7 2366.9L943.8 2363.6L945.0 2383.3L946.1 2385.7L947.3 2375.6L948.4 2370.8L949.6 2366.7L950.7 2378.2L951.9 2366.2L953.0 2365.2L954.2 2360.5L955.3 2358.4L956.5 2349.1L957.6 2352.9L958.8 2340.1L959.9 2352.2L961.1 2358.3L962.2 2362.9L963.4 2361.4L964.5 2357.0L965.7 2362.6L966.8 2355.4L968.0 2369.3L969.1 2360.8L970.3 2352.0L971.4 2353.6L972.6 2356.1L973.7 2358.5L974.9 2368.2L976.0 2376.4L977.2 2379.6L978.3 2381.2L979.5 2396.1L980.6 2372.0L981.8 2379.7L982.9 2405.8L984.1 2365.0L985.2 2378.3L986.4 2385.7L987.5 2386.7L988.7 2391.1L989.8 2387.6L991.0 2395.3L992.1 2394.8L993.3 2403.6L994.4 2378.6L995.6 2383.5L996.7 2387.2L997.9 2373.7L999.0 2369.4L1000.2 2380.6L1001.3 2367.3L1002.5 2377.0L1003.6 2376.2L1004.8 2370.5L1005.9 2370.5L1007.1 2363.2L1008.2 2349.7L1009.4 2361.4L1010.5 2380.7L1011.7 2386.8L1012.8 2398.3L1014.0 2401.5L1015.1 2382.4L1016.3 2391.6L1017.4 2398.1L1018.6 2371.9L1019.7 2373.8L1020.9 2372.7L1022.0 2412.1L1023.2 2425.2L1024.3 2414.8L1025.5 2383.7L1026.6 2386.5L1027.8 2388.2L1028.9 2373.9L1030.1 2404.5L1031.2 2401.3L1032.4 2379.1L1033.5 2401.9L1034.7 2392.9L1035.8 2396.9L1037.0 2395.1L1038.1 2377.1L1039.3 2387.5L1040.4 2401.7L1041.6 2382.0L1042.7 2376.8L1043.9 2372.6L1045.0 2372.7L1046.2 2385.6L1047.3 2396.6L1048.5 2384.1L1049.6 2381.3L1050.8 2398.1L1051.9 2372.1L1053.1 2369.6L1054.2 2381.8L1055.4 2385.6L1056.5 2375.1L1057.7 2377.3L1058.8 2394.1L1060.0 2397.3L1061.1 2386.9L1062.3 2398.3L1063.4 2393.1L1064.6 2400.0L1065.7 2392.7" fill="none" stroke="#ff00ff" stroke-width="1.15" stroke-opacity="0.5" stroke-linejoin="round"/>
<text x="746" y="2591" font-size="36.5" text-anchor="middle" fill="#000">(m)</text>
</svg>
</div>
</body></html>
